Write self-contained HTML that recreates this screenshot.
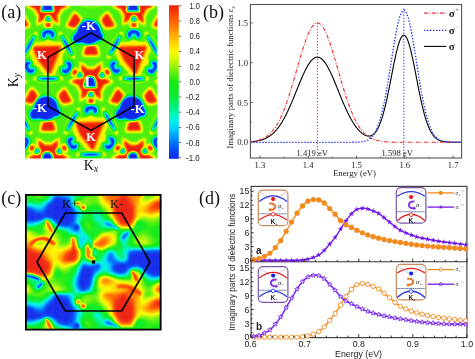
<!DOCTYPE html><html><head><meta charset="utf-8"><style>html,body{margin:0;padding:0;background:#fff;}svg{display:block;will-change:transform}.sr{font-family:"Liberation Serif",serif}.sb{font-family:"Liberation Serif",serif;font-size:8.6px;fill:#222}.ss{font-family:"Liberation Sans",sans-serif;font-size:8.8px;fill:#222}.ssi{font-family:"Liberation Sans",sans-serif;font-style:italic;fill:#222}</style></head><body>
<svg width="475" height="359" viewBox="0 0 475 359">
<defs>
<filter id="cmap" filterUnits="userSpaceOnUse" x="0" y="0" width="475" height="359" color-interpolation-filters="sRGB"><feGaussianBlur stdDeviation="1.3"/><feComponentTransfer><feFuncR type="table" tableValues="0.078 0.020 0.000 0.000 0.000 0.000 0.000 0.000 0.039 0.059 0.078 0.314 0.588 0.824 0.980 1.000 1.000 1.000 1.000 0.973 0.933"/><feFuncG type="table" tableValues="0.157 0.275 0.431 0.627 0.824 0.941 0.961 0.941 0.933 0.922 0.922 0.941 0.961 0.980 0.980 0.843 0.686 0.529 0.373 0.243 0.125"/><feFuncB type="table" tableValues="0.922 0.961 0.980 0.980 0.980 0.902 0.667 0.431 0.235 0.118 0.078 0.059 0.039 0.020 0.000 0.000 0.000 0.000 0.000 0.031 0.063"/><feFuncA type="identity"/></feComponentTransfer></filter>
<clipPath id="clipA"><rect x="25" y="5.8" width="132.4" height="152.6"/></clipPath>
<clipPath id="clipB"><rect x="250.4" y="4.5" width="211.2" height="153.5"/></clipPath>
<clipPath id="clipC"><rect x="25" y="194" width="136.5" height="136"/></clipPath>
<linearGradient id="cbar" x1="0" y1="0" x2="0" y2="1"><stop offset="0.000" stop-color="rgb(238,32,16)"/><stop offset="0.050" stop-color="rgb(248,62,8)"/><stop offset="0.100" stop-color="rgb(255,95,0)"/><stop offset="0.150" stop-color="rgb(255,135,0)"/><stop offset="0.200" stop-color="rgb(255,175,0)"/><stop offset="0.250" stop-color="rgb(255,215,0)"/><stop offset="0.300" stop-color="rgb(250,250,0)"/><stop offset="0.350" stop-color="rgb(210,250,5)"/><stop offset="0.400" stop-color="rgb(150,245,10)"/><stop offset="0.450" stop-color="rgb(80,240,15)"/><stop offset="0.500" stop-color="rgb(20,235,20)"/><stop offset="0.550" stop-color="rgb(15,235,30)"/><stop offset="0.600" stop-color="rgb(10,238,60)"/><stop offset="0.650" stop-color="rgb(0,240,110)"/><stop offset="0.700" stop-color="rgb(0,245,170)"/><stop offset="0.750" stop-color="rgb(0,240,230)"/><stop offset="0.800" stop-color="rgb(0,210,250)"/><stop offset="0.850" stop-color="rgb(0,160,250)"/><stop offset="0.900" stop-color="rgb(0,110,250)"/><stop offset="0.950" stop-color="rgb(5,70,245)"/><stop offset="1.000" stop-color="rgb(20,40,235)"/></linearGradient>
<filter id="blurC" filterUnits="userSpaceOnUse" x="0" y="170" width="200" height="189" color-interpolation-filters="sRGB"><feGaussianBlur stdDeviation="1.4"/></filter>
</defs>
<g clip-path="url(#clipA)"><g filter="url(#cmap)">
<rect x="0" y="-20" width="200" height="200" fill="rgb(139,139,139)"/>
<g transform="translate(0,-1.797) scale(1.0,1.022)">
<polygon points="-60.06,43.71 -18.01,42.87 -34.25,82.77 -52.52,61.35" fill="rgb(186,186,186)"/>
<polygon points="-60.06,192.21 -18.01,191.37 -34.25,231.27 -52.52,209.85" fill="rgb(186,186,186)"/>
<polygon points="-17.20,117.96 24.85,117.12 8.61,157.02 -9.66,135.60" fill="rgb(186,186,186)"/>
<polygon points="25.67,43.71 67.72,42.87 51.48,82.77 33.21,61.35" fill="rgb(186,186,186)"/>
<polygon points="25.67,192.21 67.72,191.37 51.48,231.27 33.21,209.85" fill="rgb(186,186,186)"/>
<polygon points="68.54,117.96 110.59,117.12 94.35,157.02 76.08,135.60" fill="rgb(186,186,186)"/>
<polygon points="111.41,43.71 153.46,42.87 137.22,82.77 118.95,61.35" fill="rgb(186,186,186)"/>
<polygon points="111.41,192.21 153.46,191.37 137.22,231.27 118.95,209.85" fill="rgb(186,186,186)"/>
<polygon points="154.28,117.96 196.33,117.12 180.09,157.02 161.82,135.60" fill="rgb(186,186,186)"/>
<polygon points="197.14,43.71 239.19,42.87 222.95,82.77 204.68,61.35" fill="rgb(186,186,186)"/>
<polygon points="197.14,192.21 239.19,191.37 222.95,231.27 204.68,209.85" fill="rgb(186,186,186)"/>
<polygon points="-37.60,35.95 -20.28,65.95 -54.93,65.95" fill="rgb(184,184,184)"/>
<polygon points="-37.60,184.45 -20.28,214.45 -54.93,214.45" fill="rgb(184,184,184)"/>
<polygon points="5.26,110.20 22.58,140.20 -12.06,140.20" fill="rgb(184,184,184)"/>
<polygon points="48.13,35.95 65.45,65.95 30.81,65.95" fill="rgb(184,184,184)"/>
<polygon points="48.13,184.45 65.45,214.45 30.81,214.45" fill="rgb(184,184,184)"/>
<polygon points="91.00,110.20 108.32,140.20 73.68,140.20" fill="rgb(184,184,184)"/>
<polygon points="133.87,35.95 151.19,65.95 116.55,65.95" fill="rgb(184,184,184)"/>
<polygon points="133.87,184.45 151.19,214.45 116.55,214.45" fill="rgb(184,184,184)"/>
<polygon points="176.74,110.20 194.06,140.20 159.42,140.20" fill="rgb(184,184,184)"/>
<polygon points="219.60,35.95 236.93,65.95 202.28,65.95" fill="rgb(184,184,184)"/>
<polygon points="219.60,184.45 236.93,214.45 202.28,214.45" fill="rgb(184,184,184)"/>
<path d="M-43.60,-16.75 Q-47.60,-16.75 -46.59,-20.62 L-45.12,-26.18 Q-44.10,-30.05 -40.10,-30.05 L-35.10,-30.05 Q-31.10,-30.05 -30.09,-26.18 L-28.62,-20.62 Q-27.60,-16.75 -31.60,-16.75 Z" fill="rgb(176,176,176)"/>
<path d="M-43.60,131.75 Q-47.60,131.75 -46.59,127.88 L-45.12,122.32 Q-44.10,118.45 -40.10,118.45 L-35.10,118.45 Q-31.10,118.45 -30.09,122.32 L-28.62,127.88 Q-27.60,131.75 -31.60,131.75 Z" fill="rgb(176,176,176)"/>
<path d="M-0.74,57.50 Q-4.74,57.50 -3.72,53.63 L-2.25,48.07 Q-1.24,44.20 2.76,44.20 L7.76,44.20 Q11.76,44.20 12.78,48.07 L14.25,53.63 Q15.26,57.50 11.26,57.50 Z" fill="rgb(176,176,176)"/>
<path d="M42.13,-16.75 Q38.13,-16.75 39.15,-20.62 L40.61,-26.18 Q41.63,-30.05 45.63,-30.05 L50.63,-30.05 Q54.63,-30.05 55.65,-26.18 L57.11,-20.62 Q58.13,-16.75 54.13,-16.75 Z" fill="rgb(176,176,176)"/>
<path d="M42.13,131.75 Q38.13,131.75 39.15,127.88 L40.61,122.32 Q41.63,118.45 45.63,118.45 L50.63,118.45 Q54.63,118.45 55.65,122.32 L57.11,127.88 Q58.13,131.75 54.13,131.75 Z" fill="rgb(176,176,176)"/>
<path d="M85.00,57.50 Q81.00,57.50 82.02,53.63 L83.48,48.07 Q84.50,44.20 88.50,44.20 L93.50,44.20 Q97.50,44.20 98.52,48.07 L99.98,53.63 Q101.00,57.50 97.00,57.50 Z" fill="rgb(176,176,176)"/>
<path d="M127.87,-16.75 Q123.87,-16.75 124.89,-20.62 L126.35,-26.18 Q127.37,-30.05 131.37,-30.05 L136.37,-30.05 Q140.37,-30.05 141.39,-26.18 L142.85,-20.62 Q143.87,-16.75 139.87,-16.75 Z" fill="rgb(176,176,176)"/>
<path d="M127.87,131.75 Q123.87,131.75 124.89,127.88 L126.35,122.32 Q127.37,118.45 131.37,118.45 L136.37,118.45 Q140.37,118.45 141.39,122.32 L142.85,127.88 Q143.87,131.75 139.87,131.75 Z" fill="rgb(176,176,176)"/>
<path d="M170.74,57.50 Q166.74,57.50 167.75,53.63 L169.22,48.07 Q170.24,44.20 174.24,44.20 L179.24,44.20 Q183.24,44.20 184.25,48.07 L185.72,53.63 Q186.74,57.50 182.74,57.50 Z" fill="rgb(176,176,176)"/>
<path d="M213.60,-16.75 Q209.60,-16.75 210.62,-20.62 L212.09,-26.18 Q213.10,-30.05 217.10,-30.05 L222.10,-30.05 Q226.10,-30.05 227.12,-26.18 L228.59,-20.62 Q229.60,-16.75 225.60,-16.75 Z" fill="rgb(176,176,176)"/>
<path d="M213.60,131.75 Q209.60,131.75 210.62,127.88 L212.09,122.32 Q213.10,118.45 217.10,118.45 L222.10,118.45 Q226.10,118.45 227.12,122.32 L228.59,127.88 Q229.60,131.75 225.60,131.75 Z" fill="rgb(176,176,176)"/>
<path d="M-13.65,14.35 Q-11.65,10.89 -8.81,13.71 L-4.72,17.76 Q-1.88,20.57 -3.88,24.03 L-6.38,28.37 Q-8.38,31.83 -12.24,30.78 L-17.79,29.26 Q-21.65,28.21 -19.65,24.75 Z" fill="rgb(176,176,176)"/>
<path d="M-13.65,162.85 Q-11.65,159.39 -8.81,162.21 L-4.72,166.26 Q-1.88,169.07 -3.88,172.53 L-6.38,176.87 Q-8.38,180.33 -12.24,179.28 L-17.79,177.76 Q-21.65,176.71 -19.65,173.25 Z" fill="rgb(176,176,176)"/>
<path d="M29.22,88.60 Q31.22,85.14 34.06,87.96 L38.15,92.01 Q40.99,94.82 38.99,98.28 L36.49,102.62 Q34.49,106.08 30.63,105.03 L25.08,103.51 Q21.22,102.46 23.22,99.00 Z" fill="rgb(176,176,176)"/>
<path d="M72.09,14.35 Q74.09,10.89 76.93,13.71 L81.02,17.76 Q83.86,20.57 81.86,24.03 L79.36,28.37 Q77.36,31.83 73.50,30.78 L67.95,29.26 Q64.09,28.21 66.09,24.75 Z" fill="rgb(176,176,176)"/>
<path d="M72.09,162.85 Q74.09,159.39 76.93,162.21 L81.02,166.26 Q83.86,169.07 81.86,172.53 L79.36,176.87 Q77.36,180.33 73.50,179.28 L67.95,177.76 Q64.09,176.71 66.09,173.25 Z" fill="rgb(176,176,176)"/>
<path d="M114.96,88.60 Q116.96,85.14 119.80,87.96 L123.88,92.01 Q126.73,94.82 124.73,98.28 L122.23,102.62 Q120.23,106.08 116.37,105.03 L110.82,103.51 Q106.96,102.46 108.96,99.00 Z" fill="rgb(176,176,176)"/>
<path d="M157.83,14.35 Q159.83,10.89 162.67,13.71 L166.75,17.76 Q169.59,20.57 167.59,24.03 L165.09,28.37 Q163.09,31.83 159.24,30.78 L153.69,29.26 Q149.83,28.21 151.83,24.75 Z" fill="rgb(176,176,176)"/>
<path d="M157.83,162.85 Q159.83,159.39 162.67,162.21 L166.75,166.26 Q169.59,169.07 167.59,172.53 L165.09,176.87 Q163.09,180.33 159.24,179.28 L153.69,177.76 Q149.83,176.71 151.83,173.25 Z" fill="rgb(176,176,176)"/>
<path d="M200.69,88.60 Q202.69,85.14 205.54,87.96 L209.62,92.01 Q212.46,94.82 210.46,98.28 L207.96,102.62 Q205.96,106.08 202.10,105.03 L196.55,103.51 Q192.69,102.46 194.69,99.00 Z" fill="rgb(176,176,176)"/>
<path d="M243.56,14.35 Q245.56,10.89 248.40,13.71 L252.49,17.76 Q255.33,20.57 253.33,24.03 L250.83,28.37 Q248.83,31.83 244.97,30.78 L239.42,29.26 Q235.56,28.21 237.56,24.75 Z" fill="rgb(176,176,176)"/>
<path d="M243.56,162.85 Q245.56,159.39 248.40,162.21 L252.49,166.26 Q255.33,169.07 253.33,172.53 L250.83,176.87 Q248.83,180.33 244.97,179.28 L239.42,177.76 Q235.56,176.71 237.56,173.25 Z" fill="rgb(176,176,176)"/>
<path d="M-55.56,24.75 Q-53.56,28.21 -57.42,29.26 L-62.97,30.78 Q-66.83,31.83 -68.83,28.37 L-71.33,24.03 Q-73.33,20.57 -70.49,17.76 L-66.40,13.71 Q-63.56,10.89 -61.56,14.35 Z" fill="rgb(176,176,176)"/>
<path d="M-55.56,173.25 Q-53.56,176.71 -57.42,177.76 L-62.97,179.28 Q-66.83,180.33 -68.83,176.87 L-71.33,172.53 Q-73.33,169.07 -70.49,166.26 L-66.40,162.21 Q-63.56,159.39 -61.56,162.85 Z" fill="rgb(176,176,176)"/>
<path d="M-12.69,99.00 Q-10.69,102.46 -14.55,103.51 L-20.10,105.03 Q-23.96,106.08 -25.96,102.62 L-28.46,98.28 Q-30.46,94.82 -27.62,92.01 L-23.54,87.96 Q-20.69,85.14 -18.69,88.60 Z" fill="rgb(176,176,176)"/>
<path d="M30.17,24.75 Q32.17,28.21 28.31,29.26 L22.76,30.78 Q18.91,31.83 16.91,28.37 L14.41,24.03 Q12.41,20.57 15.25,17.76 L19.33,13.71 Q22.17,10.89 24.17,14.35 Z" fill="rgb(176,176,176)"/>
<path d="M30.17,173.25 Q32.17,176.71 28.31,177.76 L22.76,179.28 Q18.91,180.33 16.91,176.87 L14.41,172.53 Q12.41,169.07 15.25,166.26 L19.33,162.21 Q22.17,159.39 24.17,162.85 Z" fill="rgb(176,176,176)"/>
<path d="M73.04,99.00 Q75.04,102.46 71.18,103.51 L65.63,105.03 Q61.77,106.08 59.77,102.62 L57.27,98.28 Q55.27,94.82 58.12,92.01 L62.20,87.96 Q65.04,85.14 67.04,88.60 Z" fill="rgb(176,176,176)"/>
<path d="M115.91,24.75 Q117.91,28.21 114.05,29.26 L108.50,30.78 Q104.64,31.83 102.64,28.37 L100.14,24.03 Q98.14,20.57 100.98,17.76 L105.07,13.71 Q107.91,10.89 109.91,14.35 Z" fill="rgb(176,176,176)"/>
<path d="M115.91,173.25 Q117.91,176.71 114.05,177.76 L108.50,179.28 Q104.64,180.33 102.64,176.87 L100.14,172.53 Q98.14,169.07 100.98,166.26 L105.07,162.21 Q107.91,159.39 109.91,162.85 Z" fill="rgb(176,176,176)"/>
<path d="M158.78,99.00 Q160.78,102.46 156.92,103.51 L151.37,105.03 Q147.51,106.08 145.51,102.62 L143.01,98.28 Q141.01,94.82 143.85,92.01 L147.94,87.96 Q150.78,85.14 152.78,88.60 Z" fill="rgb(176,176,176)"/>
<path d="M201.65,24.75 Q203.65,28.21 199.79,29.26 L194.24,30.78 Q190.38,31.83 188.38,28.37 L185.88,24.03 Q183.88,20.57 186.72,17.76 L190.81,13.71 Q193.65,10.89 195.65,14.35 Z" fill="rgb(176,176,176)"/>
<path d="M201.65,173.25 Q203.65,176.71 199.79,177.76 L194.24,179.28 Q190.38,180.33 188.38,176.87 L185.88,172.53 Q183.88,169.07 186.72,166.26 L190.81,162.21 Q193.65,159.39 195.65,162.85 Z" fill="rgb(176,176,176)"/>
<circle cx="-37.60" cy="7.75" r="15.50" fill="rgb(176,176,176)"/>
<circle cx="-37.60" cy="156.25" r="15.50" fill="rgb(176,176,176)"/>
<circle cx="5.26" cy="82.00" r="15.50" fill="rgb(176,176,176)"/>
<circle cx="48.13" cy="7.75" r="15.50" fill="rgb(176,176,176)"/>
<circle cx="48.13" cy="156.25" r="15.50" fill="rgb(176,176,176)"/>
<circle cx="91.00" cy="82.00" r="15.50" fill="rgb(176,176,176)"/>
<circle cx="133.87" cy="7.75" r="15.50" fill="rgb(176,176,176)"/>
<circle cx="133.87" cy="156.25" r="15.50" fill="rgb(176,176,176)"/>
<circle cx="176.74" cy="82.00" r="15.50" fill="rgb(176,176,176)"/>
<circle cx="219.60" cy="7.75" r="15.50" fill="rgb(176,176,176)"/>
<circle cx="219.60" cy="156.25" r="15.50" fill="rgb(176,176,176)"/>
<polygon points="-26.91,2.00 -19.94,4.02 -14.60,7.45 -19.94,10.88 -26.91,12.90" fill="rgb(176,176,176)"/>
<polygon points="-26.91,150.50 -19.94,152.52 -14.60,155.95 -19.94,159.38 -26.91,161.40" fill="rgb(176,176,176)"/>
<polygon points="15.96,76.25 22.93,78.27 28.26,81.70 22.93,85.13 15.96,87.15" fill="rgb(176,176,176)"/>
<polygon points="58.82,2.00 65.80,4.02 71.13,7.45 65.80,10.88 58.82,12.90" fill="rgb(176,176,176)"/>
<polygon points="58.82,150.50 65.80,152.52 71.13,155.95 65.80,159.38 58.82,161.40" fill="rgb(176,176,176)"/>
<polygon points="101.69,76.25 108.67,78.27 114.00,81.70 108.67,85.13 101.69,87.15" fill="rgb(176,176,176)"/>
<polygon points="144.56,2.00 151.54,4.02 156.87,7.45 151.54,10.88 144.56,12.90" fill="rgb(176,176,176)"/>
<polygon points="144.56,150.50 151.54,152.52 156.87,155.95 151.54,159.38 144.56,161.40" fill="rgb(176,176,176)"/>
<polygon points="187.43,76.25 194.41,78.27 199.74,81.70 194.41,85.13 187.43,87.15" fill="rgb(176,176,176)"/>
<polygon points="230.30,2.00 237.27,4.02 242.60,7.45 237.27,10.88 230.30,12.90" fill="rgb(176,176,176)"/>
<polygon points="230.30,150.50 237.27,152.52 242.60,155.95 237.27,159.38 230.30,161.40" fill="rgb(176,176,176)"/>
<polygon points="-27.54,13.99 -25.80,21.03 -26.10,27.37 -31.74,24.47 -36.98,19.43" fill="rgb(176,176,176)"/>
<polygon points="-27.54,162.49 -25.80,169.53 -26.10,175.87 -31.74,172.97 -36.98,167.93" fill="rgb(176,176,176)"/>
<polygon points="15.33,88.24 17.07,95.28 16.76,101.62 11.12,98.72 5.89,93.68" fill="rgb(176,176,176)"/>
<polygon points="58.20,13.99 59.94,21.03 59.63,27.37 53.99,24.47 48.76,19.43" fill="rgb(176,176,176)"/>
<polygon points="58.20,162.49 59.94,169.53 59.63,175.87 53.99,172.97 48.76,167.93" fill="rgb(176,176,176)"/>
<polygon points="101.06,88.24 102.81,95.28 102.50,101.62 96.86,98.72 91.63,93.68" fill="rgb(176,176,176)"/>
<polygon points="143.93,13.99 145.68,21.03 145.37,27.37 139.73,24.47 134.50,19.43" fill="rgb(176,176,176)"/>
<polygon points="143.93,162.49 145.68,169.53 145.37,175.87 139.73,172.97 134.50,167.93" fill="rgb(176,176,176)"/>
<polygon points="186.80,88.24 188.55,95.28 188.24,101.62 182.60,98.72 177.36,93.68" fill="rgb(176,176,176)"/>
<polygon points="229.67,13.99 231.41,21.03 231.10,27.37 225.46,24.47 220.23,19.43" fill="rgb(176,176,176)"/>
<polygon points="229.67,162.49 231.41,169.53 231.10,175.87 225.46,172.97 220.23,167.93" fill="rgb(176,176,176)"/>
<polygon points="-38.23,19.43 -43.46,24.47 -49.10,27.37 -49.41,21.03 -47.67,13.99" fill="rgb(176,176,176)"/>
<polygon points="-38.23,167.93 -43.46,172.97 -49.10,175.87 -49.41,169.53 -47.67,162.49" fill="rgb(176,176,176)"/>
<polygon points="4.64,93.68 -0.60,98.72 -6.24,101.62 -6.55,95.28 -4.80,88.24" fill="rgb(176,176,176)"/>
<polygon points="47.50,19.43 42.27,24.47 36.63,27.37 36.32,21.03 38.07,13.99" fill="rgb(176,176,176)"/>
<polygon points="47.50,167.93 42.27,172.97 36.63,175.87 36.32,169.53 38.07,162.49" fill="rgb(176,176,176)"/>
<polygon points="90.37,93.68 85.14,98.72 79.50,101.62 79.19,95.28 80.94,88.24" fill="rgb(176,176,176)"/>
<polygon points="133.24,19.43 128.01,24.47 122.37,27.37 122.06,21.03 123.80,13.99" fill="rgb(176,176,176)"/>
<polygon points="133.24,167.93 128.01,172.97 122.37,175.87 122.06,169.53 123.80,162.49" fill="rgb(176,176,176)"/>
<polygon points="176.11,93.68 170.88,98.72 165.24,101.62 164.93,95.28 166.67,88.24" fill="rgb(176,176,176)"/>
<polygon points="218.98,19.43 213.74,24.47 208.10,27.37 207.80,21.03 209.54,13.99" fill="rgb(176,176,176)"/>
<polygon points="218.98,167.93 213.74,172.97 208.10,175.87 207.80,169.53 209.54,162.49" fill="rgb(176,176,176)"/>
<polygon points="-48.30,12.90 -55.27,10.88 -60.60,7.45 -55.27,4.02 -48.30,2.00" fill="rgb(176,176,176)"/>
<polygon points="-48.30,161.40 -55.27,159.38 -60.60,155.95 -55.27,152.52 -48.30,150.50" fill="rgb(176,176,176)"/>
<polygon points="-5.43,87.15 -12.41,85.13 -17.74,81.70 -12.41,78.27 -5.43,76.25" fill="rgb(176,176,176)"/>
<polygon points="37.44,12.90 30.46,10.88 25.13,7.45 30.46,4.02 37.44,2.00" fill="rgb(176,176,176)"/>
<polygon points="37.44,161.40 30.46,159.38 25.13,155.95 30.46,152.52 37.44,150.50" fill="rgb(176,176,176)"/>
<polygon points="80.31,87.15 73.33,85.13 68.00,81.70 73.33,78.27 80.31,76.25" fill="rgb(176,176,176)"/>
<polygon points="123.18,12.90 116.20,10.88 110.87,7.45 116.20,4.02 123.18,2.00" fill="rgb(176,176,176)"/>
<polygon points="123.18,161.40 116.20,159.38 110.87,155.95 116.20,152.52 123.18,150.50" fill="rgb(176,176,176)"/>
<polygon points="166.04,87.15 159.07,85.13 153.74,81.70 159.07,78.27 166.04,76.25" fill="rgb(176,176,176)"/>
<polygon points="208.91,12.90 201.94,10.88 196.60,7.45 201.94,4.02 208.91,2.00" fill="rgb(176,176,176)"/>
<polygon points="208.91,161.40 201.94,159.38 196.60,155.95 201.94,152.52 208.91,150.50" fill="rgb(176,176,176)"/>
<polygon points="-47.67,0.91 -49.41,-6.13 -49.10,-12.47 -43.46,-9.57 -38.23,-4.53" fill="rgb(176,176,176)"/>
<polygon points="-47.67,149.41 -49.41,142.37 -49.10,136.03 -43.46,138.93 -38.23,143.97" fill="rgb(176,176,176)"/>
<polygon points="-4.80,75.16 -6.55,68.12 -6.24,61.78 -0.60,64.68 4.64,69.72" fill="rgb(176,176,176)"/>
<polygon points="38.07,0.91 36.32,-6.13 36.63,-12.47 42.27,-9.57 47.50,-4.53" fill="rgb(176,176,176)"/>
<polygon points="38.07,149.41 36.32,142.37 36.63,136.03 42.27,138.93 47.50,143.97" fill="rgb(176,176,176)"/>
<polygon points="80.94,75.16 79.19,68.12 79.50,61.78 85.14,64.68 90.37,69.72" fill="rgb(176,176,176)"/>
<polygon points="123.80,0.91 122.06,-6.13 122.37,-12.47 128.01,-9.57 133.24,-4.53" fill="rgb(176,176,176)"/>
<polygon points="123.80,149.41 122.06,142.37 122.37,136.03 128.01,138.93 133.24,143.97" fill="rgb(176,176,176)"/>
<polygon points="166.67,75.16 164.93,68.12 165.24,61.78 170.88,64.68 176.11,69.72" fill="rgb(176,176,176)"/>
<polygon points="209.54,0.91 207.80,-6.13 208.10,-12.47 213.74,-9.57 218.98,-4.53" fill="rgb(176,176,176)"/>
<polygon points="209.54,149.41 207.80,142.37 208.10,136.03 213.74,138.93 218.98,143.97" fill="rgb(176,176,176)"/>
<polygon points="-36.98,-4.53 -31.74,-9.57 -26.10,-12.47 -25.80,-6.13 -27.54,0.91" fill="rgb(176,176,176)"/>
<polygon points="-36.98,143.97 -31.74,138.93 -26.10,136.03 -25.80,142.37 -27.54,149.41" fill="rgb(176,176,176)"/>
<polygon points="5.89,69.72 11.12,64.68 16.76,61.78 17.07,68.12 15.33,75.16" fill="rgb(176,176,176)"/>
<polygon points="48.76,-4.53 53.99,-9.57 59.63,-12.47 59.94,-6.13 58.20,0.91" fill="rgb(176,176,176)"/>
<polygon points="48.76,143.97 53.99,138.93 59.63,136.03 59.94,142.37 58.20,149.41" fill="rgb(176,176,176)"/>
<polygon points="91.63,69.72 96.86,64.68 102.50,61.78 102.81,68.12 101.06,75.16" fill="rgb(176,176,176)"/>
<polygon points="134.50,-4.53 139.73,-9.57 145.37,-12.47 145.68,-6.13 143.93,0.91" fill="rgb(176,176,176)"/>
<polygon points="134.50,143.97 139.73,138.93 145.37,136.03 145.68,142.37 143.93,149.41" fill="rgb(176,176,176)"/>
<polygon points="177.36,69.72 182.60,64.68 188.24,61.78 188.55,68.12 186.80,75.16" fill="rgb(176,176,176)"/>
<polygon points="220.23,-4.53 225.46,-9.57 231.10,-12.47 231.41,-6.13 229.67,0.91" fill="rgb(176,176,176)"/>
<polygon points="220.23,143.97 225.46,138.93 231.10,136.03 231.41,142.37 229.67,149.41" fill="rgb(176,176,176)"/>
<circle cx="-37.60" cy="26.05" r="4.60" fill="rgb(176,176,176)"/>
<circle cx="-37.60" cy="174.55" r="4.60" fill="rgb(176,176,176)"/>
<circle cx="5.26" cy="100.30" r="4.60" fill="rgb(176,176,176)"/>
<circle cx="48.13" cy="26.05" r="4.60" fill="rgb(176,176,176)"/>
<circle cx="48.13" cy="174.55" r="4.60" fill="rgb(176,176,176)"/>
<circle cx="91.00" cy="100.30" r="4.60" fill="rgb(176,176,176)"/>
<circle cx="133.87" cy="26.05" r="4.60" fill="rgb(176,176,176)"/>
<circle cx="133.87" cy="174.55" r="4.60" fill="rgb(176,176,176)"/>
<circle cx="176.74" cy="100.30" r="4.60" fill="rgb(176,176,176)"/>
<circle cx="219.60" cy="26.05" r="4.60" fill="rgb(176,176,176)"/>
<circle cx="219.60" cy="174.55" r="4.60" fill="rgb(176,176,176)"/>
<circle cx="-53.71" cy="-1.85" r="4.60" fill="rgb(176,176,176)"/>
<circle cx="-53.71" cy="146.65" r="4.60" fill="rgb(176,176,176)"/>
<circle cx="-10.84" cy="72.40" r="4.60" fill="rgb(176,176,176)"/>
<circle cx="32.02" cy="-1.85" r="4.60" fill="rgb(176,176,176)"/>
<circle cx="32.02" cy="146.65" r="4.60" fill="rgb(176,176,176)"/>
<circle cx="74.89" cy="72.40" r="4.60" fill="rgb(176,176,176)"/>
<circle cx="117.76" cy="-1.85" r="4.60" fill="rgb(176,176,176)"/>
<circle cx="117.76" cy="146.65" r="4.60" fill="rgb(176,176,176)"/>
<circle cx="160.63" cy="72.40" r="4.60" fill="rgb(176,176,176)"/>
<circle cx="203.50" cy="-1.85" r="4.60" fill="rgb(176,176,176)"/>
<circle cx="203.50" cy="146.65" r="4.60" fill="rgb(176,176,176)"/>
<circle cx="-21.50" cy="-1.85" r="4.60" fill="rgb(176,176,176)"/>
<circle cx="-21.50" cy="146.65" r="4.60" fill="rgb(176,176,176)"/>
<circle cx="21.37" cy="72.40" r="4.60" fill="rgb(176,176,176)"/>
<circle cx="64.24" cy="-1.85" r="4.60" fill="rgb(176,176,176)"/>
<circle cx="64.24" cy="146.65" r="4.60" fill="rgb(176,176,176)"/>
<circle cx="107.11" cy="72.40" r="4.60" fill="rgb(176,176,176)"/>
<circle cx="149.98" cy="-1.85" r="4.60" fill="rgb(176,176,176)"/>
<circle cx="149.98" cy="146.65" r="4.60" fill="rgb(176,176,176)"/>
<circle cx="192.84" cy="72.40" r="4.60" fill="rgb(176,176,176)"/>
<circle cx="235.71" cy="-1.85" r="4.60" fill="rgb(176,176,176)"/>
<circle cx="235.71" cy="146.65" r="4.60" fill="rgb(176,176,176)"/>
<ellipse cx="-80.50" cy="4.45" rx="13.00" ry="4.20" transform="rotate(180.0 -80.50 4.45)" fill="rgb(166,166,166)"/>
<ellipse cx="-80.50" cy="152.95" rx="13.00" ry="4.20" transform="rotate(180.0 -80.50 152.95)" fill="rgb(166,166,166)"/>
<ellipse cx="-37.64" cy="78.70" rx="13.00" ry="4.20" transform="rotate(180.0 -37.64 78.70)" fill="rgb(166,166,166)"/>
<ellipse cx="5.23" cy="4.45" rx="13.00" ry="4.20" transform="rotate(180.0 5.23 4.45)" fill="rgb(166,166,166)"/>
<ellipse cx="5.23" cy="152.95" rx="13.00" ry="4.20" transform="rotate(180.0 5.23 152.95)" fill="rgb(166,166,166)"/>
<ellipse cx="48.10" cy="78.70" rx="13.00" ry="4.20" transform="rotate(180.0 48.10 78.70)" fill="rgb(166,166,166)"/>
<ellipse cx="90.97" cy="4.45" rx="13.00" ry="4.20" transform="rotate(180.0 90.97 4.45)" fill="rgb(166,166,166)"/>
<ellipse cx="90.97" cy="152.95" rx="13.00" ry="4.20" transform="rotate(180.0 90.97 152.95)" fill="rgb(166,166,166)"/>
<ellipse cx="133.84" cy="78.70" rx="13.00" ry="4.20" transform="rotate(180.0 133.84 78.70)" fill="rgb(166,166,166)"/>
<ellipse cx="176.70" cy="4.45" rx="13.00" ry="4.20" transform="rotate(180.0 176.70 4.45)" fill="rgb(166,166,166)"/>
<ellipse cx="176.70" cy="152.95" rx="13.00" ry="4.20" transform="rotate(180.0 176.70 152.95)" fill="rgb(166,166,166)"/>
<ellipse cx="-61.65" cy="-28.20" rx="13.00" ry="4.20" transform="rotate(240.0 -61.65 -28.20)" fill="rgb(166,166,166)"/>
<ellipse cx="-61.65" cy="120.30" rx="13.00" ry="4.20" transform="rotate(240.0 -61.65 120.30)" fill="rgb(166,166,166)"/>
<ellipse cx="-18.78" cy="46.05" rx="13.00" ry="4.20" transform="rotate(240.0 -18.78 46.05)" fill="rgb(166,166,166)"/>
<ellipse cx="24.08" cy="-28.20" rx="13.00" ry="4.20" transform="rotate(240.0 24.08 -28.20)" fill="rgb(166,166,166)"/>
<ellipse cx="24.08" cy="120.30" rx="13.00" ry="4.20" transform="rotate(240.0 24.08 120.30)" fill="rgb(166,166,166)"/>
<ellipse cx="66.95" cy="46.05" rx="13.00" ry="4.20" transform="rotate(240.0 66.95 46.05)" fill="rgb(166,166,166)"/>
<ellipse cx="109.82" cy="-28.20" rx="13.00" ry="4.20" transform="rotate(240.0 109.82 -28.20)" fill="rgb(166,166,166)"/>
<ellipse cx="109.82" cy="120.30" rx="13.00" ry="4.20" transform="rotate(240.0 109.82 120.30)" fill="rgb(166,166,166)"/>
<ellipse cx="152.69" cy="46.05" rx="13.00" ry="4.20" transform="rotate(240.0 152.69 46.05)" fill="rgb(166,166,166)"/>
<ellipse cx="195.56" cy="-28.20" rx="13.00" ry="4.20" transform="rotate(240.0 195.56 -28.20)" fill="rgb(166,166,166)"/>
<ellipse cx="195.56" cy="120.30" rx="13.00" ry="4.20" transform="rotate(240.0 195.56 120.30)" fill="rgb(166,166,166)"/>
<ellipse cx="-13.56" cy="-28.20" rx="13.00" ry="4.20" transform="rotate(300.0 -13.56 -28.20)" fill="rgb(166,166,166)"/>
<ellipse cx="-13.56" cy="120.30" rx="13.00" ry="4.20" transform="rotate(300.0 -13.56 120.30)" fill="rgb(166,166,166)"/>
<ellipse cx="29.31" cy="46.05" rx="13.00" ry="4.20" transform="rotate(300.0 29.31 46.05)" fill="rgb(166,166,166)"/>
<ellipse cx="72.18" cy="-28.20" rx="13.00" ry="4.20" transform="rotate(300.0 72.18 -28.20)" fill="rgb(166,166,166)"/>
<ellipse cx="72.18" cy="120.30" rx="13.00" ry="4.20" transform="rotate(300.0 72.18 120.30)" fill="rgb(166,166,166)"/>
<ellipse cx="115.05" cy="46.05" rx="13.00" ry="4.20" transform="rotate(300.0 115.05 46.05)" fill="rgb(166,166,166)"/>
<ellipse cx="157.92" cy="-28.20" rx="13.00" ry="4.20" transform="rotate(300.0 157.92 -28.20)" fill="rgb(166,166,166)"/>
<ellipse cx="157.92" cy="120.30" rx="13.00" ry="4.20" transform="rotate(300.0 157.92 120.30)" fill="rgb(166,166,166)"/>
<ellipse cx="200.78" cy="46.05" rx="13.00" ry="4.20" transform="rotate(300.0 200.78 46.05)" fill="rgb(166,166,166)"/>
<ellipse cx="243.65" cy="-28.20" rx="13.00" ry="4.20" transform="rotate(300.0 243.65 -28.20)" fill="rgb(166,166,166)"/>
<ellipse cx="243.65" cy="120.30" rx="13.00" ry="4.20" transform="rotate(300.0 243.65 120.30)" fill="rgb(166,166,166)"/>
<path d="M-52.83,48.74 Q-53.40,47.35 -51.91,47.32 L-25.90,46.78 Q-24.40,46.75 -24.95,48.15 L-35.06,73.85 Q-35.60,75.25 -36.56,74.09 L-47.25,61.11 Q-48.20,59.95 -48.78,58.56 Z" fill="rgb(255,255,255)"/>
<path d="M-52.83,197.24 Q-53.40,195.85 -51.91,195.82 L-25.90,195.28 Q-24.40,195.25 -24.95,196.65 L-35.06,222.35 Q-35.60,223.75 -36.56,222.59 L-47.25,209.61 Q-48.20,208.45 -48.78,207.06 Z" fill="rgb(255,255,255)"/>
<path d="M-9.96,122.99 Q-10.54,121.60 -9.04,121.57 L16.96,121.03 Q18.46,121.00 17.91,122.40 L7.81,148.10 Q7.26,149.50 6.31,148.34 L-4.38,135.36 Q-5.34,134.20 -5.91,132.81 Z" fill="rgb(255,255,255)"/>
<path d="M32.90,48.74 Q32.33,47.35 33.83,47.32 L59.83,46.78 Q61.33,46.75 60.78,48.15 L50.68,73.85 Q50.13,75.25 49.18,74.09 L38.49,61.11 Q37.53,59.95 36.96,58.56 Z" fill="rgb(255,255,255)"/>
<path d="M32.90,197.24 Q32.33,195.85 33.83,195.82 L59.83,195.28 Q61.33,195.25 60.78,196.65 L50.68,222.35 Q50.13,223.75 49.18,222.59 L38.49,209.61 Q37.53,208.45 36.96,207.06 Z" fill="rgb(255,255,255)"/>
<path d="M75.77,122.99 Q75.20,121.60 76.70,121.57 L102.70,121.03 Q104.20,121.00 103.65,122.40 L93.55,148.10 Q93.00,149.50 92.05,148.34 L81.35,135.36 Q80.40,134.20 79.83,132.81 Z" fill="rgb(255,255,255)"/>
<path d="M118.64,48.74 Q118.07,47.35 119.57,47.32 L145.57,46.78 Q147.07,46.75 146.52,48.15 L136.42,73.85 Q135.87,75.25 134.91,74.09 L124.22,61.11 Q123.27,59.95 122.70,58.56 Z" fill="rgb(255,255,255)"/>
<path d="M118.64,197.24 Q118.07,195.85 119.57,195.82 L145.57,195.28 Q147.07,195.25 146.52,196.65 L136.42,222.35 Q135.87,223.75 134.91,222.59 L124.22,209.61 Q123.27,208.45 122.70,207.06 Z" fill="rgb(255,255,255)"/>
<path d="M161.51,122.99 Q160.94,121.60 162.44,121.57 L188.44,121.03 Q189.94,121.00 189.39,122.40 L179.29,148.10 Q178.74,149.50 177.78,148.34 L167.09,135.36 Q166.14,134.20 165.56,132.81 Z" fill="rgb(255,255,255)"/>
<path d="M204.38,48.74 Q203.80,47.35 205.30,47.32 L231.31,46.78 Q232.80,46.75 232.26,48.15 L222.15,73.85 Q221.60,75.25 220.65,74.09 L209.96,61.11 Q209.00,59.95 208.43,58.56 Z" fill="rgb(255,255,255)"/>
<path d="M204.38,197.24 Q203.80,195.85 205.30,195.82 L231.31,195.28 Q232.80,195.25 232.26,196.65 L222.15,222.35 Q221.60,223.75 220.65,222.59 L209.96,209.61 Q209.00,208.45 208.43,207.06 Z" fill="rgb(255,255,255)"/>
<circle cx="-39.80" cy="-40.85" r="12.30" fill="rgb(0,0,0)"/>
<circle cx="-39.80" cy="107.65" r="12.30" fill="rgb(0,0,0)"/>
<circle cx="3.06" cy="33.40" r="12.30" fill="rgb(0,0,0)"/>
<circle cx="45.93" cy="-40.85" r="12.30" fill="rgb(0,0,0)"/>
<circle cx="45.93" cy="107.65" r="12.30" fill="rgb(0,0,0)"/>
<circle cx="88.80" cy="33.40" r="12.30" fill="rgb(0,0,0)"/>
<circle cx="131.67" cy="-40.85" r="12.30" fill="rgb(0,0,0)"/>
<circle cx="131.67" cy="107.65" r="12.30" fill="rgb(0,0,0)"/>
<circle cx="174.54" cy="33.40" r="12.30" fill="rgb(0,0,0)"/>
<circle cx="217.40" cy="-40.85" r="12.30" fill="rgb(0,0,0)"/>
<circle cx="217.40" cy="107.65" r="12.30" fill="rgb(0,0,0)"/>
<ellipse cx="-49.43" cy="-35.80" rx="7.50" ry="5.80" transform="rotate(150.0 -49.43 -35.80)" fill="rgb(0,0,0)"/>
<ellipse cx="-49.43" cy="112.70" rx="7.50" ry="5.80" transform="rotate(150.0 -49.43 112.70)" fill="rgb(0,0,0)"/>
<ellipse cx="-6.56" cy="38.45" rx="7.50" ry="5.80" transform="rotate(150.0 -6.56 38.45)" fill="rgb(0,0,0)"/>
<ellipse cx="36.31" cy="-35.80" rx="7.50" ry="5.80" transform="rotate(150.0 36.31 -35.80)" fill="rgb(0,0,0)"/>
<ellipse cx="36.31" cy="112.70" rx="7.50" ry="5.80" transform="rotate(150.0 36.31 112.70)" fill="rgb(0,0,0)"/>
<ellipse cx="79.17" cy="38.45" rx="7.50" ry="5.80" transform="rotate(150.0 79.17 38.45)" fill="rgb(0,0,0)"/>
<ellipse cx="122.04" cy="-35.80" rx="7.50" ry="5.80" transform="rotate(150.0 122.04 -35.80)" fill="rgb(0,0,0)"/>
<ellipse cx="122.04" cy="112.70" rx="7.50" ry="5.80" transform="rotate(150.0 122.04 112.70)" fill="rgb(0,0,0)"/>
<ellipse cx="164.91" cy="38.45" rx="7.50" ry="5.80" transform="rotate(150.0 164.91 38.45)" fill="rgb(0,0,0)"/>
<ellipse cx="207.78" cy="-35.80" rx="7.50" ry="5.80" transform="rotate(150.0 207.78 -35.80)" fill="rgb(0,0,0)"/>
<ellipse cx="207.78" cy="112.70" rx="7.50" ry="5.80" transform="rotate(150.0 207.78 112.70)" fill="rgb(0,0,0)"/>
<ellipse cx="-30.38" cy="-37.30" rx="5.50" ry="4.80" transform="rotate(30.0 -30.38 -37.30)" fill="rgb(0,0,0)"/>
<ellipse cx="-30.38" cy="111.20" rx="5.50" ry="4.80" transform="rotate(30.0 -30.38 111.20)" fill="rgb(0,0,0)"/>
<ellipse cx="12.49" cy="36.95" rx="5.50" ry="4.80" transform="rotate(30.0 12.49 36.95)" fill="rgb(0,0,0)"/>
<ellipse cx="55.36" cy="-37.30" rx="5.50" ry="4.80" transform="rotate(30.0 55.36 -37.30)" fill="rgb(0,0,0)"/>
<ellipse cx="55.36" cy="111.20" rx="5.50" ry="4.80" transform="rotate(30.0 55.36 111.20)" fill="rgb(0,0,0)"/>
<ellipse cx="98.23" cy="36.95" rx="5.50" ry="4.80" transform="rotate(30.0 98.23 36.95)" fill="rgb(0,0,0)"/>
<ellipse cx="141.10" cy="-37.30" rx="5.50" ry="4.80" transform="rotate(30.0 141.10 -37.30)" fill="rgb(0,0,0)"/>
<ellipse cx="141.10" cy="111.20" rx="5.50" ry="4.80" transform="rotate(30.0 141.10 111.20)" fill="rgb(0,0,0)"/>
<ellipse cx="183.96" cy="36.95" rx="5.50" ry="4.80" transform="rotate(30.0 183.96 36.95)" fill="rgb(0,0,0)"/>
<ellipse cx="226.83" cy="-37.30" rx="5.50" ry="4.80" transform="rotate(30.0 226.83 -37.30)" fill="rgb(0,0,0)"/>
<ellipse cx="226.83" cy="111.20" rx="5.50" ry="4.80" transform="rotate(30.0 226.83 111.20)" fill="rgb(0,0,0)"/>
<path d="M-42.20,-18.75 Q-45.40,-18.75 -44.33,-21.77 L-43.17,-25.03 Q-42.10,-28.05 -38.90,-28.05 L-36.30,-28.05 Q-33.10,-28.05 -32.03,-25.03 L-30.87,-21.77 Q-29.80,-18.75 -33.00,-18.75 Z" fill="rgb(255,255,255)"/>
<path d="M-42.20,129.75 Q-45.40,129.75 -44.33,126.73 L-43.17,123.47 Q-42.10,120.45 -38.90,120.45 L-36.30,120.45 Q-33.10,120.45 -32.03,123.47 L-30.87,126.73 Q-29.80,129.75 -33.00,129.75 Z" fill="rgb(255,255,255)"/>
<path d="M0.66,55.50 Q-2.54,55.50 -1.47,52.48 L-0.31,49.22 Q0.76,46.20 3.96,46.20 L6.56,46.20 Q9.76,46.20 10.83,49.22 L11.99,52.48 Q13.06,55.50 9.86,55.50 Z" fill="rgb(255,255,255)"/>
<path d="M43.53,-18.75 Q40.33,-18.75 41.40,-21.77 L42.56,-25.03 Q43.63,-28.05 46.83,-28.05 L49.43,-28.05 Q52.63,-28.05 53.70,-25.03 L54.86,-21.77 Q55.93,-18.75 52.73,-18.75 Z" fill="rgb(255,255,255)"/>
<path d="M43.53,129.75 Q40.33,129.75 41.40,126.73 L42.56,123.47 Q43.63,120.45 46.83,120.45 L49.43,120.45 Q52.63,120.45 53.70,123.47 L54.86,126.73 Q55.93,129.75 52.73,129.75 Z" fill="rgb(255,255,255)"/>
<path d="M86.40,55.50 Q83.20,55.50 84.27,52.48 L85.43,49.22 Q86.50,46.20 89.70,46.20 L92.30,46.20 Q95.50,46.20 96.57,49.22 L97.73,52.48 Q98.80,55.50 95.60,55.50 Z" fill="rgb(255,255,255)"/>
<path d="M129.27,-18.75 Q126.07,-18.75 127.14,-21.77 L128.30,-25.03 Q129.37,-28.05 132.57,-28.05 L135.17,-28.05 Q138.37,-28.05 139.44,-25.03 L140.60,-21.77 Q141.67,-18.75 138.47,-18.75 Z" fill="rgb(255,255,255)"/>
<path d="M129.27,129.75 Q126.07,129.75 127.14,126.73 L128.30,123.47 Q129.37,120.45 132.57,120.45 L135.17,120.45 Q138.37,120.45 139.44,123.47 L140.60,126.73 Q141.67,129.75 138.47,129.75 Z" fill="rgb(255,255,255)"/>
<path d="M172.14,55.50 Q168.94,55.50 170.01,52.48 L171.17,49.22 Q172.24,46.20 175.44,46.20 L178.04,46.20 Q181.24,46.20 182.31,49.22 L183.47,52.48 Q184.54,55.50 181.34,55.50 Z" fill="rgb(255,255,255)"/>
<path d="M215.00,-18.75 Q211.80,-18.75 212.87,-21.77 L214.03,-25.03 Q215.10,-28.05 218.30,-28.05 L220.90,-28.05 Q224.10,-28.05 225.17,-25.03 L226.33,-21.77 Q227.40,-18.75 224.20,-18.75 Z" fill="rgb(255,255,255)"/>
<path d="M215.00,129.75 Q211.80,129.75 212.87,126.73 L214.03,123.47 Q215.10,120.45 218.30,120.45 L220.90,120.45 Q224.10,120.45 225.17,123.47 L226.33,126.73 Q227.40,129.75 224.20,129.75 Z" fill="rgb(255,255,255)"/>
<path d="M-12.61,16.57 Q-11.01,13.80 -8.94,16.23 L-6.69,18.87 Q-4.61,21.30 -6.21,24.07 L-7.51,26.33 Q-9.11,29.10 -12.26,28.52 L-15.67,27.89 Q-18.81,27.30 -17.21,24.53 Z" fill="rgb(255,255,255)"/>
<path d="M-12.61,165.07 Q-11.01,162.30 -8.94,164.73 L-6.69,167.37 Q-4.61,169.80 -6.21,172.57 L-7.51,174.83 Q-9.11,177.60 -12.26,177.02 L-15.67,176.39 Q-18.81,175.80 -17.21,173.03 Z" fill="rgb(255,255,255)"/>
<path d="M30.25,90.82 Q31.85,88.05 33.93,90.48 L36.18,93.12 Q38.26,95.55 36.66,98.32 L35.36,100.58 Q33.76,103.35 30.61,102.77 L27.20,102.14 Q24.05,101.55 25.65,98.78 Z" fill="rgb(255,255,255)"/>
<path d="M73.12,16.57 Q74.72,13.80 76.80,16.23 L79.05,18.87 Q81.13,21.30 79.53,24.07 L78.23,26.33 Q76.63,29.10 73.48,28.52 L70.07,27.89 Q66.92,27.30 68.52,24.53 Z" fill="rgb(255,255,255)"/>
<path d="M73.12,165.07 Q74.72,162.30 76.80,164.73 L79.05,167.37 Q81.13,169.80 79.53,172.57 L78.23,174.83 Q76.63,177.60 73.48,177.02 L70.07,176.39 Q66.92,175.80 68.52,173.03 Z" fill="rgb(255,255,255)"/>
<path d="M115.99,90.82 Q117.59,88.05 119.67,90.48 L121.92,93.12 Q123.99,95.55 122.39,98.32 L121.09,100.58 Q119.49,103.35 116.35,102.77 L112.94,102.14 Q109.79,101.55 111.39,98.78 Z" fill="rgb(255,255,255)"/>
<path d="M158.86,16.57 Q160.46,13.80 162.53,16.23 L164.79,18.87 Q166.86,21.30 165.26,24.07 L163.96,26.33 Q162.36,29.10 159.22,28.52 L155.80,27.89 Q152.66,27.30 154.26,24.53 Z" fill="rgb(255,255,255)"/>
<path d="M158.86,165.07 Q160.46,162.30 162.53,164.73 L164.79,167.37 Q166.86,169.80 165.26,172.57 L163.96,174.83 Q162.36,177.60 159.22,177.02 L155.80,176.39 Q152.66,175.80 154.26,173.03 Z" fill="rgb(255,255,255)"/>
<path d="M201.73,90.82 Q203.33,88.05 205.40,90.48 L207.65,93.12 Q209.73,95.55 208.13,98.32 L206.83,100.58 Q205.23,103.35 202.08,102.77 L198.67,102.14 Q195.53,101.55 197.13,98.78 Z" fill="rgb(255,255,255)"/>
<path d="M244.59,16.57 Q246.19,13.80 248.27,16.23 L250.52,18.87 Q252.60,21.30 251.00,24.07 L249.70,26.33 Q248.10,29.10 244.95,28.52 L241.54,27.89 Q238.39,27.30 239.99,24.53 Z" fill="rgb(255,255,255)"/>
<path d="M244.59,165.07 Q246.19,162.30 248.27,164.73 L250.52,167.37 Q252.60,169.80 251.00,172.57 L249.70,174.83 Q248.10,177.60 244.95,177.02 L241.54,176.39 Q238.39,175.80 239.99,173.03 Z" fill="rgb(255,255,255)"/>
<path d="M-57.99,24.53 Q-56.39,27.30 -59.54,27.89 L-62.95,28.52 Q-66.10,29.10 -67.70,26.33 L-69.00,24.07 Q-70.60,21.30 -68.52,18.87 L-66.27,16.23 Q-64.19,13.80 -62.59,16.57 Z" fill="rgb(255,255,255)"/>
<path d="M-57.99,173.03 Q-56.39,175.80 -59.54,176.39 L-62.95,177.02 Q-66.10,177.60 -67.70,174.83 L-69.00,172.57 Q-70.60,169.80 -68.52,167.37 L-66.27,164.73 Q-64.19,162.30 -62.59,165.07 Z" fill="rgb(255,255,255)"/>
<path d="M-15.13,98.78 Q-13.53,101.55 -16.67,102.14 L-20.08,102.77 Q-23.23,103.35 -24.83,100.58 L-26.13,98.32 Q-27.73,95.55 -25.65,93.12 L-23.40,90.48 Q-21.33,88.05 -19.73,90.82 Z" fill="rgb(255,255,255)"/>
<path d="M27.74,24.53 Q29.34,27.30 26.20,27.89 L22.78,28.52 Q19.64,29.10 18.04,26.33 L16.74,24.07 Q15.14,21.30 17.21,18.87 L19.47,16.23 Q21.54,13.80 23.14,16.57 Z" fill="rgb(255,255,255)"/>
<path d="M27.74,173.03 Q29.34,175.80 26.20,176.39 L22.78,177.02 Q19.64,177.60 18.04,174.83 L16.74,172.57 Q15.14,169.80 17.21,167.37 L19.47,164.73 Q21.54,162.30 23.14,165.07 Z" fill="rgb(255,255,255)"/>
<path d="M70.61,98.78 Q72.21,101.55 69.06,102.14 L65.65,102.77 Q62.51,103.35 60.91,100.58 L59.61,98.32 Q58.01,95.55 60.08,93.12 L62.33,90.48 Q64.41,88.05 66.01,90.82 Z" fill="rgb(255,255,255)"/>
<path d="M113.48,24.53 Q115.08,27.30 111.93,27.89 L108.52,28.52 Q105.37,29.10 103.77,26.33 L102.47,24.07 Q100.87,21.30 102.95,18.87 L105.20,16.23 Q107.28,13.80 108.88,16.57 Z" fill="rgb(255,255,255)"/>
<path d="M113.48,173.03 Q115.08,175.80 111.93,176.39 L108.52,177.02 Q105.37,177.60 103.77,174.83 L102.47,172.57 Q100.87,169.80 102.95,167.37 L105.20,164.73 Q107.28,162.30 108.88,165.07 Z" fill="rgb(255,255,255)"/>
<path d="M156.35,98.78 Q157.95,101.55 154.80,102.14 L151.39,102.77 Q148.24,103.35 146.64,100.58 L145.34,98.32 Q143.74,95.55 145.82,93.12 L148.07,90.48 Q150.15,88.05 151.75,90.82 Z" fill="rgb(255,255,255)"/>
<path d="M199.21,24.53 Q200.81,27.30 197.67,27.89 L194.26,28.52 Q191.11,29.10 189.51,26.33 L188.21,24.07 Q186.61,21.30 188.69,18.87 L190.94,16.23 Q193.01,13.80 194.61,16.57 Z" fill="rgb(255,255,255)"/>
<path d="M199.21,173.03 Q200.81,175.80 197.67,176.39 L194.26,177.02 Q191.11,177.60 189.51,174.83 L188.21,172.57 Q186.61,169.80 188.69,167.37 L190.94,164.73 Q193.01,162.30 194.61,165.07 Z" fill="rgb(255,255,255)"/>
<ellipse cx="-80.50" cy="4.45" rx="11.50" ry="1.90" transform="rotate(180.0 -80.50 4.45)" fill="rgb(0,0,0)"/>
<ellipse cx="-80.50" cy="152.95" rx="11.50" ry="1.90" transform="rotate(180.0 -80.50 152.95)" fill="rgb(0,0,0)"/>
<ellipse cx="-37.64" cy="78.70" rx="11.50" ry="1.90" transform="rotate(180.0 -37.64 78.70)" fill="rgb(0,0,0)"/>
<ellipse cx="5.23" cy="4.45" rx="11.50" ry="1.90" transform="rotate(180.0 5.23 4.45)" fill="rgb(0,0,0)"/>
<ellipse cx="5.23" cy="152.95" rx="11.50" ry="1.90" transform="rotate(180.0 5.23 152.95)" fill="rgb(0,0,0)"/>
<ellipse cx="48.10" cy="78.70" rx="11.50" ry="1.90" transform="rotate(180.0 48.10 78.70)" fill="rgb(0,0,0)"/>
<ellipse cx="90.97" cy="4.45" rx="11.50" ry="1.90" transform="rotate(180.0 90.97 4.45)" fill="rgb(0,0,0)"/>
<ellipse cx="90.97" cy="152.95" rx="11.50" ry="1.90" transform="rotate(180.0 90.97 152.95)" fill="rgb(0,0,0)"/>
<ellipse cx="133.84" cy="78.70" rx="11.50" ry="1.90" transform="rotate(180.0 133.84 78.70)" fill="rgb(0,0,0)"/>
<ellipse cx="176.70" cy="4.45" rx="11.50" ry="1.90" transform="rotate(180.0 176.70 4.45)" fill="rgb(0,0,0)"/>
<ellipse cx="176.70" cy="152.95" rx="11.50" ry="1.90" transform="rotate(180.0 176.70 152.95)" fill="rgb(0,0,0)"/>
<circle cx="-67.50" cy="4.45" r="1.30" fill="rgb(217,217,217)"/>
<circle cx="-67.50" cy="152.95" r="1.30" fill="rgb(217,217,217)"/>
<circle cx="-24.64" cy="78.70" r="1.30" fill="rgb(217,217,217)"/>
<circle cx="18.23" cy="4.45" r="1.30" fill="rgb(217,217,217)"/>
<circle cx="18.23" cy="152.95" r="1.30" fill="rgb(217,217,217)"/>
<circle cx="61.10" cy="78.70" r="1.30" fill="rgb(217,217,217)"/>
<circle cx="103.97" cy="4.45" r="1.30" fill="rgb(217,217,217)"/>
<circle cx="103.97" cy="152.95" r="1.30" fill="rgb(217,217,217)"/>
<circle cx="146.84" cy="78.70" r="1.30" fill="rgb(217,217,217)"/>
<circle cx="189.70" cy="4.45" r="1.30" fill="rgb(217,217,217)"/>
<circle cx="189.70" cy="152.95" r="1.30" fill="rgb(217,217,217)"/>
<circle cx="-93.50" cy="4.45" r="1.30" fill="rgb(217,217,217)"/>
<circle cx="-93.50" cy="152.95" r="1.30" fill="rgb(217,217,217)"/>
<circle cx="-50.64" cy="78.70" r="1.30" fill="rgb(217,217,217)"/>
<circle cx="-7.77" cy="4.45" r="1.30" fill="rgb(217,217,217)"/>
<circle cx="-7.77" cy="152.95" r="1.30" fill="rgb(217,217,217)"/>
<circle cx="35.10" cy="78.70" r="1.30" fill="rgb(217,217,217)"/>
<circle cx="77.97" cy="4.45" r="1.30" fill="rgb(217,217,217)"/>
<circle cx="77.97" cy="152.95" r="1.30" fill="rgb(217,217,217)"/>
<circle cx="120.84" cy="78.70" r="1.30" fill="rgb(217,217,217)"/>
<circle cx="163.70" cy="4.45" r="1.30" fill="rgb(217,217,217)"/>
<circle cx="163.70" cy="152.95" r="1.30" fill="rgb(217,217,217)"/>
<ellipse cx="-61.65" cy="-28.20" rx="11.50" ry="1.90" transform="rotate(240.0 -61.65 -28.20)" fill="rgb(0,0,0)"/>
<ellipse cx="-61.65" cy="120.30" rx="11.50" ry="1.90" transform="rotate(240.0 -61.65 120.30)" fill="rgb(0,0,0)"/>
<ellipse cx="-18.78" cy="46.05" rx="11.50" ry="1.90" transform="rotate(240.0 -18.78 46.05)" fill="rgb(0,0,0)"/>
<ellipse cx="24.08" cy="-28.20" rx="11.50" ry="1.90" transform="rotate(240.0 24.08 -28.20)" fill="rgb(0,0,0)"/>
<ellipse cx="24.08" cy="120.30" rx="11.50" ry="1.90" transform="rotate(240.0 24.08 120.30)" fill="rgb(0,0,0)"/>
<ellipse cx="66.95" cy="46.05" rx="11.50" ry="1.90" transform="rotate(240.0 66.95 46.05)" fill="rgb(0,0,0)"/>
<ellipse cx="109.82" cy="-28.20" rx="11.50" ry="1.90" transform="rotate(240.0 109.82 -28.20)" fill="rgb(0,0,0)"/>
<ellipse cx="109.82" cy="120.30" rx="11.50" ry="1.90" transform="rotate(240.0 109.82 120.30)" fill="rgb(0,0,0)"/>
<ellipse cx="152.69" cy="46.05" rx="11.50" ry="1.90" transform="rotate(240.0 152.69 46.05)" fill="rgb(0,0,0)"/>
<ellipse cx="195.56" cy="-28.20" rx="11.50" ry="1.90" transform="rotate(240.0 195.56 -28.20)" fill="rgb(0,0,0)"/>
<ellipse cx="195.56" cy="120.30" rx="11.50" ry="1.90" transform="rotate(240.0 195.56 120.30)" fill="rgb(0,0,0)"/>
<circle cx="-55.15" cy="-16.94" r="1.30" fill="rgb(217,217,217)"/>
<circle cx="-55.15" cy="131.56" r="1.30" fill="rgb(217,217,217)"/>
<circle cx="-12.28" cy="57.31" r="1.30" fill="rgb(217,217,217)"/>
<circle cx="30.58" cy="-16.94" r="1.30" fill="rgb(217,217,217)"/>
<circle cx="30.58" cy="131.56" r="1.30" fill="rgb(217,217,217)"/>
<circle cx="73.45" cy="57.31" r="1.30" fill="rgb(217,217,217)"/>
<circle cx="116.32" cy="-16.94" r="1.30" fill="rgb(217,217,217)"/>
<circle cx="116.32" cy="131.56" r="1.30" fill="rgb(217,217,217)"/>
<circle cx="159.19" cy="57.31" r="1.30" fill="rgb(217,217,217)"/>
<circle cx="202.06" cy="-16.94" r="1.30" fill="rgb(217,217,217)"/>
<circle cx="202.06" cy="131.56" r="1.30" fill="rgb(217,217,217)"/>
<circle cx="-68.15" cy="-39.46" r="1.30" fill="rgb(217,217,217)"/>
<circle cx="-68.15" cy="109.04" r="1.30" fill="rgb(217,217,217)"/>
<circle cx="-25.28" cy="34.79" r="1.30" fill="rgb(217,217,217)"/>
<circle cx="17.58" cy="-39.46" r="1.30" fill="rgb(217,217,217)"/>
<circle cx="17.58" cy="109.04" r="1.30" fill="rgb(217,217,217)"/>
<circle cx="60.45" cy="34.79" r="1.30" fill="rgb(217,217,217)"/>
<circle cx="103.32" cy="-39.46" r="1.30" fill="rgb(217,217,217)"/>
<circle cx="103.32" cy="109.04" r="1.30" fill="rgb(217,217,217)"/>
<circle cx="146.19" cy="34.79" r="1.30" fill="rgb(217,217,217)"/>
<circle cx="189.06" cy="-39.46" r="1.30" fill="rgb(217,217,217)"/>
<circle cx="189.06" cy="109.04" r="1.30" fill="rgb(217,217,217)"/>
<ellipse cx="-13.56" cy="-28.20" rx="11.50" ry="1.90" transform="rotate(300.0 -13.56 -28.20)" fill="rgb(0,0,0)"/>
<ellipse cx="-13.56" cy="120.30" rx="11.50" ry="1.90" transform="rotate(300.0 -13.56 120.30)" fill="rgb(0,0,0)"/>
<ellipse cx="29.31" cy="46.05" rx="11.50" ry="1.90" transform="rotate(300.0 29.31 46.05)" fill="rgb(0,0,0)"/>
<ellipse cx="72.18" cy="-28.20" rx="11.50" ry="1.90" transform="rotate(300.0 72.18 -28.20)" fill="rgb(0,0,0)"/>
<ellipse cx="72.18" cy="120.30" rx="11.50" ry="1.90" transform="rotate(300.0 72.18 120.30)" fill="rgb(0,0,0)"/>
<ellipse cx="115.05" cy="46.05" rx="11.50" ry="1.90" transform="rotate(300.0 115.05 46.05)" fill="rgb(0,0,0)"/>
<ellipse cx="157.92" cy="-28.20" rx="11.50" ry="1.90" transform="rotate(300.0 157.92 -28.20)" fill="rgb(0,0,0)"/>
<ellipse cx="157.92" cy="120.30" rx="11.50" ry="1.90" transform="rotate(300.0 157.92 120.30)" fill="rgb(0,0,0)"/>
<ellipse cx="200.78" cy="46.05" rx="11.50" ry="1.90" transform="rotate(300.0 200.78 46.05)" fill="rgb(0,0,0)"/>
<ellipse cx="243.65" cy="-28.20" rx="11.50" ry="1.90" transform="rotate(300.0 243.65 -28.20)" fill="rgb(0,0,0)"/>
<ellipse cx="243.65" cy="120.30" rx="11.50" ry="1.90" transform="rotate(300.0 243.65 120.30)" fill="rgb(0,0,0)"/>
<circle cx="-20.06" cy="-16.94" r="1.30" fill="rgb(217,217,217)"/>
<circle cx="-20.06" cy="131.56" r="1.30" fill="rgb(217,217,217)"/>
<circle cx="22.81" cy="57.31" r="1.30" fill="rgb(217,217,217)"/>
<circle cx="65.68" cy="-16.94" r="1.30" fill="rgb(217,217,217)"/>
<circle cx="65.68" cy="131.56" r="1.30" fill="rgb(217,217,217)"/>
<circle cx="108.55" cy="57.31" r="1.30" fill="rgb(217,217,217)"/>
<circle cx="151.42" cy="-16.94" r="1.30" fill="rgb(217,217,217)"/>
<circle cx="151.42" cy="131.56" r="1.30" fill="rgb(217,217,217)"/>
<circle cx="194.28" cy="57.31" r="1.30" fill="rgb(217,217,217)"/>
<circle cx="237.15" cy="-16.94" r="1.30" fill="rgb(217,217,217)"/>
<circle cx="237.15" cy="131.56" r="1.30" fill="rgb(217,217,217)"/>
<circle cx="-7.06" cy="-39.46" r="1.30" fill="rgb(217,217,217)"/>
<circle cx="-7.06" cy="109.04" r="1.30" fill="rgb(217,217,217)"/>
<circle cx="35.81" cy="34.79" r="1.30" fill="rgb(217,217,217)"/>
<circle cx="78.68" cy="-39.46" r="1.30" fill="rgb(217,217,217)"/>
<circle cx="78.68" cy="109.04" r="1.30" fill="rgb(217,217,217)"/>
<circle cx="121.55" cy="34.79" r="1.30" fill="rgb(217,217,217)"/>
<circle cx="164.42" cy="-39.46" r="1.30" fill="rgb(217,217,217)"/>
<circle cx="164.42" cy="109.04" r="1.30" fill="rgb(217,217,217)"/>
<circle cx="207.28" cy="34.79" r="1.30" fill="rgb(217,217,217)"/>
<circle cx="250.15" cy="-39.46" r="1.30" fill="rgb(217,217,217)"/>
<circle cx="250.15" cy="109.04" r="1.30" fill="rgb(217,217,217)"/>
<ellipse cx="-37.60" cy="35.45" rx="7.00" ry="5.20" transform="rotate(180.0 -37.60 35.45)" fill="rgb(0,0,0)"/>
<ellipse cx="-37.60" cy="183.95" rx="7.00" ry="5.20" transform="rotate(180.0 -37.60 183.95)" fill="rgb(0,0,0)"/>
<ellipse cx="5.26" cy="109.70" rx="7.00" ry="5.20" transform="rotate(180.0 5.26 109.70)" fill="rgb(0,0,0)"/>
<ellipse cx="48.13" cy="35.45" rx="7.00" ry="5.20" transform="rotate(180.0 48.13 35.45)" fill="rgb(0,0,0)"/>
<ellipse cx="48.13" cy="183.95" rx="7.00" ry="5.20" transform="rotate(180.0 48.13 183.95)" fill="rgb(0,0,0)"/>
<ellipse cx="91.00" cy="109.70" rx="7.00" ry="5.20" transform="rotate(180.0 91.00 109.70)" fill="rgb(0,0,0)"/>
<ellipse cx="133.87" cy="35.45" rx="7.00" ry="5.20" transform="rotate(180.0 133.87 35.45)" fill="rgb(0,0,0)"/>
<ellipse cx="133.87" cy="183.95" rx="7.00" ry="5.20" transform="rotate(180.0 133.87 183.95)" fill="rgb(0,0,0)"/>
<ellipse cx="176.74" cy="109.70" rx="7.00" ry="5.20" transform="rotate(180.0 176.74 109.70)" fill="rgb(0,0,0)"/>
<ellipse cx="219.60" cy="35.45" rx="7.00" ry="5.20" transform="rotate(180.0 219.60 35.45)" fill="rgb(0,0,0)"/>
<ellipse cx="219.60" cy="183.95" rx="7.00" ry="5.20" transform="rotate(180.0 219.60 183.95)" fill="rgb(0,0,0)"/>
<ellipse cx="-37.60" cy="36.85" rx="3.10" ry="2.50" transform="rotate(180.0 -37.60 36.85)" fill="rgb(70,70,70)"/>
<ellipse cx="-37.60" cy="185.35" rx="3.10" ry="2.50" transform="rotate(180.0 -37.60 185.35)" fill="rgb(70,70,70)"/>
<ellipse cx="5.26" cy="111.10" rx="3.10" ry="2.50" transform="rotate(180.0 5.26 111.10)" fill="rgb(70,70,70)"/>
<ellipse cx="48.13" cy="36.85" rx="3.10" ry="2.50" transform="rotate(180.0 48.13 36.85)" fill="rgb(70,70,70)"/>
<ellipse cx="48.13" cy="185.35" rx="3.10" ry="2.50" transform="rotate(180.0 48.13 185.35)" fill="rgb(70,70,70)"/>
<ellipse cx="91.00" cy="111.10" rx="3.10" ry="2.50" transform="rotate(180.0 91.00 111.10)" fill="rgb(70,70,70)"/>
<ellipse cx="133.87" cy="36.85" rx="3.10" ry="2.50" transform="rotate(180.0 133.87 36.85)" fill="rgb(70,70,70)"/>
<ellipse cx="133.87" cy="185.35" rx="3.10" ry="2.50" transform="rotate(180.0 133.87 185.35)" fill="rgb(70,70,70)"/>
<ellipse cx="176.74" cy="111.10" rx="3.10" ry="2.50" transform="rotate(180.0 176.74 111.10)" fill="rgb(70,70,70)"/>
<ellipse cx="219.60" cy="36.85" rx="3.10" ry="2.50" transform="rotate(180.0 219.60 36.85)" fill="rgb(70,70,70)"/>
<ellipse cx="219.60" cy="185.35" rx="3.10" ry="2.50" transform="rotate(180.0 219.60 185.35)" fill="rgb(70,70,70)"/>
<ellipse cx="-37.60" cy="39.45" rx="2.50" ry="2.10" transform="rotate(180.0 -37.60 39.45)" fill="rgb(140,140,140)"/>
<ellipse cx="-37.60" cy="187.95" rx="2.50" ry="2.10" transform="rotate(180.0 -37.60 187.95)" fill="rgb(140,140,140)"/>
<ellipse cx="5.26" cy="113.70" rx="2.50" ry="2.10" transform="rotate(180.0 5.26 113.70)" fill="rgb(140,140,140)"/>
<ellipse cx="48.13" cy="39.45" rx="2.50" ry="2.10" transform="rotate(180.0 48.13 39.45)" fill="rgb(140,140,140)"/>
<ellipse cx="48.13" cy="187.95" rx="2.50" ry="2.10" transform="rotate(180.0 48.13 187.95)" fill="rgb(140,140,140)"/>
<ellipse cx="91.00" cy="113.70" rx="2.50" ry="2.10" transform="rotate(180.0 91.00 113.70)" fill="rgb(140,140,140)"/>
<ellipse cx="133.87" cy="39.45" rx="2.50" ry="2.10" transform="rotate(180.0 133.87 39.45)" fill="rgb(140,140,140)"/>
<ellipse cx="133.87" cy="187.95" rx="2.50" ry="2.10" transform="rotate(180.0 133.87 187.95)" fill="rgb(140,140,140)"/>
<ellipse cx="176.74" cy="113.70" rx="2.50" ry="2.10" transform="rotate(180.0 176.74 113.70)" fill="rgb(140,140,140)"/>
<ellipse cx="219.60" cy="39.45" rx="2.50" ry="2.10" transform="rotate(180.0 219.60 39.45)" fill="rgb(140,140,140)"/>
<ellipse cx="219.60" cy="187.95" rx="2.50" ry="2.10" transform="rotate(180.0 219.60 187.95)" fill="rgb(140,140,140)"/>
<ellipse cx="-61.85" cy="-6.55" rx="7.00" ry="5.20" transform="rotate(300.0 -61.85 -6.55)" fill="rgb(0,0,0)"/>
<ellipse cx="-61.85" cy="141.95" rx="7.00" ry="5.20" transform="rotate(300.0 -61.85 141.95)" fill="rgb(0,0,0)"/>
<ellipse cx="-18.99" cy="67.70" rx="7.00" ry="5.20" transform="rotate(300.0 -18.99 67.70)" fill="rgb(0,0,0)"/>
<ellipse cx="23.88" cy="-6.55" rx="7.00" ry="5.20" transform="rotate(300.0 23.88 -6.55)" fill="rgb(0,0,0)"/>
<ellipse cx="23.88" cy="141.95" rx="7.00" ry="5.20" transform="rotate(300.0 23.88 141.95)" fill="rgb(0,0,0)"/>
<ellipse cx="66.75" cy="67.70" rx="7.00" ry="5.20" transform="rotate(300.0 66.75 67.70)" fill="rgb(0,0,0)"/>
<ellipse cx="109.62" cy="-6.55" rx="7.00" ry="5.20" transform="rotate(300.0 109.62 -6.55)" fill="rgb(0,0,0)"/>
<ellipse cx="109.62" cy="141.95" rx="7.00" ry="5.20" transform="rotate(300.0 109.62 141.95)" fill="rgb(0,0,0)"/>
<ellipse cx="152.49" cy="67.70" rx="7.00" ry="5.20" transform="rotate(300.0 152.49 67.70)" fill="rgb(0,0,0)"/>
<ellipse cx="195.36" cy="-6.55" rx="7.00" ry="5.20" transform="rotate(300.0 195.36 -6.55)" fill="rgb(0,0,0)"/>
<ellipse cx="195.36" cy="141.95" rx="7.00" ry="5.20" transform="rotate(300.0 195.36 141.95)" fill="rgb(0,0,0)"/>
<ellipse cx="-63.07" cy="-7.25" rx="3.10" ry="2.50" transform="rotate(300.0 -63.07 -7.25)" fill="rgb(70,70,70)"/>
<ellipse cx="-63.07" cy="141.25" rx="3.10" ry="2.50" transform="rotate(300.0 -63.07 141.25)" fill="rgb(70,70,70)"/>
<ellipse cx="-20.20" cy="67.00" rx="3.10" ry="2.50" transform="rotate(300.0 -20.20 67.00)" fill="rgb(70,70,70)"/>
<ellipse cx="22.67" cy="-7.25" rx="3.10" ry="2.50" transform="rotate(300.0 22.67 -7.25)" fill="rgb(70,70,70)"/>
<ellipse cx="22.67" cy="141.25" rx="3.10" ry="2.50" transform="rotate(300.0 22.67 141.25)" fill="rgb(70,70,70)"/>
<ellipse cx="65.54" cy="67.00" rx="3.10" ry="2.50" transform="rotate(300.0 65.54 67.00)" fill="rgb(70,70,70)"/>
<ellipse cx="108.41" cy="-7.25" rx="3.10" ry="2.50" transform="rotate(300.0 108.41 -7.25)" fill="rgb(70,70,70)"/>
<ellipse cx="108.41" cy="141.25" rx="3.10" ry="2.50" transform="rotate(300.0 108.41 141.25)" fill="rgb(70,70,70)"/>
<ellipse cx="151.28" cy="67.00" rx="3.10" ry="2.50" transform="rotate(300.0 151.28 67.00)" fill="rgb(70,70,70)"/>
<ellipse cx="194.14" cy="-7.25" rx="3.10" ry="2.50" transform="rotate(300.0 194.14 -7.25)" fill="rgb(70,70,70)"/>
<ellipse cx="194.14" cy="141.25" rx="3.10" ry="2.50" transform="rotate(300.0 194.14 141.25)" fill="rgb(70,70,70)"/>
<ellipse cx="-65.32" cy="-8.55" rx="2.50" ry="2.10" transform="rotate(300.0 -65.32 -8.55)" fill="rgb(140,140,140)"/>
<ellipse cx="-65.32" cy="139.95" rx="2.50" ry="2.10" transform="rotate(300.0 -65.32 139.95)" fill="rgb(140,140,140)"/>
<ellipse cx="-22.45" cy="65.70" rx="2.50" ry="2.10" transform="rotate(300.0 -22.45 65.70)" fill="rgb(140,140,140)"/>
<ellipse cx="20.42" cy="-8.55" rx="2.50" ry="2.10" transform="rotate(300.0 20.42 -8.55)" fill="rgb(140,140,140)"/>
<ellipse cx="20.42" cy="139.95" rx="2.50" ry="2.10" transform="rotate(300.0 20.42 139.95)" fill="rgb(140,140,140)"/>
<ellipse cx="63.29" cy="65.70" rx="2.50" ry="2.10" transform="rotate(300.0 63.29 65.70)" fill="rgb(140,140,140)"/>
<ellipse cx="106.16" cy="-8.55" rx="2.50" ry="2.10" transform="rotate(300.0 106.16 -8.55)" fill="rgb(140,140,140)"/>
<ellipse cx="106.16" cy="139.95" rx="2.50" ry="2.10" transform="rotate(300.0 106.16 139.95)" fill="rgb(140,140,140)"/>
<ellipse cx="149.02" cy="65.70" rx="2.50" ry="2.10" transform="rotate(300.0 149.02 65.70)" fill="rgb(140,140,140)"/>
<ellipse cx="191.89" cy="-8.55" rx="2.50" ry="2.10" transform="rotate(300.0 191.89 -8.55)" fill="rgb(140,140,140)"/>
<ellipse cx="191.89" cy="139.95" rx="2.50" ry="2.10" transform="rotate(300.0 191.89 139.95)" fill="rgb(140,140,140)"/>
<ellipse cx="-13.36" cy="-6.55" rx="7.00" ry="5.20" transform="rotate(420.0 -13.36 -6.55)" fill="rgb(0,0,0)"/>
<ellipse cx="-13.36" cy="141.95" rx="7.00" ry="5.20" transform="rotate(420.0 -13.36 141.95)" fill="rgb(0,0,0)"/>
<ellipse cx="29.51" cy="67.70" rx="7.00" ry="5.20" transform="rotate(420.0 29.51 67.70)" fill="rgb(0,0,0)"/>
<ellipse cx="72.38" cy="-6.55" rx="7.00" ry="5.20" transform="rotate(420.0 72.38 -6.55)" fill="rgb(0,0,0)"/>
<ellipse cx="72.38" cy="141.95" rx="7.00" ry="5.20" transform="rotate(420.0 72.38 141.95)" fill="rgb(0,0,0)"/>
<ellipse cx="115.25" cy="67.70" rx="7.00" ry="5.20" transform="rotate(420.0 115.25 67.70)" fill="rgb(0,0,0)"/>
<ellipse cx="158.12" cy="-6.55" rx="7.00" ry="5.20" transform="rotate(420.0 158.12 -6.55)" fill="rgb(0,0,0)"/>
<ellipse cx="158.12" cy="141.95" rx="7.00" ry="5.20" transform="rotate(420.0 158.12 141.95)" fill="rgb(0,0,0)"/>
<ellipse cx="200.99" cy="67.70" rx="7.00" ry="5.20" transform="rotate(420.0 200.99 67.70)" fill="rgb(0,0,0)"/>
<ellipse cx="243.85" cy="-6.55" rx="7.00" ry="5.20" transform="rotate(420.0 243.85 -6.55)" fill="rgb(0,0,0)"/>
<ellipse cx="243.85" cy="141.95" rx="7.00" ry="5.20" transform="rotate(420.0 243.85 141.95)" fill="rgb(0,0,0)"/>
<ellipse cx="-12.14" cy="-7.25" rx="3.10" ry="2.50" transform="rotate(420.0 -12.14 -7.25)" fill="rgb(70,70,70)"/>
<ellipse cx="-12.14" cy="141.25" rx="3.10" ry="2.50" transform="rotate(420.0 -12.14 141.25)" fill="rgb(70,70,70)"/>
<ellipse cx="30.72" cy="67.00" rx="3.10" ry="2.50" transform="rotate(420.0 30.72 67.00)" fill="rgb(70,70,70)"/>
<ellipse cx="73.59" cy="-7.25" rx="3.10" ry="2.50" transform="rotate(420.0 73.59 -7.25)" fill="rgb(70,70,70)"/>
<ellipse cx="73.59" cy="141.25" rx="3.10" ry="2.50" transform="rotate(420.0 73.59 141.25)" fill="rgb(70,70,70)"/>
<ellipse cx="116.46" cy="67.00" rx="3.10" ry="2.50" transform="rotate(420.0 116.46 67.00)" fill="rgb(70,70,70)"/>
<ellipse cx="159.33" cy="-7.25" rx="3.10" ry="2.50" transform="rotate(420.0 159.33 -7.25)" fill="rgb(70,70,70)"/>
<ellipse cx="159.33" cy="141.25" rx="3.10" ry="2.50" transform="rotate(420.0 159.33 141.25)" fill="rgb(70,70,70)"/>
<ellipse cx="202.20" cy="67.00" rx="3.10" ry="2.50" transform="rotate(420.0 202.20 67.00)" fill="rgb(70,70,70)"/>
<ellipse cx="245.07" cy="-7.25" rx="3.10" ry="2.50" transform="rotate(420.0 245.07 -7.25)" fill="rgb(70,70,70)"/>
<ellipse cx="245.07" cy="141.25" rx="3.10" ry="2.50" transform="rotate(420.0 245.07 141.25)" fill="rgb(70,70,70)"/>
<ellipse cx="-9.89" cy="-8.55" rx="2.50" ry="2.10" transform="rotate(420.0 -9.89 -8.55)" fill="rgb(140,140,140)"/>
<ellipse cx="-9.89" cy="139.95" rx="2.50" ry="2.10" transform="rotate(420.0 -9.89 139.95)" fill="rgb(140,140,140)"/>
<ellipse cx="32.98" cy="65.70" rx="2.50" ry="2.10" transform="rotate(420.0 32.98 65.70)" fill="rgb(140,140,140)"/>
<ellipse cx="75.84" cy="-8.55" rx="2.50" ry="2.10" transform="rotate(420.0 75.84 -8.55)" fill="rgb(140,140,140)"/>
<ellipse cx="75.84" cy="139.95" rx="2.50" ry="2.10" transform="rotate(420.0 75.84 139.95)" fill="rgb(140,140,140)"/>
<ellipse cx="118.71" cy="65.70" rx="2.50" ry="2.10" transform="rotate(420.0 118.71 65.70)" fill="rgb(140,140,140)"/>
<ellipse cx="161.58" cy="-8.55" rx="2.50" ry="2.10" transform="rotate(420.0 161.58 -8.55)" fill="rgb(140,140,140)"/>
<ellipse cx="161.58" cy="139.95" rx="2.50" ry="2.10" transform="rotate(420.0 161.58 139.95)" fill="rgb(140,140,140)"/>
<ellipse cx="204.45" cy="65.70" rx="2.50" ry="2.10" transform="rotate(420.0 204.45 65.70)" fill="rgb(140,140,140)"/>
<ellipse cx="247.32" cy="-8.55" rx="2.50" ry="2.10" transform="rotate(420.0 247.32 -8.55)" fill="rgb(140,140,140)"/>
<ellipse cx="247.32" cy="139.95" rx="2.50" ry="2.10" transform="rotate(420.0 247.32 139.95)" fill="rgb(140,140,140)"/>
<circle cx="-37.60" cy="7.75" r="12.60" fill="rgb(255,255,255)"/>
<circle cx="-37.60" cy="156.25" r="12.60" fill="rgb(255,255,255)"/>
<circle cx="5.26" cy="82.00" r="12.60" fill="rgb(255,255,255)"/>
<circle cx="48.13" cy="7.75" r="12.60" fill="rgb(255,255,255)"/>
<circle cx="48.13" cy="156.25" r="12.60" fill="rgb(255,255,255)"/>
<circle cx="91.00" cy="82.00" r="12.60" fill="rgb(255,255,255)"/>
<circle cx="133.87" cy="7.75" r="12.60" fill="rgb(255,255,255)"/>
<circle cx="133.87" cy="156.25" r="12.60" fill="rgb(255,255,255)"/>
<circle cx="176.74" cy="82.00" r="12.60" fill="rgb(255,255,255)"/>
<circle cx="219.60" cy="7.75" r="12.60" fill="rgb(255,255,255)"/>
<circle cx="219.60" cy="156.25" r="12.60" fill="rgb(255,255,255)"/>
<polygon points="-27.94,3.35 -22.79,5.10 -17.60,7.45 -22.79,9.80 -27.94,11.55" fill="rgb(255,255,255)"/>
<polygon points="-27.94,151.85 -22.79,153.60 -17.60,155.95 -22.79,158.30 -27.94,160.05" fill="rgb(255,255,255)"/>
<polygon points="14.93,77.60 20.08,79.35 25.26,81.70 20.08,84.05 14.93,85.80" fill="rgb(255,255,255)"/>
<polygon points="57.80,3.35 62.95,5.10 68.13,7.45 62.95,9.80 57.80,11.55" fill="rgb(255,255,255)"/>
<polygon points="57.80,151.85 62.95,153.60 68.13,155.95 62.95,158.30 57.80,160.05" fill="rgb(255,255,255)"/>
<polygon points="100.67,77.60 105.82,79.35 111.00,81.70 105.82,84.05 100.67,85.80" fill="rgb(255,255,255)"/>
<polygon points="143.53,3.35 148.68,5.10 153.87,7.45 148.68,9.80 143.53,11.55" fill="rgb(255,255,255)"/>
<polygon points="143.53,151.85 148.68,153.60 153.87,155.95 148.68,158.30 143.53,160.05" fill="rgb(255,255,255)"/>
<polygon points="186.40,77.60 191.55,79.35 196.74,81.70 191.55,84.05 186.40,85.80" fill="rgb(255,255,255)"/>
<polygon points="229.27,3.35 234.42,5.10 239.60,7.45 234.42,9.80 229.27,11.55" fill="rgb(255,255,255)"/>
<polygon points="229.27,151.85 234.42,153.60 239.60,155.95 234.42,158.30 229.27,160.05" fill="rgb(255,255,255)"/>
<polygon points="-29.22,13.77 -28.16,19.11 -27.60,24.77 -32.23,21.45 -36.33,17.87" fill="rgb(255,255,255)"/>
<polygon points="-29.22,162.27 -28.16,167.61 -27.60,173.27 -32.23,169.95 -36.33,166.37" fill="rgb(255,255,255)"/>
<polygon points="13.65,88.02 14.70,93.36 15.26,99.02 10.64,95.70 6.54,92.12" fill="rgb(255,255,255)"/>
<polygon points="56.52,13.77 57.57,19.11 58.13,24.77 53.51,21.45 49.41,17.87" fill="rgb(255,255,255)"/>
<polygon points="56.52,162.27 57.57,167.61 58.13,173.27 53.51,169.95 49.41,166.37" fill="rgb(255,255,255)"/>
<polygon points="99.39,88.02 100.44,93.36 101.00,99.02 96.38,95.70 92.28,92.12" fill="rgb(255,255,255)"/>
<polygon points="142.25,13.77 143.31,19.11 143.87,24.77 139.24,21.45 135.15,17.87" fill="rgb(255,255,255)"/>
<polygon points="142.25,162.27 143.31,167.61 143.87,173.27 139.24,169.95 135.15,166.37" fill="rgb(255,255,255)"/>
<polygon points="185.12,88.02 186.18,93.36 186.74,99.02 182.11,95.70 178.02,92.12" fill="rgb(255,255,255)"/>
<polygon points="227.99,13.77 229.04,19.11 229.60,24.77 224.98,21.45 220.88,17.87" fill="rgb(255,255,255)"/>
<polygon points="227.99,162.27 229.04,167.61 229.60,173.27 224.98,169.95 220.88,166.37" fill="rgb(255,255,255)"/>
<polygon points="-38.88,17.87 -42.98,21.45 -47.60,24.77 -47.04,19.11 -45.99,13.77" fill="rgb(255,255,255)"/>
<polygon points="-38.88,166.37 -42.98,169.95 -47.60,173.27 -47.04,167.61 -45.99,162.27" fill="rgb(255,255,255)"/>
<polygon points="3.98,92.12 -0.11,95.70 -4.74,99.02 -4.18,93.36 -3.12,88.02" fill="rgb(255,255,255)"/>
<polygon points="46.85,17.87 42.76,21.45 38.13,24.77 38.69,19.11 39.75,13.77" fill="rgb(255,255,255)"/>
<polygon points="46.85,166.37 42.76,169.95 38.13,173.27 38.69,167.61 39.75,162.27" fill="rgb(255,255,255)"/>
<polygon points="89.72,92.12 85.62,95.70 81.00,99.02 81.56,93.36 82.61,88.02" fill="rgb(255,255,255)"/>
<polygon points="132.59,17.87 128.49,21.45 123.87,24.77 124.43,19.11 125.48,13.77" fill="rgb(255,255,255)"/>
<polygon points="132.59,166.37 128.49,169.95 123.87,173.27 124.43,167.61 125.48,162.27" fill="rgb(255,255,255)"/>
<polygon points="175.46,92.12 171.36,95.70 166.74,99.02 167.30,93.36 168.35,88.02" fill="rgb(255,255,255)"/>
<polygon points="218.33,17.87 214.23,21.45 209.60,24.77 210.16,19.11 211.22,13.77" fill="rgb(255,255,255)"/>
<polygon points="218.33,166.37 214.23,169.95 209.60,173.27 210.16,167.61 211.22,162.27" fill="rgb(255,255,255)"/>
<polygon points="-47.27,11.55 -52.42,9.80 -57.60,7.45 -52.42,5.10 -47.27,3.35" fill="rgb(255,255,255)"/>
<polygon points="-47.27,160.05 -52.42,158.30 -57.60,155.95 -52.42,153.60 -47.27,151.85" fill="rgb(255,255,255)"/>
<polygon points="-4.40,85.80 -9.55,84.05 -14.74,81.70 -9.55,79.35 -4.40,77.60" fill="rgb(255,255,255)"/>
<polygon points="38.47,11.55 33.32,9.80 28.13,7.45 33.32,5.10 38.47,3.35" fill="rgb(255,255,255)"/>
<polygon points="38.47,160.05 33.32,158.30 28.13,155.95 33.32,153.60 38.47,151.85" fill="rgb(255,255,255)"/>
<polygon points="81.33,85.80 76.18,84.05 71.00,81.70 76.18,79.35 81.33,77.60" fill="rgb(255,255,255)"/>
<polygon points="124.20,11.55 119.05,9.80 113.87,7.45 119.05,5.10 124.20,3.35" fill="rgb(255,255,255)"/>
<polygon points="124.20,160.05 119.05,158.30 113.87,155.95 119.05,153.60 124.20,151.85" fill="rgb(255,255,255)"/>
<polygon points="167.07,85.80 161.92,84.05 156.74,81.70 161.92,79.35 167.07,77.60" fill="rgb(255,255,255)"/>
<polygon points="209.94,11.55 204.79,9.80 199.60,7.45 204.79,5.10 209.94,3.35" fill="rgb(255,255,255)"/>
<polygon points="209.94,160.05 204.79,158.30 199.60,155.95 204.79,153.60 209.94,151.85" fill="rgb(255,255,255)"/>
<polygon points="-45.99,1.13 -47.04,-4.21 -47.60,-9.87 -42.98,-6.55 -38.88,-2.97" fill="rgb(255,255,255)"/>
<polygon points="-45.99,149.63 -47.04,144.29 -47.60,138.63 -42.98,141.95 -38.88,145.53" fill="rgb(255,255,255)"/>
<polygon points="-3.12,75.38 -4.18,70.04 -4.74,64.38 -0.11,67.70 3.98,71.28" fill="rgb(255,255,255)"/>
<polygon points="39.75,1.13 38.69,-4.21 38.13,-9.87 42.76,-6.55 46.85,-2.97" fill="rgb(255,255,255)"/>
<polygon points="39.75,149.63 38.69,144.29 38.13,138.63 42.76,141.95 46.85,145.53" fill="rgb(255,255,255)"/>
<polygon points="82.61,75.38 81.56,70.04 81.00,64.38 85.62,67.70 89.72,71.28" fill="rgb(255,255,255)"/>
<polygon points="125.48,1.13 124.43,-4.21 123.87,-9.87 128.49,-6.55 132.59,-2.97" fill="rgb(255,255,255)"/>
<polygon points="125.48,149.63 124.43,144.29 123.87,138.63 128.49,141.95 132.59,145.53" fill="rgb(255,255,255)"/>
<polygon points="168.35,75.38 167.30,70.04 166.74,64.38 171.36,67.70 175.46,71.28" fill="rgb(255,255,255)"/>
<polygon points="211.22,1.13 210.16,-4.21 209.60,-9.87 214.23,-6.55 218.33,-2.97" fill="rgb(255,255,255)"/>
<polygon points="211.22,149.63 210.16,144.29 209.60,138.63 214.23,141.95 218.33,145.53" fill="rgb(255,255,255)"/>
<polygon points="-36.33,-2.97 -32.23,-6.55 -27.60,-9.87 -28.16,-4.21 -29.22,1.13" fill="rgb(255,255,255)"/>
<polygon points="-36.33,145.53 -32.23,141.95 -27.60,138.63 -28.16,144.29 -29.22,149.63" fill="rgb(255,255,255)"/>
<polygon points="6.54,71.28 10.64,67.70 15.26,64.38 14.70,70.04 13.65,75.38" fill="rgb(255,255,255)"/>
<polygon points="49.41,-2.97 53.51,-6.55 58.13,-9.87 57.57,-4.21 56.52,1.13" fill="rgb(255,255,255)"/>
<polygon points="49.41,145.53 53.51,141.95 58.13,138.63 57.57,144.29 56.52,149.63" fill="rgb(255,255,255)"/>
<polygon points="92.28,71.28 96.38,67.70 101.00,64.38 100.44,70.04 99.39,75.38" fill="rgb(255,255,255)"/>
<polygon points="135.15,-2.97 139.24,-6.55 143.87,-9.87 143.31,-4.21 142.25,1.13" fill="rgb(255,255,255)"/>
<polygon points="135.15,145.53 139.24,141.95 143.87,138.63 143.31,144.29 142.25,149.63" fill="rgb(255,255,255)"/>
<polygon points="178.02,71.28 182.11,67.70 186.74,64.38 186.18,70.04 185.12,75.38" fill="rgb(255,255,255)"/>
<polygon points="220.88,-2.97 224.98,-6.55 229.60,-9.87 229.04,-4.21 227.99,1.13" fill="rgb(255,255,255)"/>
<polygon points="220.88,145.53 224.98,141.95 229.60,138.63 229.04,144.29 227.99,149.63" fill="rgb(255,255,255)"/>
<circle cx="-37.60" cy="26.05" r="2.60" fill="rgb(255,255,255)"/>
<circle cx="-37.60" cy="174.55" r="2.60" fill="rgb(255,255,255)"/>
<circle cx="5.26" cy="100.30" r="2.60" fill="rgb(255,255,255)"/>
<circle cx="48.13" cy="26.05" r="2.60" fill="rgb(255,255,255)"/>
<circle cx="48.13" cy="174.55" r="2.60" fill="rgb(255,255,255)"/>
<circle cx="91.00" cy="100.30" r="2.60" fill="rgb(255,255,255)"/>
<circle cx="133.87" cy="26.05" r="2.60" fill="rgb(255,255,255)"/>
<circle cx="133.87" cy="174.55" r="2.60" fill="rgb(255,255,255)"/>
<circle cx="176.74" cy="100.30" r="2.60" fill="rgb(255,255,255)"/>
<circle cx="219.60" cy="26.05" r="2.60" fill="rgb(255,255,255)"/>
<circle cx="219.60" cy="174.55" r="2.60" fill="rgb(255,255,255)"/>
<circle cx="-37.60" cy="20.05" r="3.40" fill="rgb(147,147,147)"/>
<circle cx="-37.60" cy="168.55" r="3.40" fill="rgb(147,147,147)"/>
<circle cx="5.26" cy="94.30" r="3.40" fill="rgb(147,147,147)"/>
<circle cx="48.13" cy="20.05" r="3.40" fill="rgb(147,147,147)"/>
<circle cx="48.13" cy="168.55" r="3.40" fill="rgb(147,147,147)"/>
<circle cx="91.00" cy="94.30" r="3.40" fill="rgb(147,147,147)"/>
<circle cx="133.87" cy="20.05" r="3.40" fill="rgb(147,147,147)"/>
<circle cx="133.87" cy="168.55" r="3.40" fill="rgb(147,147,147)"/>
<circle cx="176.74" cy="94.30" r="3.40" fill="rgb(147,147,147)"/>
<circle cx="219.60" cy="20.05" r="3.40" fill="rgb(147,147,147)"/>
<circle cx="219.60" cy="168.55" r="3.40" fill="rgb(147,147,147)"/>
<circle cx="-37.60" cy="20.05" r="2.20" fill="rgb(13,13,13)"/>
<circle cx="-37.60" cy="168.55" r="2.20" fill="rgb(13,13,13)"/>
<circle cx="5.26" cy="94.30" r="2.20" fill="rgb(13,13,13)"/>
<circle cx="48.13" cy="20.05" r="2.20" fill="rgb(13,13,13)"/>
<circle cx="48.13" cy="168.55" r="2.20" fill="rgb(13,13,13)"/>
<circle cx="91.00" cy="94.30" r="2.20" fill="rgb(13,13,13)"/>
<circle cx="133.87" cy="20.05" r="2.20" fill="rgb(13,13,13)"/>
<circle cx="133.87" cy="168.55" r="2.20" fill="rgb(13,13,13)"/>
<circle cx="176.74" cy="94.30" r="2.20" fill="rgb(13,13,13)"/>
<circle cx="219.60" cy="20.05" r="2.20" fill="rgb(13,13,13)"/>
<circle cx="219.60" cy="168.55" r="2.20" fill="rgb(13,13,13)"/>
<circle cx="-53.71" cy="-1.85" r="2.60" fill="rgb(255,255,255)"/>
<circle cx="-53.71" cy="146.65" r="2.60" fill="rgb(255,255,255)"/>
<circle cx="-10.84" cy="72.40" r="2.60" fill="rgb(255,255,255)"/>
<circle cx="32.02" cy="-1.85" r="2.60" fill="rgb(255,255,255)"/>
<circle cx="32.02" cy="146.65" r="2.60" fill="rgb(255,255,255)"/>
<circle cx="74.89" cy="72.40" r="2.60" fill="rgb(255,255,255)"/>
<circle cx="117.76" cy="-1.85" r="2.60" fill="rgb(255,255,255)"/>
<circle cx="117.76" cy="146.65" r="2.60" fill="rgb(255,255,255)"/>
<circle cx="160.63" cy="72.40" r="2.60" fill="rgb(255,255,255)"/>
<circle cx="203.50" cy="-1.85" r="2.60" fill="rgb(255,255,255)"/>
<circle cx="203.50" cy="146.65" r="2.60" fill="rgb(255,255,255)"/>
<circle cx="-48.52" cy="1.15" r="3.40" fill="rgb(147,147,147)"/>
<circle cx="-48.52" cy="149.65" r="3.40" fill="rgb(147,147,147)"/>
<circle cx="-5.65" cy="75.40" r="3.40" fill="rgb(147,147,147)"/>
<circle cx="37.22" cy="1.15" r="3.40" fill="rgb(147,147,147)"/>
<circle cx="37.22" cy="149.65" r="3.40" fill="rgb(147,147,147)"/>
<circle cx="80.09" cy="75.40" r="3.40" fill="rgb(147,147,147)"/>
<circle cx="122.96" cy="1.15" r="3.40" fill="rgb(147,147,147)"/>
<circle cx="122.96" cy="149.65" r="3.40" fill="rgb(147,147,147)"/>
<circle cx="165.82" cy="75.40" r="3.40" fill="rgb(147,147,147)"/>
<circle cx="208.69" cy="1.15" r="3.40" fill="rgb(147,147,147)"/>
<circle cx="208.69" cy="149.65" r="3.40" fill="rgb(147,147,147)"/>
<circle cx="-48.52" cy="1.15" r="2.20" fill="rgb(13,13,13)"/>
<circle cx="-48.52" cy="149.65" r="2.20" fill="rgb(13,13,13)"/>
<circle cx="-5.65" cy="75.40" r="2.20" fill="rgb(13,13,13)"/>
<circle cx="37.22" cy="1.15" r="2.20" fill="rgb(13,13,13)"/>
<circle cx="37.22" cy="149.65" r="2.20" fill="rgb(13,13,13)"/>
<circle cx="80.09" cy="75.40" r="2.20" fill="rgb(13,13,13)"/>
<circle cx="122.96" cy="1.15" r="2.20" fill="rgb(13,13,13)"/>
<circle cx="122.96" cy="149.65" r="2.20" fill="rgb(13,13,13)"/>
<circle cx="165.82" cy="75.40" r="2.20" fill="rgb(13,13,13)"/>
<circle cx="208.69" cy="1.15" r="2.20" fill="rgb(13,13,13)"/>
<circle cx="208.69" cy="149.65" r="2.20" fill="rgb(13,13,13)"/>
<circle cx="-21.50" cy="-1.85" r="2.60" fill="rgb(255,255,255)"/>
<circle cx="-21.50" cy="146.65" r="2.60" fill="rgb(255,255,255)"/>
<circle cx="21.37" cy="72.40" r="2.60" fill="rgb(255,255,255)"/>
<circle cx="64.24" cy="-1.85" r="2.60" fill="rgb(255,255,255)"/>
<circle cx="64.24" cy="146.65" r="2.60" fill="rgb(255,255,255)"/>
<circle cx="107.11" cy="72.40" r="2.60" fill="rgb(255,255,255)"/>
<circle cx="149.98" cy="-1.85" r="2.60" fill="rgb(255,255,255)"/>
<circle cx="149.98" cy="146.65" r="2.60" fill="rgb(255,255,255)"/>
<circle cx="192.84" cy="72.40" r="2.60" fill="rgb(255,255,255)"/>
<circle cx="235.71" cy="-1.85" r="2.60" fill="rgb(255,255,255)"/>
<circle cx="235.71" cy="146.65" r="2.60" fill="rgb(255,255,255)"/>
<circle cx="-26.69" cy="1.15" r="3.40" fill="rgb(147,147,147)"/>
<circle cx="-26.69" cy="149.65" r="3.40" fill="rgb(147,147,147)"/>
<circle cx="16.18" cy="75.40" r="3.40" fill="rgb(147,147,147)"/>
<circle cx="59.04" cy="1.15" r="3.40" fill="rgb(147,147,147)"/>
<circle cx="59.04" cy="149.65" r="3.40" fill="rgb(147,147,147)"/>
<circle cx="101.91" cy="75.40" r="3.40" fill="rgb(147,147,147)"/>
<circle cx="144.78" cy="1.15" r="3.40" fill="rgb(147,147,147)"/>
<circle cx="144.78" cy="149.65" r="3.40" fill="rgb(147,147,147)"/>
<circle cx="187.65" cy="75.40" r="3.40" fill="rgb(147,147,147)"/>
<circle cx="230.52" cy="1.15" r="3.40" fill="rgb(147,147,147)"/>
<circle cx="230.52" cy="149.65" r="3.40" fill="rgb(147,147,147)"/>
<circle cx="-26.69" cy="1.15" r="2.20" fill="rgb(13,13,13)"/>
<circle cx="-26.69" cy="149.65" r="2.20" fill="rgb(13,13,13)"/>
<circle cx="16.18" cy="75.40" r="2.20" fill="rgb(13,13,13)"/>
<circle cx="59.04" cy="1.15" r="2.20" fill="rgb(13,13,13)"/>
<circle cx="59.04" cy="149.65" r="2.20" fill="rgb(13,13,13)"/>
<circle cx="101.91" cy="75.40" r="2.20" fill="rgb(13,13,13)"/>
<circle cx="144.78" cy="1.15" r="2.20" fill="rgb(13,13,13)"/>
<circle cx="144.78" cy="149.65" r="2.20" fill="rgb(13,13,13)"/>
<circle cx="187.65" cy="75.40" r="2.20" fill="rgb(13,13,13)"/>
<circle cx="230.52" cy="1.15" r="2.20" fill="rgb(13,13,13)"/>
<circle cx="230.52" cy="149.65" r="2.20" fill="rgb(13,13,13)"/>
<path d="M-44.90,13.05 L-43.60,6.45 C-43.20,0.65 -33.60,0.65 -33.20,6.45 L-31.90,13.05 Z" fill="rgb(0,0,0)"/>
<path d="M-44.90,161.55 L-43.60,154.95 C-43.20,149.15 -33.60,149.15 -33.20,154.95 L-31.90,161.55 Z" fill="rgb(0,0,0)"/>
<path d="M-2.04,87.30 L-0.74,80.70 C-0.34,74.90 9.26,74.90 9.66,80.70 L10.96,87.30 Z" fill="rgb(0,0,0)"/>
<path d="M40.83,13.05 L42.13,6.45 C42.53,0.65 52.13,0.65 52.53,6.45 L53.83,13.05 Z" fill="rgb(0,0,0)"/>
<path d="M40.83,161.55 L42.13,154.95 C42.53,149.15 52.13,149.15 52.53,154.95 L53.83,161.55 Z" fill="rgb(0,0,0)"/>
<path d="M83.70,87.30 L85.00,80.70 C85.40,74.90 95.00,74.90 95.40,80.70 L96.70,87.30 Z" fill="rgb(0,0,0)"/>
<path d="M126.57,13.05 L127.87,6.45 C128.27,0.65 137.87,0.65 138.27,6.45 L139.57,13.05 Z" fill="rgb(0,0,0)"/>
<path d="M126.57,161.55 L127.87,154.95 C128.27,149.15 137.87,149.15 138.27,154.95 L139.57,161.55 Z" fill="rgb(0,0,0)"/>
<path d="M169.44,87.30 L170.74,80.70 C171.14,74.90 180.74,74.90 181.14,80.70 L182.44,87.30 Z" fill="rgb(0,0,0)"/>
<path d="M212.30,13.05 L213.60,6.45 C214.00,0.65 223.60,0.65 224.00,6.45 L225.30,13.05 Z" fill="rgb(0,0,0)"/>
<path d="M212.30,161.55 L213.60,154.95 C214.00,149.15 223.60,149.15 224.00,154.95 L225.30,161.55 Z" fill="rgb(0,0,0)"/>
</g>
</g></g>
<g clip-path="url(#clipC)"><g filter="url(#cmap)">
<g filter="url(#blurC)"><rect x="18.18" y="187.18" width="3.71" height="3.71" fill="rgb(179,179,179)"/>
<rect x="21.59" y="187.18" width="3.71" height="3.71" fill="rgb(179,179,179)"/>
<rect x="25.00" y="187.18" width="3.71" height="3.71" fill="rgb(179,179,179)"/>
<rect x="28.41" y="187.18" width="3.71" height="3.71" fill="rgb(153,153,153)"/>
<rect x="31.82" y="187.18" width="3.71" height="3.71" fill="rgb(101,101,101)"/>
<rect x="35.24" y="187.18" width="3.71" height="3.71" fill="rgb(85,85,85)"/>
<rect x="38.65" y="187.18" width="3.71" height="3.71" fill="rgb(106,106,106)"/>
<rect x="42.06" y="187.18" width="3.71" height="3.71" fill="rgb(124,124,124)"/>
<rect x="45.48" y="187.18" width="3.71" height="3.71" fill="rgb(140,140,140)"/>
<rect x="48.89" y="187.18" width="3.71" height="3.71" fill="rgb(153,153,153)"/>
<rect x="52.30" y="187.18" width="3.71" height="3.71" fill="rgb(162,162,162)"/>
<rect x="55.71" y="187.18" width="3.71" height="3.71" fill="rgb(160,160,160)"/>
<rect x="59.12" y="187.18" width="3.71" height="3.71" fill="rgb(147,147,147)"/>
<rect x="62.54" y="187.18" width="3.71" height="3.71" fill="rgb(138,138,138)"/>
<rect x="65.95" y="187.18" width="3.71" height="3.71" fill="rgb(132,132,132)"/>
<rect x="69.36" y="187.18" width="3.71" height="3.71" fill="rgb(109,109,109)"/>
<rect x="72.78" y="187.18" width="3.71" height="3.71" fill="rgb(68,68,68)"/>
<rect x="76.19" y="187.18" width="3.71" height="3.71" fill="rgb(31,31,31)"/>
<rect x="79.60" y="187.18" width="3.71" height="3.71" fill="rgb(0,0,0)"/>
<rect x="83.01" y="187.18" width="3.71" height="3.71" fill="rgb(0,0,0)"/>
<rect x="86.43" y="187.18" width="3.71" height="3.71" fill="rgb(10,10,10)"/>
<rect x="89.84" y="187.18" width="3.71" height="3.71" fill="rgb(52,52,52)"/>
<rect x="93.25" y="187.18" width="3.71" height="3.71" fill="rgb(118,118,118)"/>
<rect x="96.66" y="187.18" width="3.71" height="3.71" fill="rgb(158,158,158)"/>
<rect x="100.08" y="187.18" width="3.71" height="3.71" fill="rgb(175,175,175)"/>
<rect x="103.49" y="187.18" width="3.71" height="3.71" fill="rgb(182,182,182)"/>
<rect x="106.90" y="187.18" width="3.71" height="3.71" fill="rgb(180,180,180)"/>
<rect x="110.31" y="187.18" width="3.71" height="3.71" fill="rgb(183,183,183)"/>
<rect x="113.73" y="187.18" width="3.71" height="3.71" fill="rgb(192,192,192)"/>
<rect x="117.14" y="187.18" width="3.71" height="3.71" fill="rgb(202,202,202)"/>
<rect x="120.55" y="187.18" width="3.71" height="3.71" fill="rgb(214,214,214)"/>
<rect x="123.96" y="187.18" width="3.71" height="3.71" fill="rgb(218,218,218)"/>
<rect x="127.38" y="187.18" width="3.71" height="3.71" fill="rgb(214,214,214)"/>
<rect x="130.79" y="187.18" width="3.71" height="3.71" fill="rgb(205,205,205)"/>
<rect x="134.20" y="187.18" width="3.71" height="3.71" fill="rgb(191,191,191)"/>
<rect x="137.61" y="187.18" width="3.71" height="3.71" fill="rgb(174,174,174)"/>
<rect x="141.03" y="187.18" width="3.71" height="3.71" fill="rgb(152,152,152)"/>
<rect x="144.44" y="187.18" width="3.71" height="3.71" fill="rgb(140,140,140)"/>
<rect x="147.85" y="187.18" width="3.71" height="3.71" fill="rgb(137,137,137)"/>
<rect x="151.26" y="187.18" width="3.71" height="3.71" fill="rgb(161,161,161)"/>
<rect x="154.68" y="187.18" width="3.71" height="3.71" fill="rgb(209,209,209)"/>
<rect x="158.09" y="187.18" width="3.71" height="3.71" fill="rgb(234,234,234)"/>
<rect x="161.50" y="187.18" width="3.71" height="3.71" fill="rgb(234,234,234)"/>
<rect x="164.91" y="187.18" width="3.71" height="3.71" fill="rgb(234,234,234)"/>
<rect x="18.18" y="190.59" width="3.71" height="3.71" fill="rgb(179,179,179)"/>
<rect x="21.59" y="190.59" width="3.71" height="3.71" fill="rgb(179,179,179)"/>
<rect x="25.00" y="190.59" width="3.71" height="3.71" fill="rgb(179,179,179)"/>
<rect x="28.41" y="190.59" width="3.71" height="3.71" fill="rgb(164,164,164)"/>
<rect x="31.82" y="190.59" width="3.71" height="3.71" fill="rgb(133,133,133)"/>
<rect x="35.24" y="190.59" width="3.71" height="3.71" fill="rgb(121,121,121)"/>
<rect x="38.65" y="190.59" width="3.71" height="3.71" fill="rgb(130,130,130)"/>
<rect x="42.06" y="190.59" width="3.71" height="3.71" fill="rgb(139,139,139)"/>
<rect x="45.48" y="190.59" width="3.71" height="3.71" fill="rgb(151,151,151)"/>
<rect x="48.89" y="190.59" width="3.71" height="3.71" fill="rgb(162,162,162)"/>
<rect x="52.30" y="190.59" width="3.71" height="3.71" fill="rgb(174,174,174)"/>
<rect x="55.71" y="190.59" width="3.71" height="3.71" fill="rgb(173,173,173)"/>
<rect x="59.12" y="190.59" width="3.71" height="3.71" fill="rgb(160,160,160)"/>
<rect x="62.54" y="190.59" width="3.71" height="3.71" fill="rgb(149,149,149)"/>
<rect x="65.95" y="190.59" width="3.71" height="3.71" fill="rgb(138,138,138)"/>
<rect x="69.36" y="190.59" width="3.71" height="3.71" fill="rgb(116,116,116)"/>
<rect x="72.78" y="190.59" width="3.71" height="3.71" fill="rgb(82,82,82)"/>
<rect x="76.19" y="190.59" width="3.71" height="3.71" fill="rgb(51,51,51)"/>
<rect x="79.60" y="190.59" width="3.71" height="3.71" fill="rgb(22,22,22)"/>
<rect x="83.01" y="190.59" width="3.71" height="3.71" fill="rgb(19,19,19)"/>
<rect x="86.43" y="190.59" width="3.71" height="3.71" fill="rgb(42,42,42)"/>
<rect x="89.84" y="190.59" width="3.71" height="3.71" fill="rgb(76,76,76)"/>
<rect x="93.25" y="190.59" width="3.71" height="3.71" fill="rgb(120,120,120)"/>
<rect x="96.66" y="190.59" width="3.71" height="3.71" fill="rgb(149,149,149)"/>
<rect x="100.08" y="190.59" width="3.71" height="3.71" fill="rgb(163,163,163)"/>
<rect x="103.49" y="190.59" width="3.71" height="3.71" fill="rgb(172,172,172)"/>
<rect x="106.90" y="190.59" width="3.71" height="3.71" fill="rgb(177,177,177)"/>
<rect x="110.31" y="190.59" width="3.71" height="3.71" fill="rgb(183,183,183)"/>
<rect x="113.73" y="190.59" width="3.71" height="3.71" fill="rgb(192,192,192)"/>
<rect x="117.14" y="190.59" width="3.71" height="3.71" fill="rgb(195,195,195)"/>
<rect x="120.55" y="190.59" width="3.71" height="3.71" fill="rgb(191,191,191)"/>
<rect x="123.96" y="190.59" width="3.71" height="3.71" fill="rgb(206,206,206)"/>
<rect x="127.38" y="190.59" width="3.71" height="3.71" fill="rgb(239,239,239)"/>
<rect x="130.79" y="190.59" width="3.71" height="3.71" fill="rgb(247,247,247)"/>
<rect x="134.20" y="190.59" width="3.71" height="3.71" fill="rgb(231,231,231)"/>
<rect x="137.61" y="190.59" width="3.71" height="3.71" fill="rgb(206,206,206)"/>
<rect x="141.03" y="190.59" width="3.71" height="3.71" fill="rgb(171,171,171)"/>
<rect x="144.44" y="190.59" width="3.71" height="3.71" fill="rgb(149,149,149)"/>
<rect x="147.85" y="190.59" width="3.71" height="3.71" fill="rgb(141,141,141)"/>
<rect x="151.26" y="190.59" width="3.71" height="3.71" fill="rgb(163,163,163)"/>
<rect x="154.68" y="190.59" width="3.71" height="3.71" fill="rgb(216,216,216)"/>
<rect x="158.09" y="190.59" width="3.71" height="3.71" fill="rgb(243,243,243)"/>
<rect x="161.50" y="190.59" width="3.71" height="3.71" fill="rgb(243,243,243)"/>
<rect x="164.91" y="190.59" width="3.71" height="3.71" fill="rgb(243,243,243)"/>
<rect x="18.18" y="194.00" width="3.71" height="3.71" fill="rgb(136,136,136)"/>
<rect x="21.59" y="194.00" width="3.71" height="3.71" fill="rgb(136,136,136)"/>
<rect x="25.00" y="194.00" width="3.71" height="3.71" fill="rgb(136,136,136)"/>
<rect x="28.41" y="194.00" width="3.71" height="3.71" fill="rgb(138,138,138)"/>
<rect x="31.82" y="194.00" width="3.71" height="3.71" fill="rgb(143,143,143)"/>
<rect x="35.24" y="194.00" width="3.71" height="3.71" fill="rgb(147,147,147)"/>
<rect x="38.65" y="194.00" width="3.71" height="3.71" fill="rgb(151,151,151)"/>
<rect x="42.06" y="194.00" width="3.71" height="3.71" fill="rgb(143,143,143)"/>
<rect x="45.48" y="194.00" width="3.71" height="3.71" fill="rgb(121,121,121)"/>
<rect x="48.89" y="194.00" width="3.71" height="3.71" fill="rgb(84,84,84)"/>
<rect x="52.30" y="194.00" width="3.71" height="3.71" fill="rgb(33,33,33)"/>
<rect x="55.71" y="194.00" width="3.71" height="3.71" fill="rgb(11,11,11)"/>
<rect x="59.12" y="194.00" width="3.71" height="3.71" fill="rgb(20,20,20)"/>
<rect x="62.54" y="194.00" width="3.71" height="3.71" fill="rgb(29,29,29)"/>
<rect x="65.95" y="194.00" width="3.71" height="3.71" fill="rgb(37,37,37)"/>
<rect x="69.36" y="194.00" width="3.71" height="3.71" fill="rgb(54,54,54)"/>
<rect x="72.78" y="194.00" width="3.71" height="3.71" fill="rgb(80,80,80)"/>
<rect x="76.19" y="194.00" width="3.71" height="3.71" fill="rgb(104,104,104)"/>
<rect x="79.60" y="194.00" width="3.71" height="3.71" fill="rgb(125,125,125)"/>
<rect x="83.01" y="194.00" width="3.71" height="3.71" fill="rgb(140,140,140)"/>
<rect x="86.43" y="194.00" width="3.71" height="3.71" fill="rgb(149,149,149)"/>
<rect x="89.84" y="194.00" width="3.71" height="3.71" fill="rgb(149,149,149)"/>
<rect x="93.25" y="194.00" width="3.71" height="3.71" fill="rgb(140,140,140)"/>
<rect x="96.66" y="194.00" width="3.71" height="3.71" fill="rgb(155,155,155)"/>
<rect x="100.08" y="194.00" width="3.71" height="3.71" fill="rgb(194,194,194)"/>
<rect x="103.49" y="194.00" width="3.71" height="3.71" fill="rgb(220,220,220)"/>
<rect x="106.90" y="194.00" width="3.71" height="3.71" fill="rgb(233,233,233)"/>
<rect x="110.31" y="194.00" width="3.71" height="3.71" fill="rgb(233,233,233)"/>
<rect x="113.73" y="194.00" width="3.71" height="3.71" fill="rgb(220,220,220)"/>
<rect x="117.14" y="194.00" width="3.71" height="3.71" fill="rgb(231,231,231)"/>
<rect x="120.55" y="194.00" width="3.71" height="3.71" fill="rgb(255,255,255)"/>
<rect x="123.96" y="194.00" width="3.71" height="3.71" fill="rgb(255,255,255)"/>
<rect x="127.38" y="194.00" width="3.71" height="3.71" fill="rgb(224,224,224)"/>
<rect x="130.79" y="194.00" width="3.71" height="3.71" fill="rgb(209,209,209)"/>
<rect x="134.20" y="194.00" width="3.71" height="3.71" fill="rgb(218,218,218)"/>
<rect x="137.61" y="194.00" width="3.71" height="3.71" fill="rgb(201,201,201)"/>
<rect x="141.03" y="194.00" width="3.71" height="3.71" fill="rgb(158,158,158)"/>
<rect x="144.44" y="194.00" width="3.71" height="3.71" fill="rgb(136,136,136)"/>
<rect x="147.85" y="194.00" width="3.71" height="3.71" fill="rgb(136,136,136)"/>
<rect x="151.26" y="194.00" width="3.71" height="3.71" fill="rgb(143,143,143)"/>
<rect x="154.68" y="194.00" width="3.71" height="3.71" fill="rgb(155,155,155)"/>
<rect x="158.09" y="194.00" width="3.71" height="3.71" fill="rgb(162,162,162)"/>
<rect x="161.50" y="194.00" width="3.71" height="3.71" fill="rgb(162,162,162)"/>
<rect x="164.91" y="194.00" width="3.71" height="3.71" fill="rgb(162,162,162)"/>
<rect x="18.18" y="197.41" width="3.71" height="3.71" fill="rgb(119,119,119)"/>
<rect x="21.59" y="197.41" width="3.71" height="3.71" fill="rgb(119,119,119)"/>
<rect x="25.00" y="197.41" width="3.71" height="3.71" fill="rgb(119,119,119)"/>
<rect x="28.41" y="197.41" width="3.71" height="3.71" fill="rgb(122,122,122)"/>
<rect x="31.82" y="197.41" width="3.71" height="3.71" fill="rgb(127,127,127)"/>
<rect x="35.24" y="197.41" width="3.71" height="3.71" fill="rgb(131,131,131)"/>
<rect x="38.65" y="197.41" width="3.71" height="3.71" fill="rgb(133,133,133)"/>
<rect x="42.06" y="197.41" width="3.71" height="3.71" fill="rgb(122,122,122)"/>
<rect x="45.48" y="197.41" width="3.71" height="3.71" fill="rgb(97,97,97)"/>
<rect x="48.89" y="197.41" width="3.71" height="3.71" fill="rgb(62,62,62)"/>
<rect x="52.30" y="197.41" width="3.71" height="3.71" fill="rgb(18,18,18)"/>
<rect x="55.71" y="197.41" width="3.71" height="3.71" fill="rgb(0,0,0)"/>
<rect x="59.12" y="197.41" width="3.71" height="3.71" fill="rgb(8,8,8)"/>
<rect x="62.54" y="197.41" width="3.71" height="3.71" fill="rgb(16,16,16)"/>
<rect x="65.95" y="197.41" width="3.71" height="3.71" fill="rgb(24,24,24)"/>
<rect x="69.36" y="197.41" width="3.71" height="3.71" fill="rgb(48,48,48)"/>
<rect x="72.78" y="197.41" width="3.71" height="3.71" fill="rgb(87,87,87)"/>
<rect x="76.19" y="197.41" width="3.71" height="3.71" fill="rgb(115,115,115)"/>
<rect x="79.60" y="197.41" width="3.71" height="3.71" fill="rgb(133,133,133)"/>
<rect x="83.01" y="197.41" width="3.71" height="3.71" fill="rgb(145,145,145)"/>
<rect x="86.43" y="197.41" width="3.71" height="3.71" fill="rgb(149,149,149)"/>
<rect x="89.84" y="197.41" width="3.71" height="3.71" fill="rgb(147,147,147)"/>
<rect x="93.25" y="197.41" width="3.71" height="3.71" fill="rgb(140,140,140)"/>
<rect x="96.66" y="197.41" width="3.71" height="3.71" fill="rgb(153,153,153)"/>
<rect x="100.08" y="197.41" width="3.71" height="3.71" fill="rgb(186,186,186)"/>
<rect x="103.49" y="197.41" width="3.71" height="3.71" fill="rgb(209,209,209)"/>
<rect x="106.90" y="197.41" width="3.71" height="3.71" fill="rgb(222,222,222)"/>
<rect x="110.31" y="197.41" width="3.71" height="3.71" fill="rgb(229,229,229)"/>
<rect x="113.73" y="197.41" width="3.71" height="3.71" fill="rgb(229,229,229)"/>
<rect x="117.14" y="197.41" width="3.71" height="3.71" fill="rgb(243,243,243)"/>
<rect x="120.55" y="197.41" width="3.71" height="3.71" fill="rgb(255,255,255)"/>
<rect x="123.96" y="197.41" width="3.71" height="3.71" fill="rgb(255,255,255)"/>
<rect x="127.38" y="197.41" width="3.71" height="3.71" fill="rgb(235,235,235)"/>
<rect x="130.79" y="197.41" width="3.71" height="3.71" fill="rgb(217,217,217)"/>
<rect x="134.20" y="197.41" width="3.71" height="3.71" fill="rgb(216,216,216)"/>
<rect x="137.61" y="197.41" width="3.71" height="3.71" fill="rgb(198,198,198)"/>
<rect x="141.03" y="197.41" width="3.71" height="3.71" fill="rgb(162,162,162)"/>
<rect x="144.44" y="197.41" width="3.71" height="3.71" fill="rgb(148,148,148)"/>
<rect x="147.85" y="197.41" width="3.71" height="3.71" fill="rgb(156,156,156)"/>
<rect x="151.26" y="197.41" width="3.71" height="3.71" fill="rgb(168,168,168)"/>
<rect x="154.68" y="197.41" width="3.71" height="3.71" fill="rgb(186,186,186)"/>
<rect x="158.09" y="197.41" width="3.71" height="3.71" fill="rgb(194,194,194)"/>
<rect x="161.50" y="197.41" width="3.71" height="3.71" fill="rgb(194,194,194)"/>
<rect x="164.91" y="197.41" width="3.71" height="3.71" fill="rgb(194,194,194)"/>
<rect x="18.18" y="200.82" width="3.71" height="3.71" fill="rgb(84,84,84)"/>
<rect x="21.59" y="200.82" width="3.71" height="3.71" fill="rgb(84,84,84)"/>
<rect x="25.00" y="200.82" width="3.71" height="3.71" fill="rgb(84,84,84)"/>
<rect x="28.41" y="200.82" width="3.71" height="3.71" fill="rgb(88,88,88)"/>
<rect x="31.82" y="200.82" width="3.71" height="3.71" fill="rgb(96,96,96)"/>
<rect x="35.24" y="200.82" width="3.71" height="3.71" fill="rgb(98,98,98)"/>
<rect x="38.65" y="200.82" width="3.71" height="3.71" fill="rgb(96,96,96)"/>
<rect x="42.06" y="200.82" width="3.71" height="3.71" fill="rgb(80,80,80)"/>
<rect x="45.48" y="200.82" width="3.71" height="3.71" fill="rgb(48,48,48)"/>
<rect x="48.89" y="200.82" width="3.71" height="3.71" fill="rgb(18,18,18)"/>
<rect x="52.30" y="200.82" width="3.71" height="3.71" fill="rgb(0,0,0)"/>
<rect x="55.71" y="200.82" width="3.71" height="3.71" fill="rgb(0,0,0)"/>
<rect x="59.12" y="200.82" width="3.71" height="3.71" fill="rgb(0,0,0)"/>
<rect x="62.54" y="200.82" width="3.71" height="3.71" fill="rgb(0,0,0)"/>
<rect x="65.95" y="200.82" width="3.71" height="3.71" fill="rgb(0,0,0)"/>
<rect x="69.36" y="200.82" width="3.71" height="3.71" fill="rgb(35,35,35)"/>
<rect x="72.78" y="200.82" width="3.71" height="3.71" fill="rgb(100,100,100)"/>
<rect x="76.19" y="200.82" width="3.71" height="3.71" fill="rgb(138,138,138)"/>
<rect x="79.60" y="200.82" width="3.71" height="3.71" fill="rgb(150,150,150)"/>
<rect x="83.01" y="200.82" width="3.71" height="3.71" fill="rgb(153,153,153)"/>
<rect x="86.43" y="200.82" width="3.71" height="3.71" fill="rgb(149,149,149)"/>
<rect x="89.84" y="200.82" width="3.71" height="3.71" fill="rgb(144,144,144)"/>
<rect x="93.25" y="200.82" width="3.71" height="3.71" fill="rgb(139,139,139)"/>
<rect x="96.66" y="200.82" width="3.71" height="3.71" fill="rgb(147,147,147)"/>
<rect x="100.08" y="200.82" width="3.71" height="3.71" fill="rgb(170,170,170)"/>
<rect x="103.49" y="200.82" width="3.71" height="3.71" fill="rgb(188,188,188)"/>
<rect x="106.90" y="200.82" width="3.71" height="3.71" fill="rgb(201,201,201)"/>
<rect x="110.31" y="200.82" width="3.71" height="3.71" fill="rgb(220,220,220)"/>
<rect x="113.73" y="200.82" width="3.71" height="3.71" fill="rgb(246,246,246)"/>
<rect x="117.14" y="200.82" width="3.71" height="3.71" fill="rgb(255,255,255)"/>
<rect x="120.55" y="200.82" width="3.71" height="3.71" fill="rgb(255,255,255)"/>
<rect x="123.96" y="200.82" width="3.71" height="3.71" fill="rgb(255,255,255)"/>
<rect x="127.38" y="200.82" width="3.71" height="3.71" fill="rgb(255,255,255)"/>
<rect x="130.79" y="200.82" width="3.71" height="3.71" fill="rgb(233,233,233)"/>
<rect x="134.20" y="200.82" width="3.71" height="3.71" fill="rgb(213,213,213)"/>
<rect x="137.61" y="200.82" width="3.71" height="3.71" fill="rgb(193,193,193)"/>
<rect x="141.03" y="200.82" width="3.71" height="3.71" fill="rgb(172,172,172)"/>
<rect x="144.44" y="200.82" width="3.71" height="3.71" fill="rgb(173,173,173)"/>
<rect x="147.85" y="200.82" width="3.71" height="3.71" fill="rgb(196,196,196)"/>
<rect x="151.26" y="200.82" width="3.71" height="3.71" fill="rgb(220,220,220)"/>
<rect x="154.68" y="200.82" width="3.71" height="3.71" fill="rgb(246,246,246)"/>
<rect x="158.09" y="200.82" width="3.71" height="3.71" fill="rgb(255,255,255)"/>
<rect x="161.50" y="200.82" width="3.71" height="3.71" fill="rgb(255,255,255)"/>
<rect x="164.91" y="200.82" width="3.71" height="3.71" fill="rgb(255,255,255)"/>
<rect x="18.18" y="204.24" width="3.71" height="3.71" fill="rgb(46,46,46)"/>
<rect x="21.59" y="204.24" width="3.71" height="3.71" fill="rgb(46,46,46)"/>
<rect x="25.00" y="204.24" width="3.71" height="3.71" fill="rgb(46,46,46)"/>
<rect x="28.41" y="204.24" width="3.71" height="3.71" fill="rgb(52,52,52)"/>
<rect x="31.82" y="204.24" width="3.71" height="3.71" fill="rgb(63,63,63)"/>
<rect x="35.24" y="204.24" width="3.71" height="3.71" fill="rgb(69,69,69)"/>
<rect x="38.65" y="204.24" width="3.71" height="3.71" fill="rgb(68,68,68)"/>
<rect x="42.06" y="204.24" width="3.71" height="3.71" fill="rgb(51,51,51)"/>
<rect x="45.48" y="204.24" width="3.71" height="3.71" fill="rgb(17,17,17)"/>
<rect x="48.89" y="204.24" width="3.71" height="3.71" fill="rgb(0,0,0)"/>
<rect x="52.30" y="204.24" width="3.71" height="3.71" fill="rgb(0,0,0)"/>
<rect x="55.71" y="204.24" width="3.71" height="3.71" fill="rgb(0,0,0)"/>
<rect x="59.12" y="204.24" width="3.71" height="3.71" fill="rgb(0,0,0)"/>
<rect x="62.54" y="204.24" width="3.71" height="3.71" fill="rgb(0,0,0)"/>
<rect x="65.95" y="204.24" width="3.71" height="3.71" fill="rgb(0,0,0)"/>
<rect x="69.36" y="204.24" width="3.71" height="3.71" fill="rgb(18,18,18)"/>
<rect x="72.78" y="204.24" width="3.71" height="3.71" fill="rgb(82,82,82)"/>
<rect x="76.19" y="204.24" width="3.71" height="3.71" fill="rgb(122,122,122)"/>
<rect x="79.60" y="204.24" width="3.71" height="3.71" fill="rgb(137,137,137)"/>
<rect x="83.01" y="204.24" width="3.71" height="3.71" fill="rgb(143,143,143)"/>
<rect x="86.43" y="204.24" width="3.71" height="3.71" fill="rgb(138,138,138)"/>
<rect x="89.84" y="204.24" width="3.71" height="3.71" fill="rgb(133,133,133)"/>
<rect x="93.25" y="204.24" width="3.71" height="3.71" fill="rgb(126,126,126)"/>
<rect x="96.66" y="204.24" width="3.71" height="3.71" fill="rgb(133,133,133)"/>
<rect x="100.08" y="204.24" width="3.71" height="3.71" fill="rgb(152,152,152)"/>
<rect x="103.49" y="204.24" width="3.71" height="3.71" fill="rgb(169,169,169)"/>
<rect x="106.90" y="204.24" width="3.71" height="3.71" fill="rgb(183,183,183)"/>
<rect x="110.31" y="204.24" width="3.71" height="3.71" fill="rgb(212,212,212)"/>
<rect x="113.73" y="204.24" width="3.71" height="3.71" fill="rgb(255,255,255)"/>
<rect x="117.14" y="204.24" width="3.71" height="3.71" fill="rgb(255,255,255)"/>
<rect x="120.55" y="204.24" width="3.71" height="3.71" fill="rgb(255,255,255)"/>
<rect x="123.96" y="204.24" width="3.71" height="3.71" fill="rgb(255,255,255)"/>
<rect x="127.38" y="204.24" width="3.71" height="3.71" fill="rgb(255,255,255)"/>
<rect x="130.79" y="204.24" width="3.71" height="3.71" fill="rgb(247,247,247)"/>
<rect x="134.20" y="204.24" width="3.71" height="3.71" fill="rgb(210,210,210)"/>
<rect x="137.61" y="204.24" width="3.71" height="3.71" fill="rgb(189,189,189)"/>
<rect x="141.03" y="204.24" width="3.71" height="3.71" fill="rgb(184,184,184)"/>
<rect x="144.44" y="204.24" width="3.71" height="3.71" fill="rgb(194,194,194)"/>
<rect x="147.85" y="204.24" width="3.71" height="3.71" fill="rgb(220,220,220)"/>
<rect x="151.26" y="204.24" width="3.71" height="3.71" fill="rgb(243,243,243)"/>
<rect x="154.68" y="204.24" width="3.71" height="3.71" fill="rgb(255,255,255)"/>
<rect x="158.09" y="204.24" width="3.71" height="3.71" fill="rgb(255,255,255)"/>
<rect x="161.50" y="204.24" width="3.71" height="3.71" fill="rgb(255,255,255)"/>
<rect x="164.91" y="204.24" width="3.71" height="3.71" fill="rgb(255,255,255)"/>
<rect x="18.18" y="207.65" width="3.71" height="3.71" fill="rgb(3,3,3)"/>
<rect x="21.59" y="207.65" width="3.71" height="3.71" fill="rgb(3,3,3)"/>
<rect x="25.00" y="207.65" width="3.71" height="3.71" fill="rgb(3,3,3)"/>
<rect x="28.41" y="207.65" width="3.71" height="3.71" fill="rgb(12,12,12)"/>
<rect x="31.82" y="207.65" width="3.71" height="3.71" fill="rgb(30,30,30)"/>
<rect x="35.24" y="207.65" width="3.71" height="3.71" fill="rgb(42,42,42)"/>
<rect x="38.65" y="207.65" width="3.71" height="3.71" fill="rgb(47,47,47)"/>
<rect x="42.06" y="207.65" width="3.71" height="3.71" fill="rgb(34,34,34)"/>
<rect x="45.48" y="207.65" width="3.71" height="3.71" fill="rgb(3,3,3)"/>
<rect x="48.89" y="207.65" width="3.71" height="3.71" fill="rgb(0,0,0)"/>
<rect x="52.30" y="207.65" width="3.71" height="3.71" fill="rgb(0,0,0)"/>
<rect x="55.71" y="207.65" width="3.71" height="3.71" fill="rgb(0,0,0)"/>
<rect x="59.12" y="207.65" width="3.71" height="3.71" fill="rgb(0,0,0)"/>
<rect x="62.54" y="207.65" width="3.71" height="3.71" fill="rgb(0,0,0)"/>
<rect x="65.95" y="207.65" width="3.71" height="3.71" fill="rgb(0,0,0)"/>
<rect x="69.36" y="207.65" width="3.71" height="3.71" fill="rgb(0,0,0)"/>
<rect x="72.78" y="207.65" width="3.71" height="3.71" fill="rgb(35,35,35)"/>
<rect x="76.19" y="207.65" width="3.71" height="3.71" fill="rgb(68,68,68)"/>
<rect x="79.60" y="207.65" width="3.71" height="3.71" fill="rgb(96,96,96)"/>
<rect x="83.01" y="207.65" width="3.71" height="3.71" fill="rgb(112,112,112)"/>
<rect x="86.43" y="207.65" width="3.71" height="3.71" fill="rgb(117,117,117)"/>
<rect x="89.84" y="207.65" width="3.71" height="3.71" fill="rgb(114,114,114)"/>
<rect x="93.25" y="207.65" width="3.71" height="3.71" fill="rgb(103,103,103)"/>
<rect x="96.66" y="207.65" width="3.71" height="3.71" fill="rgb(109,109,109)"/>
<rect x="100.08" y="207.65" width="3.71" height="3.71" fill="rgb(133,133,133)"/>
<rect x="103.49" y="207.65" width="3.71" height="3.71" fill="rgb(153,153,153)"/>
<rect x="106.90" y="207.65" width="3.71" height="3.71" fill="rgb(169,169,169)"/>
<rect x="110.31" y="207.65" width="3.71" height="3.71" fill="rgb(204,204,204)"/>
<rect x="113.73" y="207.65" width="3.71" height="3.71" fill="rgb(255,255,255)"/>
<rect x="117.14" y="207.65" width="3.71" height="3.71" fill="rgb(255,255,255)"/>
<rect x="120.55" y="207.65" width="3.71" height="3.71" fill="rgb(255,255,255)"/>
<rect x="123.96" y="207.65" width="3.71" height="3.71" fill="rgb(255,255,255)"/>
<rect x="127.38" y="207.65" width="3.71" height="3.71" fill="rgb(255,255,255)"/>
<rect x="130.79" y="207.65" width="3.71" height="3.71" fill="rgb(255,255,255)"/>
<rect x="134.20" y="207.65" width="3.71" height="3.71" fill="rgb(208,208,208)"/>
<rect x="137.61" y="207.65" width="3.71" height="3.71" fill="rgb(188,188,188)"/>
<rect x="141.03" y="207.65" width="3.71" height="3.71" fill="rgb(198,198,198)"/>
<rect x="144.44" y="207.65" width="3.71" height="3.71" fill="rgb(211,211,211)"/>
<rect x="147.85" y="207.65" width="3.71" height="3.71" fill="rgb(229,229,229)"/>
<rect x="151.26" y="207.65" width="3.71" height="3.71" fill="rgb(236,236,236)"/>
<rect x="154.68" y="207.65" width="3.71" height="3.71" fill="rgb(234,234,234)"/>
<rect x="158.09" y="207.65" width="3.71" height="3.71" fill="rgb(233,233,233)"/>
<rect x="161.50" y="207.65" width="3.71" height="3.71" fill="rgb(233,233,233)"/>
<rect x="164.91" y="207.65" width="3.71" height="3.71" fill="rgb(233,233,233)"/>
<rect x="18.18" y="211.06" width="3.71" height="3.71" fill="rgb(0,0,0)"/>
<rect x="21.59" y="211.06" width="3.71" height="3.71" fill="rgb(0,0,0)"/>
<rect x="25.00" y="211.06" width="3.71" height="3.71" fill="rgb(0,0,0)"/>
<rect x="28.41" y="211.06" width="3.71" height="3.71" fill="rgb(0,0,0)"/>
<rect x="31.82" y="211.06" width="3.71" height="3.71" fill="rgb(3,3,3)"/>
<rect x="35.24" y="211.06" width="3.71" height="3.71" fill="rgb(15,15,15)"/>
<rect x="38.65" y="211.06" width="3.71" height="3.71" fill="rgb(23,23,23)"/>
<rect x="42.06" y="211.06" width="3.71" height="3.71" fill="rgb(17,17,17)"/>
<rect x="45.48" y="211.06" width="3.71" height="3.71" fill="rgb(0,0,0)"/>
<rect x="48.89" y="211.06" width="3.71" height="3.71" fill="rgb(0,0,0)"/>
<rect x="52.30" y="211.06" width="3.71" height="3.71" fill="rgb(0,0,0)"/>
<rect x="55.71" y="211.06" width="3.71" height="3.71" fill="rgb(0,0,0)"/>
<rect x="59.12" y="211.06" width="3.71" height="3.71" fill="rgb(0,0,0)"/>
<rect x="62.54" y="211.06" width="3.71" height="3.71" fill="rgb(0,0,0)"/>
<rect x="65.95" y="211.06" width="3.71" height="3.71" fill="rgb(0,0,0)"/>
<rect x="69.36" y="211.06" width="3.71" height="3.71" fill="rgb(0,0,0)"/>
<rect x="72.78" y="211.06" width="3.71" height="3.71" fill="rgb(15,15,15)"/>
<rect x="76.19" y="211.06" width="3.71" height="3.71" fill="rgb(45,45,45)"/>
<rect x="79.60" y="211.06" width="3.71" height="3.71" fill="rgb(77,77,77)"/>
<rect x="83.01" y="211.06" width="3.71" height="3.71" fill="rgb(98,98,98)"/>
<rect x="86.43" y="211.06" width="3.71" height="3.71" fill="rgb(109,109,109)"/>
<rect x="89.84" y="211.06" width="3.71" height="3.71" fill="rgb(104,104,104)"/>
<rect x="93.25" y="211.06" width="3.71" height="3.71" fill="rgb(84,84,84)"/>
<rect x="96.66" y="211.06" width="3.71" height="3.71" fill="rgb(87,87,87)"/>
<rect x="100.08" y="211.06" width="3.71" height="3.71" fill="rgb(112,112,112)"/>
<rect x="103.49" y="211.06" width="3.71" height="3.71" fill="rgb(136,136,136)"/>
<rect x="106.90" y="211.06" width="3.71" height="3.71" fill="rgb(156,156,156)"/>
<rect x="110.31" y="211.06" width="3.71" height="3.71" fill="rgb(195,195,195)"/>
<rect x="113.73" y="211.06" width="3.71" height="3.71" fill="rgb(253,253,253)"/>
<rect x="117.14" y="211.06" width="3.71" height="3.71" fill="rgb(255,255,255)"/>
<rect x="120.55" y="211.06" width="3.71" height="3.71" fill="rgb(255,255,255)"/>
<rect x="123.96" y="211.06" width="3.71" height="3.71" fill="rgb(255,255,255)"/>
<rect x="127.38" y="211.06" width="3.71" height="3.71" fill="rgb(255,255,255)"/>
<rect x="130.79" y="211.06" width="3.71" height="3.71" fill="rgb(255,255,255)"/>
<rect x="134.20" y="211.06" width="3.71" height="3.71" fill="rgb(207,207,207)"/>
<rect x="137.61" y="211.06" width="3.71" height="3.71" fill="rgb(183,183,183)"/>
<rect x="141.03" y="211.06" width="3.71" height="3.71" fill="rgb(192,192,192)"/>
<rect x="144.44" y="211.06" width="3.71" height="3.71" fill="rgb(202,202,202)"/>
<rect x="147.85" y="211.06" width="3.71" height="3.71" fill="rgb(214,214,214)"/>
<rect x="151.26" y="211.06" width="3.71" height="3.71" fill="rgb(214,214,214)"/>
<rect x="154.68" y="211.06" width="3.71" height="3.71" fill="rgb(202,202,202)"/>
<rect x="158.09" y="211.06" width="3.71" height="3.71" fill="rgb(196,196,196)"/>
<rect x="161.50" y="211.06" width="3.71" height="3.71" fill="rgb(196,196,196)"/>
<rect x="164.91" y="211.06" width="3.71" height="3.71" fill="rgb(196,196,196)"/>
<rect x="18.18" y="214.47" width="3.71" height="3.71" fill="rgb(0,0,0)"/>
<rect x="21.59" y="214.47" width="3.71" height="3.71" fill="rgb(0,0,0)"/>
<rect x="25.00" y="214.47" width="3.71" height="3.71" fill="rgb(0,0,0)"/>
<rect x="28.41" y="214.47" width="3.71" height="3.71" fill="rgb(0,0,0)"/>
<rect x="31.82" y="214.47" width="3.71" height="3.71" fill="rgb(0,0,0)"/>
<rect x="35.24" y="214.47" width="3.71" height="3.71" fill="rgb(0,0,0)"/>
<rect x="38.65" y="214.47" width="3.71" height="3.71" fill="rgb(0,0,0)"/>
<rect x="42.06" y="214.47" width="3.71" height="3.71" fill="rgb(0,0,0)"/>
<rect x="45.48" y="214.47" width="3.71" height="3.71" fill="rgb(0,0,0)"/>
<rect x="48.89" y="214.47" width="3.71" height="3.71" fill="rgb(0,0,0)"/>
<rect x="52.30" y="214.47" width="3.71" height="3.71" fill="rgb(0,0,0)"/>
<rect x="55.71" y="214.47" width="3.71" height="3.71" fill="rgb(0,0,0)"/>
<rect x="59.12" y="214.47" width="3.71" height="3.71" fill="rgb(0,0,0)"/>
<rect x="62.54" y="214.47" width="3.71" height="3.71" fill="rgb(0,0,0)"/>
<rect x="65.95" y="214.47" width="3.71" height="3.71" fill="rgb(0,0,0)"/>
<rect x="69.36" y="214.47" width="3.71" height="3.71" fill="rgb(0,0,0)"/>
<rect x="72.78" y="214.47" width="3.71" height="3.71" fill="rgb(21,21,21)"/>
<rect x="76.19" y="214.47" width="3.71" height="3.71" fill="rgb(51,51,51)"/>
<rect x="79.60" y="214.47" width="3.71" height="3.71" fill="rgb(79,79,79)"/>
<rect x="83.01" y="214.47" width="3.71" height="3.71" fill="rgb(101,101,101)"/>
<rect x="86.43" y="214.47" width="3.71" height="3.71" fill="rgb(116,116,116)"/>
<rect x="89.84" y="214.47" width="3.71" height="3.71" fill="rgb(105,105,105)"/>
<rect x="93.25" y="214.47" width="3.71" height="3.71" fill="rgb(70,70,70)"/>
<rect x="96.66" y="214.47" width="3.71" height="3.71" fill="rgb(65,65,65)"/>
<rect x="100.08" y="214.47" width="3.71" height="3.71" fill="rgb(91,91,91)"/>
<rect x="103.49" y="214.47" width="3.71" height="3.71" fill="rgb(117,117,117)"/>
<rect x="106.90" y="214.47" width="3.71" height="3.71" fill="rgb(144,144,144)"/>
<rect x="110.31" y="214.47" width="3.71" height="3.71" fill="rgb(185,185,185)"/>
<rect x="113.73" y="214.47" width="3.71" height="3.71" fill="rgb(238,238,238)"/>
<rect x="117.14" y="214.47" width="3.71" height="3.71" fill="rgb(255,255,255)"/>
<rect x="120.55" y="214.47" width="3.71" height="3.71" fill="rgb(255,255,255)"/>
<rect x="123.96" y="214.47" width="3.71" height="3.71" fill="rgb(255,255,255)"/>
<rect x="127.38" y="214.47" width="3.71" height="3.71" fill="rgb(255,255,255)"/>
<rect x="130.79" y="214.47" width="3.71" height="3.71" fill="rgb(255,255,255)"/>
<rect x="134.20" y="214.47" width="3.71" height="3.71" fill="rgb(207,207,207)"/>
<rect x="137.61" y="214.47" width="3.71" height="3.71" fill="rgb(175,175,175)"/>
<rect x="141.03" y="214.47" width="3.71" height="3.71" fill="rgb(166,166,166)"/>
<rect x="144.44" y="214.47" width="3.71" height="3.71" fill="rgb(167,167,167)"/>
<rect x="147.85" y="214.47" width="3.71" height="3.71" fill="rgb(176,176,176)"/>
<rect x="151.26" y="214.47" width="3.71" height="3.71" fill="rgb(176,176,176)"/>
<rect x="154.68" y="214.47" width="3.71" height="3.71" fill="rgb(167,167,167)"/>
<rect x="158.09" y="214.47" width="3.71" height="3.71" fill="rgb(162,162,162)"/>
<rect x="161.50" y="214.47" width="3.71" height="3.71" fill="rgb(162,162,162)"/>
<rect x="164.91" y="214.47" width="3.71" height="3.71" fill="rgb(162,162,162)"/>
<rect x="18.18" y="217.89" width="3.71" height="3.71" fill="rgb(0,0,0)"/>
<rect x="21.59" y="217.89" width="3.71" height="3.71" fill="rgb(0,0,0)"/>
<rect x="25.00" y="217.89" width="3.71" height="3.71" fill="rgb(0,0,0)"/>
<rect x="28.41" y="217.89" width="3.71" height="3.71" fill="rgb(0,0,0)"/>
<rect x="31.82" y="217.89" width="3.71" height="3.71" fill="rgb(0,0,0)"/>
<rect x="35.24" y="217.89" width="3.71" height="3.71" fill="rgb(3,3,3)"/>
<rect x="38.65" y="217.89" width="3.71" height="3.71" fill="rgb(13,13,13)"/>
<rect x="42.06" y="217.89" width="3.71" height="3.71" fill="rgb(29,29,29)"/>
<rect x="45.48" y="217.89" width="3.71" height="3.71" fill="rgb(52,52,52)"/>
<rect x="48.89" y="217.89" width="3.71" height="3.71" fill="rgb(43,43,43)"/>
<rect x="52.30" y="217.89" width="3.71" height="3.71" fill="rgb(3,3,3)"/>
<rect x="55.71" y="217.89" width="3.71" height="3.71" fill="rgb(0,0,0)"/>
<rect x="59.12" y="217.89" width="3.71" height="3.71" fill="rgb(0,0,0)"/>
<rect x="62.54" y="217.89" width="3.71" height="3.71" fill="rgb(0,0,0)"/>
<rect x="65.95" y="217.89" width="3.71" height="3.71" fill="rgb(0,0,0)"/>
<rect x="69.36" y="217.89" width="3.71" height="3.71" fill="rgb(0,0,0)"/>
<rect x="72.78" y="217.89" width="3.71" height="3.71" fill="rgb(26,26,26)"/>
<rect x="76.19" y="217.89" width="3.71" height="3.71" fill="rgb(58,58,58)"/>
<rect x="79.60" y="217.89" width="3.71" height="3.71" fill="rgb(90,90,90)"/>
<rect x="83.01" y="217.89" width="3.71" height="3.71" fill="rgb(112,112,112)"/>
<rect x="86.43" y="217.89" width="3.71" height="3.71" fill="rgb(125,125,125)"/>
<rect x="89.84" y="217.89" width="3.71" height="3.71" fill="rgb(114,114,114)"/>
<rect x="93.25" y="217.89" width="3.71" height="3.71" fill="rgb(77,77,77)"/>
<rect x="96.66" y="217.89" width="3.71" height="3.71" fill="rgb(65,65,65)"/>
<rect x="100.08" y="217.89" width="3.71" height="3.71" fill="rgb(78,78,78)"/>
<rect x="103.49" y="217.89" width="3.71" height="3.71" fill="rgb(91,91,91)"/>
<rect x="106.90" y="217.89" width="3.71" height="3.71" fill="rgb(105,105,105)"/>
<rect x="110.31" y="217.89" width="3.71" height="3.71" fill="rgb(145,145,145)"/>
<rect x="113.73" y="217.89" width="3.71" height="3.71" fill="rgb(209,209,209)"/>
<rect x="117.14" y="217.89" width="3.71" height="3.71" fill="rgb(252,252,252)"/>
<rect x="120.55" y="217.89" width="3.71" height="3.71" fill="rgb(255,255,255)"/>
<rect x="123.96" y="217.89" width="3.71" height="3.71" fill="rgb(255,255,255)"/>
<rect x="127.38" y="217.89" width="3.71" height="3.71" fill="rgb(255,255,255)"/>
<rect x="130.79" y="217.89" width="3.71" height="3.71" fill="rgb(251,251,251)"/>
<rect x="134.20" y="217.89" width="3.71" height="3.71" fill="rgb(183,183,183)"/>
<rect x="137.61" y="217.89" width="3.71" height="3.71" fill="rgb(147,147,147)"/>
<rect x="141.03" y="217.89" width="3.71" height="3.71" fill="rgb(143,143,143)"/>
<rect x="144.44" y="217.89" width="3.71" height="3.71" fill="rgb(144,144,144)"/>
<rect x="147.85" y="217.89" width="3.71" height="3.71" fill="rgb(152,152,152)"/>
<rect x="151.26" y="217.89" width="3.71" height="3.71" fill="rgb(152,152,152)"/>
<rect x="154.68" y="217.89" width="3.71" height="3.71" fill="rgb(146,146,146)"/>
<rect x="158.09" y="217.89" width="3.71" height="3.71" fill="rgb(143,143,143)"/>
<rect x="161.50" y="217.89" width="3.71" height="3.71" fill="rgb(143,143,143)"/>
<rect x="164.91" y="217.89" width="3.71" height="3.71" fill="rgb(143,143,143)"/>
<rect x="18.18" y="221.30" width="3.71" height="3.71" fill="rgb(37,37,37)"/>
<rect x="21.59" y="221.30" width="3.71" height="3.71" fill="rgb(37,37,37)"/>
<rect x="25.00" y="221.30" width="3.71" height="3.71" fill="rgb(37,37,37)"/>
<rect x="28.41" y="221.30" width="3.71" height="3.71" fill="rgb(40,40,40)"/>
<rect x="31.82" y="221.30" width="3.71" height="3.71" fill="rgb(47,47,47)"/>
<rect x="35.24" y="221.30" width="3.71" height="3.71" fill="rgb(60,60,60)"/>
<rect x="38.65" y="221.30" width="3.71" height="3.71" fill="rgb(81,81,81)"/>
<rect x="42.06" y="221.30" width="3.71" height="3.71" fill="rgb(112,112,112)"/>
<rect x="45.48" y="221.30" width="3.71" height="3.71" fill="rgb(154,154,154)"/>
<rect x="48.89" y="221.30" width="3.71" height="3.71" fill="rgb(137,137,137)"/>
<rect x="52.30" y="221.30" width="3.71" height="3.71" fill="rgb(60,60,60)"/>
<rect x="55.71" y="221.30" width="3.71" height="3.71" fill="rgb(9,9,9)"/>
<rect x="59.12" y="221.30" width="3.71" height="3.71" fill="rgb(0,0,0)"/>
<rect x="62.54" y="221.30" width="3.71" height="3.71" fill="rgb(0,0,0)"/>
<rect x="65.95" y="221.30" width="3.71" height="3.71" fill="rgb(0,0,0)"/>
<rect x="69.36" y="221.30" width="3.71" height="3.71" fill="rgb(9,9,9)"/>
<rect x="72.78" y="221.30" width="3.71" height="3.71" fill="rgb(31,31,31)"/>
<rect x="76.19" y="221.30" width="3.71" height="3.71" fill="rgb(64,64,64)"/>
<rect x="79.60" y="221.30" width="3.71" height="3.71" fill="rgb(109,109,109)"/>
<rect x="83.01" y="221.30" width="3.71" height="3.71" fill="rgb(134,134,134)"/>
<rect x="86.43" y="221.30" width="3.71" height="3.71" fill="rgb(138,138,138)"/>
<rect x="89.84" y="221.30" width="3.71" height="3.71" fill="rgb(129,129,129)"/>
<rect x="93.25" y="221.30" width="3.71" height="3.71" fill="rgb(105,105,105)"/>
<rect x="96.66" y="221.30" width="3.71" height="3.71" fill="rgb(87,87,87)"/>
<rect x="100.08" y="221.30" width="3.71" height="3.71" fill="rgb(74,74,74)"/>
<rect x="103.49" y="221.30" width="3.71" height="3.71" fill="rgb(58,58,58)"/>
<rect x="106.90" y="221.30" width="3.71" height="3.71" fill="rgb(40,40,40)"/>
<rect x="110.31" y="221.30" width="3.71" height="3.71" fill="rgb(76,76,76)"/>
<rect x="113.73" y="221.30" width="3.71" height="3.71" fill="rgb(166,166,166)"/>
<rect x="117.14" y="221.30" width="3.71" height="3.71" fill="rgb(226,226,226)"/>
<rect x="120.55" y="221.30" width="3.71" height="3.71" fill="rgb(255,255,255)"/>
<rect x="123.96" y="221.30" width="3.71" height="3.71" fill="rgb(255,255,255)"/>
<rect x="127.38" y="221.30" width="3.71" height="3.71" fill="rgb(255,255,255)"/>
<rect x="130.79" y="221.30" width="3.71" height="3.71" fill="rgb(226,226,226)"/>
<rect x="134.20" y="221.30" width="3.71" height="3.71" fill="rgb(134,134,134)"/>
<rect x="137.61" y="221.30" width="3.71" height="3.71" fill="rgb(100,100,100)"/>
<rect x="141.03" y="221.30" width="3.71" height="3.71" fill="rgb(121,121,121)"/>
<rect x="144.44" y="221.30" width="3.71" height="3.71" fill="rgb(134,134,134)"/>
<rect x="147.85" y="221.30" width="3.71" height="3.71" fill="rgb(140,140,140)"/>
<rect x="151.26" y="221.30" width="3.71" height="3.71" fill="rgb(141,141,141)"/>
<rect x="154.68" y="221.30" width="3.71" height="3.71" fill="rgb(139,139,139)"/>
<rect x="158.09" y="221.30" width="3.71" height="3.71" fill="rgb(138,138,138)"/>
<rect x="161.50" y="221.30" width="3.71" height="3.71" fill="rgb(138,138,138)"/>
<rect x="164.91" y="221.30" width="3.71" height="3.71" fill="rgb(138,138,138)"/>
<rect x="18.18" y="224.71" width="3.71" height="3.71" fill="rgb(87,87,87)"/>
<rect x="21.59" y="224.71" width="3.71" height="3.71" fill="rgb(87,87,87)"/>
<rect x="25.00" y="224.71" width="3.71" height="3.71" fill="rgb(87,87,87)"/>
<rect x="28.41" y="224.71" width="3.71" height="3.71" fill="rgb(88,88,88)"/>
<rect x="31.82" y="224.71" width="3.71" height="3.71" fill="rgb(90,90,90)"/>
<rect x="35.24" y="224.71" width="3.71" height="3.71" fill="rgb(100,100,100)"/>
<rect x="38.65" y="224.71" width="3.71" height="3.71" fill="rgb(117,117,117)"/>
<rect x="42.06" y="224.71" width="3.71" height="3.71" fill="rgb(147,147,147)"/>
<rect x="45.48" y="224.71" width="3.71" height="3.71" fill="rgb(192,192,192)"/>
<rect x="48.89" y="224.71" width="3.71" height="3.71" fill="rgb(177,177,177)"/>
<rect x="52.30" y="224.71" width="3.71" height="3.71" fill="rgb(104,104,104)"/>
<rect x="55.71" y="224.71" width="3.71" height="3.71" fill="rgb(54,54,54)"/>
<rect x="59.12" y="224.71" width="3.71" height="3.71" fill="rgb(27,27,27)"/>
<rect x="62.54" y="224.71" width="3.71" height="3.71" fill="rgb(16,16,16)"/>
<rect x="65.95" y="224.71" width="3.71" height="3.71" fill="rgb(22,22,22)"/>
<rect x="69.36" y="224.71" width="3.71" height="3.71" fill="rgb(25,25,25)"/>
<rect x="72.78" y="224.71" width="3.71" height="3.71" fill="rgb(27,27,27)"/>
<rect x="76.19" y="224.71" width="3.71" height="3.71" fill="rgb(53,53,53)"/>
<rect x="79.60" y="224.71" width="3.71" height="3.71" fill="rgb(103,103,103)"/>
<rect x="83.01" y="224.71" width="3.71" height="3.71" fill="rgb(132,132,132)"/>
<rect x="86.43" y="224.71" width="3.71" height="3.71" fill="rgb(140,140,140)"/>
<rect x="89.84" y="224.71" width="3.71" height="3.71" fill="rgb(135,135,135)"/>
<rect x="93.25" y="224.71" width="3.71" height="3.71" fill="rgb(116,116,116)"/>
<rect x="96.66" y="224.71" width="3.71" height="3.71" fill="rgb(99,99,99)"/>
<rect x="100.08" y="224.71" width="3.71" height="3.71" fill="rgb(85,85,85)"/>
<rect x="103.49" y="224.71" width="3.71" height="3.71" fill="rgb(67,67,67)"/>
<rect x="106.90" y="224.71" width="3.71" height="3.71" fill="rgb(44,44,44)"/>
<rect x="110.31" y="224.71" width="3.71" height="3.71" fill="rgb(70,70,70)"/>
<rect x="113.73" y="224.71" width="3.71" height="3.71" fill="rgb(146,146,146)"/>
<rect x="117.14" y="224.71" width="3.71" height="3.71" fill="rgb(191,191,191)"/>
<rect x="120.55" y="224.71" width="3.71" height="3.71" fill="rgb(206,206,206)"/>
<rect x="123.96" y="224.71" width="3.71" height="3.71" fill="rgb(215,215,215)"/>
<rect x="127.38" y="224.71" width="3.71" height="3.71" fill="rgb(217,217,217)"/>
<rect x="130.79" y="224.71" width="3.71" height="3.71" fill="rgb(183,183,183)"/>
<rect x="134.20" y="224.71" width="3.71" height="3.71" fill="rgb(113,113,113)"/>
<rect x="137.61" y="224.71" width="3.71" height="3.71" fill="rgb(91,91,91)"/>
<rect x="141.03" y="224.71" width="3.71" height="3.71" fill="rgb(117,117,117)"/>
<rect x="144.44" y="224.71" width="3.71" height="3.71" fill="rgb(131,131,131)"/>
<rect x="147.85" y="224.71" width="3.71" height="3.71" fill="rgb(133,133,133)"/>
<rect x="151.26" y="224.71" width="3.71" height="3.71" fill="rgb(133,133,133)"/>
<rect x="154.68" y="224.71" width="3.71" height="3.71" fill="rgb(131,131,131)"/>
<rect x="158.09" y="224.71" width="3.71" height="3.71" fill="rgb(130,130,130)"/>
<rect x="161.50" y="224.71" width="3.71" height="3.71" fill="rgb(130,130,130)"/>
<rect x="164.91" y="224.71" width="3.71" height="3.71" fill="rgb(130,130,130)"/>
<rect x="18.18" y="228.12" width="3.71" height="3.71" fill="rgb(143,143,143)"/>
<rect x="21.59" y="228.12" width="3.71" height="3.71" fill="rgb(143,143,143)"/>
<rect x="25.00" y="228.12" width="3.71" height="3.71" fill="rgb(143,143,143)"/>
<rect x="28.41" y="228.12" width="3.71" height="3.71" fill="rgb(137,137,137)"/>
<rect x="31.82" y="228.12" width="3.71" height="3.71" fill="rgb(126,126,126)"/>
<rect x="35.24" y="228.12" width="3.71" height="3.71" fill="rgb(121,121,121)"/>
<rect x="38.65" y="228.12" width="3.71" height="3.71" fill="rgb(121,121,121)"/>
<rect x="42.06" y="228.12" width="3.71" height="3.71" fill="rgb(136,136,136)"/>
<rect x="45.48" y="228.12" width="3.71" height="3.71" fill="rgb(165,165,165)"/>
<rect x="48.89" y="228.12" width="3.71" height="3.71" fill="rgb(164,164,164)"/>
<rect x="52.30" y="228.12" width="3.71" height="3.71" fill="rgb(134,134,134)"/>
<rect x="55.71" y="228.12" width="3.71" height="3.71" fill="rgb(113,113,113)"/>
<rect x="59.12" y="228.12" width="3.71" height="3.71" fill="rgb(101,101,101)"/>
<rect x="62.54" y="228.12" width="3.71" height="3.71" fill="rgb(86,86,86)"/>
<rect x="65.95" y="228.12" width="3.71" height="3.71" fill="rgb(68,68,68)"/>
<rect x="69.36" y="228.12" width="3.71" height="3.71" fill="rgb(45,45,45)"/>
<rect x="72.78" y="228.12" width="3.71" height="3.71" fill="rgb(17,17,17)"/>
<rect x="76.19" y="228.12" width="3.71" height="3.71" fill="rgb(25,25,25)"/>
<rect x="79.60" y="228.12" width="3.71" height="3.71" fill="rgb(70,70,70)"/>
<rect x="83.01" y="228.12" width="3.71" height="3.71" fill="rgb(106,106,106)"/>
<rect x="86.43" y="228.12" width="3.71" height="3.71" fill="rgb(132,132,132)"/>
<rect x="89.84" y="228.12" width="3.71" height="3.71" fill="rgb(133,133,133)"/>
<rect x="93.25" y="228.12" width="3.71" height="3.71" fill="rgb(109,109,109)"/>
<rect x="96.66" y="228.12" width="3.71" height="3.71" fill="rgb(102,102,102)"/>
<rect x="100.08" y="228.12" width="3.71" height="3.71" fill="rgb(112,112,112)"/>
<rect x="103.49" y="228.12" width="3.71" height="3.71" fill="rgb(117,117,117)"/>
<rect x="106.90" y="228.12" width="3.71" height="3.71" fill="rgb(118,118,118)"/>
<rect x="110.31" y="228.12" width="3.71" height="3.71" fill="rgb(129,129,129)"/>
<rect x="113.73" y="228.12" width="3.71" height="3.71" fill="rgb(148,148,148)"/>
<rect x="117.14" y="228.12" width="3.71" height="3.71" fill="rgb(146,146,146)"/>
<rect x="120.55" y="228.12" width="3.71" height="3.71" fill="rgb(122,122,122)"/>
<rect x="123.96" y="228.12" width="3.71" height="3.71" fill="rgb(114,114,114)"/>
<rect x="127.38" y="228.12" width="3.71" height="3.71" fill="rgb(120,120,120)"/>
<rect x="130.79" y="228.12" width="3.71" height="3.71" fill="rgb(122,122,122)"/>
<rect x="134.20" y="228.12" width="3.71" height="3.71" fill="rgb(118,118,118)"/>
<rect x="137.61" y="228.12" width="3.71" height="3.71" fill="rgb(121,121,121)"/>
<rect x="141.03" y="228.12" width="3.71" height="3.71" fill="rgb(130,130,130)"/>
<rect x="144.44" y="228.12" width="3.71" height="3.71" fill="rgb(133,133,133)"/>
<rect x="147.85" y="228.12" width="3.71" height="3.71" fill="rgb(131,131,131)"/>
<rect x="151.26" y="228.12" width="3.71" height="3.71" fill="rgb(126,126,126)"/>
<rect x="154.68" y="228.12" width="3.71" height="3.71" fill="rgb(120,120,120)"/>
<rect x="158.09" y="228.12" width="3.71" height="3.71" fill="rgb(117,117,117)"/>
<rect x="161.50" y="228.12" width="3.71" height="3.71" fill="rgb(117,117,117)"/>
<rect x="164.91" y="228.12" width="3.71" height="3.71" fill="rgb(117,117,117)"/>
<rect x="18.18" y="231.54" width="3.71" height="3.71" fill="rgb(175,175,175)"/>
<rect x="21.59" y="231.54" width="3.71" height="3.71" fill="rgb(175,175,175)"/>
<rect x="25.00" y="231.54" width="3.71" height="3.71" fill="rgb(175,175,175)"/>
<rect x="28.41" y="231.54" width="3.71" height="3.71" fill="rgb(167,167,167)"/>
<rect x="31.82" y="231.54" width="3.71" height="3.71" fill="rgb(151,151,151)"/>
<rect x="35.24" y="231.54" width="3.71" height="3.71" fill="rgb(139,139,139)"/>
<rect x="38.65" y="231.54" width="3.71" height="3.71" fill="rgb(133,133,133)"/>
<rect x="42.06" y="231.54" width="3.71" height="3.71" fill="rgb(139,139,139)"/>
<rect x="45.48" y="231.54" width="3.71" height="3.71" fill="rgb(159,159,159)"/>
<rect x="48.89" y="231.54" width="3.71" height="3.71" fill="rgb(164,164,164)"/>
<rect x="52.30" y="231.54" width="3.71" height="3.71" fill="rgb(154,154,154)"/>
<rect x="55.71" y="231.54" width="3.71" height="3.71" fill="rgb(145,145,145)"/>
<rect x="59.12" y="231.54" width="3.71" height="3.71" fill="rgb(138,138,138)"/>
<rect x="62.54" y="231.54" width="3.71" height="3.71" fill="rgb(123,123,123)"/>
<rect x="65.95" y="231.54" width="3.71" height="3.71" fill="rgb(102,102,102)"/>
<rect x="69.36" y="231.54" width="3.71" height="3.71" fill="rgb(77,77,77)"/>
<rect x="72.78" y="231.54" width="3.71" height="3.71" fill="rgb(51,51,51)"/>
<rect x="76.19" y="231.54" width="3.71" height="3.71" fill="rgb(44,44,44)"/>
<rect x="79.60" y="231.54" width="3.71" height="3.71" fill="rgb(56,56,56)"/>
<rect x="83.01" y="231.54" width="3.71" height="3.71" fill="rgb(79,79,79)"/>
<rect x="86.43" y="231.54" width="3.71" height="3.71" fill="rgb(111,111,111)"/>
<rect x="89.84" y="231.54" width="3.71" height="3.71" fill="rgb(122,122,122)"/>
<rect x="93.25" y="231.54" width="3.71" height="3.71" fill="rgb(111,111,111)"/>
<rect x="96.66" y="231.54" width="3.71" height="3.71" fill="rgb(120,120,120)"/>
<rect x="100.08" y="231.54" width="3.71" height="3.71" fill="rgb(148,148,148)"/>
<rect x="103.49" y="231.54" width="3.71" height="3.71" fill="rgb(165,165,165)"/>
<rect x="106.90" y="231.54" width="3.71" height="3.71" fill="rgb(170,170,170)"/>
<rect x="110.31" y="231.54" width="3.71" height="3.71" fill="rgb(167,167,167)"/>
<rect x="113.73" y="231.54" width="3.71" height="3.71" fill="rgb(155,155,155)"/>
<rect x="117.14" y="231.54" width="3.71" height="3.71" fill="rgb(123,123,123)"/>
<rect x="120.55" y="231.54" width="3.71" height="3.71" fill="rgb(72,72,72)"/>
<rect x="123.96" y="231.54" width="3.71" height="3.71" fill="rgb(56,56,56)"/>
<rect x="127.38" y="231.54" width="3.71" height="3.71" fill="rgb(78,78,78)"/>
<rect x="130.79" y="231.54" width="3.71" height="3.71" fill="rgb(102,102,102)"/>
<rect x="134.20" y="231.54" width="3.71" height="3.71" fill="rgb(128,128,128)"/>
<rect x="137.61" y="231.54" width="3.71" height="3.71" fill="rgb(141,141,141)"/>
<rect x="141.03" y="231.54" width="3.71" height="3.71" fill="rgb(142,142,142)"/>
<rect x="144.44" y="231.54" width="3.71" height="3.71" fill="rgb(139,139,139)"/>
<rect x="147.85" y="231.54" width="3.71" height="3.71" fill="rgb(133,133,133)"/>
<rect x="151.26" y="231.54" width="3.71" height="3.71" fill="rgb(126,126,126)"/>
<rect x="154.68" y="231.54" width="3.71" height="3.71" fill="rgb(118,118,118)"/>
<rect x="158.09" y="231.54" width="3.71" height="3.71" fill="rgb(115,115,115)"/>
<rect x="161.50" y="231.54" width="3.71" height="3.71" fill="rgb(115,115,115)"/>
<rect x="164.91" y="231.54" width="3.71" height="3.71" fill="rgb(115,115,115)"/>
<rect x="18.18" y="234.95" width="3.71" height="3.71" fill="rgb(183,183,183)"/>
<rect x="21.59" y="234.95" width="3.71" height="3.71" fill="rgb(183,183,183)"/>
<rect x="25.00" y="234.95" width="3.71" height="3.71" fill="rgb(183,183,183)"/>
<rect x="28.41" y="234.95" width="3.71" height="3.71" fill="rgb(176,176,176)"/>
<rect x="31.82" y="234.95" width="3.71" height="3.71" fill="rgb(162,162,162)"/>
<rect x="35.24" y="234.95" width="3.71" height="3.71" fill="rgb(154,154,154)"/>
<rect x="38.65" y="234.95" width="3.71" height="3.71" fill="rgb(152,152,152)"/>
<rect x="42.06" y="234.95" width="3.71" height="3.71" fill="rgb(159,159,159)"/>
<rect x="45.48" y="234.95" width="3.71" height="3.71" fill="rgb(174,174,174)"/>
<rect x="48.89" y="234.95" width="3.71" height="3.71" fill="rgb(175,175,175)"/>
<rect x="52.30" y="234.95" width="3.71" height="3.71" fill="rgb(164,164,164)"/>
<rect x="55.71" y="234.95" width="3.71" height="3.71" fill="rgb(151,151,151)"/>
<rect x="59.12" y="234.95" width="3.71" height="3.71" fill="rgb(137,137,137)"/>
<rect x="62.54" y="234.95" width="3.71" height="3.71" fill="rgb(127,127,127)"/>
<rect x="65.95" y="234.95" width="3.71" height="3.71" fill="rgb(123,123,123)"/>
<rect x="69.36" y="234.95" width="3.71" height="3.71" fill="rgb(124,124,124)"/>
<rect x="72.78" y="234.95" width="3.71" height="3.71" fill="rgb(129,129,129)"/>
<rect x="76.19" y="234.95" width="3.71" height="3.71" fill="rgb(108,108,108)"/>
<rect x="79.60" y="234.95" width="3.71" height="3.71" fill="rgb(61,61,61)"/>
<rect x="83.01" y="234.95" width="3.71" height="3.71" fill="rgb(51,51,51)"/>
<rect x="86.43" y="234.95" width="3.71" height="3.71" fill="rgb(79,79,79)"/>
<rect x="89.84" y="234.95" width="3.71" height="3.71" fill="rgb(103,103,103)"/>
<rect x="93.25" y="234.95" width="3.71" height="3.71" fill="rgb(122,122,122)"/>
<rect x="96.66" y="234.95" width="3.71" height="3.71" fill="rgb(152,152,152)"/>
<rect x="100.08" y="234.95" width="3.71" height="3.71" fill="rgb(193,193,193)"/>
<rect x="103.49" y="234.95" width="3.71" height="3.71" fill="rgb(209,209,209)"/>
<rect x="106.90" y="234.95" width="3.71" height="3.71" fill="rgb(199,199,199)"/>
<rect x="110.31" y="234.95" width="3.71" height="3.71" fill="rgb(185,185,185)"/>
<rect x="113.73" y="234.95" width="3.71" height="3.71" fill="rgb(167,167,167)"/>
<rect x="117.14" y="234.95" width="3.71" height="3.71" fill="rgb(123,123,123)"/>
<rect x="120.55" y="234.95" width="3.71" height="3.71" fill="rgb(54,54,54)"/>
<rect x="123.96" y="234.95" width="3.71" height="3.71" fill="rgb(44,44,44)"/>
<rect x="127.38" y="234.95" width="3.71" height="3.71" fill="rgb(91,91,91)"/>
<rect x="130.79" y="234.95" width="3.71" height="3.71" fill="rgb(123,123,123)"/>
<rect x="134.20" y="234.95" width="3.71" height="3.71" fill="rgb(140,140,140)"/>
<rect x="137.61" y="234.95" width="3.71" height="3.71" fill="rgb(151,151,151)"/>
<rect x="141.03" y="234.95" width="3.71" height="3.71" fill="rgb(154,154,154)"/>
<rect x="144.44" y="234.95" width="3.71" height="3.71" fill="rgb(150,150,150)"/>
<rect x="147.85" y="234.95" width="3.71" height="3.71" fill="rgb(139,139,139)"/>
<rect x="151.26" y="234.95" width="3.71" height="3.71" fill="rgb(131,131,131)"/>
<rect x="154.68" y="234.95" width="3.71" height="3.71" fill="rgb(126,126,126)"/>
<rect x="158.09" y="234.95" width="3.71" height="3.71" fill="rgb(123,123,123)"/>
<rect x="161.50" y="234.95" width="3.71" height="3.71" fill="rgb(123,123,123)"/>
<rect x="164.91" y="234.95" width="3.71" height="3.71" fill="rgb(123,123,123)"/>
<rect x="18.18" y="238.36" width="3.71" height="3.71" fill="rgb(194,194,194)"/>
<rect x="21.59" y="238.36" width="3.71" height="3.71" fill="rgb(194,194,194)"/>
<rect x="25.00" y="238.36" width="3.71" height="3.71" fill="rgb(194,194,194)"/>
<rect x="28.41" y="238.36" width="3.71" height="3.71" fill="rgb(186,186,186)"/>
<rect x="31.82" y="238.36" width="3.71" height="3.71" fill="rgb(168,168,168)"/>
<rect x="35.24" y="238.36" width="3.71" height="3.71" fill="rgb(160,160,160)"/>
<rect x="38.65" y="238.36" width="3.71" height="3.71" fill="rgb(160,160,160)"/>
<rect x="42.06" y="238.36" width="3.71" height="3.71" fill="rgb(168,168,168)"/>
<rect x="45.48" y="238.36" width="3.71" height="3.71" fill="rgb(184,184,184)"/>
<rect x="48.89" y="238.36" width="3.71" height="3.71" fill="rgb(185,185,185)"/>
<rect x="52.30" y="238.36" width="3.71" height="3.71" fill="rgb(171,171,171)"/>
<rect x="55.71" y="238.36" width="3.71" height="3.71" fill="rgb(155,155,155)"/>
<rect x="59.12" y="238.36" width="3.71" height="3.71" fill="rgb(138,138,138)"/>
<rect x="62.54" y="238.36" width="3.71" height="3.71" fill="rgb(132,132,132)"/>
<rect x="65.95" y="238.36" width="3.71" height="3.71" fill="rgb(136,136,136)"/>
<rect x="69.36" y="238.36" width="3.71" height="3.71" fill="rgb(151,151,151)"/>
<rect x="72.78" y="238.36" width="3.71" height="3.71" fill="rgb(175,175,175)"/>
<rect x="76.19" y="238.36" width="3.71" height="3.71" fill="rgb(147,147,147)"/>
<rect x="79.60" y="238.36" width="3.71" height="3.71" fill="rgb(65,65,65)"/>
<rect x="83.01" y="238.36" width="3.71" height="3.71" fill="rgb(44,44,44)"/>
<rect x="86.43" y="238.36" width="3.71" height="3.71" fill="rgb(82,82,82)"/>
<rect x="89.84" y="238.36" width="3.71" height="3.71" fill="rgb(120,120,120)"/>
<rect x="93.25" y="238.36" width="3.71" height="3.71" fill="rgb(157,157,157)"/>
<rect x="96.66" y="238.36" width="3.71" height="3.71" fill="rgb(192,192,192)"/>
<rect x="100.08" y="238.36" width="3.71" height="3.71" fill="rgb(225,225,225)"/>
<rect x="103.49" y="238.36" width="3.71" height="3.71" fill="rgb(231,231,231)"/>
<rect x="106.90" y="238.36" width="3.71" height="3.71" fill="rgb(211,211,211)"/>
<rect x="110.31" y="238.36" width="3.71" height="3.71" fill="rgb(189,189,189)"/>
<rect x="113.73" y="238.36" width="3.71" height="3.71" fill="rgb(167,167,167)"/>
<rect x="117.14" y="238.36" width="3.71" height="3.71" fill="rgb(123,123,123)"/>
<rect x="120.55" y="238.36" width="3.71" height="3.71" fill="rgb(57,57,57)"/>
<rect x="123.96" y="238.36" width="3.71" height="3.71" fill="rgb(50,50,50)"/>
<rect x="127.38" y="238.36" width="3.71" height="3.71" fill="rgb(102,102,102)"/>
<rect x="130.79" y="238.36" width="3.71" height="3.71" fill="rgb(134,134,134)"/>
<rect x="134.20" y="238.36" width="3.71" height="3.71" fill="rgb(148,148,148)"/>
<rect x="137.61" y="238.36" width="3.71" height="3.71" fill="rgb(158,158,158)"/>
<rect x="141.03" y="238.36" width="3.71" height="3.71" fill="rgb(164,164,164)"/>
<rect x="144.44" y="238.36" width="3.71" height="3.71" fill="rgb(160,160,160)"/>
<rect x="147.85" y="238.36" width="3.71" height="3.71" fill="rgb(147,147,147)"/>
<rect x="151.26" y="238.36" width="3.71" height="3.71" fill="rgb(137,137,137)"/>
<rect x="154.68" y="238.36" width="3.71" height="3.71" fill="rgb(131,131,131)"/>
<rect x="158.09" y="238.36" width="3.71" height="3.71" fill="rgb(128,128,128)"/>
<rect x="161.50" y="238.36" width="3.71" height="3.71" fill="rgb(128,128,128)"/>
<rect x="164.91" y="238.36" width="3.71" height="3.71" fill="rgb(128,128,128)"/>
<rect x="18.18" y="241.78" width="3.71" height="3.71" fill="rgb(207,207,207)"/>
<rect x="21.59" y="241.78" width="3.71" height="3.71" fill="rgb(207,207,207)"/>
<rect x="25.00" y="241.78" width="3.71" height="3.71" fill="rgb(207,207,207)"/>
<rect x="28.41" y="241.78" width="3.71" height="3.71" fill="rgb(194,194,194)"/>
<rect x="31.82" y="241.78" width="3.71" height="3.71" fill="rgb(168,168,168)"/>
<rect x="35.24" y="241.78" width="3.71" height="3.71" fill="rgb(155,155,155)"/>
<rect x="38.65" y="241.78" width="3.71" height="3.71" fill="rgb(155,155,155)"/>
<rect x="42.06" y="241.78" width="3.71" height="3.71" fill="rgb(167,167,167)"/>
<rect x="45.48" y="241.78" width="3.71" height="3.71" fill="rgb(189,189,189)"/>
<rect x="48.89" y="241.78" width="3.71" height="3.71" fill="rgb(193,193,193)"/>
<rect x="52.30" y="241.78" width="3.71" height="3.71" fill="rgb(176,176,176)"/>
<rect x="55.71" y="241.78" width="3.71" height="3.71" fill="rgb(160,160,160)"/>
<rect x="59.12" y="241.78" width="3.71" height="3.71" fill="rgb(143,143,143)"/>
<rect x="62.54" y="241.78" width="3.71" height="3.71" fill="rgb(136,136,136)"/>
<rect x="65.95" y="241.78" width="3.71" height="3.71" fill="rgb(140,140,140)"/>
<rect x="69.36" y="241.78" width="3.71" height="3.71" fill="rgb(158,158,158)"/>
<rect x="72.78" y="241.78" width="3.71" height="3.71" fill="rgb(189,189,189)"/>
<rect x="76.19" y="241.78" width="3.71" height="3.71" fill="rgb(160,160,160)"/>
<rect x="79.60" y="241.78" width="3.71" height="3.71" fill="rgb(69,69,69)"/>
<rect x="83.01" y="241.78" width="3.71" height="3.71" fill="rgb(56,56,56)"/>
<rect x="86.43" y="241.78" width="3.71" height="3.71" fill="rgb(121,121,121)"/>
<rect x="89.84" y="241.78" width="3.71" height="3.71" fill="rgb(174,174,174)"/>
<rect x="93.25" y="241.78" width="3.71" height="3.71" fill="rgb(215,215,215)"/>
<rect x="96.66" y="241.78" width="3.71" height="3.71" fill="rgb(238,238,238)"/>
<rect x="100.08" y="241.78" width="3.71" height="3.71" fill="rgb(243,243,243)"/>
<rect x="103.49" y="241.78" width="3.71" height="3.71" fill="rgb(232,232,232)"/>
<rect x="106.90" y="241.78" width="3.71" height="3.71" fill="rgb(205,205,205)"/>
<rect x="110.31" y="241.78" width="3.71" height="3.71" fill="rgb(180,180,180)"/>
<rect x="113.73" y="241.78" width="3.71" height="3.71" fill="rgb(155,155,155)"/>
<rect x="117.14" y="241.78" width="3.71" height="3.71" fill="rgb(122,122,122)"/>
<rect x="120.55" y="241.78" width="3.71" height="3.71" fill="rgb(80,80,80)"/>
<rect x="123.96" y="241.78" width="3.71" height="3.71" fill="rgb(76,76,76)"/>
<rect x="127.38" y="241.78" width="3.71" height="3.71" fill="rgb(110,110,110)"/>
<rect x="130.79" y="241.78" width="3.71" height="3.71" fill="rgb(136,136,136)"/>
<rect x="134.20" y="241.78" width="3.71" height="3.71" fill="rgb(152,152,152)"/>
<rect x="137.61" y="241.78" width="3.71" height="3.71" fill="rgb(164,164,164)"/>
<rect x="141.03" y="241.78" width="3.71" height="3.71" fill="rgb(171,171,171)"/>
<rect x="144.44" y="241.78" width="3.71" height="3.71" fill="rgb(168,168,168)"/>
<rect x="147.85" y="241.78" width="3.71" height="3.71" fill="rgb(155,155,155)"/>
<rect x="151.26" y="241.78" width="3.71" height="3.71" fill="rgb(144,144,144)"/>
<rect x="154.68" y="241.78" width="3.71" height="3.71" fill="rgb(133,133,133)"/>
<rect x="158.09" y="241.78" width="3.71" height="3.71" fill="rgb(128,128,128)"/>
<rect x="161.50" y="241.78" width="3.71" height="3.71" fill="rgb(128,128,128)"/>
<rect x="164.91" y="241.78" width="3.71" height="3.71" fill="rgb(128,128,128)"/>
<rect x="18.18" y="245.19" width="3.71" height="3.71" fill="rgb(229,229,229)"/>
<rect x="21.59" y="245.19" width="3.71" height="3.71" fill="rgb(229,229,229)"/>
<rect x="25.00" y="245.19" width="3.71" height="3.71" fill="rgb(229,229,229)"/>
<rect x="28.41" y="245.19" width="3.71" height="3.71" fill="rgb(216,216,216)"/>
<rect x="31.82" y="245.19" width="3.71" height="3.71" fill="rgb(192,192,192)"/>
<rect x="35.24" y="245.19" width="3.71" height="3.71" fill="rgb(177,177,177)"/>
<rect x="38.65" y="245.19" width="3.71" height="3.71" fill="rgb(173,173,173)"/>
<rect x="42.06" y="245.19" width="3.71" height="3.71" fill="rgb(178,178,178)"/>
<rect x="45.48" y="245.19" width="3.71" height="3.71" fill="rgb(192,192,192)"/>
<rect x="48.89" y="245.19" width="3.71" height="3.71" fill="rgb(192,192,192)"/>
<rect x="52.30" y="245.19" width="3.71" height="3.71" fill="rgb(179,179,179)"/>
<rect x="55.71" y="245.19" width="3.71" height="3.71" fill="rgb(167,167,167)"/>
<rect x="59.12" y="245.19" width="3.71" height="3.71" fill="rgb(157,157,157)"/>
<rect x="62.54" y="245.19" width="3.71" height="3.71" fill="rgb(156,156,156)"/>
<rect x="65.95" y="245.19" width="3.71" height="3.71" fill="rgb(166,166,166)"/>
<rect x="69.36" y="245.19" width="3.71" height="3.71" fill="rgb(186,186,186)"/>
<rect x="72.78" y="245.19" width="3.71" height="3.71" fill="rgb(216,216,216)"/>
<rect x="76.19" y="245.19" width="3.71" height="3.71" fill="rgb(183,183,183)"/>
<rect x="79.60" y="245.19" width="3.71" height="3.71" fill="rgb(89,89,89)"/>
<rect x="83.01" y="245.19" width="3.71" height="3.71" fill="rgb(79,79,79)"/>
<rect x="86.43" y="245.19" width="3.71" height="3.71" fill="rgb(154,154,154)"/>
<rect x="89.84" y="245.19" width="3.71" height="3.71" fill="rgb(197,197,197)"/>
<rect x="93.25" y="245.19" width="3.71" height="3.71" fill="rgb(208,208,208)"/>
<rect x="96.66" y="245.19" width="3.71" height="3.71" fill="rgb(215,215,215)"/>
<rect x="100.08" y="245.19" width="3.71" height="3.71" fill="rgb(217,217,217)"/>
<rect x="103.49" y="245.19" width="3.71" height="3.71" fill="rgb(199,199,199)"/>
<rect x="106.90" y="245.19" width="3.71" height="3.71" fill="rgb(161,161,161)"/>
<rect x="110.31" y="245.19" width="3.71" height="3.71" fill="rgb(139,139,139)"/>
<rect x="113.73" y="245.19" width="3.71" height="3.71" fill="rgb(133,133,133)"/>
<rect x="117.14" y="245.19" width="3.71" height="3.71" fill="rgb(116,116,116)"/>
<rect x="120.55" y="245.19" width="3.71" height="3.71" fill="rgb(89,89,89)"/>
<rect x="123.96" y="245.19" width="3.71" height="3.71" fill="rgb(81,81,81)"/>
<rect x="127.38" y="245.19" width="3.71" height="3.71" fill="rgb(92,92,92)"/>
<rect x="130.79" y="245.19" width="3.71" height="3.71" fill="rgb(102,102,102)"/>
<rect x="134.20" y="245.19" width="3.71" height="3.71" fill="rgb(110,110,110)"/>
<rect x="137.61" y="245.19" width="3.71" height="3.71" fill="rgb(118,118,118)"/>
<rect x="141.03" y="245.19" width="3.71" height="3.71" fill="rgb(124,124,124)"/>
<rect x="144.44" y="245.19" width="3.71" height="3.71" fill="rgb(123,123,123)"/>
<rect x="147.85" y="245.19" width="3.71" height="3.71" fill="rgb(115,115,115)"/>
<rect x="151.26" y="245.19" width="3.71" height="3.71" fill="rgb(106,106,106)"/>
<rect x="154.68" y="245.19" width="3.71" height="3.71" fill="rgb(97,97,97)"/>
<rect x="158.09" y="245.19" width="3.71" height="3.71" fill="rgb(93,93,93)"/>
<rect x="161.50" y="245.19" width="3.71" height="3.71" fill="rgb(93,93,93)"/>
<rect x="164.91" y="245.19" width="3.71" height="3.71" fill="rgb(93,93,93)"/>
<rect x="18.18" y="248.60" width="3.71" height="3.71" fill="rgb(255,255,255)"/>
<rect x="21.59" y="248.60" width="3.71" height="3.71" fill="rgb(255,255,255)"/>
<rect x="25.00" y="248.60" width="3.71" height="3.71" fill="rgb(255,255,255)"/>
<rect x="28.41" y="248.60" width="3.71" height="3.71" fill="rgb(252,252,252)"/>
<rect x="31.82" y="248.60" width="3.71" height="3.71" fill="rgb(238,238,238)"/>
<rect x="35.24" y="248.60" width="3.71" height="3.71" fill="rgb(224,224,224)"/>
<rect x="38.65" y="248.60" width="3.71" height="3.71" fill="rgb(211,211,211)"/>
<rect x="42.06" y="248.60" width="3.71" height="3.71" fill="rgb(200,200,200)"/>
<rect x="45.48" y="248.60" width="3.71" height="3.71" fill="rgb(190,190,190)"/>
<rect x="48.89" y="248.60" width="3.71" height="3.71" fill="rgb(183,183,183)"/>
<rect x="52.30" y="248.60" width="3.71" height="3.71" fill="rgb(179,179,179)"/>
<rect x="55.71" y="248.60" width="3.71" height="3.71" fill="rgb(178,178,178)"/>
<rect x="59.12" y="248.60" width="3.71" height="3.71" fill="rgb(180,180,180)"/>
<rect x="62.54" y="248.60" width="3.71" height="3.71" fill="rgb(192,192,192)"/>
<rect x="65.95" y="248.60" width="3.71" height="3.71" fill="rgb(212,212,212)"/>
<rect x="69.36" y="248.60" width="3.71" height="3.71" fill="rgb(233,233,233)"/>
<rect x="72.78" y="248.60" width="3.71" height="3.71" fill="rgb(254,254,254)"/>
<rect x="76.19" y="248.60" width="3.71" height="3.71" fill="rgb(218,218,218)"/>
<rect x="79.60" y="248.60" width="3.71" height="3.71" fill="rgb(123,123,123)"/>
<rect x="83.01" y="248.60" width="3.71" height="3.71" fill="rgb(111,111,111)"/>
<rect x="86.43" y="248.60" width="3.71" height="3.71" fill="rgb(182,182,182)"/>
<rect x="89.84" y="248.60" width="3.71" height="3.71" fill="rgb(191,191,191)"/>
<rect x="93.25" y="248.60" width="3.71" height="3.71" fill="rgb(137,137,137)"/>
<rect x="96.66" y="248.60" width="3.71" height="3.71" fill="rgb(122,122,122)"/>
<rect x="100.08" y="248.60" width="3.71" height="3.71" fill="rgb(146,146,146)"/>
<rect x="103.49" y="248.60" width="3.71" height="3.71" fill="rgb(131,131,131)"/>
<rect x="106.90" y="248.60" width="3.71" height="3.71" fill="rgb(79,79,79)"/>
<rect x="110.31" y="248.60" width="3.71" height="3.71" fill="rgb(68,68,68)"/>
<rect x="113.73" y="248.60" width="3.71" height="3.71" fill="rgb(101,101,101)"/>
<rect x="117.14" y="248.60" width="3.71" height="3.71" fill="rgb(107,107,107)"/>
<rect x="120.55" y="248.60" width="3.71" height="3.71" fill="rgb(86,86,86)"/>
<rect x="123.96" y="248.60" width="3.71" height="3.71" fill="rgb(66,66,66)"/>
<rect x="127.38" y="248.60" width="3.71" height="3.71" fill="rgb(47,47,47)"/>
<rect x="130.79" y="248.60" width="3.71" height="3.71" fill="rgb(33,33,33)"/>
<rect x="134.20" y="248.60" width="3.71" height="3.71" fill="rgb(24,24,24)"/>
<rect x="137.61" y="248.60" width="3.71" height="3.71" fill="rgb(21,21,21)"/>
<rect x="141.03" y="248.60" width="3.71" height="3.71" fill="rgb(23,23,23)"/>
<rect x="144.44" y="248.60" width="3.71" height="3.71" fill="rgb(24,24,24)"/>
<rect x="147.85" y="248.60" width="3.71" height="3.71" fill="rgb(24,24,24)"/>
<rect x="151.26" y="248.60" width="3.71" height="3.71" fill="rgb(24,24,24)"/>
<rect x="154.68" y="248.60" width="3.71" height="3.71" fill="rgb(24,24,24)"/>
<rect x="158.09" y="248.60" width="3.71" height="3.71" fill="rgb(24,24,24)"/>
<rect x="161.50" y="248.60" width="3.71" height="3.71" fill="rgb(24,24,24)"/>
<rect x="164.91" y="248.60" width="3.71" height="3.71" fill="rgb(24,24,24)"/>
<rect x="18.18" y="252.01" width="3.71" height="3.71" fill="rgb(255,255,255)"/>
<rect x="21.59" y="252.01" width="3.71" height="3.71" fill="rgb(255,255,255)"/>
<rect x="25.00" y="252.01" width="3.71" height="3.71" fill="rgb(255,255,255)"/>
<rect x="28.41" y="252.01" width="3.71" height="3.71" fill="rgb(255,255,255)"/>
<rect x="31.82" y="252.01" width="3.71" height="3.71" fill="rgb(255,255,255)"/>
<rect x="35.24" y="252.01" width="3.71" height="3.71" fill="rgb(255,255,255)"/>
<rect x="38.65" y="252.01" width="3.71" height="3.71" fill="rgb(241,241,241)"/>
<rect x="42.06" y="252.01" width="3.71" height="3.71" fill="rgb(221,221,221)"/>
<rect x="45.48" y="252.01" width="3.71" height="3.71" fill="rgb(196,196,196)"/>
<rect x="48.89" y="252.01" width="3.71" height="3.71" fill="rgb(182,182,182)"/>
<rect x="52.30" y="252.01" width="3.71" height="3.71" fill="rgb(180,180,180)"/>
<rect x="55.71" y="252.01" width="3.71" height="3.71" fill="rgb(186,186,186)"/>
<rect x="59.12" y="252.01" width="3.71" height="3.71" fill="rgb(199,199,199)"/>
<rect x="62.54" y="252.01" width="3.71" height="3.71" fill="rgb(218,218,218)"/>
<rect x="65.95" y="252.01" width="3.71" height="3.71" fill="rgb(245,245,245)"/>
<rect x="69.36" y="252.01" width="3.71" height="3.71" fill="rgb(255,255,255)"/>
<rect x="72.78" y="252.01" width="3.71" height="3.71" fill="rgb(255,255,255)"/>
<rect x="76.19" y="252.01" width="3.71" height="3.71" fill="rgb(233,233,233)"/>
<rect x="79.60" y="252.01" width="3.71" height="3.71" fill="rgb(134,134,134)"/>
<rect x="83.01" y="252.01" width="3.71" height="3.71" fill="rgb(119,119,119)"/>
<rect x="86.43" y="252.01" width="3.71" height="3.71" fill="rgb(188,188,188)"/>
<rect x="89.84" y="252.01" width="3.71" height="3.71" fill="rgb(186,186,186)"/>
<rect x="93.25" y="252.01" width="3.71" height="3.71" fill="rgb(112,112,112)"/>
<rect x="96.66" y="252.01" width="3.71" height="3.71" fill="rgb(86,86,86)"/>
<rect x="100.08" y="252.01" width="3.71" height="3.71" fill="rgb(105,105,105)"/>
<rect x="103.49" y="252.01" width="3.71" height="3.71" fill="rgb(87,87,87)"/>
<rect x="106.90" y="252.01" width="3.71" height="3.71" fill="rgb(32,32,32)"/>
<rect x="110.31" y="252.01" width="3.71" height="3.71" fill="rgb(28,28,28)"/>
<rect x="113.73" y="252.01" width="3.71" height="3.71" fill="rgb(74,74,74)"/>
<rect x="117.14" y="252.01" width="3.71" height="3.71" fill="rgb(95,95,95)"/>
<rect x="120.55" y="252.01" width="3.71" height="3.71" fill="rgb(89,89,89)"/>
<rect x="123.96" y="252.01" width="3.71" height="3.71" fill="rgb(65,65,65)"/>
<rect x="127.38" y="252.01" width="3.71" height="3.71" fill="rgb(20,20,20)"/>
<rect x="130.79" y="252.01" width="3.71" height="3.71" fill="rgb(0,0,0)"/>
<rect x="134.20" y="252.01" width="3.71" height="3.71" fill="rgb(0,0,0)"/>
<rect x="137.61" y="252.01" width="3.71" height="3.71" fill="rgb(0,0,0)"/>
<rect x="141.03" y="252.01" width="3.71" height="3.71" fill="rgb(0,0,0)"/>
<rect x="144.44" y="252.01" width="3.71" height="3.71" fill="rgb(0,0,0)"/>
<rect x="147.85" y="252.01" width="3.71" height="3.71" fill="rgb(0,0,0)"/>
<rect x="151.26" y="252.01" width="3.71" height="3.71" fill="rgb(0,0,0)"/>
<rect x="154.68" y="252.01" width="3.71" height="3.71" fill="rgb(0,0,0)"/>
<rect x="158.09" y="252.01" width="3.71" height="3.71" fill="rgb(0,0,0)"/>
<rect x="161.50" y="252.01" width="3.71" height="3.71" fill="rgb(0,0,0)"/>
<rect x="164.91" y="252.01" width="3.71" height="3.71" fill="rgb(0,0,0)"/>
<rect x="18.18" y="255.43" width="3.71" height="3.71" fill="rgb(255,255,255)"/>
<rect x="21.59" y="255.43" width="3.71" height="3.71" fill="rgb(255,255,255)"/>
<rect x="25.00" y="255.43" width="3.71" height="3.71" fill="rgb(255,255,255)"/>
<rect x="28.41" y="255.43" width="3.71" height="3.71" fill="rgb(255,255,255)"/>
<rect x="31.82" y="255.43" width="3.71" height="3.71" fill="rgb(255,255,255)"/>
<rect x="35.24" y="255.43" width="3.71" height="3.71" fill="rgb(255,255,255)"/>
<rect x="38.65" y="255.43" width="3.71" height="3.71" fill="rgb(255,255,255)"/>
<rect x="42.06" y="255.43" width="3.71" height="3.71" fill="rgb(239,239,239)"/>
<rect x="45.48" y="255.43" width="3.71" height="3.71" fill="rgb(208,208,208)"/>
<rect x="48.89" y="255.43" width="3.71" height="3.71" fill="rgb(189,189,189)"/>
<rect x="52.30" y="255.43" width="3.71" height="3.71" fill="rgb(182,182,182)"/>
<rect x="55.71" y="255.43" width="3.71" height="3.71" fill="rgb(190,190,190)"/>
<rect x="59.12" y="255.43" width="3.71" height="3.71" fill="rgb(211,211,211)"/>
<rect x="62.54" y="255.43" width="3.71" height="3.71" fill="rgb(237,237,237)"/>
<rect x="65.95" y="255.43" width="3.71" height="3.71" fill="rgb(255,255,255)"/>
<rect x="69.36" y="255.43" width="3.71" height="3.71" fill="rgb(255,255,255)"/>
<rect x="72.78" y="255.43" width="3.71" height="3.71" fill="rgb(255,255,255)"/>
<rect x="76.19" y="255.43" width="3.71" height="3.71" fill="rgb(229,229,229)"/>
<rect x="79.60" y="255.43" width="3.71" height="3.71" fill="rgb(121,121,121)"/>
<rect x="83.01" y="255.43" width="3.71" height="3.71" fill="rgb(102,102,102)"/>
<rect x="86.43" y="255.43" width="3.71" height="3.71" fill="rgb(171,171,171)"/>
<rect x="89.84" y="255.43" width="3.71" height="3.71" fill="rgb(181,181,181)"/>
<rect x="93.25" y="255.43" width="3.71" height="3.71" fill="rgb(134,134,134)"/>
<rect x="96.66" y="255.43" width="3.71" height="3.71" fill="rgb(105,105,105)"/>
<rect x="100.08" y="255.43" width="3.71" height="3.71" fill="rgb(94,94,94)"/>
<rect x="103.49" y="255.43" width="3.71" height="3.71" fill="rgb(67,67,67)"/>
<rect x="106.90" y="255.43" width="3.71" height="3.71" fill="rgb(23,23,23)"/>
<rect x="110.31" y="255.43" width="3.71" height="3.71" fill="rgb(18,18,18)"/>
<rect x="113.73" y="255.43" width="3.71" height="3.71" fill="rgb(54,54,54)"/>
<rect x="117.14" y="255.43" width="3.71" height="3.71" fill="rgb(81,81,81)"/>
<rect x="120.55" y="255.43" width="3.71" height="3.71" fill="rgb(99,99,99)"/>
<rect x="123.96" y="255.43" width="3.71" height="3.71" fill="rgb(76,76,76)"/>
<rect x="127.38" y="255.43" width="3.71" height="3.71" fill="rgb(13,13,13)"/>
<rect x="130.79" y="255.43" width="3.71" height="3.71" fill="rgb(0,0,0)"/>
<rect x="134.20" y="255.43" width="3.71" height="3.71" fill="rgb(0,0,0)"/>
<rect x="137.61" y="255.43" width="3.71" height="3.71" fill="rgb(0,0,0)"/>
<rect x="141.03" y="255.43" width="3.71" height="3.71" fill="rgb(0,0,0)"/>
<rect x="144.44" y="255.43" width="3.71" height="3.71" fill="rgb(0,0,0)"/>
<rect x="147.85" y="255.43" width="3.71" height="3.71" fill="rgb(0,0,0)"/>
<rect x="151.26" y="255.43" width="3.71" height="3.71" fill="rgb(0,0,0)"/>
<rect x="154.68" y="255.43" width="3.71" height="3.71" fill="rgb(0,0,0)"/>
<rect x="158.09" y="255.43" width="3.71" height="3.71" fill="rgb(0,0,0)"/>
<rect x="161.50" y="255.43" width="3.71" height="3.71" fill="rgb(0,0,0)"/>
<rect x="164.91" y="255.43" width="3.71" height="3.71" fill="rgb(0,0,0)"/>
<rect x="18.18" y="258.84" width="3.71" height="3.71" fill="rgb(255,255,255)"/>
<rect x="21.59" y="258.84" width="3.71" height="3.71" fill="rgb(255,255,255)"/>
<rect x="25.00" y="258.84" width="3.71" height="3.71" fill="rgb(255,255,255)"/>
<rect x="28.41" y="258.84" width="3.71" height="3.71" fill="rgb(255,255,255)"/>
<rect x="31.82" y="258.84" width="3.71" height="3.71" fill="rgb(255,255,255)"/>
<rect x="35.24" y="258.84" width="3.71" height="3.71" fill="rgb(255,255,255)"/>
<rect x="38.65" y="258.84" width="3.71" height="3.71" fill="rgb(255,255,255)"/>
<rect x="42.06" y="258.84" width="3.71" height="3.71" fill="rgb(255,255,255)"/>
<rect x="45.48" y="258.84" width="3.71" height="3.71" fill="rgb(232,232,232)"/>
<rect x="48.89" y="258.84" width="3.71" height="3.71" fill="rgb(205,205,205)"/>
<rect x="52.30" y="258.84" width="3.71" height="3.71" fill="rgb(181,181,181)"/>
<rect x="55.71" y="258.84" width="3.71" height="3.71" fill="rgb(182,182,182)"/>
<rect x="59.12" y="258.84" width="3.71" height="3.71" fill="rgb(209,209,209)"/>
<rect x="62.54" y="258.84" width="3.71" height="3.71" fill="rgb(231,231,231)"/>
<rect x="65.95" y="258.84" width="3.71" height="3.71" fill="rgb(248,248,248)"/>
<rect x="69.36" y="258.84" width="3.71" height="3.71" fill="rgb(253,253,253)"/>
<rect x="72.78" y="258.84" width="3.71" height="3.71" fill="rgb(247,247,247)"/>
<rect x="76.19" y="258.84" width="3.71" height="3.71" fill="rgb(194,194,194)"/>
<rect x="79.60" y="258.84" width="3.71" height="3.71" fill="rgb(95,95,95)"/>
<rect x="83.01" y="258.84" width="3.71" height="3.71" fill="rgb(73,73,73)"/>
<rect x="86.43" y="258.84" width="3.71" height="3.71" fill="rgb(126,126,126)"/>
<rect x="89.84" y="258.84" width="3.71" height="3.71" fill="rgb(138,138,138)"/>
<rect x="93.25" y="258.84" width="3.71" height="3.71" fill="rgb(108,108,108)"/>
<rect x="96.66" y="258.84" width="3.71" height="3.71" fill="rgb(89,89,89)"/>
<rect x="100.08" y="258.84" width="3.71" height="3.71" fill="rgb(80,80,80)"/>
<rect x="103.49" y="258.84" width="3.71" height="3.71" fill="rgb(60,60,60)"/>
<rect x="106.90" y="258.84" width="3.71" height="3.71" fill="rgb(29,29,29)"/>
<rect x="110.31" y="258.84" width="3.71" height="3.71" fill="rgb(20,20,20)"/>
<rect x="113.73" y="258.84" width="3.71" height="3.71" fill="rgb(33,33,33)"/>
<rect x="117.14" y="258.84" width="3.71" height="3.71" fill="rgb(50,50,50)"/>
<rect x="120.55" y="258.84" width="3.71" height="3.71" fill="rgb(72,72,72)"/>
<rect x="123.96" y="258.84" width="3.71" height="3.71" fill="rgb(57,57,57)"/>
<rect x="127.38" y="258.84" width="3.71" height="3.71" fill="rgb(6,6,6)"/>
<rect x="130.79" y="258.84" width="3.71" height="3.71" fill="rgb(0,0,0)"/>
<rect x="134.20" y="258.84" width="3.71" height="3.71" fill="rgb(0,0,0)"/>
<rect x="137.61" y="258.84" width="3.71" height="3.71" fill="rgb(0,0,0)"/>
<rect x="141.03" y="258.84" width="3.71" height="3.71" fill="rgb(0,0,0)"/>
<rect x="144.44" y="258.84" width="3.71" height="3.71" fill="rgb(0,0,0)"/>
<rect x="147.85" y="258.84" width="3.71" height="3.71" fill="rgb(0,0,0)"/>
<rect x="151.26" y="258.84" width="3.71" height="3.71" fill="rgb(0,0,0)"/>
<rect x="154.68" y="258.84" width="3.71" height="3.71" fill="rgb(0,0,0)"/>
<rect x="158.09" y="258.84" width="3.71" height="3.71" fill="rgb(0,0,0)"/>
<rect x="161.50" y="258.84" width="3.71" height="3.71" fill="rgb(0,0,0)"/>
<rect x="164.91" y="258.84" width="3.71" height="3.71" fill="rgb(0,0,0)"/>
<rect x="18.18" y="262.25" width="3.71" height="3.71" fill="rgb(255,255,255)"/>
<rect x="21.59" y="262.25" width="3.71" height="3.71" fill="rgb(255,255,255)"/>
<rect x="25.00" y="262.25" width="3.71" height="3.71" fill="rgb(255,255,255)"/>
<rect x="28.41" y="262.25" width="3.71" height="3.71" fill="rgb(255,255,255)"/>
<rect x="31.82" y="262.25" width="3.71" height="3.71" fill="rgb(255,255,255)"/>
<rect x="35.24" y="262.25" width="3.71" height="3.71" fill="rgb(255,255,255)"/>
<rect x="38.65" y="262.25" width="3.71" height="3.71" fill="rgb(255,255,255)"/>
<rect x="42.06" y="262.25" width="3.71" height="3.71" fill="rgb(255,255,255)"/>
<rect x="45.48" y="262.25" width="3.71" height="3.71" fill="rgb(255,255,255)"/>
<rect x="48.89" y="262.25" width="3.71" height="3.71" fill="rgb(232,232,232)"/>
<rect x="52.30" y="262.25" width="3.71" height="3.71" fill="rgb(175,175,175)"/>
<rect x="55.71" y="262.25" width="3.71" height="3.71" fill="rgb(161,161,161)"/>
<rect x="59.12" y="262.25" width="3.71" height="3.71" fill="rgb(190,190,190)"/>
<rect x="62.54" y="262.25" width="3.71" height="3.71" fill="rgb(201,201,201)"/>
<rect x="65.95" y="262.25" width="3.71" height="3.71" fill="rgb(192,192,192)"/>
<rect x="69.36" y="262.25" width="3.71" height="3.71" fill="rgb(182,182,182)"/>
<rect x="72.78" y="262.25" width="3.71" height="3.71" fill="rgb(172,172,172)"/>
<rect x="76.19" y="262.25" width="3.71" height="3.71" fill="rgb(130,130,130)"/>
<rect x="79.60" y="262.25" width="3.71" height="3.71" fill="rgb(56,56,56)"/>
<rect x="83.01" y="262.25" width="3.71" height="3.71" fill="rgb(32,32,32)"/>
<rect x="86.43" y="262.25" width="3.71" height="3.71" fill="rgb(55,55,55)"/>
<rect x="89.84" y="262.25" width="3.71" height="3.71" fill="rgb(56,56,56)"/>
<rect x="93.25" y="262.25" width="3.71" height="3.71" fill="rgb(35,35,35)"/>
<rect x="96.66" y="262.25" width="3.71" height="3.71" fill="rgb(37,37,37)"/>
<rect x="100.08" y="262.25" width="3.71" height="3.71" fill="rgb(63,63,63)"/>
<rect x="103.49" y="262.25" width="3.71" height="3.71" fill="rgb(68,68,68)"/>
<rect x="106.90" y="262.25" width="3.71" height="3.71" fill="rgb(52,52,52)"/>
<rect x="110.31" y="262.25" width="3.71" height="3.71" fill="rgb(33,33,33)"/>
<rect x="113.73" y="262.25" width="3.71" height="3.71" fill="rgb(11,11,11)"/>
<rect x="117.14" y="262.25" width="3.71" height="3.71" fill="rgb(3,3,3)"/>
<rect x="120.55" y="262.25" width="3.71" height="3.71" fill="rgb(7,7,7)"/>
<rect x="123.96" y="262.25" width="3.71" height="3.71" fill="rgb(6,6,6)"/>
<rect x="127.38" y="262.25" width="3.71" height="3.71" fill="rgb(1,1,1)"/>
<rect x="130.79" y="262.25" width="3.71" height="3.71" fill="rgb(0,0,0)"/>
<rect x="134.20" y="262.25" width="3.71" height="3.71" fill="rgb(0,0,0)"/>
<rect x="137.61" y="262.25" width="3.71" height="3.71" fill="rgb(0,0,0)"/>
<rect x="141.03" y="262.25" width="3.71" height="3.71" fill="rgb(0,0,0)"/>
<rect x="144.44" y="262.25" width="3.71" height="3.71" fill="rgb(0,0,0)"/>
<rect x="147.85" y="262.25" width="3.71" height="3.71" fill="rgb(0,0,0)"/>
<rect x="151.26" y="262.25" width="3.71" height="3.71" fill="rgb(0,0,0)"/>
<rect x="154.68" y="262.25" width="3.71" height="3.71" fill="rgb(0,0,0)"/>
<rect x="158.09" y="262.25" width="3.71" height="3.71" fill="rgb(0,0,0)"/>
<rect x="161.50" y="262.25" width="3.71" height="3.71" fill="rgb(0,0,0)"/>
<rect x="164.91" y="262.25" width="3.71" height="3.71" fill="rgb(0,0,0)"/>
<rect x="18.18" y="265.66" width="3.71" height="3.71" fill="rgb(255,255,255)"/>
<rect x="21.59" y="265.66" width="3.71" height="3.71" fill="rgb(255,255,255)"/>
<rect x="25.00" y="265.66" width="3.71" height="3.71" fill="rgb(255,255,255)"/>
<rect x="28.41" y="265.66" width="3.71" height="3.71" fill="rgb(255,255,255)"/>
<rect x="31.82" y="265.66" width="3.71" height="3.71" fill="rgb(255,255,255)"/>
<rect x="35.24" y="265.66" width="3.71" height="3.71" fill="rgb(255,255,255)"/>
<rect x="38.65" y="265.66" width="3.71" height="3.71" fill="rgb(255,255,255)"/>
<rect x="42.06" y="265.66" width="3.71" height="3.71" fill="rgb(255,255,255)"/>
<rect x="45.48" y="265.66" width="3.71" height="3.71" fill="rgb(255,255,255)"/>
<rect x="48.89" y="265.66" width="3.71" height="3.71" fill="rgb(237,237,237)"/>
<rect x="52.30" y="265.66" width="3.71" height="3.71" fill="rgb(162,162,162)"/>
<rect x="55.71" y="265.66" width="3.71" height="3.71" fill="rgb(139,139,139)"/>
<rect x="59.12" y="265.66" width="3.71" height="3.71" fill="rgb(167,167,167)"/>
<rect x="62.54" y="265.66" width="3.71" height="3.71" fill="rgb(173,173,173)"/>
<rect x="65.95" y="265.66" width="3.71" height="3.71" fill="rgb(157,157,157)"/>
<rect x="69.36" y="265.66" width="3.71" height="3.71" fill="rgb(141,141,141)"/>
<rect x="72.78" y="265.66" width="3.71" height="3.71" fill="rgb(126,126,126)"/>
<rect x="76.19" y="265.66" width="3.71" height="3.71" fill="rgb(89,89,89)"/>
<rect x="79.60" y="265.66" width="3.71" height="3.71" fill="rgb(29,29,29)"/>
<rect x="83.01" y="265.66" width="3.71" height="3.71" fill="rgb(2,2,2)"/>
<rect x="86.43" y="265.66" width="3.71" height="3.71" fill="rgb(10,10,10)"/>
<rect x="89.84" y="265.66" width="3.71" height="3.71" fill="rgb(11,11,11)"/>
<rect x="93.25" y="265.66" width="3.71" height="3.71" fill="rgb(5,5,5)"/>
<rect x="96.66" y="265.66" width="3.71" height="3.71" fill="rgb(21,21,21)"/>
<rect x="100.08" y="265.66" width="3.71" height="3.71" fill="rgb(58,58,58)"/>
<rect x="103.49" y="265.66" width="3.71" height="3.71" fill="rgb(70,70,70)"/>
<rect x="106.90" y="265.66" width="3.71" height="3.71" fill="rgb(60,60,60)"/>
<rect x="110.31" y="265.66" width="3.71" height="3.71" fill="rgb(36,36,36)"/>
<rect x="113.73" y="265.66" width="3.71" height="3.71" fill="rgb(0,0,0)"/>
<rect x="117.14" y="265.66" width="3.71" height="3.71" fill="rgb(0,0,0)"/>
<rect x="120.55" y="265.66" width="3.71" height="3.71" fill="rgb(0,0,0)"/>
<rect x="123.96" y="265.66" width="3.71" height="3.71" fill="rgb(0,0,0)"/>
<rect x="127.38" y="265.66" width="3.71" height="3.71" fill="rgb(16,16,16)"/>
<rect x="130.79" y="265.66" width="3.71" height="3.71" fill="rgb(32,32,32)"/>
<rect x="134.20" y="265.66" width="3.71" height="3.71" fill="rgb(40,40,40)"/>
<rect x="137.61" y="265.66" width="3.71" height="3.71" fill="rgb(29,29,29)"/>
<rect x="141.03" y="265.66" width="3.71" height="3.71" fill="rgb(0,0,0)"/>
<rect x="144.44" y="265.66" width="3.71" height="3.71" fill="rgb(0,0,0)"/>
<rect x="147.85" y="265.66" width="3.71" height="3.71" fill="rgb(0,0,0)"/>
<rect x="151.26" y="265.66" width="3.71" height="3.71" fill="rgb(0,0,0)"/>
<rect x="154.68" y="265.66" width="3.71" height="3.71" fill="rgb(0,0,0)"/>
<rect x="158.09" y="265.66" width="3.71" height="3.71" fill="rgb(0,0,0)"/>
<rect x="161.50" y="265.66" width="3.71" height="3.71" fill="rgb(0,0,0)"/>
<rect x="164.91" y="265.66" width="3.71" height="3.71" fill="rgb(0,0,0)"/>
<rect x="18.18" y="269.07" width="3.71" height="3.71" fill="rgb(255,255,255)"/>
<rect x="21.59" y="269.07" width="3.71" height="3.71" fill="rgb(255,255,255)"/>
<rect x="25.00" y="269.07" width="3.71" height="3.71" fill="rgb(255,255,255)"/>
<rect x="28.41" y="269.07" width="3.71" height="3.71" fill="rgb(255,255,255)"/>
<rect x="31.82" y="269.07" width="3.71" height="3.71" fill="rgb(255,255,255)"/>
<rect x="35.24" y="269.07" width="3.71" height="3.71" fill="rgb(255,255,255)"/>
<rect x="38.65" y="269.07" width="3.71" height="3.71" fill="rgb(255,255,255)"/>
<rect x="42.06" y="269.07" width="3.71" height="3.71" fill="rgb(255,255,255)"/>
<rect x="45.48" y="269.07" width="3.71" height="3.71" fill="rgb(255,255,255)"/>
<rect x="48.89" y="269.07" width="3.71" height="3.71" fill="rgb(218,218,218)"/>
<rect x="52.30" y="269.07" width="3.71" height="3.71" fill="rgb(142,142,142)"/>
<rect x="55.71" y="269.07" width="3.71" height="3.71" fill="rgb(116,116,116)"/>
<rect x="59.12" y="269.07" width="3.71" height="3.71" fill="rgb(139,139,139)"/>
<rect x="62.54" y="269.07" width="3.71" height="3.71" fill="rgb(148,148,148)"/>
<rect x="65.95" y="269.07" width="3.71" height="3.71" fill="rgb(143,143,143)"/>
<rect x="69.36" y="269.07" width="3.71" height="3.71" fill="rgb(131,131,131)"/>
<rect x="72.78" y="269.07" width="3.71" height="3.71" fill="rgb(111,111,111)"/>
<rect x="76.19" y="269.07" width="3.71" height="3.71" fill="rgb(72,72,72)"/>
<rect x="79.60" y="269.07" width="3.71" height="3.71" fill="rgb(11,11,11)"/>
<rect x="83.01" y="269.07" width="3.71" height="3.71" fill="rgb(0,0,0)"/>
<rect x="86.43" y="269.07" width="3.71" height="3.71" fill="rgb(0,0,0)"/>
<rect x="89.84" y="269.07" width="3.71" height="3.71" fill="rgb(1,1,1)"/>
<rect x="93.25" y="269.07" width="3.71" height="3.71" fill="rgb(19,19,19)"/>
<rect x="96.66" y="269.07" width="3.71" height="3.71" fill="rgb(40,40,40)"/>
<rect x="100.08" y="269.07" width="3.71" height="3.71" fill="rgb(64,64,64)"/>
<rect x="103.49" y="269.07" width="3.71" height="3.71" fill="rgb(68,68,68)"/>
<rect x="106.90" y="269.07" width="3.71" height="3.71" fill="rgb(53,53,53)"/>
<rect x="110.31" y="269.07" width="3.71" height="3.71" fill="rgb(30,30,30)"/>
<rect x="113.73" y="269.07" width="3.71" height="3.71" fill="rgb(0,0,0)"/>
<rect x="117.14" y="269.07" width="3.71" height="3.71" fill="rgb(0,0,0)"/>
<rect x="120.55" y="269.07" width="3.71" height="3.71" fill="rgb(0,0,0)"/>
<rect x="123.96" y="269.07" width="3.71" height="3.71" fill="rgb(7,7,7)"/>
<rect x="127.38" y="269.07" width="3.71" height="3.71" fill="rgb(50,50,50)"/>
<rect x="130.79" y="269.07" width="3.71" height="3.71" fill="rgb(96,96,96)"/>
<rect x="134.20" y="269.07" width="3.71" height="3.71" fill="rgb(144,144,144)"/>
<rect x="137.61" y="269.07" width="3.71" height="3.71" fill="rgb(129,129,129)"/>
<rect x="141.03" y="269.07" width="3.71" height="3.71" fill="rgb(51,51,51)"/>
<rect x="144.44" y="269.07" width="3.71" height="3.71" fill="rgb(3,3,3)"/>
<rect x="147.85" y="269.07" width="3.71" height="3.71" fill="rgb(0,0,0)"/>
<rect x="151.26" y="269.07" width="3.71" height="3.71" fill="rgb(0,0,0)"/>
<rect x="154.68" y="269.07" width="3.71" height="3.71" fill="rgb(0,0,0)"/>
<rect x="158.09" y="269.07" width="3.71" height="3.71" fill="rgb(0,0,0)"/>
<rect x="161.50" y="269.07" width="3.71" height="3.71" fill="rgb(0,0,0)"/>
<rect x="164.91" y="269.07" width="3.71" height="3.71" fill="rgb(0,0,0)"/>
<rect x="18.18" y="272.49" width="3.71" height="3.71" fill="rgb(218,218,218)"/>
<rect x="21.59" y="272.49" width="3.71" height="3.71" fill="rgb(218,218,218)"/>
<rect x="25.00" y="272.49" width="3.71" height="3.71" fill="rgb(218,218,218)"/>
<rect x="28.41" y="272.49" width="3.71" height="3.71" fill="rgb(221,221,221)"/>
<rect x="31.82" y="272.49" width="3.71" height="3.71" fill="rgb(228,228,228)"/>
<rect x="35.24" y="272.49" width="3.71" height="3.71" fill="rgb(239,239,239)"/>
<rect x="38.65" y="272.49" width="3.71" height="3.71" fill="rgb(255,255,255)"/>
<rect x="42.06" y="272.49" width="3.71" height="3.71" fill="rgb(253,253,253)"/>
<rect x="45.48" y="272.49" width="3.71" height="3.71" fill="rgb(232,232,232)"/>
<rect x="48.89" y="272.49" width="3.71" height="3.71" fill="rgb(193,193,193)"/>
<rect x="52.30" y="272.49" width="3.71" height="3.71" fill="rgb(133,133,133)"/>
<rect x="55.71" y="272.49" width="3.71" height="3.71" fill="rgb(111,111,111)"/>
<rect x="59.12" y="272.49" width="3.71" height="3.71" fill="rgb(126,126,126)"/>
<rect x="62.54" y="272.49" width="3.71" height="3.71" fill="rgb(134,134,134)"/>
<rect x="65.95" y="272.49" width="3.71" height="3.71" fill="rgb(134,134,134)"/>
<rect x="69.36" y="272.49" width="3.71" height="3.71" fill="rgb(121,121,121)"/>
<rect x="72.78" y="272.49" width="3.71" height="3.71" fill="rgb(94,94,94)"/>
<rect x="76.19" y="272.49" width="3.71" height="3.71" fill="rgb(53,53,53)"/>
<rect x="79.60" y="272.49" width="3.71" height="3.71" fill="rgb(0,0,0)"/>
<rect x="83.01" y="272.49" width="3.71" height="3.71" fill="rgb(0,0,0)"/>
<rect x="86.43" y="272.49" width="3.71" height="3.71" fill="rgb(0,0,0)"/>
<rect x="89.84" y="272.49" width="3.71" height="3.71" fill="rgb(1,1,1)"/>
<rect x="93.25" y="272.49" width="3.71" height="3.71" fill="rgb(44,44,44)"/>
<rect x="96.66" y="272.49" width="3.71" height="3.71" fill="rgb(79,79,79)"/>
<rect x="100.08" y="272.49" width="3.71" height="3.71" fill="rgb(107,107,107)"/>
<rect x="103.49" y="272.49" width="3.71" height="3.71" fill="rgb(113,113,113)"/>
<rect x="106.90" y="272.49" width="3.71" height="3.71" fill="rgb(97,97,97)"/>
<rect x="110.31" y="272.49" width="3.71" height="3.71" fill="rgb(74,74,74)"/>
<rect x="113.73" y="272.49" width="3.71" height="3.71" fill="rgb(44,44,44)"/>
<rect x="117.14" y="272.49" width="3.71" height="3.71" fill="rgb(29,29,29)"/>
<rect x="120.55" y="272.49" width="3.71" height="3.71" fill="rgb(29,29,29)"/>
<rect x="123.96" y="272.49" width="3.71" height="3.71" fill="rgb(47,47,47)"/>
<rect x="127.38" y="272.49" width="3.71" height="3.71" fill="rgb(85,85,85)"/>
<rect x="130.79" y="272.49" width="3.71" height="3.71" fill="rgb(134,134,134)"/>
<rect x="134.20" y="272.49" width="3.71" height="3.71" fill="rgb(196,196,196)"/>
<rect x="137.61" y="272.49" width="3.71" height="3.71" fill="rgb(182,182,182)"/>
<rect x="141.03" y="272.49" width="3.71" height="3.71" fill="rgb(94,94,94)"/>
<rect x="144.44" y="272.49" width="3.71" height="3.71" fill="rgb(38,38,38)"/>
<rect x="147.85" y="272.49" width="3.71" height="3.71" fill="rgb(13,13,13)"/>
<rect x="151.26" y="272.49" width="3.71" height="3.71" fill="rgb(0,0,0)"/>
<rect x="154.68" y="272.49" width="3.71" height="3.71" fill="rgb(0,0,0)"/>
<rect x="158.09" y="272.49" width="3.71" height="3.71" fill="rgb(0,0,0)"/>
<rect x="161.50" y="272.49" width="3.71" height="3.71" fill="rgb(0,0,0)"/>
<rect x="164.91" y="272.49" width="3.71" height="3.71" fill="rgb(0,0,0)"/>
<rect x="18.18" y="275.90" width="3.71" height="3.71" fill="rgb(123,123,123)"/>
<rect x="21.59" y="275.90" width="3.71" height="3.71" fill="rgb(123,123,123)"/>
<rect x="25.00" y="275.90" width="3.71" height="3.71" fill="rgb(123,123,123)"/>
<rect x="28.41" y="275.90" width="3.71" height="3.71" fill="rgb(124,124,124)"/>
<rect x="31.82" y="275.90" width="3.71" height="3.71" fill="rgb(126,126,126)"/>
<rect x="35.24" y="275.90" width="3.71" height="3.71" fill="rgb(147,147,147)"/>
<rect x="38.65" y="275.90" width="3.71" height="3.71" fill="rgb(187,187,187)"/>
<rect x="42.06" y="275.90" width="3.71" height="3.71" fill="rgb(198,198,198)"/>
<rect x="45.48" y="275.90" width="3.71" height="3.71" fill="rgb(180,180,180)"/>
<rect x="48.89" y="275.90" width="3.71" height="3.71" fill="rgb(159,159,159)"/>
<rect x="52.30" y="275.90" width="3.71" height="3.71" fill="rgb(137,137,137)"/>
<rect x="55.71" y="275.90" width="3.71" height="3.71" fill="rgb(126,126,126)"/>
<rect x="59.12" y="275.90" width="3.71" height="3.71" fill="rgb(129,129,129)"/>
<rect x="62.54" y="275.90" width="3.71" height="3.71" fill="rgb(130,130,130)"/>
<rect x="65.95" y="275.90" width="3.71" height="3.71" fill="rgb(130,130,130)"/>
<rect x="69.36" y="275.90" width="3.71" height="3.71" fill="rgb(111,111,111)"/>
<rect x="72.78" y="275.90" width="3.71" height="3.71" fill="rgb(73,73,73)"/>
<rect x="76.19" y="275.90" width="3.71" height="3.71" fill="rgb(32,32,32)"/>
<rect x="79.60" y="275.90" width="3.71" height="3.71" fill="rgb(0,0,0)"/>
<rect x="83.01" y="275.90" width="3.71" height="3.71" fill="rgb(0,0,0)"/>
<rect x="86.43" y="275.90" width="3.71" height="3.71" fill="rgb(0,0,0)"/>
<rect x="89.84" y="275.90" width="3.71" height="3.71" fill="rgb(9,9,9)"/>
<rect x="93.25" y="275.90" width="3.71" height="3.71" fill="rgb(78,78,78)"/>
<rect x="96.66" y="275.90" width="3.71" height="3.71" fill="rgb(137,137,137)"/>
<rect x="100.08" y="275.90" width="3.71" height="3.71" fill="rgb(187,187,187)"/>
<rect x="103.49" y="275.90" width="3.71" height="3.71" fill="rgb(204,204,204)"/>
<rect x="106.90" y="275.90" width="3.71" height="3.71" fill="rgb(190,190,190)"/>
<rect x="110.31" y="275.90" width="3.71" height="3.71" fill="rgb(168,168,168)"/>
<rect x="113.73" y="275.90" width="3.71" height="3.71" fill="rgb(138,138,138)"/>
<rect x="117.14" y="275.90" width="3.71" height="3.71" fill="rgb(119,119,119)"/>
<rect x="120.55" y="275.90" width="3.71" height="3.71" fill="rgb(110,110,110)"/>
<rect x="123.96" y="275.90" width="3.71" height="3.71" fill="rgb(111,111,111)"/>
<rect x="127.38" y="275.90" width="3.71" height="3.71" fill="rgb(121,121,121)"/>
<rect x="130.79" y="275.90" width="3.71" height="3.71" fill="rgb(148,148,148)"/>
<rect x="134.20" y="275.90" width="3.71" height="3.71" fill="rgb(195,195,195)"/>
<rect x="137.61" y="275.90" width="3.71" height="3.71" fill="rgb(189,189,189)"/>
<rect x="141.03" y="275.90" width="3.71" height="3.71" fill="rgb(131,131,131)"/>
<rect x="144.44" y="275.90" width="3.71" height="3.71" fill="rgb(86,86,86)"/>
<rect x="147.85" y="275.90" width="3.71" height="3.71" fill="rgb(55,55,55)"/>
<rect x="151.26" y="275.90" width="3.71" height="3.71" fill="rgb(42,42,42)"/>
<rect x="154.68" y="275.90" width="3.71" height="3.71" fill="rgb(47,47,47)"/>
<rect x="158.09" y="275.90" width="3.71" height="3.71" fill="rgb(50,50,50)"/>
<rect x="161.50" y="275.90" width="3.71" height="3.71" fill="rgb(50,50,50)"/>
<rect x="164.91" y="275.90" width="3.71" height="3.71" fill="rgb(50,50,50)"/>
<rect x="18.18" y="279.31" width="3.71" height="3.71" fill="rgb(102,102,102)"/>
<rect x="21.59" y="279.31" width="3.71" height="3.71" fill="rgb(102,102,102)"/>
<rect x="25.00" y="279.31" width="3.71" height="3.71" fill="rgb(102,102,102)"/>
<rect x="28.41" y="279.31" width="3.71" height="3.71" fill="rgb(94,94,94)"/>
<rect x="31.82" y="279.31" width="3.71" height="3.71" fill="rgb(79,79,79)"/>
<rect x="35.24" y="279.31" width="3.71" height="3.71" fill="rgb(94,94,94)"/>
<rect x="38.65" y="279.31" width="3.71" height="3.71" fill="rgb(139,139,139)"/>
<rect x="42.06" y="279.31" width="3.71" height="3.71" fill="rgb(158,158,158)"/>
<rect x="45.48" y="279.31" width="3.71" height="3.71" fill="rgb(149,149,149)"/>
<rect x="48.89" y="279.31" width="3.71" height="3.71" fill="rgb(144,144,144)"/>
<rect x="52.30" y="279.31" width="3.71" height="3.71" fill="rgb(143,143,143)"/>
<rect x="55.71" y="279.31" width="3.71" height="3.71" fill="rgb(139,139,139)"/>
<rect x="59.12" y="279.31" width="3.71" height="3.71" fill="rgb(133,133,133)"/>
<rect x="62.54" y="279.31" width="3.71" height="3.71" fill="rgb(129,129,129)"/>
<rect x="65.95" y="279.31" width="3.71" height="3.71" fill="rgb(128,128,128)"/>
<rect x="69.36" y="279.31" width="3.71" height="3.71" fill="rgb(106,106,106)"/>
<rect x="72.78" y="279.31" width="3.71" height="3.71" fill="rgb(63,63,63)"/>
<rect x="76.19" y="279.31" width="3.71" height="3.71" fill="rgb(23,23,23)"/>
<rect x="79.60" y="279.31" width="3.71" height="3.71" fill="rgb(0,0,0)"/>
<rect x="83.01" y="279.31" width="3.71" height="3.71" fill="rgb(0,0,0)"/>
<rect x="86.43" y="279.31" width="3.71" height="3.71" fill="rgb(0,0,0)"/>
<rect x="89.84" y="279.31" width="3.71" height="3.71" fill="rgb(21,21,21)"/>
<rect x="93.25" y="279.31" width="3.71" height="3.71" fill="rgb(101,101,101)"/>
<rect x="96.66" y="279.31" width="3.71" height="3.71" fill="rgb(165,165,165)"/>
<rect x="100.08" y="279.31" width="3.71" height="3.71" fill="rgb(215,215,215)"/>
<rect x="103.49" y="279.31" width="3.71" height="3.71" fill="rgb(234,234,234)"/>
<rect x="106.90" y="279.31" width="3.71" height="3.71" fill="rgb(223,223,223)"/>
<rect x="110.31" y="279.31" width="3.71" height="3.71" fill="rgb(208,208,208)"/>
<rect x="113.73" y="279.31" width="3.71" height="3.71" fill="rgb(187,187,187)"/>
<rect x="117.14" y="279.31" width="3.71" height="3.71" fill="rgb(174,174,174)"/>
<rect x="120.55" y="279.31" width="3.71" height="3.71" fill="rgb(169,169,169)"/>
<rect x="123.96" y="279.31" width="3.71" height="3.71" fill="rgb(162,162,162)"/>
<rect x="127.38" y="279.31" width="3.71" height="3.71" fill="rgb(155,155,155)"/>
<rect x="130.79" y="279.31" width="3.71" height="3.71" fill="rgb(164,164,164)"/>
<rect x="134.20" y="279.31" width="3.71" height="3.71" fill="rgb(190,190,190)"/>
<rect x="137.61" y="279.31" width="3.71" height="3.71" fill="rgb(185,185,185)"/>
<rect x="141.03" y="279.31" width="3.71" height="3.71" fill="rgb(148,148,148)"/>
<rect x="144.44" y="279.31" width="3.71" height="3.71" fill="rgb(117,117,117)"/>
<rect x="147.85" y="279.31" width="3.71" height="3.71" fill="rgb(91,91,91)"/>
<rect x="151.26" y="279.31" width="3.71" height="3.71" fill="rgb(87,87,87)"/>
<rect x="154.68" y="279.31" width="3.71" height="3.71" fill="rgb(105,105,105)"/>
<rect x="158.09" y="279.31" width="3.71" height="3.71" fill="rgb(115,115,115)"/>
<rect x="161.50" y="279.31" width="3.71" height="3.71" fill="rgb(115,115,115)"/>
<rect x="164.91" y="279.31" width="3.71" height="3.71" fill="rgb(115,115,115)"/>
<rect x="18.18" y="282.73" width="3.71" height="3.71" fill="rgb(153,153,153)"/>
<rect x="21.59" y="282.73" width="3.71" height="3.71" fill="rgb(153,153,153)"/>
<rect x="25.00" y="282.73" width="3.71" height="3.71" fill="rgb(153,153,153)"/>
<rect x="28.41" y="282.73" width="3.71" height="3.71" fill="rgb(131,131,131)"/>
<rect x="31.82" y="282.73" width="3.71" height="3.71" fill="rgb(86,86,86)"/>
<rect x="35.24" y="282.73" width="3.71" height="3.71" fill="rgb(79,79,79)"/>
<rect x="38.65" y="282.73" width="3.71" height="3.71" fill="rgb(111,111,111)"/>
<rect x="42.06" y="282.73" width="3.71" height="3.71" fill="rgb(132,132,132)"/>
<rect x="45.48" y="282.73" width="3.71" height="3.71" fill="rgb(140,140,140)"/>
<rect x="48.89" y="282.73" width="3.71" height="3.71" fill="rgb(147,147,147)"/>
<rect x="52.30" y="282.73" width="3.71" height="3.71" fill="rgb(153,153,153)"/>
<rect x="55.71" y="282.73" width="3.71" height="3.71" fill="rgb(150,150,150)"/>
<rect x="59.12" y="282.73" width="3.71" height="3.71" fill="rgb(139,139,139)"/>
<rect x="62.54" y="282.73" width="3.71" height="3.71" fill="rgb(132,132,132)"/>
<rect x="65.95" y="282.73" width="3.71" height="3.71" fill="rgb(129,129,129)"/>
<rect x="69.36" y="282.73" width="3.71" height="3.71" fill="rgb(106,106,106)"/>
<rect x="72.78" y="282.73" width="3.71" height="3.71" fill="rgb(63,63,63)"/>
<rect x="76.19" y="282.73" width="3.71" height="3.71" fill="rgb(24,24,24)"/>
<rect x="79.60" y="282.73" width="3.71" height="3.71" fill="rgb(0,0,0)"/>
<rect x="83.01" y="282.73" width="3.71" height="3.71" fill="rgb(0,0,0)"/>
<rect x="86.43" y="282.73" width="3.71" height="3.71" fill="rgb(0,0,0)"/>
<rect x="89.84" y="282.73" width="3.71" height="3.71" fill="rgb(36,36,36)"/>
<rect x="93.25" y="282.73" width="3.71" height="3.71" fill="rgb(111,111,111)"/>
<rect x="96.66" y="282.73" width="3.71" height="3.71" fill="rgb(163,163,163)"/>
<rect x="100.08" y="282.73" width="3.71" height="3.71" fill="rgb(191,191,191)"/>
<rect x="103.49" y="282.73" width="3.71" height="3.71" fill="rgb(202,202,202)"/>
<rect x="106.90" y="282.73" width="3.71" height="3.71" fill="rgb(195,195,195)"/>
<rect x="110.31" y="282.73" width="3.71" height="3.71" fill="rgb(192,192,192)"/>
<rect x="113.73" y="282.73" width="3.71" height="3.71" fill="rgb(190,190,190)"/>
<rect x="117.14" y="282.73" width="3.71" height="3.71" fill="rgb(195,195,195)"/>
<rect x="120.55" y="282.73" width="3.71" height="3.71" fill="rgb(204,204,204)"/>
<rect x="123.96" y="282.73" width="3.71" height="3.71" fill="rgb(202,202,202)"/>
<rect x="127.38" y="282.73" width="3.71" height="3.71" fill="rgb(188,188,188)"/>
<rect x="130.79" y="282.73" width="3.71" height="3.71" fill="rgb(181,181,181)"/>
<rect x="134.20" y="282.73" width="3.71" height="3.71" fill="rgb(181,181,181)"/>
<rect x="137.61" y="282.73" width="3.71" height="3.71" fill="rgb(169,169,169)"/>
<rect x="141.03" y="282.73" width="3.71" height="3.71" fill="rgb(146,146,146)"/>
<rect x="144.44" y="282.73" width="3.71" height="3.71" fill="rgb(130,130,130)"/>
<rect x="147.85" y="282.73" width="3.71" height="3.71" fill="rgb(121,121,121)"/>
<rect x="151.26" y="282.73" width="3.71" height="3.71" fill="rgb(136,136,136)"/>
<rect x="154.68" y="282.73" width="3.71" height="3.71" fill="rgb(173,173,173)"/>
<rect x="158.09" y="282.73" width="3.71" height="3.71" fill="rgb(192,192,192)"/>
<rect x="161.50" y="282.73" width="3.71" height="3.71" fill="rgb(192,192,192)"/>
<rect x="164.91" y="282.73" width="3.71" height="3.71" fill="rgb(192,192,192)"/>
<rect x="18.18" y="286.14" width="3.71" height="3.71" fill="rgb(179,179,179)"/>
<rect x="21.59" y="286.14" width="3.71" height="3.71" fill="rgb(179,179,179)"/>
<rect x="25.00" y="286.14" width="3.71" height="3.71" fill="rgb(179,179,179)"/>
<rect x="28.41" y="286.14" width="3.71" height="3.71" fill="rgb(154,154,154)"/>
<rect x="31.82" y="286.14" width="3.71" height="3.71" fill="rgb(105,105,105)"/>
<rect x="35.24" y="286.14" width="3.71" height="3.71" fill="rgb(90,90,90)"/>
<rect x="38.65" y="286.14" width="3.71" height="3.71" fill="rgb(109,109,109)"/>
<rect x="42.06" y="286.14" width="3.71" height="3.71" fill="rgb(126,126,126)"/>
<rect x="45.48" y="286.14" width="3.71" height="3.71" fill="rgb(141,141,141)"/>
<rect x="48.89" y="286.14" width="3.71" height="3.71" fill="rgb(154,154,154)"/>
<rect x="52.30" y="286.14" width="3.71" height="3.71" fill="rgb(164,164,164)"/>
<rect x="55.71" y="286.14" width="3.71" height="3.71" fill="rgb(162,162,162)"/>
<rect x="59.12" y="286.14" width="3.71" height="3.71" fill="rgb(149,149,149)"/>
<rect x="62.54" y="286.14" width="3.71" height="3.71" fill="rgb(139,139,139)"/>
<rect x="65.95" y="286.14" width="3.71" height="3.71" fill="rgb(133,133,133)"/>
<rect x="69.36" y="286.14" width="3.71" height="3.71" fill="rgb(110,110,110)"/>
<rect x="72.78" y="286.14" width="3.71" height="3.71" fill="rgb(70,70,70)"/>
<rect x="76.19" y="286.14" width="3.71" height="3.71" fill="rgb(34,34,34)"/>
<rect x="79.60" y="286.14" width="3.71" height="3.71" fill="rgb(2,2,2)"/>
<rect x="83.01" y="286.14" width="3.71" height="3.71" fill="rgb(0,0,0)"/>
<rect x="86.43" y="286.14" width="3.71" height="3.71" fill="rgb(15,15,15)"/>
<rect x="89.84" y="286.14" width="3.71" height="3.71" fill="rgb(55,55,55)"/>
<rect x="93.25" y="286.14" width="3.71" height="3.71" fill="rgb(118,118,118)"/>
<rect x="96.66" y="286.14" width="3.71" height="3.71" fill="rgb(157,157,157)"/>
<rect x="100.08" y="286.14" width="3.71" height="3.71" fill="rgb(173,173,173)"/>
<rect x="103.49" y="286.14" width="3.71" height="3.71" fill="rgb(181,181,181)"/>
<rect x="106.90" y="286.14" width="3.71" height="3.71" fill="rgb(180,180,180)"/>
<rect x="110.31" y="286.14" width="3.71" height="3.71" fill="rgb(183,183,183)"/>
<rect x="113.73" y="286.14" width="3.71" height="3.71" fill="rgb(192,192,192)"/>
<rect x="117.14" y="286.14" width="3.71" height="3.71" fill="rgb(201,201,201)"/>
<rect x="120.55" y="286.14" width="3.71" height="3.71" fill="rgb(211,211,211)"/>
<rect x="123.96" y="286.14" width="3.71" height="3.71" fill="rgb(216,216,216)"/>
<rect x="127.38" y="286.14" width="3.71" height="3.71" fill="rgb(217,217,217)"/>
<rect x="130.79" y="286.14" width="3.71" height="3.71" fill="rgb(211,211,211)"/>
<rect x="134.20" y="286.14" width="3.71" height="3.71" fill="rgb(197,197,197)"/>
<rect x="137.61" y="286.14" width="3.71" height="3.71" fill="rgb(178,178,178)"/>
<rect x="141.03" y="286.14" width="3.71" height="3.71" fill="rgb(154,154,154)"/>
<rect x="144.44" y="286.14" width="3.71" height="3.71" fill="rgb(141,141,141)"/>
<rect x="147.85" y="286.14" width="3.71" height="3.71" fill="rgb(138,138,138)"/>
<rect x="151.26" y="286.14" width="3.71" height="3.71" fill="rgb(161,161,161)"/>
<rect x="154.68" y="286.14" width="3.71" height="3.71" fill="rgb(210,210,210)"/>
<rect x="158.09" y="286.14" width="3.71" height="3.71" fill="rgb(235,235,235)"/>
<rect x="161.50" y="286.14" width="3.71" height="3.71" fill="rgb(235,235,235)"/>
<rect x="164.91" y="286.14" width="3.71" height="3.71" fill="rgb(235,235,235)"/>
<rect x="18.18" y="289.55" width="3.71" height="3.71" fill="rgb(179,179,179)"/>
<rect x="21.59" y="289.55" width="3.71" height="3.71" fill="rgb(179,179,179)"/>
<rect x="25.00" y="289.55" width="3.71" height="3.71" fill="rgb(179,179,179)"/>
<rect x="28.41" y="289.55" width="3.71" height="3.71" fill="rgb(165,165,165)"/>
<rect x="31.82" y="289.55" width="3.71" height="3.71" fill="rgb(137,137,137)"/>
<rect x="35.24" y="289.55" width="3.71" height="3.71" fill="rgb(126,126,126)"/>
<rect x="38.65" y="289.55" width="3.71" height="3.71" fill="rgb(133,133,133)"/>
<rect x="42.06" y="289.55" width="3.71" height="3.71" fill="rgb(141,141,141)"/>
<rect x="45.48" y="289.55" width="3.71" height="3.71" fill="rgb(152,152,152)"/>
<rect x="48.89" y="289.55" width="3.71" height="3.71" fill="rgb(164,164,164)"/>
<rect x="52.30" y="289.55" width="3.71" height="3.71" fill="rgb(175,175,175)"/>
<rect x="55.71" y="289.55" width="3.71" height="3.71" fill="rgb(175,175,175)"/>
<rect x="59.12" y="289.55" width="3.71" height="3.71" fill="rgb(162,162,162)"/>
<rect x="62.54" y="289.55" width="3.71" height="3.71" fill="rgb(150,150,150)"/>
<rect x="65.95" y="289.55" width="3.71" height="3.71" fill="rgb(139,139,139)"/>
<rect x="69.36" y="289.55" width="3.71" height="3.71" fill="rgb(117,117,117)"/>
<rect x="72.78" y="289.55" width="3.71" height="3.71" fill="rgb(84,84,84)"/>
<rect x="76.19" y="289.55" width="3.71" height="3.71" fill="rgb(53,53,53)"/>
<rect x="79.60" y="289.55" width="3.71" height="3.71" fill="rgb(25,25,25)"/>
<rect x="83.01" y="289.55" width="3.71" height="3.71" fill="rgb(23,23,23)"/>
<rect x="86.43" y="289.55" width="3.71" height="3.71" fill="rgb(47,47,47)"/>
<rect x="89.84" y="289.55" width="3.71" height="3.71" fill="rgb(79,79,79)"/>
<rect x="93.25" y="289.55" width="3.71" height="3.71" fill="rgb(120,120,120)"/>
<rect x="96.66" y="289.55" width="3.71" height="3.71" fill="rgb(147,147,147)"/>
<rect x="100.08" y="289.55" width="3.71" height="3.71" fill="rgb(161,161,161)"/>
<rect x="103.49" y="289.55" width="3.71" height="3.71" fill="rgb(171,171,171)"/>
<rect x="106.90" y="289.55" width="3.71" height="3.71" fill="rgb(176,176,176)"/>
<rect x="110.31" y="289.55" width="3.71" height="3.71" fill="rgb(183,183,183)"/>
<rect x="113.73" y="289.55" width="3.71" height="3.71" fill="rgb(192,192,192)"/>
<rect x="117.14" y="289.55" width="3.71" height="3.71" fill="rgb(194,194,194)"/>
<rect x="120.55" y="289.55" width="3.71" height="3.71" fill="rgb(188,188,188)"/>
<rect x="123.96" y="289.55" width="3.71" height="3.71" fill="rgb(204,204,204)"/>
<rect x="127.38" y="289.55" width="3.71" height="3.71" fill="rgb(242,242,242)"/>
<rect x="130.79" y="289.55" width="3.71" height="3.71" fill="rgb(253,253,253)"/>
<rect x="134.20" y="289.55" width="3.71" height="3.71" fill="rgb(237,237,237)"/>
<rect x="137.61" y="289.55" width="3.71" height="3.71" fill="rgb(210,210,210)"/>
<rect x="141.03" y="289.55" width="3.71" height="3.71" fill="rgb(174,174,174)"/>
<rect x="144.44" y="289.55" width="3.71" height="3.71" fill="rgb(151,151,151)"/>
<rect x="147.85" y="289.55" width="3.71" height="3.71" fill="rgb(141,141,141)"/>
<rect x="151.26" y="289.55" width="3.71" height="3.71" fill="rgb(163,163,163)"/>
<rect x="154.68" y="289.55" width="3.71" height="3.71" fill="rgb(217,217,217)"/>
<rect x="158.09" y="289.55" width="3.71" height="3.71" fill="rgb(244,244,244)"/>
<rect x="161.50" y="289.55" width="3.71" height="3.71" fill="rgb(244,244,244)"/>
<rect x="164.91" y="289.55" width="3.71" height="3.71" fill="rgb(244,244,244)"/>
<rect x="18.18" y="292.96" width="3.71" height="3.71" fill="rgb(136,136,136)"/>
<rect x="21.59" y="292.96" width="3.71" height="3.71" fill="rgb(136,136,136)"/>
<rect x="25.00" y="292.96" width="3.71" height="3.71" fill="rgb(136,136,136)"/>
<rect x="28.41" y="292.96" width="3.71" height="3.71" fill="rgb(138,138,138)"/>
<rect x="31.82" y="292.96" width="3.71" height="3.71" fill="rgb(143,143,143)"/>
<rect x="35.24" y="292.96" width="3.71" height="3.71" fill="rgb(147,147,147)"/>
<rect x="38.65" y="292.96" width="3.71" height="3.71" fill="rgb(151,151,151)"/>
<rect x="42.06" y="292.96" width="3.71" height="3.71" fill="rgb(143,143,143)"/>
<rect x="45.48" y="292.96" width="3.71" height="3.71" fill="rgb(121,121,121)"/>
<rect x="48.89" y="292.96" width="3.71" height="3.71" fill="rgb(84,84,84)"/>
<rect x="52.30" y="292.96" width="3.71" height="3.71" fill="rgb(33,33,33)"/>
<rect x="55.71" y="292.96" width="3.71" height="3.71" fill="rgb(11,11,11)"/>
<rect x="59.12" y="292.96" width="3.71" height="3.71" fill="rgb(20,20,20)"/>
<rect x="62.54" y="292.96" width="3.71" height="3.71" fill="rgb(29,29,29)"/>
<rect x="65.95" y="292.96" width="3.71" height="3.71" fill="rgb(37,37,37)"/>
<rect x="69.36" y="292.96" width="3.71" height="3.71" fill="rgb(54,54,54)"/>
<rect x="72.78" y="292.96" width="3.71" height="3.71" fill="rgb(80,80,80)"/>
<rect x="76.19" y="292.96" width="3.71" height="3.71" fill="rgb(104,104,104)"/>
<rect x="79.60" y="292.96" width="3.71" height="3.71" fill="rgb(125,125,125)"/>
<rect x="83.01" y="292.96" width="3.71" height="3.71" fill="rgb(140,140,140)"/>
<rect x="86.43" y="292.96" width="3.71" height="3.71" fill="rgb(149,149,149)"/>
<rect x="89.84" y="292.96" width="3.71" height="3.71" fill="rgb(149,149,149)"/>
<rect x="93.25" y="292.96" width="3.71" height="3.71" fill="rgb(140,140,140)"/>
<rect x="96.66" y="292.96" width="3.71" height="3.71" fill="rgb(155,155,155)"/>
<rect x="100.08" y="292.96" width="3.71" height="3.71" fill="rgb(194,194,194)"/>
<rect x="103.49" y="292.96" width="3.71" height="3.71" fill="rgb(220,220,220)"/>
<rect x="106.90" y="292.96" width="3.71" height="3.71" fill="rgb(233,233,233)"/>
<rect x="110.31" y="292.96" width="3.71" height="3.71" fill="rgb(233,233,233)"/>
<rect x="113.73" y="292.96" width="3.71" height="3.71" fill="rgb(220,220,220)"/>
<rect x="117.14" y="292.96" width="3.71" height="3.71" fill="rgb(231,231,231)"/>
<rect x="120.55" y="292.96" width="3.71" height="3.71" fill="rgb(255,255,255)"/>
<rect x="123.96" y="292.96" width="3.71" height="3.71" fill="rgb(255,255,255)"/>
<rect x="127.38" y="292.96" width="3.71" height="3.71" fill="rgb(224,224,224)"/>
<rect x="130.79" y="292.96" width="3.71" height="3.71" fill="rgb(209,209,209)"/>
<rect x="134.20" y="292.96" width="3.71" height="3.71" fill="rgb(218,218,218)"/>
<rect x="137.61" y="292.96" width="3.71" height="3.71" fill="rgb(201,201,201)"/>
<rect x="141.03" y="292.96" width="3.71" height="3.71" fill="rgb(158,158,158)"/>
<rect x="144.44" y="292.96" width="3.71" height="3.71" fill="rgb(136,136,136)"/>
<rect x="147.85" y="292.96" width="3.71" height="3.71" fill="rgb(136,136,136)"/>
<rect x="151.26" y="292.96" width="3.71" height="3.71" fill="rgb(143,143,143)"/>
<rect x="154.68" y="292.96" width="3.71" height="3.71" fill="rgb(155,155,155)"/>
<rect x="158.09" y="292.96" width="3.71" height="3.71" fill="rgb(162,162,162)"/>
<rect x="161.50" y="292.96" width="3.71" height="3.71" fill="rgb(162,162,162)"/>
<rect x="164.91" y="292.96" width="3.71" height="3.71" fill="rgb(162,162,162)"/>
<rect x="18.18" y="296.38" width="3.71" height="3.71" fill="rgb(114,114,114)"/>
<rect x="21.59" y="296.38" width="3.71" height="3.71" fill="rgb(114,114,114)"/>
<rect x="25.00" y="296.38" width="3.71" height="3.71" fill="rgb(114,114,114)"/>
<rect x="28.41" y="296.38" width="3.71" height="3.71" fill="rgb(117,117,117)"/>
<rect x="31.82" y="296.38" width="3.71" height="3.71" fill="rgb(123,123,123)"/>
<rect x="35.24" y="296.38" width="3.71" height="3.71" fill="rgb(126,126,126)"/>
<rect x="38.65" y="296.38" width="3.71" height="3.71" fill="rgb(128,128,128)"/>
<rect x="42.06" y="296.38" width="3.71" height="3.71" fill="rgb(116,116,116)"/>
<rect x="45.48" y="296.38" width="3.71" height="3.71" fill="rgb(90,90,90)"/>
<rect x="48.89" y="296.38" width="3.71" height="3.71" fill="rgb(56,56,56)"/>
<rect x="52.30" y="296.38" width="3.71" height="3.71" fill="rgb(14,14,14)"/>
<rect x="55.71" y="296.38" width="3.71" height="3.71" fill="rgb(0,0,0)"/>
<rect x="59.12" y="296.38" width="3.71" height="3.71" fill="rgb(4,4,4)"/>
<rect x="62.54" y="296.38" width="3.71" height="3.71" fill="rgb(12,12,12)"/>
<rect x="65.95" y="296.38" width="3.71" height="3.71" fill="rgb(21,21,21)"/>
<rect x="69.36" y="296.38" width="3.71" height="3.71" fill="rgb(46,46,46)"/>
<rect x="72.78" y="296.38" width="3.71" height="3.71" fill="rgb(88,88,88)"/>
<rect x="76.19" y="296.38" width="3.71" height="3.71" fill="rgb(118,118,118)"/>
<rect x="79.60" y="296.38" width="3.71" height="3.71" fill="rgb(136,136,136)"/>
<rect x="83.01" y="296.38" width="3.71" height="3.71" fill="rgb(146,146,146)"/>
<rect x="86.43" y="296.38" width="3.71" height="3.71" fill="rgb(149,149,149)"/>
<rect x="89.84" y="296.38" width="3.71" height="3.71" fill="rgb(147,147,147)"/>
<rect x="93.25" y="296.38" width="3.71" height="3.71" fill="rgb(140,140,140)"/>
<rect x="96.66" y="296.38" width="3.71" height="3.71" fill="rgb(152,152,152)"/>
<rect x="100.08" y="296.38" width="3.71" height="3.71" fill="rgb(184,184,184)"/>
<rect x="103.49" y="296.38" width="3.71" height="3.71" fill="rgb(206,206,206)"/>
<rect x="106.90" y="296.38" width="3.71" height="3.71" fill="rgb(219,219,219)"/>
<rect x="110.31" y="296.38" width="3.71" height="3.71" fill="rgb(227,227,227)"/>
<rect x="113.73" y="296.38" width="3.71" height="3.71" fill="rgb(231,231,231)"/>
<rect x="117.14" y="296.38" width="3.71" height="3.71" fill="rgb(246,246,246)"/>
<rect x="120.55" y="296.38" width="3.71" height="3.71" fill="rgb(255,255,255)"/>
<rect x="123.96" y="296.38" width="3.71" height="3.71" fill="rgb(255,255,255)"/>
<rect x="127.38" y="296.38" width="3.71" height="3.71" fill="rgb(237,237,237)"/>
<rect x="130.79" y="296.38" width="3.71" height="3.71" fill="rgb(220,220,220)"/>
<rect x="134.20" y="296.38" width="3.71" height="3.71" fill="rgb(216,216,216)"/>
<rect x="137.61" y="296.38" width="3.71" height="3.71" fill="rgb(197,197,197)"/>
<rect x="141.03" y="296.38" width="3.71" height="3.71" fill="rgb(164,164,164)"/>
<rect x="144.44" y="296.38" width="3.71" height="3.71" fill="rgb(152,152,152)"/>
<rect x="147.85" y="296.38" width="3.71" height="3.71" fill="rgb(161,161,161)"/>
<rect x="151.26" y="296.38" width="3.71" height="3.71" fill="rgb(175,175,175)"/>
<rect x="154.68" y="296.38" width="3.71" height="3.71" fill="rgb(194,194,194)"/>
<rect x="158.09" y="296.38" width="3.71" height="3.71" fill="rgb(203,203,203)"/>
<rect x="161.50" y="296.38" width="3.71" height="3.71" fill="rgb(203,203,203)"/>
<rect x="164.91" y="296.38" width="3.71" height="3.71" fill="rgb(203,203,203)"/>
<rect x="18.18" y="299.79" width="3.71" height="3.71" fill="rgb(80,80,80)"/>
<rect x="21.59" y="299.79" width="3.71" height="3.71" fill="rgb(80,80,80)"/>
<rect x="25.00" y="299.79" width="3.71" height="3.71" fill="rgb(80,80,80)"/>
<rect x="28.41" y="299.79" width="3.71" height="3.71" fill="rgb(84,84,84)"/>
<rect x="31.82" y="299.79" width="3.71" height="3.71" fill="rgb(92,92,92)"/>
<rect x="35.24" y="299.79" width="3.71" height="3.71" fill="rgb(94,94,94)"/>
<rect x="38.65" y="299.79" width="3.71" height="3.71" fill="rgb(91,91,91)"/>
<rect x="42.06" y="299.79" width="3.71" height="3.71" fill="rgb(74,74,74)"/>
<rect x="45.48" y="299.79" width="3.71" height="3.71" fill="rgb(42,42,42)"/>
<rect x="48.89" y="299.79" width="3.71" height="3.71" fill="rgb(12,12,12)"/>
<rect x="52.30" y="299.79" width="3.71" height="3.71" fill="rgb(0,0,0)"/>
<rect x="55.71" y="299.79" width="3.71" height="3.71" fill="rgb(0,0,0)"/>
<rect x="59.12" y="299.79" width="3.71" height="3.71" fill="rgb(0,0,0)"/>
<rect x="62.54" y="299.79" width="3.71" height="3.71" fill="rgb(0,0,0)"/>
<rect x="65.95" y="299.79" width="3.71" height="3.71" fill="rgb(0,0,0)"/>
<rect x="69.36" y="299.79" width="3.71" height="3.71" fill="rgb(33,33,33)"/>
<rect x="72.78" y="299.79" width="3.71" height="3.71" fill="rgb(101,101,101)"/>
<rect x="76.19" y="299.79" width="3.71" height="3.71" fill="rgb(141,141,141)"/>
<rect x="79.60" y="299.79" width="3.71" height="3.71" fill="rgb(152,152,152)"/>
<rect x="83.01" y="299.79" width="3.71" height="3.71" fill="rgb(154,154,154)"/>
<rect x="86.43" y="299.79" width="3.71" height="3.71" fill="rgb(149,149,149)"/>
<rect x="89.84" y="299.79" width="3.71" height="3.71" fill="rgb(144,144,144)"/>
<rect x="93.25" y="299.79" width="3.71" height="3.71" fill="rgb(139,139,139)"/>
<rect x="96.66" y="299.79" width="3.71" height="3.71" fill="rgb(147,147,147)"/>
<rect x="100.08" y="299.79" width="3.71" height="3.71" fill="rgb(168,168,168)"/>
<rect x="103.49" y="299.79" width="3.71" height="3.71" fill="rgb(185,185,185)"/>
<rect x="106.90" y="299.79" width="3.71" height="3.71" fill="rgb(198,198,198)"/>
<rect x="110.31" y="299.79" width="3.71" height="3.71" fill="rgb(219,219,219)"/>
<rect x="113.73" y="299.79" width="3.71" height="3.71" fill="rgb(248,248,248)"/>
<rect x="117.14" y="299.79" width="3.71" height="3.71" fill="rgb(255,255,255)"/>
<rect x="120.55" y="299.79" width="3.71" height="3.71" fill="rgb(255,255,255)"/>
<rect x="123.96" y="299.79" width="3.71" height="3.71" fill="rgb(255,255,255)"/>
<rect x="127.38" y="299.79" width="3.71" height="3.71" fill="rgb(255,255,255)"/>
<rect x="130.79" y="299.79" width="3.71" height="3.71" fill="rgb(236,236,236)"/>
<rect x="134.20" y="299.79" width="3.71" height="3.71" fill="rgb(213,213,213)"/>
<rect x="137.61" y="299.79" width="3.71" height="3.71" fill="rgb(192,192,192)"/>
<rect x="141.03" y="299.79" width="3.71" height="3.71" fill="rgb(173,173,173)"/>
<rect x="144.44" y="299.79" width="3.71" height="3.71" fill="rgb(177,177,177)"/>
<rect x="147.85" y="299.79" width="3.71" height="3.71" fill="rgb(201,201,201)"/>
<rect x="151.26" y="299.79" width="3.71" height="3.71" fill="rgb(227,227,227)"/>
<rect x="154.68" y="299.79" width="3.71" height="3.71" fill="rgb(254,254,254)"/>
<rect x="158.09" y="299.79" width="3.71" height="3.71" fill="rgb(255,255,255)"/>
<rect x="161.50" y="299.79" width="3.71" height="3.71" fill="rgb(255,255,255)"/>
<rect x="164.91" y="299.79" width="3.71" height="3.71" fill="rgb(255,255,255)"/>
<rect x="18.18" y="303.20" width="3.71" height="3.71" fill="rgb(40,40,40)"/>
<rect x="21.59" y="303.20" width="3.71" height="3.71" fill="rgb(40,40,40)"/>
<rect x="25.00" y="303.20" width="3.71" height="3.71" fill="rgb(40,40,40)"/>
<rect x="28.41" y="303.20" width="3.71" height="3.71" fill="rgb(46,46,46)"/>
<rect x="31.82" y="303.20" width="3.71" height="3.71" fill="rgb(59,59,59)"/>
<rect x="35.24" y="303.20" width="3.71" height="3.71" fill="rgb(65,65,65)"/>
<rect x="38.65" y="303.20" width="3.71" height="3.71" fill="rgb(65,65,65)"/>
<rect x="42.06" y="303.20" width="3.71" height="3.71" fill="rgb(48,48,48)"/>
<rect x="45.48" y="303.20" width="3.71" height="3.71" fill="rgb(15,15,15)"/>
<rect x="48.89" y="303.20" width="3.71" height="3.71" fill="rgb(0,0,0)"/>
<rect x="52.30" y="303.20" width="3.71" height="3.71" fill="rgb(0,0,0)"/>
<rect x="55.71" y="303.20" width="3.71" height="3.71" fill="rgb(0,0,0)"/>
<rect x="59.12" y="303.20" width="3.71" height="3.71" fill="rgb(0,0,0)"/>
<rect x="62.54" y="303.20" width="3.71" height="3.71" fill="rgb(0,0,0)"/>
<rect x="65.95" y="303.20" width="3.71" height="3.71" fill="rgb(0,0,0)"/>
<rect x="69.36" y="303.20" width="3.71" height="3.71" fill="rgb(15,15,15)"/>
<rect x="72.78" y="303.20" width="3.71" height="3.71" fill="rgb(76,76,76)"/>
<rect x="76.19" y="303.20" width="3.71" height="3.71" fill="rgb(115,115,115)"/>
<rect x="79.60" y="303.20" width="3.71" height="3.71" fill="rgb(132,132,132)"/>
<rect x="83.01" y="303.20" width="3.71" height="3.71" fill="rgb(138,138,138)"/>
<rect x="86.43" y="303.20" width="3.71" height="3.71" fill="rgb(135,135,135)"/>
<rect x="89.84" y="303.20" width="3.71" height="3.71" fill="rgb(130,130,130)"/>
<rect x="93.25" y="303.20" width="3.71" height="3.71" fill="rgb(123,123,123)"/>
<rect x="96.66" y="303.20" width="3.71" height="3.71" fill="rgb(130,130,130)"/>
<rect x="100.08" y="303.20" width="3.71" height="3.71" fill="rgb(150,150,150)"/>
<rect x="103.49" y="303.20" width="3.71" height="3.71" fill="rgb(167,167,167)"/>
<rect x="106.90" y="303.20" width="3.71" height="3.71" fill="rgb(181,181,181)"/>
<rect x="110.31" y="303.20" width="3.71" height="3.71" fill="rgb(211,211,211)"/>
<rect x="113.73" y="303.20" width="3.71" height="3.71" fill="rgb(255,255,255)"/>
<rect x="117.14" y="303.20" width="3.71" height="3.71" fill="rgb(255,255,255)"/>
<rect x="120.55" y="303.20" width="3.71" height="3.71" fill="rgb(255,255,255)"/>
<rect x="123.96" y="303.20" width="3.71" height="3.71" fill="rgb(255,255,255)"/>
<rect x="127.38" y="303.20" width="3.71" height="3.71" fill="rgb(255,255,255)"/>
<rect x="130.79" y="303.20" width="3.71" height="3.71" fill="rgb(248,248,248)"/>
<rect x="134.20" y="303.20" width="3.71" height="3.71" fill="rgb(210,210,210)"/>
<rect x="137.61" y="303.20" width="3.71" height="3.71" fill="rgb(189,189,189)"/>
<rect x="141.03" y="303.20" width="3.71" height="3.71" fill="rgb(186,186,186)"/>
<rect x="144.44" y="303.20" width="3.71" height="3.71" fill="rgb(197,197,197)"/>
<rect x="147.85" y="303.20" width="3.71" height="3.71" fill="rgb(221,221,221)"/>
<rect x="151.26" y="303.20" width="3.71" height="3.71" fill="rgb(242,242,242)"/>
<rect x="154.68" y="303.20" width="3.71" height="3.71" fill="rgb(255,255,255)"/>
<rect x="158.09" y="303.20" width="3.71" height="3.71" fill="rgb(255,255,255)"/>
<rect x="161.50" y="303.20" width="3.71" height="3.71" fill="rgb(255,255,255)"/>
<rect x="164.91" y="303.20" width="3.71" height="3.71" fill="rgb(255,255,255)"/>
<rect x="18.18" y="306.61" width="3.71" height="3.71" fill="rgb(0,0,0)"/>
<rect x="21.59" y="306.61" width="3.71" height="3.71" fill="rgb(0,0,0)"/>
<rect x="25.00" y="306.61" width="3.71" height="3.71" fill="rgb(0,0,0)"/>
<rect x="28.41" y="306.61" width="3.71" height="3.71" fill="rgb(6,6,6)"/>
<rect x="31.82" y="306.61" width="3.71" height="3.71" fill="rgb(26,26,26)"/>
<rect x="35.24" y="306.61" width="3.71" height="3.71" fill="rgb(38,38,38)"/>
<rect x="38.65" y="306.61" width="3.71" height="3.71" fill="rgb(45,45,45)"/>
<rect x="42.06" y="306.61" width="3.71" height="3.71" fill="rgb(32,32,32)"/>
<rect x="45.48" y="306.61" width="3.71" height="3.71" fill="rgb(1,1,1)"/>
<rect x="48.89" y="306.61" width="3.71" height="3.71" fill="rgb(0,0,0)"/>
<rect x="52.30" y="306.61" width="3.71" height="3.71" fill="rgb(0,0,0)"/>
<rect x="55.71" y="306.61" width="3.71" height="3.71" fill="rgb(0,0,0)"/>
<rect x="59.12" y="306.61" width="3.71" height="3.71" fill="rgb(0,0,0)"/>
<rect x="62.54" y="306.61" width="3.71" height="3.71" fill="rgb(0,0,0)"/>
<rect x="65.95" y="306.61" width="3.71" height="3.71" fill="rgb(0,0,0)"/>
<rect x="69.36" y="306.61" width="3.71" height="3.71" fill="rgb(0,0,0)"/>
<rect x="72.78" y="306.61" width="3.71" height="3.71" fill="rgb(29,29,29)"/>
<rect x="76.19" y="306.61" width="3.71" height="3.71" fill="rgb(61,61,61)"/>
<rect x="79.60" y="306.61" width="3.71" height="3.71" fill="rgb(91,91,91)"/>
<rect x="83.01" y="306.61" width="3.71" height="3.71" fill="rgb(108,108,108)"/>
<rect x="86.43" y="306.61" width="3.71" height="3.71" fill="rgb(114,114,114)"/>
<rect x="89.84" y="306.61" width="3.71" height="3.71" fill="rgb(111,111,111)"/>
<rect x="93.25" y="306.61" width="3.71" height="3.71" fill="rgb(100,100,100)"/>
<rect x="96.66" y="306.61" width="3.71" height="3.71" fill="rgb(106,106,106)"/>
<rect x="100.08" y="306.61" width="3.71" height="3.71" fill="rgb(130,130,130)"/>
<rect x="103.49" y="306.61" width="3.71" height="3.71" fill="rgb(151,151,151)"/>
<rect x="106.90" y="306.61" width="3.71" height="3.71" fill="rgb(167,167,167)"/>
<rect x="110.31" y="306.61" width="3.71" height="3.71" fill="rgb(203,203,203)"/>
<rect x="113.73" y="306.61" width="3.71" height="3.71" fill="rgb(255,255,255)"/>
<rect x="117.14" y="306.61" width="3.71" height="3.71" fill="rgb(255,255,255)"/>
<rect x="120.55" y="306.61" width="3.71" height="3.71" fill="rgb(255,255,255)"/>
<rect x="123.96" y="306.61" width="3.71" height="3.71" fill="rgb(255,255,255)"/>
<rect x="127.38" y="306.61" width="3.71" height="3.71" fill="rgb(255,255,255)"/>
<rect x="130.79" y="306.61" width="3.71" height="3.71" fill="rgb(255,255,255)"/>
<rect x="134.20" y="306.61" width="3.71" height="3.71" fill="rgb(208,208,208)"/>
<rect x="137.61" y="306.61" width="3.71" height="3.71" fill="rgb(188,188,188)"/>
<rect x="141.03" y="306.61" width="3.71" height="3.71" fill="rgb(200,200,200)"/>
<rect x="144.44" y="306.61" width="3.71" height="3.71" fill="rgb(214,214,214)"/>
<rect x="147.85" y="306.61" width="3.71" height="3.71" fill="rgb(230,230,230)"/>
<rect x="151.26" y="306.61" width="3.71" height="3.71" fill="rgb(235,235,235)"/>
<rect x="154.68" y="306.61" width="3.71" height="3.71" fill="rgb(230,230,230)"/>
<rect x="158.09" y="306.61" width="3.71" height="3.71" fill="rgb(228,228,228)"/>
<rect x="161.50" y="306.61" width="3.71" height="3.71" fill="rgb(228,228,228)"/>
<rect x="164.91" y="306.61" width="3.71" height="3.71" fill="rgb(228,228,228)"/>
<rect x="18.18" y="310.02" width="3.71" height="3.71" fill="rgb(0,0,0)"/>
<rect x="21.59" y="310.02" width="3.71" height="3.71" fill="rgb(0,0,0)"/>
<rect x="25.00" y="310.02" width="3.71" height="3.71" fill="rgb(0,0,0)"/>
<rect x="28.41" y="310.02" width="3.71" height="3.71" fill="rgb(0,0,0)"/>
<rect x="31.82" y="310.02" width="3.71" height="3.71" fill="rgb(0,0,0)"/>
<rect x="35.24" y="310.02" width="3.71" height="3.71" fill="rgb(11,11,11)"/>
<rect x="38.65" y="310.02" width="3.71" height="3.71" fill="rgb(19,19,19)"/>
<rect x="42.06" y="310.02" width="3.71" height="3.71" fill="rgb(14,14,14)"/>
<rect x="45.48" y="310.02" width="3.71" height="3.71" fill="rgb(0,0,0)"/>
<rect x="48.89" y="310.02" width="3.71" height="3.71" fill="rgb(0,0,0)"/>
<rect x="52.30" y="310.02" width="3.71" height="3.71" fill="rgb(0,0,0)"/>
<rect x="55.71" y="310.02" width="3.71" height="3.71" fill="rgb(0,0,0)"/>
<rect x="59.12" y="310.02" width="3.71" height="3.71" fill="rgb(0,0,0)"/>
<rect x="62.54" y="310.02" width="3.71" height="3.71" fill="rgb(0,0,0)"/>
<rect x="65.95" y="310.02" width="3.71" height="3.71" fill="rgb(0,0,0)"/>
<rect x="69.36" y="310.02" width="3.71" height="3.71" fill="rgb(0,0,0)"/>
<rect x="72.78" y="310.02" width="3.71" height="3.71" fill="rgb(15,15,15)"/>
<rect x="76.19" y="310.02" width="3.71" height="3.71" fill="rgb(46,46,46)"/>
<rect x="79.60" y="310.02" width="3.71" height="3.71" fill="rgb(77,77,77)"/>
<rect x="83.01" y="310.02" width="3.71" height="3.71" fill="rgb(99,99,99)"/>
<rect x="86.43" y="310.02" width="3.71" height="3.71" fill="rgb(110,110,110)"/>
<rect x="89.84" y="310.02" width="3.71" height="3.71" fill="rgb(105,105,105)"/>
<rect x="93.25" y="310.02" width="3.71" height="3.71" fill="rgb(82,82,82)"/>
<rect x="96.66" y="310.02" width="3.71" height="3.71" fill="rgb(84,84,84)"/>
<rect x="100.08" y="310.02" width="3.71" height="3.71" fill="rgb(110,110,110)"/>
<rect x="103.49" y="310.02" width="3.71" height="3.71" fill="rgb(133,133,133)"/>
<rect x="106.90" y="310.02" width="3.71" height="3.71" fill="rgb(154,154,154)"/>
<rect x="110.31" y="310.02" width="3.71" height="3.71" fill="rgb(194,194,194)"/>
<rect x="113.73" y="310.02" width="3.71" height="3.71" fill="rgb(251,251,251)"/>
<rect x="117.14" y="310.02" width="3.71" height="3.71" fill="rgb(255,255,255)"/>
<rect x="120.55" y="310.02" width="3.71" height="3.71" fill="rgb(255,255,255)"/>
<rect x="123.96" y="310.02" width="3.71" height="3.71" fill="rgb(255,255,255)"/>
<rect x="127.38" y="310.02" width="3.71" height="3.71" fill="rgb(255,255,255)"/>
<rect x="130.79" y="310.02" width="3.71" height="3.71" fill="rgb(255,255,255)"/>
<rect x="134.20" y="310.02" width="3.71" height="3.71" fill="rgb(207,207,207)"/>
<rect x="137.61" y="310.02" width="3.71" height="3.71" fill="rgb(182,182,182)"/>
<rect x="141.03" y="310.02" width="3.71" height="3.71" fill="rgb(189,189,189)"/>
<rect x="144.44" y="310.02" width="3.71" height="3.71" fill="rgb(197,197,197)"/>
<rect x="147.85" y="310.02" width="3.71" height="3.71" fill="rgb(209,209,209)"/>
<rect x="151.26" y="310.02" width="3.71" height="3.71" fill="rgb(209,209,209)"/>
<rect x="154.68" y="310.02" width="3.71" height="3.71" fill="rgb(197,197,197)"/>
<rect x="158.09" y="310.02" width="3.71" height="3.71" fill="rgb(192,192,192)"/>
<rect x="161.50" y="310.02" width="3.71" height="3.71" fill="rgb(192,192,192)"/>
<rect x="164.91" y="310.02" width="3.71" height="3.71" fill="rgb(192,192,192)"/>
<rect x="18.18" y="313.44" width="3.71" height="3.71" fill="rgb(0,0,0)"/>
<rect x="21.59" y="313.44" width="3.71" height="3.71" fill="rgb(0,0,0)"/>
<rect x="25.00" y="313.44" width="3.71" height="3.71" fill="rgb(0,0,0)"/>
<rect x="28.41" y="313.44" width="3.71" height="3.71" fill="rgb(0,0,0)"/>
<rect x="31.82" y="313.44" width="3.71" height="3.71" fill="rgb(0,0,0)"/>
<rect x="35.24" y="313.44" width="3.71" height="3.71" fill="rgb(0,0,0)"/>
<rect x="38.65" y="313.44" width="3.71" height="3.71" fill="rgb(0,0,0)"/>
<rect x="42.06" y="313.44" width="3.71" height="3.71" fill="rgb(0,0,0)"/>
<rect x="45.48" y="313.44" width="3.71" height="3.71" fill="rgb(0,0,0)"/>
<rect x="48.89" y="313.44" width="3.71" height="3.71" fill="rgb(0,0,0)"/>
<rect x="52.30" y="313.44" width="3.71" height="3.71" fill="rgb(0,0,0)"/>
<rect x="55.71" y="313.44" width="3.71" height="3.71" fill="rgb(0,0,0)"/>
<rect x="59.12" y="313.44" width="3.71" height="3.71" fill="rgb(0,0,0)"/>
<rect x="62.54" y="313.44" width="3.71" height="3.71" fill="rgb(0,0,0)"/>
<rect x="65.95" y="313.44" width="3.71" height="3.71" fill="rgb(0,0,0)"/>
<rect x="69.36" y="313.44" width="3.71" height="3.71" fill="rgb(0,0,0)"/>
<rect x="72.78" y="313.44" width="3.71" height="3.71" fill="rgb(22,22,22)"/>
<rect x="76.19" y="313.44" width="3.71" height="3.71" fill="rgb(52,52,52)"/>
<rect x="79.60" y="313.44" width="3.71" height="3.71" fill="rgb(79,79,79)"/>
<rect x="83.01" y="313.44" width="3.71" height="3.71" fill="rgb(101,101,101)"/>
<rect x="86.43" y="313.44" width="3.71" height="3.71" fill="rgb(117,117,117)"/>
<rect x="89.84" y="313.44" width="3.71" height="3.71" fill="rgb(106,106,106)"/>
<rect x="93.25" y="313.44" width="3.71" height="3.71" fill="rgb(68,68,68)"/>
<rect x="96.66" y="313.44" width="3.71" height="3.71" fill="rgb(62,62,62)"/>
<rect x="100.08" y="313.44" width="3.71" height="3.71" fill="rgb(88,88,88)"/>
<rect x="103.49" y="313.44" width="3.71" height="3.71" fill="rgb(115,115,115)"/>
<rect x="106.90" y="313.44" width="3.71" height="3.71" fill="rgb(143,143,143)"/>
<rect x="110.31" y="313.44" width="3.71" height="3.71" fill="rgb(183,183,183)"/>
<rect x="113.73" y="313.44" width="3.71" height="3.71" fill="rgb(236,236,236)"/>
<rect x="117.14" y="313.44" width="3.71" height="3.71" fill="rgb(255,255,255)"/>
<rect x="120.55" y="313.44" width="3.71" height="3.71" fill="rgb(255,255,255)"/>
<rect x="123.96" y="313.44" width="3.71" height="3.71" fill="rgb(255,255,255)"/>
<rect x="127.38" y="313.44" width="3.71" height="3.71" fill="rgb(255,255,255)"/>
<rect x="130.79" y="313.44" width="3.71" height="3.71" fill="rgb(255,255,255)"/>
<rect x="134.20" y="313.44" width="3.71" height="3.71" fill="rgb(207,207,207)"/>
<rect x="137.61" y="313.44" width="3.71" height="3.71" fill="rgb(174,174,174)"/>
<rect x="141.03" y="313.44" width="3.71" height="3.71" fill="rgb(163,163,163)"/>
<rect x="144.44" y="313.44" width="3.71" height="3.71" fill="rgb(162,162,162)"/>
<rect x="147.85" y="313.44" width="3.71" height="3.71" fill="rgb(171,171,171)"/>
<rect x="151.26" y="313.44" width="3.71" height="3.71" fill="rgb(171,171,171)"/>
<rect x="154.68" y="313.44" width="3.71" height="3.71" fill="rgb(162,162,162)"/>
<rect x="158.09" y="313.44" width="3.71" height="3.71" fill="rgb(157,157,157)"/>
<rect x="161.50" y="313.44" width="3.71" height="3.71" fill="rgb(157,157,157)"/>
<rect x="164.91" y="313.44" width="3.71" height="3.71" fill="rgb(157,157,157)"/>
<rect x="18.18" y="316.85" width="3.71" height="3.71" fill="rgb(0,0,0)"/>
<rect x="21.59" y="316.85" width="3.71" height="3.71" fill="rgb(0,0,0)"/>
<rect x="25.00" y="316.85" width="3.71" height="3.71" fill="rgb(0,0,0)"/>
<rect x="28.41" y="316.85" width="3.71" height="3.71" fill="rgb(1,1,1)"/>
<rect x="31.82" y="316.85" width="3.71" height="3.71" fill="rgb(4,4,4)"/>
<rect x="35.24" y="316.85" width="3.71" height="3.71" fill="rgb(11,11,11)"/>
<rect x="38.65" y="316.85" width="3.71" height="3.71" fill="rgb(22,22,22)"/>
<rect x="42.06" y="316.85" width="3.71" height="3.71" fill="rgb(40,40,40)"/>
<rect x="45.48" y="316.85" width="3.71" height="3.71" fill="rgb(66,66,66)"/>
<rect x="48.89" y="316.85" width="3.71" height="3.71" fill="rgb(56,56,56)"/>
<rect x="52.30" y="316.85" width="3.71" height="3.71" fill="rgb(11,11,11)"/>
<rect x="55.71" y="316.85" width="3.71" height="3.71" fill="rgb(0,0,0)"/>
<rect x="59.12" y="316.85" width="3.71" height="3.71" fill="rgb(0,0,0)"/>
<rect x="62.54" y="316.85" width="3.71" height="3.71" fill="rgb(0,0,0)"/>
<rect x="65.95" y="316.85" width="3.71" height="3.71" fill="rgb(0,0,0)"/>
<rect x="69.36" y="316.85" width="3.71" height="3.71" fill="rgb(0,0,0)"/>
<rect x="72.78" y="316.85" width="3.71" height="3.71" fill="rgb(27,27,27)"/>
<rect x="76.19" y="316.85" width="3.71" height="3.71" fill="rgb(58,58,58)"/>
<rect x="79.60" y="316.85" width="3.71" height="3.71" fill="rgb(92,92,92)"/>
<rect x="83.01" y="316.85" width="3.71" height="3.71" fill="rgb(115,115,115)"/>
<rect x="86.43" y="316.85" width="3.71" height="3.71" fill="rgb(127,127,127)"/>
<rect x="89.84" y="316.85" width="3.71" height="3.71" fill="rgb(116,116,116)"/>
<rect x="93.25" y="316.85" width="3.71" height="3.71" fill="rgb(81,81,81)"/>
<rect x="96.66" y="316.85" width="3.71" height="3.71" fill="rgb(68,68,68)"/>
<rect x="100.08" y="316.85" width="3.71" height="3.71" fill="rgb(77,77,77)"/>
<rect x="103.49" y="316.85" width="3.71" height="3.71" fill="rgb(87,87,87)"/>
<rect x="106.90" y="316.85" width="3.71" height="3.71" fill="rgb(97,97,97)"/>
<rect x="110.31" y="316.85" width="3.71" height="3.71" fill="rgb(135,135,135)"/>
<rect x="113.73" y="316.85" width="3.71" height="3.71" fill="rgb(203,203,203)"/>
<rect x="117.14" y="316.85" width="3.71" height="3.71" fill="rgb(249,249,249)"/>
<rect x="120.55" y="316.85" width="3.71" height="3.71" fill="rgb(255,255,255)"/>
<rect x="123.96" y="316.85" width="3.71" height="3.71" fill="rgb(255,255,255)"/>
<rect x="127.38" y="316.85" width="3.71" height="3.71" fill="rgb(255,255,255)"/>
<rect x="130.79" y="316.85" width="3.71" height="3.71" fill="rgb(247,247,247)"/>
<rect x="134.20" y="316.85" width="3.71" height="3.71" fill="rgb(176,176,176)"/>
<rect x="137.61" y="316.85" width="3.71" height="3.71" fill="rgb(140,140,140)"/>
<rect x="141.03" y="316.85" width="3.71" height="3.71" fill="rgb(140,140,140)"/>
<rect x="144.44" y="316.85" width="3.71" height="3.71" fill="rgb(143,143,143)"/>
<rect x="147.85" y="316.85" width="3.71" height="3.71" fill="rgb(150,150,150)"/>
<rect x="151.26" y="316.85" width="3.71" height="3.71" fill="rgb(151,151,151)"/>
<rect x="154.68" y="316.85" width="3.71" height="3.71" fill="rgb(145,145,145)"/>
<rect x="158.09" y="316.85" width="3.71" height="3.71" fill="rgb(142,142,142)"/>
<rect x="161.50" y="316.85" width="3.71" height="3.71" fill="rgb(142,142,142)"/>
<rect x="164.91" y="316.85" width="3.71" height="3.71" fill="rgb(142,142,142)"/>
<rect x="18.18" y="320.26" width="3.71" height="3.71" fill="rgb(43,43,43)"/>
<rect x="21.59" y="320.26" width="3.71" height="3.71" fill="rgb(43,43,43)"/>
<rect x="25.00" y="320.26" width="3.71" height="3.71" fill="rgb(43,43,43)"/>
<rect x="28.41" y="320.26" width="3.71" height="3.71" fill="rgb(46,46,46)"/>
<rect x="31.82" y="320.26" width="3.71" height="3.71" fill="rgb(54,54,54)"/>
<rect x="35.24" y="320.26" width="3.71" height="3.71" fill="rgb(68,68,68)"/>
<rect x="38.65" y="320.26" width="3.71" height="3.71" fill="rgb(90,90,90)"/>
<rect x="42.06" y="320.26" width="3.71" height="3.71" fill="rgb(123,123,123)"/>
<rect x="45.48" y="320.26" width="3.71" height="3.71" fill="rgb(168,168,168)"/>
<rect x="48.89" y="320.26" width="3.71" height="3.71" fill="rgb(149,149,149)"/>
<rect x="52.30" y="320.26" width="3.71" height="3.71" fill="rgb(68,68,68)"/>
<rect x="55.71" y="320.26" width="3.71" height="3.71" fill="rgb(13,13,13)"/>
<rect x="59.12" y="320.26" width="3.71" height="3.71" fill="rgb(0,0,0)"/>
<rect x="62.54" y="320.26" width="3.71" height="3.71" fill="rgb(0,0,0)"/>
<rect x="65.95" y="320.26" width="3.71" height="3.71" fill="rgb(0,0,0)"/>
<rect x="69.36" y="320.26" width="3.71" height="3.71" fill="rgb(11,11,11)"/>
<rect x="72.78" y="320.26" width="3.71" height="3.71" fill="rgb(31,31,31)"/>
<rect x="76.19" y="320.26" width="3.71" height="3.71" fill="rgb(65,65,65)"/>
<rect x="79.60" y="320.26" width="3.71" height="3.71" fill="rgb(112,112,112)"/>
<rect x="83.01" y="320.26" width="3.71" height="3.71" fill="rgb(137,137,137)"/>
<rect x="86.43" y="320.26" width="3.71" height="3.71" fill="rgb(140,140,140)"/>
<rect x="89.84" y="320.26" width="3.71" height="3.71" fill="rgb(131,131,131)"/>
<rect x="93.25" y="320.26" width="3.71" height="3.71" fill="rgb(109,109,109)"/>
<rect x="96.66" y="320.26" width="3.71" height="3.71" fill="rgb(90,90,90)"/>
<rect x="100.08" y="320.26" width="3.71" height="3.71" fill="rgb(73,73,73)"/>
<rect x="103.49" y="320.26" width="3.71" height="3.71" fill="rgb(54,54,54)"/>
<rect x="106.90" y="320.26" width="3.71" height="3.71" fill="rgb(31,31,31)"/>
<rect x="110.31" y="320.26" width="3.71" height="3.71" fill="rgb(67,67,67)"/>
<rect x="113.73" y="320.26" width="3.71" height="3.71" fill="rgb(160,160,160)"/>
<rect x="117.14" y="320.26" width="3.71" height="3.71" fill="rgb(223,223,223)"/>
<rect x="120.55" y="320.26" width="3.71" height="3.71" fill="rgb(254,254,254)"/>
<rect x="123.96" y="320.26" width="3.71" height="3.71" fill="rgb(255,255,255)"/>
<rect x="127.38" y="320.26" width="3.71" height="3.71" fill="rgb(255,255,255)"/>
<rect x="130.79" y="320.26" width="3.71" height="3.71" fill="rgb(223,223,223)"/>
<rect x="134.20" y="320.26" width="3.71" height="3.71" fill="rgb(128,128,128)"/>
<rect x="137.61" y="320.26" width="3.71" height="3.71" fill="rgb(93,93,93)"/>
<rect x="141.03" y="320.26" width="3.71" height="3.71" fill="rgb(118,118,118)"/>
<rect x="144.44" y="320.26" width="3.71" height="3.71" fill="rgb(133,133,133)"/>
<rect x="147.85" y="320.26" width="3.71" height="3.71" fill="rgb(138,138,138)"/>
<rect x="151.26" y="320.26" width="3.71" height="3.71" fill="rgb(140,140,140)"/>
<rect x="154.68" y="320.26" width="3.71" height="3.71" fill="rgb(138,138,138)"/>
<rect x="158.09" y="320.26" width="3.71" height="3.71" fill="rgb(138,138,138)"/>
<rect x="161.50" y="320.26" width="3.71" height="3.71" fill="rgb(138,138,138)"/>
<rect x="164.91" y="320.26" width="3.71" height="3.71" fill="rgb(138,138,138)"/>
<rect x="18.18" y="323.68" width="3.71" height="3.71" fill="rgb(94,94,94)"/>
<rect x="21.59" y="323.68" width="3.71" height="3.71" fill="rgb(94,94,94)"/>
<rect x="25.00" y="323.68" width="3.71" height="3.71" fill="rgb(94,94,94)"/>
<rect x="28.41" y="323.68" width="3.71" height="3.71" fill="rgb(94,94,94)"/>
<rect x="31.82" y="323.68" width="3.71" height="3.71" fill="rgb(95,95,95)"/>
<rect x="35.24" y="323.68" width="3.71" height="3.71" fill="rgb(102,102,102)"/>
<rect x="38.65" y="323.68" width="3.71" height="3.71" fill="rgb(117,117,117)"/>
<rect x="42.06" y="323.68" width="3.71" height="3.71" fill="rgb(146,146,146)"/>
<rect x="45.48" y="323.68" width="3.71" height="3.71" fill="rgb(188,188,188)"/>
<rect x="48.89" y="323.68" width="3.71" height="3.71" fill="rgb(175,175,175)"/>
<rect x="52.30" y="323.68" width="3.71" height="3.71" fill="rgb(108,108,108)"/>
<rect x="55.71" y="323.68" width="3.71" height="3.71" fill="rgb(62,62,62)"/>
<rect x="59.12" y="323.68" width="3.71" height="3.71" fill="rgb(37,37,37)"/>
<rect x="62.54" y="323.68" width="3.71" height="3.71" fill="rgb(26,26,26)"/>
<rect x="65.95" y="323.68" width="3.71" height="3.71" fill="rgb(28,28,28)"/>
<rect x="69.36" y="323.68" width="3.71" height="3.71" fill="rgb(28,28,28)"/>
<rect x="72.78" y="323.68" width="3.71" height="3.71" fill="rgb(26,26,26)"/>
<rect x="76.19" y="323.68" width="3.71" height="3.71" fill="rgb(49,49,49)"/>
<rect x="79.60" y="323.68" width="3.71" height="3.71" fill="rgb(98,98,98)"/>
<rect x="83.01" y="323.68" width="3.71" height="3.71" fill="rgb(128,128,128)"/>
<rect x="86.43" y="323.68" width="3.71" height="3.71" fill="rgb(139,139,139)"/>
<rect x="89.84" y="323.68" width="3.71" height="3.71" fill="rgb(135,135,135)"/>
<rect x="93.25" y="323.68" width="3.71" height="3.71" fill="rgb(115,115,115)"/>
<rect x="96.66" y="323.68" width="3.71" height="3.71" fill="rgb(99,99,99)"/>
<rect x="100.08" y="323.68" width="3.71" height="3.71" fill="rgb(89,89,89)"/>
<rect x="103.49" y="323.68" width="3.71" height="3.71" fill="rgb(74,74,74)"/>
<rect x="106.90" y="323.68" width="3.71" height="3.71" fill="rgb(54,54,54)"/>
<rect x="110.31" y="323.68" width="3.71" height="3.71" fill="rgb(78,78,78)"/>
<rect x="113.73" y="323.68" width="3.71" height="3.71" fill="rgb(146,146,146)"/>
<rect x="117.14" y="323.68" width="3.71" height="3.71" fill="rgb(185,185,185)"/>
<rect x="120.55" y="323.68" width="3.71" height="3.71" fill="rgb(195,195,195)"/>
<rect x="123.96" y="323.68" width="3.71" height="3.71" fill="rgb(201,201,201)"/>
<rect x="127.38" y="323.68" width="3.71" height="3.71" fill="rgb(204,204,204)"/>
<rect x="130.79" y="323.68" width="3.71" height="3.71" fill="rgb(175,175,175)"/>
<rect x="134.20" y="323.68" width="3.71" height="3.71" fill="rgb(114,114,114)"/>
<rect x="137.61" y="323.68" width="3.71" height="3.71" fill="rgb(95,95,95)"/>
<rect x="141.03" y="323.68" width="3.71" height="3.71" fill="rgb(118,118,118)"/>
<rect x="144.44" y="323.68" width="3.71" height="3.71" fill="rgb(131,131,131)"/>
<rect x="147.85" y="323.68" width="3.71" height="3.71" fill="rgb(133,133,133)"/>
<rect x="151.26" y="323.68" width="3.71" height="3.71" fill="rgb(132,132,132)"/>
<rect x="154.68" y="323.68" width="3.71" height="3.71" fill="rgb(129,129,129)"/>
<rect x="158.09" y="323.68" width="3.71" height="3.71" fill="rgb(128,128,128)"/>
<rect x="161.50" y="323.68" width="3.71" height="3.71" fill="rgb(128,128,128)"/>
<rect x="164.91" y="323.68" width="3.71" height="3.71" fill="rgb(128,128,128)"/>
<rect x="18.18" y="327.09" width="3.71" height="3.71" fill="rgb(150,150,150)"/>
<rect x="21.59" y="327.09" width="3.71" height="3.71" fill="rgb(150,150,150)"/>
<rect x="25.00" y="327.09" width="3.71" height="3.71" fill="rgb(150,150,150)"/>
<rect x="28.41" y="327.09" width="3.71" height="3.71" fill="rgb(144,144,144)"/>
<rect x="31.82" y="327.09" width="3.71" height="3.71" fill="rgb(131,131,131)"/>
<rect x="35.24" y="327.09" width="3.71" height="3.71" fill="rgb(124,124,124)"/>
<rect x="38.65" y="327.09" width="3.71" height="3.71" fill="rgb(122,122,122)"/>
<rect x="42.06" y="327.09" width="3.71" height="3.71" fill="rgb(134,134,134)"/>
<rect x="45.48" y="327.09" width="3.71" height="3.71" fill="rgb(161,161,161)"/>
<rect x="48.89" y="327.09" width="3.71" height="3.71" fill="rgb(162,162,162)"/>
<rect x="52.30" y="327.09" width="3.71" height="3.71" fill="rgb(138,138,138)"/>
<rect x="55.71" y="327.09" width="3.71" height="3.71" fill="rgb(121,121,121)"/>
<rect x="59.12" y="327.09" width="3.71" height="3.71" fill="rgb(111,111,111)"/>
<rect x="62.54" y="327.09" width="3.71" height="3.71" fill="rgb(96,96,96)"/>
<rect x="65.95" y="327.09" width="3.71" height="3.71" fill="rgb(74,74,74)"/>
<rect x="69.36" y="327.09" width="3.71" height="3.71" fill="rgb(47,47,47)"/>
<rect x="72.78" y="327.09" width="3.71" height="3.71" fill="rgb(15,15,15)"/>
<rect x="76.19" y="327.09" width="3.71" height="3.71" fill="rgb(22,22,22)"/>
<rect x="79.60" y="327.09" width="3.71" height="3.71" fill="rgb(66,66,66)"/>
<rect x="83.01" y="327.09" width="3.71" height="3.71" fill="rgb(102,102,102)"/>
<rect x="86.43" y="327.09" width="3.71" height="3.71" fill="rgb(131,131,131)"/>
<rect x="89.84" y="327.09" width="3.71" height="3.71" fill="rgb(133,133,133)"/>
<rect x="93.25" y="327.09" width="3.71" height="3.71" fill="rgb(108,108,108)"/>
<rect x="96.66" y="327.09" width="3.71" height="3.71" fill="rgb(103,103,103)"/>
<rect x="100.08" y="327.09" width="3.71" height="3.71" fill="rgb(116,116,116)"/>
<rect x="103.49" y="327.09" width="3.71" height="3.71" fill="rgb(124,124,124)"/>
<rect x="106.90" y="327.09" width="3.71" height="3.71" fill="rgb(128,128,128)"/>
<rect x="110.31" y="327.09" width="3.71" height="3.71" fill="rgb(136,136,136)"/>
<rect x="113.73" y="327.09" width="3.71" height="3.71" fill="rgb(148,148,148)"/>
<rect x="117.14" y="327.09" width="3.71" height="3.71" fill="rgb(140,140,140)"/>
<rect x="120.55" y="327.09" width="3.71" height="3.71" fill="rgb(111,111,111)"/>
<rect x="123.96" y="327.09" width="3.71" height="3.71" fill="rgb(100,100,100)"/>
<rect x="127.38" y="327.09" width="3.71" height="3.71" fill="rgb(107,107,107)"/>
<rect x="130.79" y="327.09" width="3.71" height="3.71" fill="rgb(113,113,113)"/>
<rect x="134.20" y="327.09" width="3.71" height="3.71" fill="rgb(119,119,119)"/>
<rect x="137.61" y="327.09" width="3.71" height="3.71" fill="rgb(125,125,125)"/>
<rect x="141.03" y="327.09" width="3.71" height="3.71" fill="rgb(131,131,131)"/>
<rect x="144.44" y="327.09" width="3.71" height="3.71" fill="rgb(133,133,133)"/>
<rect x="147.85" y="327.09" width="3.71" height="3.71" fill="rgb(130,130,130)"/>
<rect x="151.26" y="327.09" width="3.71" height="3.71" fill="rgb(126,126,126)"/>
<rect x="154.68" y="327.09" width="3.71" height="3.71" fill="rgb(119,119,119)"/>
<rect x="158.09" y="327.09" width="3.71" height="3.71" fill="rgb(115,115,115)"/>
<rect x="161.50" y="327.09" width="3.71" height="3.71" fill="rgb(115,115,115)"/>
<rect x="164.91" y="327.09" width="3.71" height="3.71" fill="rgb(115,115,115)"/>
<rect x="18.18" y="330.50" width="3.71" height="3.71" fill="rgb(176,176,176)"/>
<rect x="21.59" y="330.50" width="3.71" height="3.71" fill="rgb(176,176,176)"/>
<rect x="25.00" y="330.50" width="3.71" height="3.71" fill="rgb(176,176,176)"/>
<rect x="28.41" y="330.50" width="3.71" height="3.71" fill="rgb(168,168,168)"/>
<rect x="31.82" y="330.50" width="3.71" height="3.71" fill="rgb(152,152,152)"/>
<rect x="35.24" y="330.50" width="3.71" height="3.71" fill="rgb(141,141,141)"/>
<rect x="38.65" y="330.50" width="3.71" height="3.71" fill="rgb(136,136,136)"/>
<rect x="42.06" y="330.50" width="3.71" height="3.71" fill="rgb(142,142,142)"/>
<rect x="45.48" y="330.50" width="3.71" height="3.71" fill="rgb(161,161,161)"/>
<rect x="48.89" y="330.50" width="3.71" height="3.71" fill="rgb(165,165,165)"/>
<rect x="52.30" y="330.50" width="3.71" height="3.71" fill="rgb(155,155,155)"/>
<rect x="55.71" y="330.50" width="3.71" height="3.71" fill="rgb(146,146,146)"/>
<rect x="59.12" y="330.50" width="3.71" height="3.71" fill="rgb(138,138,138)"/>
<rect x="62.54" y="330.50" width="3.71" height="3.71" fill="rgb(124,124,124)"/>
<rect x="65.95" y="330.50" width="3.71" height="3.71" fill="rgb(105,105,105)"/>
<rect x="69.36" y="330.50" width="3.71" height="3.71" fill="rgb(84,84,84)"/>
<rect x="72.78" y="330.50" width="3.71" height="3.71" fill="rgb(61,61,61)"/>
<rect x="76.19" y="330.50" width="3.71" height="3.71" fill="rgb(52,52,52)"/>
<rect x="79.60" y="330.50" width="3.71" height="3.71" fill="rgb(57,57,57)"/>
<rect x="83.01" y="330.50" width="3.71" height="3.71" fill="rgb(75,75,75)"/>
<rect x="86.43" y="330.50" width="3.71" height="3.71" fill="rgb(107,107,107)"/>
<rect x="89.84" y="330.50" width="3.71" height="3.71" fill="rgb(119,119,119)"/>
<rect x="93.25" y="330.50" width="3.71" height="3.71" fill="rgb(113,113,113)"/>
<rect x="96.66" y="330.50" width="3.71" height="3.71" fill="rgb(124,124,124)"/>
<rect x="100.08" y="330.50" width="3.71" height="3.71" fill="rgb(154,154,154)"/>
<rect x="103.49" y="330.50" width="3.71" height="3.71" fill="rgb(171,171,171)"/>
<rect x="106.90" y="330.50" width="3.71" height="3.71" fill="rgb(174,174,174)"/>
<rect x="110.31" y="330.50" width="3.71" height="3.71" fill="rgb(169,169,169)"/>
<rect x="113.73" y="330.50" width="3.71" height="3.71" fill="rgb(157,157,157)"/>
<rect x="117.14" y="330.50" width="3.71" height="3.71" fill="rgb(123,123,123)"/>
<rect x="120.55" y="330.50" width="3.71" height="3.71" fill="rgb(69,69,69)"/>
<rect x="123.96" y="330.50" width="3.71" height="3.71" fill="rgb(55,55,55)"/>
<rect x="127.38" y="330.50" width="3.71" height="3.71" fill="rgb(80,80,80)"/>
<rect x="130.79" y="330.50" width="3.71" height="3.71" fill="rgb(105,105,105)"/>
<rect x="134.20" y="330.50" width="3.71" height="3.71" fill="rgb(129,129,129)"/>
<rect x="137.61" y="330.50" width="3.71" height="3.71" fill="rgb(142,142,142)"/>
<rect x="141.03" y="330.50" width="3.71" height="3.71" fill="rgb(144,144,144)"/>
<rect x="144.44" y="330.50" width="3.71" height="3.71" fill="rgb(141,141,141)"/>
<rect x="147.85" y="330.50" width="3.71" height="3.71" fill="rgb(134,134,134)"/>
<rect x="151.26" y="330.50" width="3.71" height="3.71" fill="rgb(127,127,127)"/>
<rect x="154.68" y="330.50" width="3.71" height="3.71" fill="rgb(119,119,119)"/>
<rect x="158.09" y="330.50" width="3.71" height="3.71" fill="rgb(116,116,116)"/>
<rect x="161.50" y="330.50" width="3.71" height="3.71" fill="rgb(116,116,116)"/>
<rect x="164.91" y="330.50" width="3.71" height="3.71" fill="rgb(116,116,116)"/>
<rect x="18.18" y="333.91" width="3.71" height="3.71" fill="rgb(185,185,185)"/>
<rect x="21.59" y="333.91" width="3.71" height="3.71" fill="rgb(185,185,185)"/>
<rect x="25.00" y="333.91" width="3.71" height="3.71" fill="rgb(185,185,185)"/>
<rect x="28.41" y="333.91" width="3.71" height="3.71" fill="rgb(178,178,178)"/>
<rect x="31.82" y="333.91" width="3.71" height="3.71" fill="rgb(164,164,164)"/>
<rect x="35.24" y="333.91" width="3.71" height="3.71" fill="rgb(156,156,156)"/>
<rect x="38.65" y="333.91" width="3.71" height="3.71" fill="rgb(155,155,155)"/>
<rect x="42.06" y="333.91" width="3.71" height="3.71" fill="rgb(161,161,161)"/>
<rect x="45.48" y="333.91" width="3.71" height="3.71" fill="rgb(176,176,176)"/>
<rect x="48.89" y="333.91" width="3.71" height="3.71" fill="rgb(177,177,177)"/>
<rect x="52.30" y="333.91" width="3.71" height="3.71" fill="rgb(165,165,165)"/>
<rect x="55.71" y="333.91" width="3.71" height="3.71" fill="rgb(151,151,151)"/>
<rect x="59.12" y="333.91" width="3.71" height="3.71" fill="rgb(136,136,136)"/>
<rect x="62.54" y="333.91" width="3.71" height="3.71" fill="rgb(128,128,128)"/>
<rect x="65.95" y="333.91" width="3.71" height="3.71" fill="rgb(126,126,126)"/>
<rect x="69.36" y="333.91" width="3.71" height="3.71" fill="rgb(130,130,130)"/>
<rect x="72.78" y="333.91" width="3.71" height="3.71" fill="rgb(140,140,140)"/>
<rect x="76.19" y="333.91" width="3.71" height="3.71" fill="rgb(117,117,117)"/>
<rect x="79.60" y="333.91" width="3.71" height="3.71" fill="rgb(61,61,61)"/>
<rect x="83.01" y="333.91" width="3.71" height="3.71" fill="rgb(47,47,47)"/>
<rect x="86.43" y="333.91" width="3.71" height="3.71" fill="rgb(75,75,75)"/>
<rect x="89.84" y="333.91" width="3.71" height="3.71" fill="rgb(100,100,100)"/>
<rect x="93.25" y="333.91" width="3.71" height="3.71" fill="rgb(124,124,124)"/>
<rect x="96.66" y="333.91" width="3.71" height="3.71" fill="rgb(157,157,157)"/>
<rect x="100.08" y="333.91" width="3.71" height="3.71" fill="rgb(199,199,199)"/>
<rect x="103.49" y="333.91" width="3.71" height="3.71" fill="rgb(215,215,215)"/>
<rect x="106.90" y="333.91" width="3.71" height="3.71" fill="rgb(203,203,203)"/>
<rect x="110.31" y="333.91" width="3.71" height="3.71" fill="rgb(188,188,188)"/>
<rect x="113.73" y="333.91" width="3.71" height="3.71" fill="rgb(168,168,168)"/>
<rect x="117.14" y="333.91" width="3.71" height="3.71" fill="rgb(123,123,123)"/>
<rect x="120.55" y="333.91" width="3.71" height="3.71" fill="rgb(52,52,52)"/>
<rect x="123.96" y="333.91" width="3.71" height="3.71" fill="rgb(42,42,42)"/>
<rect x="127.38" y="333.91" width="3.71" height="3.71" fill="rgb(93,93,93)"/>
<rect x="130.79" y="333.91" width="3.71" height="3.71" fill="rgb(126,126,126)"/>
<rect x="134.20" y="333.91" width="3.71" height="3.71" fill="rgb(142,142,142)"/>
<rect x="137.61" y="333.91" width="3.71" height="3.71" fill="rgb(152,152,152)"/>
<rect x="141.03" y="333.91" width="3.71" height="3.71" fill="rgb(155,155,155)"/>
<rect x="144.44" y="333.91" width="3.71" height="3.71" fill="rgb(152,152,152)"/>
<rect x="147.85" y="333.91" width="3.71" height="3.71" fill="rgb(140,140,140)"/>
<rect x="151.26" y="333.91" width="3.71" height="3.71" fill="rgb(132,132,132)"/>
<rect x="154.68" y="333.91" width="3.71" height="3.71" fill="rgb(127,127,127)"/>
<rect x="158.09" y="333.91" width="3.71" height="3.71" fill="rgb(124,124,124)"/>
<rect x="161.50" y="333.91" width="3.71" height="3.71" fill="rgb(124,124,124)"/>
<rect x="164.91" y="333.91" width="3.71" height="3.71" fill="rgb(124,124,124)"/></g>
<path d="M46.5,221.0 L51.8,231.5" fill="none" stroke="rgb(255,255,255)" stroke-width="2.60" stroke-linecap="round" stroke-linejoin="round"/>
<circle cx="77.90" cy="203.50" r="2.00" fill="rgb(255,255,255)"/>
<circle cx="83.10" cy="207.70" r="2.40" fill="rgb(255,255,255)"/>
<path d="M31,244.0 Q41,233.0 54,243.5" fill="none" stroke="rgb(255,255,255)" stroke-width="3.20" stroke-linecap="round" stroke-linejoin="round"/>
<path d="M73,238.5 L73.6,252.0" fill="none" stroke="rgb(255,255,255)" stroke-width="2.40" stroke-linecap="round" stroke-linejoin="round"/>
<path d="M86.9,245.5 L87.3,257.0 L94.5,259.5" fill="none" stroke="rgb(242,242,242)" stroke-width="2.00" stroke-linecap="round" stroke-linejoin="round"/>
<path d="M79.5,238.5 L80,247.0" fill="none" stroke="rgb(38,38,38)" stroke-width="2.40" stroke-linecap="round" stroke-linejoin="round"/>
<path d="M91,240.0 L91,247.5" fill="none" stroke="rgb(25,25,25)" stroke-width="1.80" stroke-linecap="round" stroke-linejoin="round"/>
<path d="M94.8,248.5 L94.8,255.0" fill="none" stroke="rgb(25,25,25)" stroke-width="1.80" stroke-linecap="round" stroke-linejoin="round"/>
<circle cx="98.50" cy="265.80" r="1.50" fill="rgb(13,13,13)"/>
<path d="M25,275.5 Q33,276.0 39,279.5" fill="none" stroke="rgb(0,0,0)" stroke-width="3.40" stroke-linecap="round" stroke-linejoin="round"/>
<path d="M38,287.5 L42.3,283.0" fill="none" stroke="rgb(0,0,0)" stroke-width="3.00" stroke-linecap="round" stroke-linejoin="round"/>
<path d="M132.3,272.0 L136.5,279.5" fill="none" stroke="rgb(255,255,255)" stroke-width="3.20" stroke-linecap="round" stroke-linejoin="round"/>
<path d="M88.5,248.0 L88.5,257.5" fill="none" stroke="rgb(230,230,230)" stroke-width="1.60" stroke-linecap="round" stroke-linejoin="round"/>
<circle cx="77.00" cy="227.00" r="2.80" fill="rgb(6,6,6)"/>
<path d="M106.5,223.5 L118.5,229.0" fill="none" stroke="rgb(13,13,13)" stroke-width="2.20" stroke-linecap="round" stroke-linejoin="round"/>
<path d="M122.5,238.0 L128,233.0" fill="none" stroke="rgb(13,13,13)" stroke-width="2.40" stroke-linecap="round" stroke-linejoin="round"/>
<path d="M118,286.5 Q130,284.0 140.5,294.0" fill="none" stroke="rgb(249,249,249)" stroke-width="2.60" stroke-linecap="round" stroke-linejoin="round"/>
<path d="M106,322.0 L117,326.0" fill="none" stroke="rgb(25,25,25)" stroke-width="2.00" stroke-linecap="round" stroke-linejoin="round"/>
<path d="M46.5,319.5 L51.8,330.0" fill="none" stroke="rgb(255,255,255)" stroke-width="2.60" stroke-linecap="round" stroke-linejoin="round"/>
<circle cx="77.90" cy="302.00" r="2.00" fill="rgb(255,255,255)"/>
<circle cx="83.10" cy="306.20" r="2.40" fill="rgb(255,255,255)"/>
<path d="M31,342.5 Q41,331.5 54,342.0" fill="none" stroke="rgb(255,255,255)" stroke-width="3.20" stroke-linecap="round" stroke-linejoin="round"/>
<path d="M73,337.0 L73.6,350.5" fill="none" stroke="rgb(255,255,255)" stroke-width="2.40" stroke-linecap="round" stroke-linejoin="round"/>
<path d="M86.9,344.0 L87.3,355.5 L94.5,358.0" fill="none" stroke="rgb(242,242,242)" stroke-width="2.00" stroke-linecap="round" stroke-linejoin="round"/>
<path d="M79.5,337.0 L80,345.5" fill="none" stroke="rgb(38,38,38)" stroke-width="2.40" stroke-linecap="round" stroke-linejoin="round"/>
<path d="M91,338.5 L91,346.0" fill="none" stroke="rgb(25,25,25)" stroke-width="1.80" stroke-linecap="round" stroke-linejoin="round"/>
<path d="M94.8,347.0 L94.8,353.5" fill="none" stroke="rgb(25,25,25)" stroke-width="1.80" stroke-linecap="round" stroke-linejoin="round"/>
<circle cx="98.50" cy="364.30" r="1.50" fill="rgb(13,13,13)"/>
<path d="M25,374.0 Q33,374.5 39,378.0" fill="none" stroke="rgb(0,0,0)" stroke-width="3.40" stroke-linecap="round" stroke-linejoin="round"/>
<path d="M38,386.0 L42.3,381.5" fill="none" stroke="rgb(0,0,0)" stroke-width="3.00" stroke-linecap="round" stroke-linejoin="round"/>
<path d="M132.3,370.5 L136.5,378.0" fill="none" stroke="rgb(255,255,255)" stroke-width="3.20" stroke-linecap="round" stroke-linejoin="round"/>
<path d="M88.5,346.5 L88.5,356.0" fill="none" stroke="rgb(230,230,230)" stroke-width="1.60" stroke-linecap="round" stroke-linejoin="round"/>
<circle cx="77.00" cy="325.50" r="2.80" fill="rgb(6,6,6)"/>
<path d="M106.5,322.0 L118.5,327.5" fill="none" stroke="rgb(13,13,13)" stroke-width="2.20" stroke-linecap="round" stroke-linejoin="round"/>
<path d="M122.5,336.5 L128,331.5" fill="none" stroke="rgb(13,13,13)" stroke-width="2.40" stroke-linecap="round" stroke-linejoin="round"/>
<path d="M118,385.0 Q130,382.5 140.5,392.5" fill="none" stroke="rgb(249,249,249)" stroke-width="2.60" stroke-linecap="round" stroke-linejoin="round"/>
<path d="M106,420.5 L117,424.5" fill="none" stroke="rgb(25,25,25)" stroke-width="2.00" stroke-linecap="round" stroke-linejoin="round"/>
<path d="M46.5,122.5 L51.8,133.0" fill="none" stroke="rgb(255,255,255)" stroke-width="2.60" stroke-linecap="round" stroke-linejoin="round"/>
<circle cx="77.90" cy="105.00" r="2.00" fill="rgb(255,255,255)"/>
<circle cx="83.10" cy="109.20" r="2.40" fill="rgb(255,255,255)"/>
<path d="M31,145.5 Q41,134.5 54,145.0" fill="none" stroke="rgb(255,255,255)" stroke-width="3.20" stroke-linecap="round" stroke-linejoin="round"/>
<path d="M73,140.0 L73.6,153.5" fill="none" stroke="rgb(255,255,255)" stroke-width="2.40" stroke-linecap="round" stroke-linejoin="round"/>
<path d="M86.9,147.0 L87.3,158.5 L94.5,161.0" fill="none" stroke="rgb(242,242,242)" stroke-width="2.00" stroke-linecap="round" stroke-linejoin="round"/>
<path d="M79.5,140.0 L80,148.5" fill="none" stroke="rgb(38,38,38)" stroke-width="2.40" stroke-linecap="round" stroke-linejoin="round"/>
<path d="M91,141.5 L91,149.0" fill="none" stroke="rgb(25,25,25)" stroke-width="1.80" stroke-linecap="round" stroke-linejoin="round"/>
<path d="M94.8,150.0 L94.8,156.5" fill="none" stroke="rgb(25,25,25)" stroke-width="1.80" stroke-linecap="round" stroke-linejoin="round"/>
<circle cx="98.50" cy="167.30" r="1.50" fill="rgb(13,13,13)"/>
<path d="M25,177.0 Q33,177.5 39,181.0" fill="none" stroke="rgb(0,0,0)" stroke-width="3.40" stroke-linecap="round" stroke-linejoin="round"/>
<path d="M38,189.0 L42.3,184.5" fill="none" stroke="rgb(0,0,0)" stroke-width="3.00" stroke-linecap="round" stroke-linejoin="round"/>
<path d="M132.3,173.5 L136.5,181.0" fill="none" stroke="rgb(255,255,255)" stroke-width="3.20" stroke-linecap="round" stroke-linejoin="round"/>
<path d="M88.5,149.5 L88.5,159.0" fill="none" stroke="rgb(230,230,230)" stroke-width="1.60" stroke-linecap="round" stroke-linejoin="round"/>
<circle cx="77.00" cy="128.50" r="2.80" fill="rgb(6,6,6)"/>
<path d="M106.5,125.0 L118.5,130.5" fill="none" stroke="rgb(13,13,13)" stroke-width="2.20" stroke-linecap="round" stroke-linejoin="round"/>
<path d="M122.5,139.5 L128,134.5" fill="none" stroke="rgb(13,13,13)" stroke-width="2.40" stroke-linecap="round" stroke-linejoin="round"/>
<path d="M118,188.0 Q130,185.5 140.5,195.5" fill="none" stroke="rgb(249,249,249)" stroke-width="2.60" stroke-linecap="round" stroke-linejoin="round"/>
<path d="M106,223.5 L117,227.5" fill="none" stroke="rgb(25,25,25)" stroke-width="2.00" stroke-linecap="round" stroke-linejoin="round"/>
</g></g>
<rect x="25.9" y="194.9" width="134.7" height="134.7" fill="none" stroke="#000" stroke-width="1.8"/>
<polygon points="150.00,262.00 121.75,310.93 65.25,310.93 37.00,262.00 65.25,213.07 121.75,213.07" fill="none" stroke="#000" stroke-width="1.6"/>
<circle cx="93.5" cy="262" r="1.9" fill="#000"/>
<text x="62" y="208.3" class="sr" style="font-size:12.5px;fill:#111">K+</text>
<text x="110" y="207.8" class="sr" style="font-size:12.5px;fill:#111">K-</text>
<polygon points="91.00,31.93 134.10,56.82 134.10,106.59 91.00,131.47 47.90,106.59 47.90,56.81" fill="none" stroke="#000" stroke-width="1.5" transform="translate(0,1.634) scale(1,0.98)"/>
<text x="42.00" y="58.60" class="sr" text-anchor="middle" style="font-size:12.8px;font-weight:bold;fill:#fff">K</text>
<text x="139.60" y="58.50" class="sr" text-anchor="middle" style="font-size:12.8px;font-weight:bold;fill:#fff">K</text>
<text x="91.00" y="141.00" class="sr" text-anchor="middle" style="font-size:12.8px;font-weight:bold;fill:#fff">K</text>
<text x="88.80" y="30.30" class="sr" text-anchor="middle" style="font-size:12.8px;font-weight:bold;fill:#fff">-K</text>
<text x="39.80" y="111.80" class="sr" text-anchor="middle" style="font-size:12.8px;font-weight:bold;fill:#fff">-K</text>
<text x="137.60" y="112.80" class="sr" text-anchor="middle" style="font-size:12.8px;font-weight:bold;fill:#fff">-K</text>
<text x="87.3" y="86.8" class="sr" text-anchor="middle" style="font-size:14.5px;font-weight:bold;fill:#fff">I</text>
<rect x="169" y="5.3" width="9.8" height="153.5" fill="url(#cbar)"/>
<line x1="178.8" y1="5.80" x2="181.3" y2="5.80" stroke="#444" stroke-width="0.8"/>
<text x="189.6" y="8.80" class="ss" style="font-size:8.4px" textLength="10.4" lengthAdjust="spacingAndGlyphs">1.0</text>
<line x1="178.8" y1="21.00" x2="181.3" y2="21.00" stroke="#444" stroke-width="0.8"/>
<text x="189.6" y="24.00" class="ss" style="font-size:8.4px" textLength="10.4" lengthAdjust="spacingAndGlyphs">0.8</text>
<line x1="178.8" y1="36.20" x2="181.3" y2="36.20" stroke="#444" stroke-width="0.8"/>
<text x="189.6" y="39.20" class="ss" style="font-size:8.4px" textLength="10.4" lengthAdjust="spacingAndGlyphs">0.6</text>
<line x1="178.8" y1="51.40" x2="181.3" y2="51.40" stroke="#444" stroke-width="0.8"/>
<text x="189.6" y="54.40" class="ss" style="font-size:8.4px" textLength="10.4" lengthAdjust="spacingAndGlyphs">0.4</text>
<line x1="178.8" y1="66.60" x2="181.3" y2="66.60" stroke="#444" stroke-width="0.8"/>
<text x="189.6" y="69.60" class="ss" style="font-size:8.4px" textLength="10.4" lengthAdjust="spacingAndGlyphs">0.2</text>
<line x1="178.8" y1="81.80" x2="181.3" y2="81.80" stroke="#444" stroke-width="0.8"/>
<text x="189.6" y="84.80" class="ss" style="font-size:8.4px" textLength="10.4" lengthAdjust="spacingAndGlyphs">0.0</text>
<line x1="178.8" y1="97.00" x2="181.3" y2="97.00" stroke="#444" stroke-width="0.8"/>
<text x="186" y="100.00" class="ss" style="font-size:8.4px" textLength="13.6" lengthAdjust="spacingAndGlyphs">-0.2</text>
<line x1="178.8" y1="112.20" x2="181.3" y2="112.20" stroke="#444" stroke-width="0.8"/>
<text x="186" y="115.20" class="ss" style="font-size:8.4px" textLength="13.6" lengthAdjust="spacingAndGlyphs">-0.4</text>
<line x1="178.8" y1="127.40" x2="181.3" y2="127.40" stroke="#444" stroke-width="0.8"/>
<text x="186" y="130.40" class="ss" style="font-size:8.4px" textLength="13.6" lengthAdjust="spacingAndGlyphs">-0.6</text>
<line x1="178.8" y1="142.60" x2="181.3" y2="142.60" stroke="#444" stroke-width="0.8"/>
<text x="186" y="145.60" class="ss" style="font-size:8.4px" textLength="13.6" lengthAdjust="spacingAndGlyphs">-0.8</text>
<line x1="178.8" y1="157.80" x2="181.3" y2="157.80" stroke="#444" stroke-width="0.8"/>
<text x="186" y="160.80" class="ss" style="font-size:8.4px" textLength="13.6" lengthAdjust="spacingAndGlyphs">-1.0</text>
<text x="1.3" y="17.8" class="sr" style="font-size:18px;fill:#111">(a)</text>
<text x="203" y="17.8" class="sr" style="font-size:18px;fill:#111">(b)</text>
<text x="1.2" y="203.6" class="sr" style="font-size:18px;fill:#111">(c)</text>
<text x="199" y="203.6" class="sr" style="font-size:18px;fill:#111">(d)</text>
<text x="83.8" y="170.3" class="sr" style="font-size:14px;fill:#111">K<tspan font-style="italic" style="font-size:9.5px" dy="1.5">x</tspan></text>
<text transform="translate(18.2,87.3) rotate(-90)" class="sr" style="font-size:14px;fill:#111">K<tspan font-style="italic" style="font-size:9.5px" dy="1.5">y</tspan></text>
<g clip-path="url(#clipB)">
<path d="M250.24,141.82 L250.66,141.79 L251.09,141.75 L251.51,141.72 L251.94,141.68 L252.36,141.64 L252.78,141.59 L253.21,141.55 L253.63,141.50 L254.06,141.45 L254.48,141.39 L254.90,141.34 L255.33,141.28 L255.75,141.21 L256.18,141.15 L256.60,141.08 L257.02,141.00 L257.45,140.92 L257.87,140.84 L258.30,140.75 L258.72,140.66 L259.14,140.57 L259.57,140.47 L259.99,140.36 L260.41,140.25 L260.84,140.13 L261.26,140.01 L261.69,139.88 L262.11,139.75 L262.53,139.61 L262.96,139.46 L263.38,139.31 L263.81,139.15 L264.23,138.98 L264.65,138.80 L265.08,138.62 L265.50,138.43 L265.93,138.23 L266.35,138.02 L266.77,137.80 L267.20,137.57 L267.62,137.34 L268.05,137.09 L268.47,136.84 L268.89,136.57 L269.32,136.30 L269.74,136.01 L270.17,135.71 L270.59,135.41 L271.01,135.09 L271.44,134.75 L271.86,134.41 L272.29,134.05 L272.71,133.69 L273.13,133.31 L273.56,132.91 L273.98,132.50 L274.41,132.08 L274.83,131.65 L275.25,131.20 L275.68,130.74 L276.10,130.26 L276.53,129.77 L276.95,129.26 L277.37,128.74 L277.80,128.21 L278.22,127.66 L278.65,127.09 L279.07,126.51 L279.49,125.91 L279.92,125.30 L280.34,124.67 L280.76,124.03 L281.19,123.37 L281.61,122.70 L282.04,122.01 L282.46,121.30 L282.88,120.58 L283.31,119.84 L283.73,119.09 L284.16,118.32 L284.58,117.54 L285.00,116.74 L285.43,115.92 L285.85,115.10 L286.28,114.25 L286.70,113.40 L287.12,112.53 L287.55,111.64 L287.97,110.75 L288.40,109.84 L288.82,108.91 L289.24,107.98 L289.67,107.03 L290.09,106.08 L290.52,105.11 L290.94,104.13 L291.36,103.14 L291.79,102.15 L292.21,101.14 L292.64,100.13 L293.06,99.11 L293.48,98.09 L293.91,97.06 L294.33,96.02 L294.76,94.98 L295.18,93.93 L295.60,92.89 L296.03,91.84 L296.45,90.79 L296.88,89.74 L297.30,88.69 L297.72,87.64 L298.15,86.60 L298.57,85.56 L298.99,84.52 L299.42,83.49 L299.84,82.47 L300.27,81.45 L300.69,80.44 L301.11,79.44 L301.54,78.45 L301.96,77.47 L302.39,76.50 L302.81,75.55 L303.23,74.61 L303.66,73.68 L304.08,72.77 L304.51,71.88 L304.93,71.01 L305.35,70.16 L305.78,69.32 L306.20,68.51 L306.63,67.72 L307.05,66.95 L307.47,66.20 L307.90,65.48 L308.32,64.78 L308.75,64.11 L309.17,63.47 L309.59,62.85 L310.02,62.26 L310.44,61.71 L310.87,61.18 L311.29,60.68 L311.71,60.21 L312.14,59.77 L312.56,59.37 L312.99,58.99 L313.41,58.65 L313.83,58.35 L314.26,58.07 L314.68,57.84 L315.11,57.63 L315.53,57.46 L315.95,57.33 L316.38,57.23 L316.80,57.16 L317.23,57.13 L317.65,57.14 L318.07,57.18 L318.50,57.25 L318.92,57.36 L319.34,57.51 L319.77,57.69 L320.19,57.90 L320.62,58.15 L321.04,58.43 L321.46,58.75 L321.89,59.10 L322.31,59.48 L322.74,59.89 L323.16,60.34 L323.58,60.81 L324.01,61.32 L324.43,61.86 L324.86,62.43 L325.28,63.02 L325.70,63.65 L326.13,64.30 L326.55,64.98 L326.98,65.68 L327.40,66.41 L327.82,67.16 L328.25,67.94 L328.67,68.74 L329.10,69.56 L329.52,70.40 L329.94,71.26 L330.37,72.13 L330.79,73.03 L331.22,73.94 L331.64,74.87 L332.06,75.82 L332.49,76.77 L332.91,77.74 L333.34,78.73 L333.76,79.72 L334.18,80.72 L334.61,81.73 L335.03,82.75 L335.46,83.78 L335.88,84.81 L336.30,85.85 L336.73,86.89 L337.15,87.94 L337.57,88.99 L338.00,90.04 L338.42,91.09 L338.85,92.14 L339.27,93.18 L339.69,94.23 L340.12,95.27 L340.54,96.31 L340.97,97.35 L341.39,98.38 L341.81,99.40 L342.24,100.42 L342.66,101.43 L343.09,102.43 L343.51,103.42 L343.93,104.41 L344.36,105.38 L344.78,106.35 L345.21,107.30 L345.63,108.24 L346.05,109.17 L346.48,110.09 L346.90,111.00 L347.33,111.89 L347.75,112.77 L348.17,113.64 L348.60,114.49 L349.02,115.32 L349.45,116.15 L349.87,116.95 L350.29,117.75 L350.72,118.52 L351.14,119.29 L351.57,120.03 L351.99,120.76 L352.41,121.48 L352.84,122.17 L353.26,122.86 L353.69,123.52 L354.11,124.17 L354.53,124.80 L354.96,125.42 L355.38,126.02 L355.81,126.61 L356.23,127.17 L356.65,127.72 L357.08,128.26 L357.50,128.77 L357.92,129.28 L358.35,129.76 L358.77,130.23 L359.20,130.68 L359.62,131.11 L360.04,131.53 L360.47,131.93 L360.89,132.31 L361.32,132.68 L361.74,133.03 L362.16,133.36 L362.59,133.67 L363.01,133.97 L363.44,134.24 L363.86,134.50 L364.28,134.74 L364.71,134.96 L365.13,135.17 L365.56,135.35 L365.98,135.51 L366.40,135.65 L366.83,135.77 L367.25,135.87 L367.68,135.94 L368.10,136.00 L368.52,136.02 L368.95,136.03 L369.37,136.00 L369.80,135.95 L370.22,135.87 L370.64,135.77 L371.07,135.63 L371.49,135.47 L371.92,135.27 L372.34,135.04 L372.76,134.77 L373.19,134.47 L373.61,134.13 L374.04,133.75 L374.46,133.34 L374.88,132.88 L375.31,132.38 L375.73,131.84 L376.15,131.25 L376.58,130.62 L377.00,129.94 L377.43,129.21 L377.85,128.43 L378.27,127.60 L378.70,126.72 L379.12,125.79 L379.55,124.80 L379.97,123.75 L380.39,122.65 L380.82,121.50 L381.24,120.29 L381.67,119.02 L382.09,117.69 L382.51,116.31 L382.94,114.87 L383.36,113.38 L383.79,111.82 L384.21,110.22 L384.63,108.56 L385.06,106.85 L385.48,105.08 L385.91,103.27 L386.33,101.41 L386.75,99.51 L387.18,97.56 L387.60,95.57 L388.03,93.55 L388.45,91.49 L388.87,89.40 L389.30,87.29 L389.72,85.15 L390.15,83.00 L390.57,80.83 L390.99,78.66 L391.42,76.48 L391.84,74.30 L392.27,72.12 L392.69,69.96 L393.11,67.82 L393.54,65.69 L393.96,63.60 L394.39,61.54 L394.81,59.52 L395.23,57.54 L395.66,55.62 L396.08,53.75 L396.50,51.94 L396.93,50.20 L397.35,48.53 L397.78,46.94 L398.20,45.44 L398.62,44.02 L399.05,42.70 L399.47,41.47 L399.90,40.34 L400.32,39.32 L400.74,38.40 L401.17,37.60 L401.59,36.91 L402.02,36.33 L402.44,35.87 L402.86,35.54 L403.29,35.32 L403.71,35.23 L404.14,35.25 L404.56,35.40 L404.98,35.67 L405.41,36.06 L405.83,36.57 L406.26,37.20 L406.68,37.94 L407.10,38.80 L407.53,39.76 L407.95,40.83 L408.38,42.01 L408.80,43.28 L409.22,44.65 L409.65,46.11 L410.07,47.66 L410.50,49.28 L410.92,50.99 L411.34,52.76 L411.77,54.60 L412.19,56.50 L412.62,58.46 L413.04,60.46 L413.46,62.50 L413.89,64.59 L414.31,66.70 L414.73,68.84 L415.16,71.01 L415.58,73.18 L416.01,75.37 L416.43,77.56 L416.85,79.75 L417.28,81.94 L417.70,84.12 L418.13,86.28 L418.55,88.42 L418.97,90.54 L419.40,92.63 L419.82,94.69 L420.25,96.72 L420.67,98.72 L421.09,100.67 L421.52,102.58 L421.94,104.44 L422.37,106.26 L422.79,108.03 L423.21,109.76 L423.64,111.42 L424.06,113.04 L424.49,114.61 L424.91,116.12 L425.33,117.57 L425.76,118.98 L426.18,120.32 L426.61,121.62 L427.03,122.86 L427.45,124.04 L427.88,125.17 L428.30,126.26 L428.73,127.29 L429.15,128.27 L429.57,129.20 L430.00,130.08 L430.42,130.92 L430.85,131.71 L431.27,132.45 L431.69,133.16 L432.12,133.82 L432.54,134.45 L432.96,135.04 L433.39,135.59 L433.81,136.10 L434.24,136.59 L434.66,137.04 L435.08,137.46 L435.51,137.85 L435.93,138.22 L436.36,138.56 L436.78,138.87 L437.20,139.16 L437.63,139.44 L438.05,139.69 L438.48,139.92 L438.90,140.13 L439.32,140.33 L439.75,140.51 L440.17,140.67 L440.60,140.83 L441.02,140.96 L441.44,141.09 L441.87,141.21 L442.29,141.32 L442.72,141.41 L443.14,141.50 L443.56,141.58 L443.99,141.65 L444.41,141.72 L444.84,141.78 L445.26,141.84 L445.68,141.88 L446.11,141.93 L446.53,141.97 L446.96,142.01 L447.38,142.04 L447.80,142.07 L448.23,142.09 L448.65,142.12 L449.08,142.14 L449.50,142.16 L449.92,142.17 L450.35,142.19 L450.77,142.20 L451.20,142.21 L451.62,142.22 L452.04,142.23 L452.47,142.24 L452.89,142.25 L453.31,142.25 L453.74,142.26 L454.16,142.27 L454.59,142.27 L455.01,142.27 L455.43,142.28 L455.86,142.28 L456.28,142.28 L456.71,142.28 L457.13,142.29 L457.55,142.29 L457.98,142.29 L458.40,142.29 L458.83,142.29 L459.25,142.29 L459.67,142.29 L460.10,142.30 L460.52,142.30 L460.95,142.30 L461.37,142.30 L461.79,142.30" fill="none" stroke="#000" stroke-width="1.1"/>
<path d="M250.24,141.69 L250.66,141.65 L251.09,141.60 L251.51,141.55 L251.94,141.50 L252.36,141.45 L252.78,141.39 L253.21,141.33 L253.63,141.27 L254.06,141.20 L254.48,141.13 L254.90,141.06 L255.33,140.98 L255.75,140.90 L256.18,140.81 L256.60,140.72 L257.02,140.62 L257.45,140.51 L257.87,140.40 L258.30,140.29 L258.72,140.17 L259.14,140.04 L259.57,139.91 L259.99,139.77 L260.41,139.62 L260.84,139.46 L261.26,139.30 L261.69,139.13 L262.11,138.95 L262.53,138.76 L262.96,138.57 L263.38,138.36 L263.81,138.14 L264.23,137.92 L264.65,137.68 L265.08,137.43 L265.50,137.18 L265.93,136.91 L266.35,136.62 L266.77,136.33 L267.20,136.03 L267.62,135.71 L268.05,135.37 L268.47,135.03 L268.89,134.67 L269.32,134.29 L269.74,133.91 L270.17,133.50 L270.59,133.08 L271.01,132.64 L271.44,132.19 L271.86,131.72 L272.29,131.24 L272.71,130.73 L273.13,130.21 L273.56,129.67 L273.98,129.11 L274.41,128.54 L274.83,127.94 L275.25,127.32 L275.68,126.69 L276.10,126.03 L276.53,125.36 L276.95,124.66 L277.37,123.94 L277.80,123.20 L278.22,122.44 L278.65,121.66 L279.07,120.85 L279.49,120.03 L279.92,119.18 L280.34,118.31 L280.76,117.42 L281.19,116.50 L281.61,115.57 L282.04,114.61 L282.46,113.62 L282.88,112.62 L283.31,111.59 L283.73,110.54 L284.16,109.47 L284.58,108.38 L285.00,107.27 L285.43,106.13 L285.85,104.97 L286.28,103.80 L286.70,102.60 L287.12,101.38 L287.55,100.14 L287.97,98.88 L288.40,97.61 L288.82,96.31 L289.24,95.00 L289.67,93.67 L290.09,92.33 L290.52,90.97 L290.94,89.59 L291.36,88.20 L291.79,86.80 L292.21,85.39 L292.64,83.96 L293.06,82.52 L293.48,81.08 L293.91,79.62 L294.33,78.16 L294.76,76.69 L295.18,75.21 L295.60,73.73 L296.03,72.25 L296.45,70.77 L296.88,69.28 L297.30,67.80 L297.72,66.32 L298.15,64.84 L298.57,63.36 L298.99,61.89 L299.42,60.43 L299.84,58.97 L300.27,57.53 L300.69,56.10 L301.11,54.68 L301.54,53.27 L301.96,51.88 L302.39,50.50 L302.81,49.15 L303.23,47.81 L303.66,46.50 L304.08,45.21 L304.51,43.94 L304.93,42.69 L305.35,41.48 L305.78,40.29 L306.20,39.13 L306.63,38.00 L307.05,36.91 L307.47,35.84 L307.90,34.81 L308.32,33.82 L308.75,32.87 L309.17,31.95 L309.59,31.07 L310.02,30.23 L310.44,29.43 L310.87,28.68 L311.29,27.97 L311.71,27.30 L312.14,26.67 L312.56,26.10 L312.99,25.56 L313.41,25.08 L313.83,24.64 L314.26,24.25 L314.68,23.91 L315.11,23.62 L315.53,23.38 L315.95,23.18 L316.38,23.04 L316.80,22.95 L317.23,22.90 L317.65,22.91 L318.07,22.97 L318.50,23.08 L318.92,23.23 L319.34,23.44 L319.77,23.70 L320.19,24.00 L320.62,24.36 L321.04,24.76 L321.46,25.21 L321.89,25.71 L322.31,26.25 L322.74,26.85 L323.16,27.48 L323.58,28.16 L324.01,28.89 L324.43,29.66 L324.86,30.46 L325.28,31.31 L325.70,32.20 L326.13,33.13 L326.55,34.10 L326.98,35.10 L327.40,36.14 L327.82,37.21 L328.25,38.32 L328.67,39.46 L329.10,40.62 L329.52,41.82 L329.94,43.04 L330.37,44.29 L330.79,45.57 L331.22,46.87 L331.64,48.19 L332.06,49.53 L332.49,50.89 L332.91,52.27 L333.34,53.67 L333.76,55.08 L334.18,56.50 L334.61,57.94 L335.03,59.38 L335.46,60.84 L335.88,62.31 L336.30,63.78 L336.73,65.25 L337.15,66.73 L337.57,68.22 L338.00,69.70 L338.42,71.19 L338.85,72.67 L339.27,74.15 L339.69,75.63 L340.12,77.11 L340.54,78.57 L340.97,80.03 L341.39,81.49 L341.81,82.93 L342.24,84.37 L342.66,85.79 L343.09,87.20 L343.51,88.60 L343.93,89.98 L344.36,91.36 L344.78,92.71 L345.21,94.05 L345.63,95.38 L346.05,96.68 L346.48,97.97 L346.90,99.24 L347.33,100.49 L347.75,101.73 L348.17,102.94 L348.60,104.13 L349.02,105.30 L349.45,106.45 L349.87,107.58 L350.29,108.69 L350.72,109.78 L351.14,110.84 L351.57,111.89 L351.99,112.91 L352.41,113.90 L352.84,114.88 L353.26,115.83 L353.69,116.76 L354.11,117.67 L354.53,118.56 L354.96,119.42 L355.38,120.27 L355.81,121.08 L356.23,121.88 L356.65,122.66 L357.08,123.41 L357.50,124.15 L357.92,124.86 L358.35,125.55 L358.77,126.22 L359.20,126.87 L359.62,127.50 L360.04,128.11 L360.47,128.70 L360.89,129.27 L361.32,129.83 L361.74,130.36 L362.16,130.88 L362.59,131.38 L363.01,131.86 L363.44,132.32 L363.86,132.77 L364.28,133.20 L364.71,133.62 L365.13,134.02 L365.56,134.40 L365.98,134.77 L366.40,135.13 L366.83,135.47 L367.25,135.80 L367.68,136.11 L368.10,136.42 L368.52,136.71 L368.95,136.98 L369.37,137.25 L369.80,137.50 L370.22,137.75 L370.64,137.98 L371.07,138.21 L371.49,138.42 L371.92,138.62 L372.34,138.82 L372.76,139.00 L373.19,139.18 L373.61,139.35 L374.04,139.51 L374.46,139.66 L374.88,139.81 L375.31,139.95 L375.73,140.08 L376.15,140.20 L376.58,140.32 L377.00,140.44 L377.43,140.54 L377.85,140.65 L378.27,140.74 L378.70,140.83 L379.12,140.92 L379.55,141.00 L379.97,141.08 L380.39,141.15 L380.82,141.22 L381.24,141.29 L381.67,141.35 L382.09,141.41 L382.51,141.47 L382.94,141.52 L383.36,141.57 L383.79,141.61 L384.21,141.66 L384.63,141.70 L385.06,141.74 L385.48,141.77 L385.91,141.81 L386.33,141.84 L386.75,141.87 L387.18,141.90 L387.60,141.93 L388.03,141.95 L388.45,141.98 L388.87,142.00 L389.30,142.02 L389.72,142.04 L390.15,142.06 L390.57,142.07 L390.99,142.09 L391.42,142.10 L391.84,142.12 L392.27,142.13 L392.69,142.14 L393.11,142.15 L393.54,142.17 L393.96,142.18 L394.39,142.18 L394.81,142.19 L395.23,142.20 L395.66,142.21 L396.08,142.21 L396.50,142.22 L396.93,142.23 L397.35,142.23 L397.78,142.24 L398.20,142.24 L398.62,142.25 L399.05,142.25 L399.47,142.26 L399.90,142.26 L400.32,142.26 L400.74,142.26 L401.17,142.27 L401.59,142.27 L402.02,142.27 L402.44,142.27 L402.86,142.28 L403.29,142.28 L403.71,142.28 L404.14,142.28 L404.56,142.28 L404.98,142.28 L405.41,142.29 L405.83,142.29 L406.26,142.29 L406.68,142.29 L407.10,142.29 L407.53,142.29 L407.95,142.29 L408.38,142.29 L408.80,142.29 L409.22,142.29 L409.65,142.29 L410.07,142.29 L410.50,142.30 L410.92,142.30 L411.34,142.30 L411.77,142.30 L412.19,142.30 L412.62,142.30 L413.04,142.30 L413.46,142.30 L413.89,142.30 L414.31,142.30 L414.73,142.30 L415.16,142.30 L415.58,142.30 L416.01,142.30 L416.43,142.30 L416.85,142.30 L417.28,142.30 L417.70,142.30 L418.13,142.30 L418.55,142.30 L418.97,142.30 L419.40,142.30 L419.82,142.30 L420.25,142.30 L420.67,142.30 L421.09,142.30 L421.52,142.30 L421.94,142.30 L422.37,142.30 L422.79,142.30 L423.21,142.30 L423.64,142.30 L424.06,142.30 L424.49,142.30 L424.91,142.30 L425.33,142.30 L425.76,142.30 L426.18,142.30 L426.61,142.30 L427.03,142.30 L427.45,142.30 L427.88,142.30 L428.30,142.30 L428.73,142.30 L429.15,142.30 L429.57,142.30 L430.00,142.30 L430.42,142.30 L430.85,142.30 L431.27,142.30 L431.69,142.30 L432.12,142.30 L432.54,142.30 L432.96,142.30 L433.39,142.30 L433.81,142.30 L434.24,142.30 L434.66,142.30 L435.08,142.30 L435.51,142.30 L435.93,142.30 L436.36,142.30 L436.78,142.30 L437.20,142.30 L437.63,142.30 L438.05,142.30 L438.48,142.30 L438.90,142.30 L439.32,142.30 L439.75,142.30 L440.17,142.30 L440.60,142.30 L441.02,142.30 L441.44,142.30 L441.87,142.30 L442.29,142.30 L442.72,142.30 L443.14,142.30 L443.56,142.30 L443.99,142.30 L444.41,142.30 L444.84,142.30 L445.26,142.30 L445.68,142.30 L446.11,142.30 L446.53,142.30 L446.96,142.30 L447.38,142.30 L447.80,142.30 L448.23,142.30 L448.65,142.30 L449.08,142.30 L449.50,142.30 L449.92,142.30 L450.35,142.30 L450.77,142.30 L451.20,142.30 L451.62,142.30 L452.04,142.30 L452.47,142.30 L452.89,142.30 L453.31,142.30 L453.74,142.30 L454.16,142.30 L454.59,142.30 L455.01,142.30 L455.43,142.30 L455.86,142.30 L456.28,142.30 L456.71,142.30 L457.13,142.30 L457.55,142.30 L457.98,142.30 L458.40,142.30 L458.83,142.30 L459.25,142.30 L459.67,142.30 L460.10,142.30 L460.52,142.30 L460.95,142.30 L461.37,142.30 L461.79,142.30" fill="none" stroke="#f03030" stroke-width="1.1" stroke-dasharray="4 1.5 1 1.5"/>
<path d="M250.24,142.30 L250.66,142.30 L251.09,142.30 L251.51,142.30 L251.94,142.30 L252.36,142.30 L252.78,142.30 L253.21,142.30 L253.63,142.30 L254.06,142.30 L254.48,142.30 L254.90,142.30 L255.33,142.30 L255.75,142.30 L256.18,142.30 L256.60,142.30 L257.02,142.30 L257.45,142.30 L257.87,142.30 L258.30,142.30 L258.72,142.30 L259.14,142.30 L259.57,142.30 L259.99,142.30 L260.41,142.30 L260.84,142.30 L261.26,142.30 L261.69,142.30 L262.11,142.30 L262.53,142.30 L262.96,142.30 L263.38,142.30 L263.81,142.30 L264.23,142.30 L264.65,142.30 L265.08,142.30 L265.50,142.30 L265.93,142.30 L266.35,142.30 L266.77,142.30 L267.20,142.30 L267.62,142.30 L268.05,142.30 L268.47,142.30 L268.89,142.30 L269.32,142.30 L269.74,142.30 L270.17,142.30 L270.59,142.30 L271.01,142.30 L271.44,142.30 L271.86,142.30 L272.29,142.30 L272.71,142.30 L273.13,142.30 L273.56,142.30 L273.98,142.30 L274.41,142.30 L274.83,142.30 L275.25,142.30 L275.68,142.30 L276.10,142.30 L276.53,142.30 L276.95,142.30 L277.37,142.30 L277.80,142.30 L278.22,142.30 L278.65,142.30 L279.07,142.30 L279.49,142.30 L279.92,142.30 L280.34,142.30 L280.76,142.30 L281.19,142.30 L281.61,142.30 L282.04,142.30 L282.46,142.30 L282.88,142.30 L283.31,142.30 L283.73,142.30 L284.16,142.30 L284.58,142.30 L285.00,142.30 L285.43,142.30 L285.85,142.30 L286.28,142.30 L286.70,142.30 L287.12,142.30 L287.55,142.30 L287.97,142.30 L288.40,142.30 L288.82,142.30 L289.24,142.30 L289.67,142.30 L290.09,142.30 L290.52,142.30 L290.94,142.30 L291.36,142.30 L291.79,142.30 L292.21,142.30 L292.64,142.30 L293.06,142.30 L293.48,142.30 L293.91,142.30 L294.33,142.30 L294.76,142.30 L295.18,142.30 L295.60,142.30 L296.03,142.30 L296.45,142.30 L296.88,142.30 L297.30,142.30 L297.72,142.30 L298.15,142.30 L298.57,142.30 L298.99,142.30 L299.42,142.30 L299.84,142.30 L300.27,142.30 L300.69,142.30 L301.11,142.30 L301.54,142.30 L301.96,142.30 L302.39,142.30 L302.81,142.30 L303.23,142.30 L303.66,142.30 L304.08,142.30 L304.51,142.30 L304.93,142.30 L305.35,142.30 L305.78,142.30 L306.20,142.30 L306.63,142.30 L307.05,142.30 L307.47,142.30 L307.90,142.30 L308.32,142.30 L308.75,142.30 L309.17,142.30 L309.59,142.30 L310.02,142.30 L310.44,142.30 L310.87,142.30 L311.29,142.30 L311.71,142.30 L312.14,142.30 L312.56,142.30 L312.99,142.30 L313.41,142.30 L313.83,142.30 L314.26,142.30 L314.68,142.30 L315.11,142.30 L315.53,142.30 L315.95,142.30 L316.38,142.30 L316.80,142.30 L317.23,142.30 L317.65,142.30 L318.07,142.30 L318.50,142.30 L318.92,142.30 L319.34,142.30 L319.77,142.30 L320.19,142.30 L320.62,142.30 L321.04,142.30 L321.46,142.30 L321.89,142.30 L322.31,142.30 L322.74,142.30 L323.16,142.30 L323.58,142.30 L324.01,142.30 L324.43,142.30 L324.86,142.30 L325.28,142.30 L325.70,142.30 L326.13,142.30 L326.55,142.30 L326.98,142.30 L327.40,142.30 L327.82,142.30 L328.25,142.30 L328.67,142.30 L329.10,142.30 L329.52,142.30 L329.94,142.30 L330.37,142.30 L330.79,142.30 L331.22,142.30 L331.64,142.30 L332.06,142.30 L332.49,142.30 L332.91,142.30 L333.34,142.30 L333.76,142.30 L334.18,142.30 L334.61,142.30 L335.03,142.30 L335.46,142.30 L335.88,142.30 L336.30,142.30 L336.73,142.30 L337.15,142.30 L337.57,142.30 L338.00,142.30 L338.42,142.30 L338.85,142.30 L339.27,142.30 L339.69,142.30 L340.12,142.30 L340.54,142.30 L340.97,142.30 L341.39,142.30 L341.81,142.30 L342.24,142.30 L342.66,142.30 L343.09,142.30 L343.51,142.30 L343.93,142.30 L344.36,142.30 L344.78,142.30 L345.21,142.30 L345.63,142.30 L346.05,142.30 L346.48,142.30 L346.90,142.29 L347.33,142.29 L347.75,142.29 L348.17,142.29 L348.60,142.29 L349.02,142.29 L349.45,142.29 L349.87,142.29 L350.29,142.28 L350.72,142.28 L351.14,142.28 L351.57,142.27 L351.99,142.27 L352.41,142.27 L352.84,142.26 L353.26,142.26 L353.69,142.25 L354.11,142.24 L354.53,142.23 L354.96,142.22 L355.38,142.21 L355.81,142.20 L356.23,142.19 L356.65,142.17 L357.08,142.16 L357.50,142.14 L357.92,142.12 L358.35,142.09 L358.77,142.07 L359.20,142.04 L359.62,142.00 L360.04,141.97 L360.47,141.93 L360.89,141.88 L361.32,141.83 L361.74,141.78 L362.16,141.72 L362.59,141.65 L363.01,141.57 L363.44,141.49 L363.86,141.40 L364.28,141.30 L364.71,141.19 L365.13,141.07 L365.56,140.94 L365.98,140.79 L366.40,140.64 L366.83,140.46 L367.25,140.28 L367.68,140.07 L368.10,139.85 L368.52,139.61 L368.95,139.34 L369.37,139.06 L369.80,138.75 L370.22,138.42 L370.64,138.06 L371.07,137.67 L371.49,137.26 L371.92,136.81 L372.34,136.33 L372.76,135.81 L373.19,135.26 L373.61,134.67 L374.04,134.04 L374.46,133.37 L374.88,132.65 L375.31,131.89 L375.73,131.08 L376.15,130.22 L376.58,129.31 L377.00,128.34 L377.43,127.32 L377.85,126.25 L378.27,125.11 L378.70,123.92 L379.12,122.67 L379.55,121.35 L379.97,119.97 L380.39,118.53 L380.82,117.02 L381.24,115.45 L381.67,113.81 L382.09,112.11 L382.51,110.33 L382.94,108.50 L383.36,106.59 L383.79,104.63 L384.21,102.60 L384.63,100.50 L385.06,98.35 L385.48,96.13 L385.91,93.86 L386.33,91.54 L386.75,89.16 L387.18,86.73 L387.60,84.26 L388.03,81.74 L388.45,79.19 L388.87,76.61 L389.30,73.99 L389.72,71.35 L390.15,68.69 L390.57,66.02 L390.99,63.33 L391.42,60.65 L391.84,57.97 L392.27,55.30 L392.69,52.64 L393.11,50.01 L393.54,47.40 L393.96,44.84 L394.39,42.31 L394.81,39.84 L395.23,37.42 L395.66,35.06 L396.08,32.78 L396.50,30.57 L396.93,28.44 L397.35,26.41 L397.78,24.47 L398.20,22.63 L398.62,20.90 L399.05,19.28 L399.47,17.78 L399.90,16.41 L400.32,15.16 L400.74,14.04 L401.17,13.06 L401.59,12.22 L402.02,11.52 L402.44,10.96 L402.86,10.55 L403.29,10.29 L403.71,10.17 L404.14,10.20 L404.56,10.38 L404.98,10.71 L405.41,11.18 L405.83,11.80 L406.26,12.56 L406.68,13.46 L407.10,14.50 L407.53,15.67 L407.95,16.98 L408.38,18.41 L408.80,19.95 L409.22,21.62 L409.65,23.40 L410.07,25.28 L410.50,27.26 L410.92,29.33 L411.34,31.50 L411.77,33.74 L412.19,36.05 L412.62,38.44 L413.04,40.88 L413.46,43.38 L413.89,45.92 L414.31,48.51 L414.73,51.12 L415.16,53.77 L415.58,56.43 L416.01,59.11 L416.43,61.79 L416.85,64.47 L417.28,67.15 L417.70,69.82 L418.13,72.47 L418.55,75.10 L418.97,77.71 L419.40,80.28 L419.82,82.82 L420.25,85.31 L420.67,87.77 L421.09,90.17 L421.52,92.53 L421.94,94.83 L422.37,97.08 L422.79,99.27 L423.21,101.40 L423.64,103.47 L424.06,105.47 L424.49,107.41 L424.91,109.29 L425.33,111.09 L425.76,112.84 L426.18,114.51 L426.61,116.13 L427.03,117.67 L427.45,119.15 L427.88,120.57 L428.30,121.92 L428.73,123.21 L429.15,124.43 L429.57,125.60 L430.00,126.71 L430.42,127.76 L430.85,128.76 L431.27,129.70 L431.69,130.59 L432.12,131.43 L432.54,132.22 L432.96,132.96 L433.39,133.66 L433.81,134.31 L434.24,134.93 L434.66,135.50 L435.08,136.04 L435.51,136.54 L435.93,137.00 L436.36,137.44 L436.78,137.84 L437.20,138.22 L437.63,138.56 L438.05,138.89 L438.48,139.18 L438.90,139.46 L439.32,139.71 L439.75,139.94 L440.17,140.16 L440.60,140.36 L441.02,140.54 L441.44,140.70 L441.87,140.86 L442.29,141.00 L442.72,141.12 L443.14,141.24 L443.56,141.34 L443.99,141.44 L444.41,141.53 L444.84,141.61 L445.26,141.68 L445.68,141.74 L446.11,141.80 L446.53,141.85 L446.96,141.90 L447.38,141.95 L447.80,141.98 L448.23,142.02 L448.65,142.05 L449.08,142.08 L449.50,142.10 L449.92,142.13 L450.35,142.15 L450.77,142.16 L451.20,142.18 L451.62,142.19 L452.04,142.21 L452.47,142.22 L452.89,142.23 L453.31,142.24 L453.74,142.24 L454.16,142.25 L454.59,142.26 L455.01,142.26 L455.43,142.27 L455.86,142.27 L456.28,142.28 L456.71,142.28 L457.13,142.28 L457.55,142.28 L457.98,142.29 L458.40,142.29 L458.83,142.29 L459.25,142.29 L459.67,142.29 L460.10,142.29 L460.52,142.29 L460.95,142.30 L461.37,142.30 L461.79,142.30" fill="none" stroke="#2030f0" stroke-width="1.3" stroke-dasharray="1.4 1.6"/>
</g>
<line x1="317.38" y1="22.90" x2="317.38" y2="158" stroke="#f03030" stroke-width="1" stroke-dasharray="1.4 1.6"/>
<line x1="403.83" y1="8.57" x2="403.83" y2="158" stroke="#3040f0" stroke-width="1" stroke-dasharray="1.4 1.6"/>
<rect x="250.4" y="4.5" width="211.2" height="153.5" fill="none" stroke="#555" stroke-width="1.1"/>
<line x1="250.4" y1="142.30" x2="252.6" y2="142.30" stroke="#555" stroke-width="1"/>
<text x="248" y="145.30" class="sb" text-anchor="end">0.0</text>
<line x1="250.4" y1="102.50" x2="252.6" y2="102.50" stroke="#555" stroke-width="1"/>
<text x="248" y="105.50" class="sb" text-anchor="end">0.5</text>
<line x1="250.4" y1="62.70" x2="252.6" y2="62.70" stroke="#555" stroke-width="1"/>
<text x="248" y="65.70" class="sb" text-anchor="end">1.0</text>
<line x1="250.4" y1="22.90" x2="252.6" y2="22.90" stroke="#555" stroke-width="1"/>
<text x="248" y="25.90" class="sb" text-anchor="end">1.5</text>
<line x1="250.4" y1="122.40" x2="251.8" y2="122.40" stroke="#555" stroke-width="0.8"/>
<line x1="250.4" y1="82.60" x2="251.8" y2="82.60" stroke="#555" stroke-width="0.8"/>
<line x1="250.4" y1="42.80" x2="251.8" y2="42.80" stroke="#555" stroke-width="0.8"/>
<line x1="259.90" y1="158" x2="259.90" y2="155.8" stroke="#555" stroke-width="1"/>
<text x="259.90" y="167.8" class="sb" text-anchor="middle">1.3</text>
<line x1="308.20" y1="158" x2="308.20" y2="155.8" stroke="#555" stroke-width="1"/>
<text x="308.20" y="167.8" class="sb" text-anchor="middle">1.4</text>
<line x1="356.50" y1="158" x2="356.50" y2="155.8" stroke="#555" stroke-width="1"/>
<text x="356.50" y="167.8" class="sb" text-anchor="middle">1.5</text>
<line x1="404.80" y1="158" x2="404.80" y2="155.8" stroke="#555" stroke-width="1"/>
<text x="404.80" y="167.8" class="sb" text-anchor="middle">1.6</text>
<line x1="453.10" y1="158" x2="453.10" y2="155.8" stroke="#555" stroke-width="1"/>
<text x="453.10" y="167.8" class="sb" text-anchor="middle">1.7</text>
<line x1="284.05" y1="158" x2="284.05" y2="156.6" stroke="#555" stroke-width="0.8"/>
<line x1="332.35" y1="158" x2="332.35" y2="156.6" stroke="#555" stroke-width="0.8"/>
<line x1="380.65" y1="158" x2="380.65" y2="156.6" stroke="#555" stroke-width="0.8"/>
<line x1="428.95" y1="158" x2="428.95" y2="156.6" stroke="#555" stroke-width="0.8"/>
<text x="296.5" y="155.5" class="sb">1.419 eV</text>
<text x="381.5" y="155.5" class="sb">1.598 eV</text>
<text x="354.5" y="175.6" class="sb" text-anchor="middle" style="font-size:8.7px">Energy (eV)</text>
<line x1="424" y1="13.1" x2="446.3" y2="13.1" stroke="#f03030" stroke-width="1.1" stroke-dasharray="4 1.5 1 1.5"/>
<line x1="424" y1="30.3" x2="446.3" y2="30.3" stroke="#2030f0" stroke-width="1.3" stroke-dasharray="1.4 1.6"/>
<line x1="424" y1="46.4" x2="446.3" y2="46.4" stroke="#000" stroke-width="1.1"/>
<text x="448.7" y="16.5" class="sb" style="font-size:11px;font-weight:bold">&#963;</text>
<text x="455.6" y="12.1" class="sb" style="font-size:5.5px;fill:#555">+</text>
<text x="448.7" y="33.7" class="sb" style="font-size:11px;font-weight:bold">&#963;</text>
<text x="455.6" y="29.3" class="sb" style="font-size:5.5px;fill:#555">&#8722;</text>
<text x="448.7" y="49.8" class="sb" style="font-size:11px;font-weight:bold">&#963;</text>
<text transform="translate(233.2,148.5) rotate(-90)" class="sb" style="font-size:8.75px">Imaginary parts of dielectric functions <tspan font-style="italic">&#949;</tspan><tspan style="font-size:5px" dy="1.5">2</tspan></text>
<rect x="251.1" y="186.4" width="215.8" height="151.2" fill="none" stroke="#444" stroke-width="1.2"/>
<line x1="251.1" y1="261.8" x2="466.9" y2="261.8" stroke="#333" stroke-width="1.1"/>
<rect x="258.30" y="190.10" width="29.60" height="35.60" rx="4.5" fill="#fff" stroke="#c98a5a" stroke-width="1.2"/>
<path d="M259.80,192.10 L273.10,200.00 L286.40,192.10" fill="none" stroke="#f0a0a0" stroke-width="0.6"/>
<path d="M259.30,201.50 Q273.10,190.10 286.90,201.50" fill="none" stroke="#2035e0" stroke-width="1.3"/>
<line x1="273.10" y1="199.00" x2="273.10" y2="214.30" stroke="#f0a0a0" stroke-width="0.5"/>
<circle cx="273.10" cy="199.00" r="2.0" fill="#e01010"/>
<path d="M269.10,203.40 C277.30,202.90 277.30,210.30 269.80,209.70" fill="none" stroke="#e07020" stroke-width="1.8"/>
<path d="M268.10,209.70 l2.4,-2 l0,4 z" fill="#e07020"/>
<text x="278.10" y="208.40" class="ssi" style="font-size:6px;fill:#111">&#963;<tspan style="font-size:3.8px" dy="1">+</tspan></text>
<line x1="259.30" y1="213.70" x2="286.90" y2="213.70" stroke="#3a5298" stroke-width="1.1" stroke-dasharray="1.2 0.8"/>
<path d="M259.30,220.10 Q273.10,209.10 286.90,220.10" fill="none" stroke="#e02020" stroke-width="1.3"/>
<circle cx="273.10" cy="214.30" r="1.8" fill="#fff" stroke="#e02020" stroke-width="0.8"/>
<text x="273.90" y="223.70" class="ss" text-anchor="middle" style="font-size:6.5px;font-weight:bold">K<tspan style="font-size:3.5px" dy="1">+</tspan></text>
<rect x="396.30" y="187.60" width="29.60" height="35.60" rx="4.5" fill="#fff" stroke="#7a55a8" stroke-width="1.2"/>
<path d="M397.80,189.60 L411.10,197.90 L424.40,189.60" fill="none" stroke="#f0a0a0" stroke-width="0.6"/>
<path d="M397.30,196.20 Q411.10,187.00 424.90,196.20" fill="none" stroke="#2035e0" stroke-width="1.3"/>
<line x1="411.10" y1="196.90" x2="411.10" y2="214.80" stroke="#f0a0a0" stroke-width="0.5"/>
<circle cx="411.10" cy="196.90" r="2.0" fill="#e01010"/>
<path d="M414.60,201.40 C406.90,201.40 406.90,208.80 414.10,208.20" fill="none" stroke="#7b2fe0" stroke-width="1.8"/>
<path d="M416.10,208.20 l-2.4,-2 l0,4 z" fill="#7b2fe0"/>
<text x="416.10" y="206.90" class="ssi" style="font-size:6px;fill:#111">&#963;<tspan style="font-size:3.8px" dy="1">&#8722;</tspan></text>
<line x1="397.30" y1="211.80" x2="424.90" y2="211.80" stroke="#3a5298" stroke-width="1.1" stroke-dasharray="1.2 0.8"/>
<path d="M397.30,220.80 Q411.10,207.80 424.90,220.80" fill="none" stroke="#e02020" stroke-width="1.3"/>
<circle cx="411.10" cy="214.80" r="1.8" fill="#fff" stroke="#e02020" stroke-width="0.8"/>
<text x="411.90" y="223.20" class="ss" text-anchor="middle" style="font-size:6.5px;font-weight:bold">K<tspan style="font-size:3.5px" dy="1">&#8722;</tspan></text>
<rect x="258.30" y="266.70" width="29.60" height="35.60" rx="4.5" fill="#fff" stroke="#7a55a8" stroke-width="1.2"/>
<path d="M259.80,268.70 L273.10,276.60 L286.40,268.70" fill="none" stroke="#a0b0f0" stroke-width="0.6"/>
<path d="M259.30,278.10 Q273.10,266.70 286.90,278.10" fill="none" stroke="#e02020" stroke-width="1.3"/>
<line x1="273.10" y1="275.60" x2="273.10" y2="290.90" stroke="#a0b0f0" stroke-width="0.5"/>
<circle cx="273.10" cy="275.60" r="2.0" fill="#1020e0"/>
<path d="M276.60,279.50 C268.90,279.50 268.90,286.90 276.10,286.30" fill="none" stroke="#7b2fe0" stroke-width="1.8"/>
<path d="M278.10,286.30 l-2.4,-2 l0,4 z" fill="#7b2fe0"/>
<text x="278.10" y="285.00" class="ssi" style="font-size:6px;fill:#111">&#963;<tspan style="font-size:3.8px" dy="1">&#8722;</tspan></text>
<line x1="259.30" y1="290.30" x2="286.90" y2="290.30" stroke="#3a5298" stroke-width="1.1" stroke-dasharray="1.2 0.8"/>
<path d="M259.30,296.70 Q273.10,285.70 286.90,296.70" fill="none" stroke="#2035e0" stroke-width="1.3"/>
<circle cx="273.10" cy="290.90" r="1.8" fill="#fff" stroke="#2035e0" stroke-width="0.8"/>
<text x="273.90" y="300.30" class="ss" text-anchor="middle" style="font-size:6.5px;font-weight:bold">K<tspan style="font-size:3.5px" dy="1">&#8722;</tspan></text>
<rect x="396.30" y="264.30" width="29.60" height="35.60" rx="4.5" fill="#fff" stroke="#c98a5a" stroke-width="1.2"/>
<path d="M397.80,266.30 L411.10,274.60 L424.40,266.30" fill="none" stroke="#a0b0f0" stroke-width="0.6"/>
<path d="M397.30,272.90 Q411.10,263.70 424.90,272.90" fill="none" stroke="#e02020" stroke-width="1.3"/>
<line x1="411.10" y1="273.60" x2="411.10" y2="291.50" stroke="#a0b0f0" stroke-width="0.5"/>
<circle cx="411.10" cy="273.60" r="2.0" fill="#1020e0"/>
<path d="M407.10,278.60 C415.30,278.10 415.30,285.50 407.80,284.90" fill="none" stroke="#e07020" stroke-width="1.8"/>
<path d="M406.10,284.90 l2.4,-2 l0,4 z" fill="#e07020"/>
<text x="416.10" y="283.60" class="ssi" style="font-size:6px;fill:#111">&#963;<tspan style="font-size:3.8px" dy="1">+</tspan></text>
<line x1="397.30" y1="288.50" x2="424.90" y2="288.50" stroke="#3a5298" stroke-width="1.1" stroke-dasharray="1.2 0.8"/>
<path d="M397.30,297.50 Q411.10,284.50 424.90,297.50" fill="none" stroke="#2035e0" stroke-width="1.3"/>
<circle cx="411.10" cy="291.50" r="1.8" fill="#fff" stroke="#2035e0" stroke-width="0.8"/>
<text x="411.90" y="299.90" class="ss" text-anchor="middle" style="font-size:6.5px;font-weight:bold">K<tspan style="font-size:3.5px" dy="1">+</tspan></text>
<path d="M251.00,260.40 L251.54,260.40 L252.08,260.40 L252.62,260.40 L253.17,260.40 L253.71,260.40 L254.25,260.40 L254.79,260.40 L255.33,260.40 L255.87,260.40 L256.41,260.40 L256.95,260.40 L257.50,260.40 L258.04,260.40 L258.58,260.40 L259.12,260.40 L259.66,260.41 L260.20,260.41 L260.74,260.41 L261.29,260.41 L261.83,260.41 L262.37,260.41 L262.91,260.41 L263.45,260.41 L263.99,260.41 L264.53,260.41 L265.08,260.41 L265.62,260.41 L266.16,260.41 L266.70,260.41 L267.24,260.41 L267.78,260.41 L268.32,260.41 L268.86,260.41 L269.41,260.41 L269.95,260.41 L270.49,260.41 L271.03,260.41 L271.57,260.41 L272.11,260.41 L272.65,260.41 L273.20,260.41 L273.74,260.41 L274.28,260.42 L274.82,260.42 L275.36,260.42 L275.90,260.42 L276.44,260.42 L276.98,260.42 L277.53,260.42 L278.07,260.42 L278.61,260.42 L279.15,260.42 L279.69,260.42 L280.23,260.42 L280.77,260.42 L281.32,260.42 L281.86,260.42 L282.40,260.42 L282.94,260.42 L283.48,260.42 L284.02,260.42 L284.56,260.42 L285.11,260.42 L285.65,260.42 L286.19,260.42 L286.73,260.42 L287.27,260.41 L287.81,260.41 L288.35,260.41 L288.89,260.41 L289.44,260.41 L289.98,260.41 L290.52,260.41 L291.06,260.41 L291.60,260.41 L292.14,260.41 L292.68,260.41 L293.23,260.41 L293.77,260.40 L294.31,260.40 L294.85,260.40 L295.39,260.40 L295.93,260.39 L296.47,260.39 L297.02,260.39 L297.56,260.38 L298.10,260.38 L298.64,260.37 L299.18,260.36 L299.72,260.34 L300.26,260.15 L300.80,260.12 L301.35,260.10 L301.89,260.07 L302.43,260.04 L302.97,260.01 L303.51,259.97 L304.05,259.92 L304.59,259.86 L305.14,259.79 L305.68,259.69 L306.22,259.59 L306.76,259.47 L307.30,259.34 L307.84,259.20 L308.38,259.05 L308.92,258.89 L309.47,258.72 L310.01,258.55 L310.55,258.38 L311.09,258.20 L311.63,258.02 L312.17,257.84 L312.71,257.66 L313.26,257.47 L313.80,257.28 L314.34,257.09 L314.88,256.88 L315.42,256.65 L315.96,256.41 L316.50,256.15 L317.05,255.87 L317.59,255.57 L318.13,255.26 L318.67,254.93 L319.21,254.58 L319.75,254.22 L320.29,253.84 L320.83,253.44 L321.38,253.03 L321.92,252.59 L322.46,252.13 L323.00,251.64 L323.54,251.12 L324.08,250.57 L324.62,249.99 L325.17,249.38 L325.71,248.75 L326.25,248.11 L326.79,247.47 L327.33,246.81 L327.87,246.16 L328.41,245.52 L328.95,244.89 L329.50,244.27 L330.04,243.65 L330.58,243.04 L331.12,242.42 L331.66,241.79 L332.20,241.16 L332.74,240.51 L333.29,239.84 L333.83,239.16 L334.37,238.45 L334.91,237.71 L335.45,236.94 L335.99,236.15 L336.53,235.34 L337.08,234.52 L337.62,233.68 L338.16,232.84 L338.70,231.99 L339.24,231.15 L339.78,230.31 L340.32,229.48 L340.86,228.64 L341.41,227.79 L341.95,226.93 L342.49,226.07 L343.03,225.21 L343.57,224.37 L344.11,223.54 L344.65,222.74 L345.20,221.96 L345.74,221.21 L346.28,220.46 L346.82,219.72 L347.36,218.99 L347.90,218.26 L348.44,217.55 L348.98,216.85 L349.53,216.16 L350.07,215.49 L350.61,214.84 L351.15,214.21 L351.69,213.60 L352.23,213.03 L352.77,212.46 L353.32,211.92 L353.86,211.40 L354.40,210.92 L354.94,210.49 L355.48,210.11 L356.02,209.79 L356.56,209.51 L357.11,209.27 L357.65,209.07 L358.19,208.90 L358.73,208.76 L359.27,208.64 L359.81,208.54 L360.35,208.46 L360.89,208.39 L361.44,208.34 L361.98,208.30 L362.52,208.28 L363.06,208.27 L363.60,208.27 L364.14,208.28 L364.68,208.31 L365.23,208.35 L365.77,208.43 L366.31,208.53 L366.85,208.66 L367.39,208.81 L367.93,208.98 L368.47,209.18 L369.02,209.38 L369.56,209.59 L370.10,209.80 L370.64,210.01 L371.18,210.22 L371.72,210.43 L372.26,210.64 L372.80,210.85 L373.35,211.07 L373.89,211.30 L374.43,211.52 L374.97,211.75 L375.51,211.99 L376.05,212.23 L376.59,212.48 L377.14,212.74 L377.68,213.01 L378.22,213.29 L378.76,213.59 L379.30,213.90 L379.84,214.24 L380.38,214.61 L380.92,215.01 L381.47,215.43 L382.01,215.88 L382.55,216.34 L383.09,216.82 L383.63,217.30 L384.17,217.76 L384.71,218.22 L385.26,218.65 L385.80,219.09 L386.34,219.52 L386.88,219.96 L387.42,220.39 L387.96,220.83 L388.50,221.26 L389.05,221.70 L389.59,222.14 L390.13,222.57 L390.67,223.01 L391.21,223.45 L391.75,223.89 L392.29,224.34 L392.83,224.80 L393.38,225.26 L393.92,225.72 L394.46,226.17 L395.00,226.62 L395.54,227.05 L396.08,227.47 L396.62,227.87 L397.17,228.24 L397.71,228.61 L398.25,228.98 L398.79,229.34 L399.33,229.69 L399.87,230.02 L400.41,230.33 L400.95,230.63 L401.50,230.91 L402.04,231.18 L402.58,231.44 L403.12,231.69 L403.66,231.93 L404.20,232.17 L404.74,232.41 L405.29,232.64 L405.83,232.87 L406.37,233.09 L406.91,233.31 L407.45,233.53 L407.99,233.75 L408.53,233.96 L409.08,234.17 L409.62,234.38 L410.16,234.59 L410.70,234.79 L411.24,234.99 L411.78,235.18 L412.32,235.38 L412.86,235.56 L413.41,235.75 L413.95,235.93 L414.49,236.11 L415.03,236.28 L415.57,236.45 L416.11,236.61 L416.65,236.76 L417.20,236.91 L417.74,237.06 L418.28,237.20 L418.82,237.33 L419.36,237.46 L419.90,237.59 L420.44,237.72 L420.98,237.84 L421.53,237.95 L422.07,238.07 L422.61,238.18 L423.15,238.30 L423.69,238.41 L424.23,238.52 L424.77,238.62 L425.32,238.73 L425.86,238.84 L426.40,238.95 L426.94,239.06 L427.48,239.17 L428.02,239.28 L428.56,239.39 L429.11,239.50 L429.65,239.61 L430.19,239.72 L430.73,239.82 L431.27,239.93 L431.81,240.03 L432.35,240.14 L432.89,240.24 L433.44,240.34 L433.98,240.44 L434.52,240.53 L435.06,240.63 L435.60,240.72 L436.14,240.81 L436.68,240.90 L437.23,240.99 L437.77,241.08 L438.31,241.16 L438.85,241.25 L439.39,241.33 L439.93,241.41 L440.47,241.48 L441.02,241.56 L441.56,241.63 L442.10,241.70 L442.64,241.76 L443.18,241.83 L443.72,241.90 L444.26,241.96 L444.80,242.03 L445.35,242.09 L445.89,242.15 L446.43,242.22 L446.97,242.28 L447.51,242.34 L448.05,242.41 L448.59,242.47 L449.14,242.54 L449.68,242.60 L450.22,242.67 L450.76,242.73 L451.30,242.80 L451.84,242.87 L452.38,242.95 L452.92,243.02 L453.47,243.09 L454.01,243.16 L454.55,243.24 L455.09,243.31 L455.63,243.38 L456.17,243.46 L456.71,243.53 L457.26,243.61 L457.80,243.68 L458.34,243.76 L458.88,243.83 L459.42,243.90 L459.96,243.98 L460.50,244.05 L461.05,244.13 L461.59,244.20 L462.13,244.28 L462.67,244.36 L463.21,244.43 L463.75,244.51 L464.29,244.58 L464.83,244.66 L465.38,244.73 L465.92,244.81 L466.46,244.88 L467.00,244.96" fill="none" stroke="#7018e8" stroke-width="1.4"/>
<polygon points="253.50,257.40 254.15,259.51 256.35,259.47 254.55,260.74 255.26,262.83 253.50,261.50 251.74,262.83 252.45,260.74 250.65,259.47 252.85,259.51" fill="#7018e8"/>
<polygon points="258.94,257.40 259.59,259.51 261.79,259.48 259.99,260.74 260.70,262.83 258.94,261.50 257.18,262.83 257.89,260.74 256.09,259.48 258.29,259.51" fill="#7018e8"/>
<polygon points="264.38,257.41 265.03,259.52 267.23,259.48 265.43,260.75 266.14,262.84 264.38,261.51 262.62,262.84 263.33,260.75 261.53,259.48 263.73,259.52" fill="#7018e8"/>
<polygon points="269.82,257.41 270.47,259.52 272.67,259.49 270.87,260.75 271.58,262.84 269.82,261.51 268.06,262.84 268.77,260.75 266.97,259.49 269.17,259.52" fill="#7018e8"/>
<polygon points="275.26,257.42 275.91,259.53 278.11,259.49 276.31,260.76 277.02,262.84 275.26,261.52 273.50,262.84 274.21,260.76 272.41,259.49 274.61,259.53" fill="#7018e8"/>
<polygon points="280.70,257.42 281.35,259.53 283.55,259.49 281.75,260.76 282.46,262.84 280.70,261.52 278.94,262.84 279.65,260.76 277.85,259.49 280.05,259.53" fill="#7018e8"/>
<polygon points="286.14,257.42 286.79,259.53 288.99,259.49 287.19,260.76 287.90,262.84 286.14,261.52 284.38,262.84 285.09,260.76 283.29,259.49 285.49,259.53" fill="#7018e8"/>
<polygon points="291.58,257.41 292.23,259.52 294.43,259.48 292.63,260.75 293.34,262.84 291.58,261.51 289.82,262.84 290.53,260.75 288.73,259.48 290.93,259.52" fill="#7018e8"/>
<polygon points="297.02,257.39 297.67,259.50 299.87,259.46 298.07,260.73 298.78,262.81 297.02,261.49 295.26,262.81 295.97,260.73 294.17,259.46 296.37,259.50" fill="#7018e8"/>
<polygon points="302.46,257.04 303.11,259.15 305.31,259.11 303.51,260.38 304.22,262.47 302.46,261.14 300.70,262.47 301.41,260.38 299.61,259.11 301.81,259.15" fill="#7018e8"/>
<polygon points="307.90,256.18 308.55,258.29 310.75,258.25 308.95,259.52 309.66,261.61 307.90,260.28 306.14,261.61 306.85,259.52 305.05,258.25 307.25,258.29" fill="#7018e8"/>
<polygon points="313.34,254.44 313.99,256.55 316.19,256.52 314.39,257.78 315.10,259.87 313.34,258.54 311.58,259.87 312.29,257.78 310.49,256.52 312.69,256.55" fill="#7018e8"/>
<polygon points="318.78,251.86 319.43,253.97 321.63,253.93 319.83,255.20 320.54,257.28 318.78,255.96 317.02,257.28 317.73,255.20 315.93,253.93 318.13,253.97" fill="#7018e8"/>
<polygon points="324.22,247.42 324.87,249.53 327.07,249.50 325.27,250.76 325.98,252.85 324.22,251.52 322.46,252.85 323.17,250.76 321.37,249.50 323.57,249.53" fill="#7018e8"/>
<polygon points="329.66,241.08 330.31,243.19 332.51,243.16 330.71,244.42 331.42,246.51 329.66,245.18 327.90,246.51 328.61,244.42 326.81,243.16 329.01,243.19" fill="#7018e8"/>
<polygon points="335.10,234.44 335.75,236.55 337.95,236.51 336.15,237.78 336.86,239.87 335.10,238.54 333.34,239.87 334.05,237.78 332.25,236.51 334.45,236.55" fill="#7018e8"/>
<polygon points="340.54,226.14 341.19,228.25 343.39,228.22 341.59,229.48 342.30,231.57 340.54,230.24 338.78,231.57 339.49,229.48 337.69,228.22 339.89,228.25" fill="#7018e8"/>
<polygon points="345.98,217.87 346.63,219.98 348.83,219.95 347.03,221.21 347.74,223.30 345.98,221.97 344.22,223.30 344.93,221.21 343.13,219.95 345.33,219.98" fill="#7018e8"/>
<polygon points="351.42,210.90 352.07,213.01 354.27,212.97 352.47,214.24 353.18,216.33 351.42,215.00 349.66,216.33 350.37,214.24 348.57,212.97 350.77,213.01" fill="#7018e8"/>
<polygon points="356.86,206.37 357.51,208.48 359.71,208.45 357.91,209.71 358.62,211.80 356.86,210.47 355.10,211.80 355.81,209.71 354.01,208.45 356.21,208.48" fill="#7018e8"/>
<polygon points="362.30,205.29 362.95,207.40 365.15,207.36 363.35,208.63 364.06,210.71 362.30,209.39 360.54,210.71 361.25,208.63 359.45,207.36 361.65,207.40" fill="#7018e8"/>
<polygon points="367.74,205.92 368.39,208.03 370.59,207.99 368.79,209.26 369.50,211.35 367.74,210.02 365.98,211.35 366.69,209.26 364.89,207.99 367.09,208.03" fill="#7018e8"/>
<polygon points="373.18,208.01 373.83,210.12 376.03,210.08 374.23,211.35 374.94,213.43 373.18,212.11 371.42,213.43 372.13,211.35 370.33,210.08 372.53,210.12" fill="#7018e8"/>
<polygon points="378.62,210.51 379.27,212.62 381.47,212.58 379.67,213.85 380.38,215.94 378.62,214.61 376.86,215.94 377.57,213.85 375.77,212.58 377.97,212.62" fill="#7018e8"/>
<polygon points="384.06,214.67 384.71,216.78 386.91,216.74 385.11,218.01 385.82,220.09 384.06,218.77 382.30,220.09 383.01,218.01 381.21,216.74 383.41,216.78" fill="#7018e8"/>
<polygon points="389.50,219.07 390.15,221.18 392.35,221.14 390.55,222.41 391.26,224.49 389.50,223.17 387.74,224.49 388.45,222.41 386.65,221.14 388.85,221.18" fill="#7018e8"/>
<polygon points="394.94,223.57 395.59,225.68 397.79,225.64 395.99,226.91 396.70,229.00 394.94,227.67 393.18,229.00 393.89,226.91 392.09,225.64 394.29,225.68" fill="#7018e8"/>
<polygon points="400.38,227.31 401.03,229.42 403.23,229.38 401.43,230.65 402.14,232.74 400.38,231.41 398.62,232.74 399.33,230.65 397.53,229.38 399.73,229.42" fill="#7018e8"/>
<polygon points="405.82,229.86 406.47,231.97 408.67,231.94 406.87,233.20 407.58,235.29 405.82,233.96 404.06,235.29 404.77,233.20 402.97,231.94 405.17,231.97" fill="#7018e8"/>
<polygon points="411.26,232.00 411.91,234.11 414.11,234.07 412.31,235.34 413.02,237.42 411.26,236.10 409.50,237.42 410.21,235.34 408.41,234.07 410.61,234.11" fill="#7018e8"/>
<polygon points="416.70,233.78 417.35,235.89 419.55,235.85 417.75,237.12 418.46,239.20 416.70,237.88 414.94,239.20 415.65,237.12 413.85,235.85 416.05,235.89" fill="#7018e8"/>
<polygon points="422.14,235.08 422.79,237.20 424.99,237.16 423.19,238.42 423.90,240.51 422.14,239.18 420.38,240.51 421.09,238.42 419.29,237.16 421.49,237.20" fill="#7018e8"/>
<polygon points="427.58,236.19 428.23,238.30 430.43,238.26 428.63,239.53 429.34,241.62 427.58,240.29 425.82,241.62 426.53,239.53 424.73,238.26 426.93,238.30" fill="#7018e8"/>
<polygon points="433.02,237.26 433.67,239.37 435.87,239.33 434.07,240.60 434.78,242.69 433.02,241.36 431.26,242.69 431.97,240.60 430.17,239.33 432.37,239.37" fill="#7018e8"/>
<polygon points="438.46,238.19 439.11,240.30 441.31,240.26 439.51,241.52 440.22,243.61 438.46,242.29 436.70,243.61 437.41,241.52 435.61,240.26 437.81,240.30" fill="#7018e8"/>
<polygon points="443.90,238.92 444.55,241.03 446.75,240.99 444.95,242.26 445.66,244.35 443.90,243.02 442.14,244.35 442.85,242.26 441.05,240.99 443.25,241.03" fill="#7018e8"/>
<polygon points="449.34,239.56 449.99,241.67 452.19,241.63 450.39,242.90 451.10,244.99 449.34,243.66 447.58,244.99 448.29,242.90 446.49,241.63 448.69,241.67" fill="#7018e8"/>
<polygon points="454.78,240.27 455.43,242.38 457.63,242.34 455.83,243.61 456.54,245.70 454.78,244.37 453.02,245.70 453.73,243.61 451.93,242.34 454.13,242.38" fill="#7018e8"/>
<polygon points="460.22,241.02 460.87,243.13 463.07,243.09 461.27,244.35 461.98,246.44 460.22,245.12 458.46,246.44 459.17,244.35 457.37,243.09 459.57,243.13" fill="#7018e8"/>
<polygon points="465.66,241.77 466.31,243.88 468.51,243.84 466.71,245.11 467.42,247.20 465.66,245.87 463.90,247.20 464.61,245.11 462.81,243.84 465.01,243.88" fill="#7018e8"/>
<path d="M251.00,260.17 L251.54,259.99 L252.08,259.82 L252.62,259.67 L253.17,259.55 L253.71,259.44 L254.25,259.36 L254.79,259.29 L255.33,259.23 L255.87,259.17 L256.41,259.11 L256.95,259.04 L257.50,258.95 L258.04,258.86 L258.58,258.74 L259.12,258.61 L259.66,258.44 L260.20,258.25 L260.74,258.04 L261.29,257.81 L261.83,257.57 L262.37,257.31 L262.91,257.05 L263.45,256.78 L263.99,256.50 L264.53,256.22 L265.08,255.94 L265.62,255.66 L266.16,255.39 L266.70,255.12 L267.24,254.84 L267.78,254.55 L268.32,254.24 L268.86,253.91 L269.41,253.55 L269.95,253.16 L270.49,252.72 L271.03,252.24 L271.57,251.72 L272.11,251.18 L272.65,250.60 L273.20,250.00 L273.74,249.37 L274.28,248.74 L274.82,248.09 L275.36,247.44 L275.90,246.79 L276.44,246.13 L276.98,245.47 L277.53,244.80 L278.07,244.11 L278.61,243.42 L279.15,242.70 L279.69,241.97 L280.23,241.22 L280.77,240.44 L281.32,239.63 L281.86,238.78 L282.40,237.89 L282.94,236.96 L283.48,236.01 L284.02,235.04 L284.56,234.06 L285.11,233.08 L285.65,232.10 L286.19,231.15 L286.73,230.21 L287.27,229.29 L287.81,228.38 L288.35,227.46 L288.89,226.55 L289.44,225.64 L289.98,224.74 L290.52,223.83 L291.06,222.94 L291.60,222.04 L292.14,221.14 L292.68,220.25 L293.23,219.34 L293.77,218.43 L294.31,217.53 L294.85,216.63 L295.39,215.74 L295.93,214.87 L296.47,214.01 L297.02,213.18 L297.56,212.37 L298.10,211.59 L298.64,210.81 L299.18,210.04 L299.72,209.30 L300.26,208.57 L300.80,207.87 L301.35,207.20 L301.89,206.55 L302.43,205.94 L302.97,205.36 L303.51,204.81 L304.05,204.28 L304.59,203.77 L305.14,203.29 L305.68,202.83 L306.22,202.39 L306.76,201.99 L307.30,201.61 L307.84,201.26 L308.38,200.94 L308.92,200.66 L309.47,200.43 L310.01,200.23 L310.55,200.06 L311.09,199.92 L311.63,199.81 L312.17,199.72 L312.71,199.65 L313.26,199.59 L313.80,199.54 L314.34,199.50 L314.88,199.47 L315.42,199.46 L315.96,199.47 L316.50,199.50 L317.05,199.56 L317.59,199.64 L318.13,199.76 L318.67,199.91 L319.21,200.08 L319.75,200.29 L320.29,200.53 L320.83,200.78 L321.38,201.07 L321.92,201.38 L322.46,201.71 L323.00,202.06 L323.54,202.43 L324.08,202.83 L324.62,203.26 L325.17,203.72 L325.71,204.22 L326.25,204.77 L326.79,205.33 L327.33,205.93 L327.87,206.53 L328.41,207.14 L328.95,207.75 L329.50,208.34 L330.04,208.91 L330.58,209.47 L331.12,210.03 L331.66,210.58 L332.20,211.14 L332.74,211.69 L333.29,212.25 L333.83,212.82 L334.37,213.39 L334.91,213.98 L335.45,214.58 L335.99,215.21 L336.53,215.86 L337.08,216.53 L337.62,217.20 L338.16,217.87 L338.70,218.52 L339.24,219.15 L339.78,219.75 L340.32,220.32 L340.86,220.84 L341.41,221.35 L341.95,221.85 L342.49,222.31 L343.03,222.76 L343.57,223.18 L344.11,223.57 L344.65,223.95 L345.20,224.31 L345.74,224.65 L346.28,224.96 L346.82,225.25 L347.36,225.53 L347.90,225.79 L348.44,226.05 L348.98,226.30 L349.53,226.55 L350.07,226.80 L350.61,227.05 L351.15,227.30 L351.69,227.57 L352.23,227.84 L352.77,228.13 L353.32,228.43 L353.86,228.73 L354.40,229.03 L354.94,229.32 L355.48,229.61 L356.02,229.88 L356.56,230.14 L357.11,230.39 L357.65,230.64 L358.19,230.89 L358.73,231.14 L359.27,231.38 L359.81,231.63 L360.35,231.88 L360.89,232.12 L361.44,232.36 L361.98,232.60 L362.52,232.84 L363.06,233.07 L363.60,233.30 L364.14,233.53 L364.68,233.76 L365.23,233.98 L365.77,234.20 L366.31,234.41 L366.85,234.62 L367.39,234.82 L367.93,235.02 L368.47,235.21 L369.02,235.40 L369.56,235.58 L370.10,235.75 L370.64,235.93 L371.18,236.09 L371.72,236.26 L372.26,236.42 L372.80,236.58 L373.35,236.73 L373.89,236.88 L374.43,237.03 L374.97,237.18 L375.51,237.33 L376.05,237.47 L376.59,237.61 L377.14,237.75 L377.68,237.89 L378.22,238.03 L378.76,238.16 L379.30,238.30 L379.84,238.43 L380.38,238.56 L380.92,238.69 L381.47,238.82 L382.01,238.95 L382.55,239.07 L383.09,239.19 L383.63,239.31 L384.17,239.43 L384.71,239.54 L385.26,239.66 L385.80,239.77 L386.34,239.89 L386.88,240.00 L387.42,240.11 L387.96,240.22 L388.50,240.32 L389.05,240.43 L389.59,240.54 L390.13,240.64 L390.67,240.74 L391.21,240.85 L391.75,240.95 L392.29,241.05 L392.83,241.15 L393.38,241.24 L393.92,241.34 L394.46,241.43 L395.00,241.52 L395.54,241.61 L396.08,241.70 L396.62,241.79 L397.17,241.88 L397.71,241.97 L398.25,242.06 L398.79,242.14 L399.33,242.23 L399.87,242.32 L400.41,242.40 L400.95,242.49 L401.50,242.57 L402.04,242.66 L402.58,242.75 L403.12,242.84 L403.66,242.93 L404.20,243.01 L404.74,243.10 L405.29,243.19 L405.83,243.29 L406.37,243.38 L406.91,243.47 L407.45,243.56 L407.99,243.65 L408.53,243.74 L409.08,243.83 L409.62,243.92 L410.16,244.01 L410.70,244.09 L411.24,244.18 L411.78,244.26 L412.32,244.34 L412.86,244.43 L413.41,244.50 L413.95,244.58 L414.49,244.66 L415.03,244.73 L415.57,244.80 L416.11,244.87 L416.65,244.94 L417.20,245.01 L417.74,245.08 L418.28,245.15 L418.82,245.21 L419.36,245.28 L419.90,245.34 L420.44,245.40 L420.98,245.47 L421.53,245.52 L422.07,245.58 L422.61,245.64 L423.15,245.69 L423.69,245.75 L424.23,245.80 L424.77,245.85 L425.32,245.90 L425.86,245.95 L426.40,246.00 L426.94,246.05 L427.48,246.10 L428.02,246.14 L428.56,246.19 L429.11,246.23 L429.65,246.28 L430.19,246.32 L430.73,246.36 L431.27,246.40 L431.81,246.44 L432.35,246.48 L432.89,246.52 L433.44,246.56 L433.98,246.60 L434.52,246.64 L435.06,246.68 L435.60,246.72 L436.14,246.75 L436.68,246.79 L437.23,246.83 L437.77,246.86 L438.31,246.90 L438.85,246.94 L439.39,246.97 L439.93,247.01 L440.47,247.05 L441.02,247.08 L441.56,247.12 L442.10,247.16 L442.64,247.19 L443.18,247.23 L443.72,247.27 L444.26,247.30 L444.80,247.34 L445.35,247.38 L445.89,247.41 L446.43,247.45 L446.97,247.49 L447.51,247.53 L448.05,247.57 L448.59,247.60 L449.14,247.64 L449.68,247.68 L450.22,247.72 L450.76,247.75 L451.30,247.79 L451.84,247.83 L452.38,247.87 L452.92,247.90 L453.47,247.94 L454.01,247.98 L454.55,248.02 L455.09,248.05 L455.63,248.09 L456.17,248.13 L456.71,248.17 L457.26,248.20 L457.80,248.24 L458.34,248.28 L458.88,248.32 L459.42,248.35 L459.96,248.39 L460.50,248.43 L461.05,248.46 L461.59,248.50 L462.13,248.54 L462.67,248.58 L463.21,248.61 L463.75,248.65 L464.29,248.69 L464.83,248.73 L465.38,248.76 L465.92,248.80 L466.46,248.84 L467.00,248.87" fill="none" stroke="#f28a1e" stroke-width="1.4"/>
<circle cx="253.50" cy="259.48" r="2.60" fill="#f28a1e"/>
<circle cx="258.94" cy="258.66" r="2.60" fill="#f28a1e"/>
<circle cx="264.38" cy="256.30" r="2.60" fill="#f28a1e"/>
<circle cx="269.82" cy="253.25" r="2.60" fill="#f28a1e"/>
<circle cx="275.26" cy="247.56" r="2.60" fill="#f28a1e"/>
<circle cx="280.70" cy="240.55" r="2.60" fill="#f28a1e"/>
<circle cx="286.14" cy="231.23" r="2.60" fill="#f28a1e"/>
<circle cx="291.58" cy="222.07" r="2.60" fill="#f28a1e"/>
<circle cx="297.02" cy="213.17" r="2.60" fill="#f28a1e"/>
<circle cx="302.46" cy="205.91" r="2.60" fill="#f28a1e"/>
<circle cx="307.90" cy="201.22" r="2.60" fill="#f28a1e"/>
<circle cx="313.34" cy="199.58" r="2.60" fill="#f28a1e"/>
<circle cx="318.78" cy="199.94" r="2.60" fill="#f28a1e"/>
<circle cx="324.22" cy="202.94" r="2.60" fill="#f28a1e"/>
<circle cx="329.66" cy="208.51" r="2.60" fill="#f28a1e"/>
<circle cx="335.10" cy="214.19" r="2.60" fill="#f28a1e"/>
<circle cx="340.54" cy="220.53" r="2.60" fill="#f28a1e"/>
<circle cx="345.98" cy="224.79" r="2.60" fill="#f28a1e"/>
<circle cx="351.42" cy="227.43" r="2.60" fill="#f28a1e"/>
<circle cx="356.86" cy="230.28" r="2.60" fill="#f28a1e"/>
<circle cx="362.30" cy="232.74" r="2.60" fill="#f28a1e"/>
<circle cx="367.74" cy="234.95" r="2.60" fill="#f28a1e"/>
<circle cx="373.18" cy="236.69" r="2.60" fill="#f28a1e"/>
<circle cx="378.62" cy="238.13" r="2.60" fill="#f28a1e"/>
<circle cx="384.06" cy="239.40" r="2.60" fill="#f28a1e"/>
<circle cx="389.50" cy="240.52" r="2.60" fill="#f28a1e"/>
<circle cx="394.94" cy="241.51" r="2.60" fill="#f28a1e"/>
<circle cx="400.38" cy="242.40" r="2.60" fill="#f28a1e"/>
<circle cx="405.82" cy="243.28" r="2.60" fill="#f28a1e"/>
<circle cx="411.26" cy="244.18" r="2.60" fill="#f28a1e"/>
<circle cx="416.70" cy="244.95" r="2.60" fill="#f28a1e"/>
<circle cx="422.14" cy="245.59" r="2.60" fill="#f28a1e"/>
<circle cx="427.58" cy="246.11" r="2.60" fill="#f28a1e"/>
<circle cx="433.02" cy="246.53" r="2.60" fill="#f28a1e"/>
<circle cx="438.46" cy="246.91" r="2.60" fill="#f28a1e"/>
<circle cx="443.90" cy="247.28" r="2.60" fill="#f28a1e"/>
<circle cx="449.34" cy="247.66" r="2.60" fill="#f28a1e"/>
<circle cx="454.78" cy="248.03" r="2.60" fill="#f28a1e"/>
<circle cx="460.22" cy="248.41" r="2.60" fill="#f28a1e"/>
<circle cx="465.66" cy="248.78" r="2.60" fill="#f28a1e"/>
<path d="M251.00,337.20 L251.54,337.20 L252.08,337.20 L252.62,337.20 L253.17,337.20 L253.71,337.20 L254.25,337.20 L254.79,337.20 L255.33,337.20 L255.87,337.20 L256.41,337.20 L256.95,337.20 L257.50,337.20 L258.04,337.20 L258.58,337.20 L259.12,337.21 L259.66,337.21 L260.20,337.21 L260.74,337.21 L261.29,337.21 L261.83,337.21 L262.37,337.21 L262.91,337.21 L263.45,337.21 L263.99,337.21 L264.53,337.21 L265.08,337.21 L265.62,337.21 L266.16,337.21 L266.70,337.21 L267.24,337.21 L267.78,337.21 L268.32,337.21 L268.86,337.21 L269.41,337.21 L269.95,337.21 L270.49,337.21 L271.03,337.21 L271.57,337.21 L272.11,337.21 L272.65,337.21 L273.20,337.22 L273.74,337.22 L274.28,337.22 L274.82,337.22 L275.36,337.22 L275.90,337.22 L276.44,337.22 L276.98,337.22 L277.53,337.22 L278.07,337.22 L278.61,337.22 L279.15,337.22 L279.69,337.22 L280.23,337.22 L280.77,337.22 L281.32,337.22 L281.86,337.22 L282.40,337.22 L282.94,337.22 L283.48,337.22 L284.02,337.22 L284.56,337.22 L285.11,337.22 L285.65,337.22 L286.19,337.22 L286.73,337.22 L287.27,337.22 L287.81,337.21 L288.35,337.21 L288.89,337.21 L289.44,337.21 L289.98,337.21 L290.52,337.21 L291.06,337.21 L291.60,337.21 L292.14,337.21 L292.68,337.21 L293.23,337.21 L293.77,337.20 L294.31,337.20 L294.85,337.20 L295.39,337.20 L295.93,337.19 L296.47,337.19 L297.02,337.19 L297.56,337.18 L298.10,337.18 L298.64,337.17 L299.18,337.16 L299.72,337.14 L300.26,336.95 L300.80,336.92 L301.35,336.89 L301.89,336.86 L302.43,336.83 L302.97,336.80 L303.51,336.76 L304.05,336.71 L304.59,336.65 L305.14,336.57 L305.68,336.47 L306.22,336.36 L306.76,336.24 L307.30,336.11 L307.84,335.96 L308.38,335.81 L308.92,335.65 L309.47,335.48 L310.01,335.30 L310.55,335.12 L311.09,334.94 L311.63,334.75 L312.17,334.56 L312.71,334.38 L313.26,334.19 L313.80,333.99 L314.34,333.79 L314.88,333.58 L315.42,333.35 L315.96,333.10 L316.50,332.83 L317.05,332.54 L317.59,332.23 L318.13,331.91 L318.67,331.57 L319.21,331.21 L319.75,330.84 L320.29,330.45 L320.83,330.04 L321.38,329.61 L321.92,329.16 L322.46,328.69 L323.00,328.19 L323.54,327.65 L324.08,327.09 L324.62,326.49 L325.17,325.86 L325.71,325.22 L326.25,324.56 L326.79,323.89 L327.33,323.22 L327.87,322.56 L328.41,321.90 L328.95,321.25 L329.50,320.61 L330.04,319.97 L330.58,319.34 L331.12,318.70 L331.66,318.06 L332.20,317.41 L332.74,316.74 L333.29,316.05 L333.83,315.35 L334.37,314.62 L334.91,313.86 L335.45,313.07 L335.99,312.25 L336.53,311.42 L337.08,310.57 L337.62,309.71 L338.16,308.85 L338.70,307.98 L339.24,307.11 L339.78,306.24 L340.32,305.39 L340.86,304.53 L341.41,303.65 L341.95,302.77 L342.49,301.88 L343.03,301.00 L343.57,300.13 L344.11,299.28 L344.65,298.46 L345.20,297.66 L345.74,296.88 L346.28,296.11 L346.82,295.35 L347.36,294.60 L347.90,293.85 L348.44,293.12 L348.98,292.40 L349.53,291.69 L350.07,291.00 L350.61,290.32 L351.15,289.68 L351.69,289.06 L352.23,288.46 L352.77,287.88 L353.32,287.32 L353.86,286.79 L354.40,286.30 L354.94,285.85 L355.48,285.47 L356.02,285.13 L356.56,284.84 L357.11,284.60 L357.65,284.39 L358.19,284.22 L358.73,284.07 L359.27,283.95 L359.81,283.85 L360.35,283.77 L360.89,283.70 L361.44,283.64 L361.98,283.61 L362.52,283.58 L363.06,283.57 L363.60,283.57 L364.14,283.58 L364.68,283.61 L365.23,283.66 L365.77,283.73 L366.31,283.84 L366.85,283.97 L367.39,284.13 L367.93,284.30 L368.47,284.50 L369.02,284.71 L369.56,284.93 L370.10,285.14 L370.64,285.36 L371.18,285.58 L371.72,285.79 L372.26,286.01 L372.80,286.23 L373.35,286.45 L373.89,286.68 L374.43,286.91 L374.97,287.15 L375.51,287.40 L376.05,287.65 L376.59,287.90 L377.14,288.17 L377.68,288.45 L378.22,288.74 L378.76,289.04 L379.30,289.36 L379.84,289.71 L380.38,290.09 L380.92,290.50 L381.47,290.94 L382.01,291.40 L382.55,291.88 L383.09,292.37 L383.63,292.85 L384.17,293.34 L384.71,293.80 L385.26,294.25 L385.80,294.70 L386.34,295.15 L386.88,295.59 L387.42,296.04 L387.96,296.49 L388.50,296.94 L389.05,297.39 L389.59,297.84 L390.13,298.29 L390.67,298.74 L391.21,299.18 L391.75,299.64 L392.29,300.10 L392.83,300.57 L393.38,301.05 L393.92,301.52 L394.46,301.99 L395.00,302.45 L395.54,302.89 L396.08,303.32 L396.62,303.73 L397.17,304.12 L397.71,304.50 L398.25,304.88 L398.79,305.25 L399.33,305.60 L399.87,305.94 L400.41,306.26 L400.95,306.57 L401.50,306.86 L402.04,307.14 L402.58,307.41 L403.12,307.66 L403.66,307.91 L404.20,308.16 L404.74,308.40 L405.29,308.64 L405.83,308.87 L406.37,309.10 L406.91,309.33 L407.45,309.56 L407.99,309.78 L408.53,310.00 L409.08,310.22 L409.62,310.43 L410.16,310.64 L410.70,310.85 L411.24,311.06 L411.78,311.26 L412.32,311.46 L412.86,311.65 L413.41,311.84 L413.95,312.03 L414.49,312.21 L415.03,312.39 L415.57,312.56 L416.11,312.72 L416.65,312.88 L417.20,313.04 L417.74,313.19 L418.28,313.33 L418.82,313.47 L419.36,313.60 L419.90,313.73 L420.44,313.86 L420.98,313.99 L421.53,314.11 L422.07,314.23 L422.61,314.34 L423.15,314.46 L423.69,314.57 L424.23,314.69 L424.77,314.80 L425.32,314.91 L425.86,315.02 L426.40,315.13 L426.94,315.25 L427.48,315.36 L428.02,315.47 L428.56,315.59 L429.11,315.70 L429.65,315.81 L430.19,315.92 L430.73,316.03 L431.27,316.14 L431.81,316.25 L432.35,316.35 L432.89,316.46 L433.44,316.56 L433.98,316.66 L434.52,316.76 L435.06,316.86 L435.60,316.95 L436.14,317.05 L436.68,317.14 L437.23,317.23 L437.77,317.32 L438.31,317.41 L438.85,317.49 L439.39,317.58 L439.93,317.66 L440.47,317.74 L441.02,317.82 L441.56,317.89 L442.10,317.97 L442.64,318.04 L443.18,318.11 L443.72,318.18 L444.26,318.25 L444.80,318.31 L445.35,318.38 L445.89,318.45 L446.43,318.51 L446.97,318.58 L447.51,318.64 L448.05,318.71 L448.59,318.77 L449.14,318.84 L449.68,318.90 L450.22,318.97 L450.76,319.04 L451.30,319.10 L451.84,319.17 L452.38,319.24 L452.92,319.31 L453.47,319.37 L454.01,319.44 L454.55,319.51 L455.09,319.57 L455.63,319.64 L456.17,319.71 L456.71,319.77 L457.26,319.84 L457.80,319.91 L458.34,319.97 L458.88,320.04 L459.42,320.11 L459.96,320.17 L460.50,320.24 L461.05,320.30 L461.59,320.37 L462.13,320.44 L462.67,320.50 L463.21,320.57 L463.75,320.63 L464.29,320.70 L464.83,320.77 L465.38,320.83 L465.92,320.90 L466.46,320.96 L467.00,321.03" fill="none" stroke="#f28a1e" stroke-width="1.4"/>
<circle cx="253.50" cy="337.20" r="2.20" fill="#fff" stroke="#f28a1e" stroke-width="0.9"/>
<circle cx="258.94" cy="337.20" r="2.20" fill="#fff" stroke="#f28a1e" stroke-width="0.9"/>
<circle cx="264.38" cy="337.21" r="2.20" fill="#fff" stroke="#f28a1e" stroke-width="0.9"/>
<circle cx="269.82" cy="337.21" r="2.20" fill="#fff" stroke="#f28a1e" stroke-width="0.9"/>
<circle cx="275.26" cy="337.22" r="2.20" fill="#fff" stroke="#f28a1e" stroke-width="0.9"/>
<circle cx="280.70" cy="337.22" r="2.20" fill="#fff" stroke="#f28a1e" stroke-width="0.9"/>
<circle cx="286.14" cy="337.22" r="2.20" fill="#fff" stroke="#f28a1e" stroke-width="0.9"/>
<circle cx="291.58" cy="337.21" r="2.20" fill="#fff" stroke="#f28a1e" stroke-width="0.9"/>
<circle cx="297.02" cy="337.19" r="2.20" fill="#fff" stroke="#f28a1e" stroke-width="0.9"/>
<circle cx="302.46" cy="336.83" r="2.20" fill="#fff" stroke="#f28a1e" stroke-width="0.9"/>
<circle cx="307.90" cy="335.95" r="2.20" fill="#fff" stroke="#f28a1e" stroke-width="0.9"/>
<circle cx="313.34" cy="334.16" r="2.20" fill="#fff" stroke="#f28a1e" stroke-width="0.9"/>
<circle cx="318.78" cy="331.50" r="2.20" fill="#fff" stroke="#f28a1e" stroke-width="0.9"/>
<circle cx="324.22" cy="326.94" r="2.20" fill="#fff" stroke="#f28a1e" stroke-width="0.9"/>
<circle cx="329.66" cy="320.41" r="2.20" fill="#fff" stroke="#f28a1e" stroke-width="0.9"/>
<circle cx="335.10" cy="313.58" r="2.20" fill="#fff" stroke="#f28a1e" stroke-width="0.9"/>
<circle cx="340.54" cy="305.04" r="2.20" fill="#fff" stroke="#f28a1e" stroke-width="0.9"/>
<circle cx="345.98" cy="296.53" r="2.20" fill="#fff" stroke="#f28a1e" stroke-width="0.9"/>
<circle cx="351.42" cy="289.36" r="2.20" fill="#fff" stroke="#f28a1e" stroke-width="0.9"/>
<circle cx="356.86" cy="284.71" r="2.20" fill="#fff" stroke="#f28a1e" stroke-width="0.9"/>
<circle cx="362.30" cy="283.59" r="2.20" fill="#fff" stroke="#f28a1e" stroke-width="0.9"/>
<circle cx="367.74" cy="284.24" r="2.20" fill="#fff" stroke="#f28a1e" stroke-width="0.9"/>
<circle cx="373.18" cy="286.38" r="2.20" fill="#fff" stroke="#f28a1e" stroke-width="0.9"/>
<circle cx="378.62" cy="288.96" r="2.20" fill="#fff" stroke="#f28a1e" stroke-width="0.9"/>
<circle cx="384.06" cy="293.24" r="2.20" fill="#fff" stroke="#f28a1e" stroke-width="0.9"/>
<circle cx="389.50" cy="297.76" r="2.20" fill="#fff" stroke="#f28a1e" stroke-width="0.9"/>
<circle cx="394.94" cy="302.40" r="2.20" fill="#fff" stroke="#f28a1e" stroke-width="0.9"/>
<circle cx="400.38" cy="306.24" r="2.20" fill="#fff" stroke="#f28a1e" stroke-width="0.9"/>
<circle cx="405.82" cy="308.87" r="2.20" fill="#fff" stroke="#f28a1e" stroke-width="0.9"/>
<circle cx="411.26" cy="311.06" r="2.20" fill="#fff" stroke="#f28a1e" stroke-width="0.9"/>
<circle cx="416.70" cy="312.90" r="2.20" fill="#fff" stroke="#f28a1e" stroke-width="0.9"/>
<circle cx="422.14" cy="314.24" r="2.20" fill="#fff" stroke="#f28a1e" stroke-width="0.9"/>
<circle cx="427.58" cy="315.38" r="2.20" fill="#fff" stroke="#f28a1e" stroke-width="0.9"/>
<circle cx="433.02" cy="316.48" r="2.20" fill="#fff" stroke="#f28a1e" stroke-width="0.9"/>
<circle cx="438.46" cy="317.43" r="2.20" fill="#fff" stroke="#f28a1e" stroke-width="0.9"/>
<circle cx="443.90" cy="318.20" r="2.20" fill="#fff" stroke="#f28a1e" stroke-width="0.9"/>
<circle cx="449.34" cy="318.86" r="2.20" fill="#fff" stroke="#f28a1e" stroke-width="0.9"/>
<circle cx="454.78" cy="319.54" r="2.20" fill="#fff" stroke="#f28a1e" stroke-width="0.9"/>
<circle cx="460.22" cy="320.20" r="2.20" fill="#fff" stroke="#f28a1e" stroke-width="0.9"/>
<circle cx="465.66" cy="320.87" r="2.20" fill="#fff" stroke="#f28a1e" stroke-width="0.9"/>
<path d="M251.00,336.97 L251.54,336.79 L252.08,336.61 L252.62,336.46 L253.17,336.33 L253.71,336.23 L254.25,336.14 L254.79,336.08 L255.33,336.01 L255.87,335.95 L256.41,335.89 L256.95,335.81 L257.50,335.73 L258.04,335.63 L258.58,335.52 L259.12,335.37 L259.66,335.20 L260.20,335.01 L260.74,334.80 L261.29,334.57 L261.83,334.32 L262.37,334.06 L262.91,333.79 L263.45,333.51 L263.99,333.23 L264.53,332.94 L265.08,332.66 L265.62,332.38 L266.16,332.10 L266.70,331.83 L267.24,331.54 L267.78,331.25 L268.32,330.94 L268.86,330.60 L269.41,330.23 L269.95,329.83 L270.49,329.38 L271.03,328.90 L271.57,328.37 L272.11,327.81 L272.65,327.23 L273.20,326.61 L273.74,325.98 L274.28,325.34 L274.82,324.68 L275.36,324.02 L275.90,323.35 L276.44,322.68 L276.98,322.01 L277.53,321.33 L278.07,320.63 L278.61,319.92 L279.15,319.20 L279.69,318.45 L280.23,317.68 L280.77,316.89 L281.32,316.07 L281.86,315.20 L282.40,314.30 L282.94,313.36 L283.48,312.39 L284.02,311.40 L284.56,310.40 L285.11,309.40 L285.65,308.41 L286.19,307.44 L286.73,306.49 L287.27,305.55 L287.81,304.62 L288.35,303.69 L288.89,302.76 L289.44,301.84 L289.98,300.92 L290.52,300.00 L291.06,299.09 L291.60,298.17 L292.14,297.26 L292.68,296.35 L293.23,295.43 L293.77,294.51 L294.31,293.59 L294.85,292.67 L295.39,291.77 L295.93,290.88 L296.47,290.01 L297.02,289.16 L297.56,288.34 L298.10,287.54 L298.64,286.75 L299.18,285.97 L299.72,285.21 L300.26,284.48 L300.80,283.76 L301.35,283.08 L301.89,282.42 L302.43,281.80 L302.97,281.21 L303.51,280.65 L304.05,280.11 L304.59,279.59 L305.14,279.10 L305.68,278.63 L306.22,278.19 L306.76,277.77 L307.30,277.39 L307.84,277.03 L308.38,276.71 L308.92,276.43 L309.47,276.19 L310.01,275.98 L310.55,275.81 L311.09,275.67 L311.63,275.56 L312.17,275.47 L312.71,275.39 L313.26,275.33 L313.80,275.28 L314.34,275.24 L314.88,275.22 L315.42,275.21 L315.96,275.22 L316.50,275.25 L317.05,275.31 L317.59,275.39 L318.13,275.51 L318.67,275.66 L319.21,275.84 L319.75,276.05 L320.29,276.29 L320.83,276.55 L321.38,276.84 L321.92,277.15 L322.46,277.49 L323.00,277.85 L323.54,278.23 L324.08,278.63 L324.62,279.06 L325.17,279.54 L325.71,280.05 L326.25,280.60 L326.79,281.18 L327.33,281.78 L327.87,282.40 L328.41,283.02 L328.95,283.63 L329.50,284.24 L330.04,284.82 L330.58,285.39 L331.12,285.95 L331.66,286.52 L332.20,287.08 L332.74,287.65 L333.29,288.22 L333.83,288.79 L334.37,289.38 L334.91,289.98 L335.45,290.59 L335.99,291.23 L336.53,291.89 L337.08,292.57 L337.62,293.25 L338.16,293.93 L338.70,294.60 L339.24,295.24 L339.78,295.85 L340.32,296.42 L340.86,296.96 L341.41,297.48 L341.95,297.98 L342.49,298.45 L343.03,298.90 L343.57,299.33 L344.11,299.73 L344.65,300.12 L345.20,300.48 L345.74,300.83 L346.28,301.15 L346.82,301.44 L347.36,301.72 L347.90,301.99 L348.44,302.25 L348.98,302.51 L349.53,302.76 L350.07,303.01 L350.61,303.27 L351.15,303.53 L351.69,303.80 L352.23,304.08 L352.77,304.37 L353.32,304.67 L353.86,304.98 L354.40,305.29 L354.94,305.58 L355.48,305.87 L356.02,306.15 L356.56,306.41 L357.11,306.67 L357.65,306.92 L358.19,307.18 L358.73,307.43 L359.27,307.68 L359.81,307.93 L360.35,308.18 L360.89,308.43 L361.44,308.67 L361.98,308.92 L362.52,309.16 L363.06,309.40 L363.60,309.63 L364.14,309.87 L364.68,310.09 L365.23,310.32 L365.77,310.54 L366.31,310.76 L366.85,310.97 L367.39,311.18 L367.93,311.38 L368.47,311.57 L369.02,311.76 L369.56,311.95 L370.10,312.13 L370.64,312.30 L371.18,312.47 L371.72,312.64 L372.26,312.80 L372.80,312.97 L373.35,313.12 L373.89,313.28 L374.43,313.43 L374.97,313.58 L375.51,313.73 L376.05,313.87 L376.59,314.01 L377.14,314.16 L377.68,314.30 L378.22,314.44 L378.76,314.58 L379.30,314.71 L379.84,314.85 L380.38,314.98 L380.92,315.12 L381.47,315.24 L382.01,315.37 L382.55,315.50 L383.09,315.62 L383.63,315.74 L384.17,315.86 L384.71,315.98 L385.26,316.10 L385.80,316.22 L386.34,316.33 L386.88,316.44 L387.42,316.55 L387.96,316.67 L388.50,316.77 L389.05,316.88 L389.59,316.99 L390.13,317.10 L390.67,317.20 L391.21,317.31 L391.75,317.41 L392.29,317.51 L392.83,317.61 L393.38,317.71 L393.92,317.81 L394.46,317.90 L395.00,317.99 L395.54,318.09 L396.08,318.18 L396.62,318.27 L397.17,318.36 L397.71,318.45 L398.25,318.54 L398.79,318.63 L399.33,318.71 L399.87,318.80 L400.41,318.89 L400.95,318.98 L401.50,319.07 L402.04,319.15 L402.58,319.24 L403.12,319.33 L403.66,319.42 L404.20,319.51 L404.74,319.60 L405.29,319.70 L405.83,319.79 L406.37,319.88 L406.91,319.97 L407.45,320.07 L407.99,320.16 L408.53,320.25 L409.08,320.34 L409.62,320.43 L410.16,320.52 L410.70,320.61 L411.24,320.70 L411.78,320.78 L412.32,320.87 L412.86,320.95 L413.41,321.03 L413.95,321.11 L414.49,321.18 L415.03,321.26 L415.57,321.33 L416.11,321.40 L416.65,321.47 L417.20,321.55 L417.74,321.62 L418.28,321.68 L418.82,321.75 L419.36,321.82 L419.90,321.88 L420.44,321.94 L420.98,322.01 L421.53,322.07 L422.07,322.13 L422.61,322.18 L423.15,322.24 L423.69,322.29 L424.23,322.35 L424.77,322.40 L425.32,322.45 L425.86,322.50 L426.40,322.55 L426.94,322.60 L427.48,322.65 L428.02,322.70 L428.56,322.75 L429.11,322.79 L429.65,322.84 L430.19,322.89 L430.73,322.94 L431.27,322.98 L431.81,323.03 L432.35,323.07 L432.89,323.12 L433.44,323.17 L433.98,323.21 L434.52,323.26 L435.06,323.30 L435.60,323.34 L436.14,323.39 L436.68,323.43 L437.23,323.47 L437.77,323.51 L438.31,323.55 L438.85,323.59 L439.39,323.63 L439.93,323.67 L440.47,323.70 L441.02,323.74 L441.56,323.78 L442.10,323.81 L442.64,323.84 L443.18,323.88 L443.72,323.91 L444.26,323.94 L444.80,323.96 L445.35,323.99 L445.89,324.02 L446.43,324.04 L446.97,324.07 L447.51,324.09 L448.05,324.10 L448.59,324.12 L449.14,324.14 L449.68,324.15 L450.22,324.17 L450.76,324.18 L451.30,324.19 L451.84,324.20 L452.38,324.21 L452.92,324.21 L453.47,324.22 L454.01,324.23 L454.55,324.23 L455.09,324.24 L455.63,324.24 L456.17,324.24 L456.71,324.25 L457.26,324.25 L457.80,324.25 L458.34,324.25 L458.88,324.26 L459.42,324.26 L459.96,324.26 L460.50,324.26 L461.05,324.26 L461.59,324.26 L462.13,324.26 L462.67,324.26 L463.21,324.26 L463.75,324.26 L464.29,324.26 L464.83,324.26 L465.38,324.26 L465.92,324.26 L466.46,324.26 L467.00,324.26" fill="none" stroke="#7018e8" stroke-width="1.4"/>
<polygon points="253.50,333.76 254.12,335.41 255.88,335.49 254.50,336.59 254.97,338.28 253.50,337.31 252.03,338.28 252.50,336.59 251.12,335.49 252.88,335.41" fill="#e4d8ff" stroke="#7018e8" stroke-width="0.7"/>
<polygon points="258.94,332.93 259.56,334.58 261.32,334.65 259.94,335.75 260.41,337.45 258.94,336.48 257.47,337.45 257.94,335.75 256.56,334.65 258.32,334.58" fill="#e4d8ff" stroke="#7018e8" stroke-width="0.7"/>
<polygon points="264.38,330.53 265.00,332.18 266.76,332.25 265.38,333.35 265.85,335.05 264.38,334.08 262.91,335.05 263.38,333.35 262.00,332.25 263.76,332.18" fill="#e4d8ff" stroke="#7018e8" stroke-width="0.7"/>
<polygon points="269.82,327.43 270.44,329.08 272.20,329.15 270.82,330.25 271.29,331.95 269.82,330.98 268.35,331.95 268.82,330.25 267.44,329.15 269.20,329.08" fill="#e4d8ff" stroke="#7018e8" stroke-width="0.7"/>
<polygon points="275.26,321.64 275.88,323.29 277.64,323.37 276.26,324.46 276.73,326.16 275.26,325.19 273.79,326.16 274.26,324.46 272.88,323.37 274.64,323.29" fill="#e4d8ff" stroke="#7018e8" stroke-width="0.7"/>
<polygon points="280.70,314.50 281.32,316.15 283.08,316.23 281.70,317.33 282.17,319.02 280.70,318.05 279.23,319.02 279.70,317.33 278.32,316.23 280.08,316.15" fill="#e4d8ff" stroke="#7018e8" stroke-width="0.7"/>
<polygon points="286.14,305.02 286.76,306.68 288.52,306.75 287.14,307.85 287.61,309.55 286.14,308.57 284.67,309.55 285.14,307.85 283.76,306.75 285.52,306.68" fill="#e4d8ff" stroke="#7018e8" stroke-width="0.7"/>
<polygon points="291.58,295.71 292.20,297.36 293.96,297.44 292.58,298.53 293.05,300.23 291.58,299.26 290.11,300.23 290.58,298.53 289.20,297.44 290.96,297.36" fill="#e4d8ff" stroke="#7018e8" stroke-width="0.7"/>
<polygon points="297.02,286.65 297.64,288.30 299.40,288.38 298.02,289.48 298.49,291.17 297.02,290.20 295.55,291.17 296.02,289.48 294.64,288.38 296.40,288.30" fill="#e4d8ff" stroke="#7018e8" stroke-width="0.7"/>
<polygon points="302.46,279.26 303.08,280.91 304.84,280.99 303.46,282.09 303.93,283.79 302.46,282.81 300.99,283.79 301.46,282.09 300.08,280.99 301.84,280.91" fill="#e4d8ff" stroke="#7018e8" stroke-width="0.7"/>
<polygon points="307.90,274.49 308.52,276.15 310.28,276.22 308.90,277.32 309.37,279.02 307.90,278.04 306.43,279.02 306.90,277.32 305.52,276.22 307.28,276.15" fill="#e4d8ff" stroke="#7018e8" stroke-width="0.7"/>
<polygon points="313.34,272.83 313.96,274.48 315.72,274.55 314.34,275.65 314.81,277.35 313.34,276.38 311.87,277.35 312.34,275.65 310.96,274.55 312.72,274.48" fill="#e4d8ff" stroke="#7018e8" stroke-width="0.7"/>
<polygon points="318.78,273.19 319.40,274.84 321.16,274.92 319.78,276.02 320.25,277.71 318.78,276.74 317.31,277.71 317.78,276.02 316.40,274.92 318.16,274.84" fill="#e4d8ff" stroke="#7018e8" stroke-width="0.7"/>
<polygon points="324.22,276.24 324.84,277.89 326.60,277.97 325.22,279.07 325.69,280.76 324.22,279.79 322.75,280.76 323.22,279.07 321.84,277.97 323.60,277.89" fill="#e4d8ff" stroke="#7018e8" stroke-width="0.7"/>
<polygon points="329.66,281.91 330.28,283.56 332.04,283.64 330.66,284.74 331.13,286.44 329.66,285.46 328.19,286.44 328.66,284.74 327.28,283.64 329.04,283.56" fill="#e4d8ff" stroke="#7018e8" stroke-width="0.7"/>
<polygon points="335.10,287.69 335.72,289.34 337.48,289.42 336.10,290.51 336.57,292.21 335.10,291.24 333.63,292.21 334.10,290.51 332.72,289.42 334.48,289.34" fill="#e4d8ff" stroke="#7018e8" stroke-width="0.7"/>
<polygon points="340.54,294.14 341.16,295.79 342.92,295.86 341.54,296.96 342.01,298.66 340.54,297.69 339.07,298.66 339.54,296.96 338.16,295.86 339.92,295.79" fill="#e4d8ff" stroke="#7018e8" stroke-width="0.7"/>
<polygon points="345.98,298.47 346.60,300.12 348.36,300.20 346.98,301.30 347.45,303.00 345.98,302.02 344.51,303.00 344.98,301.30 343.60,300.20 345.36,300.12" fill="#e4d8ff" stroke="#7018e8" stroke-width="0.7"/>
<polygon points="351.42,301.16 352.04,302.81 353.80,302.89 352.42,303.98 352.89,305.68 351.42,304.71 349.95,305.68 350.42,303.98 349.04,302.89 350.80,302.81" fill="#e4d8ff" stroke="#7018e8" stroke-width="0.7"/>
<polygon points="356.86,304.05 357.48,305.70 359.24,305.78 357.86,306.88 358.33,308.58 356.86,307.60 355.39,308.58 355.86,306.88 354.48,305.78 356.24,305.70" fill="#e4d8ff" stroke="#7018e8" stroke-width="0.7"/>
<polygon points="362.30,306.56 362.92,308.21 364.68,308.29 363.30,309.39 363.77,311.08 362.30,310.11 360.83,311.08 361.30,309.39 359.92,308.29 361.68,308.21" fill="#e4d8ff" stroke="#7018e8" stroke-width="0.7"/>
<polygon points="367.74,308.81 368.36,310.46 370.12,310.54 368.74,311.63 369.21,313.33 367.74,312.36 366.27,313.33 366.74,311.63 365.36,310.54 367.12,310.46" fill="#e4d8ff" stroke="#7018e8" stroke-width="0.7"/>
<polygon points="373.18,310.57 373.80,312.23 375.56,312.30 374.18,313.40 374.65,315.10 373.18,314.12 371.71,315.10 372.18,313.40 370.80,312.30 372.56,312.23" fill="#e4d8ff" stroke="#7018e8" stroke-width="0.7"/>
<polygon points="378.62,312.04 379.24,313.69 381.00,313.77 379.62,314.86 380.09,316.56 378.62,315.59 377.15,316.56 377.62,314.86 376.24,313.77 378.00,313.69" fill="#e4d8ff" stroke="#7018e8" stroke-width="0.7"/>
<polygon points="384.06,313.34 384.68,314.99 386.44,315.07 385.06,316.16 385.53,317.86 384.06,316.89 382.59,317.86 383.06,316.16 381.68,315.07 383.44,314.99" fill="#e4d8ff" stroke="#7018e8" stroke-width="0.7"/>
<polygon points="389.50,314.47 390.12,316.12 391.88,316.20 390.50,317.30 390.97,319.00 389.50,318.02 388.03,319.00 388.50,317.30 387.12,316.20 388.88,316.12" fill="#e4d8ff" stroke="#7018e8" stroke-width="0.7"/>
<polygon points="394.94,315.48 395.56,317.13 397.32,317.21 395.94,318.31 396.41,320.01 394.94,319.03 393.47,320.01 393.94,318.31 392.56,317.21 394.32,317.13" fill="#e4d8ff" stroke="#7018e8" stroke-width="0.7"/>
<polygon points="400.38,316.38 401.00,318.03 402.76,318.11 401.38,319.21 401.85,320.91 400.38,319.93 398.91,320.91 399.38,319.21 398.00,318.11 399.76,318.03" fill="#e4d8ff" stroke="#7018e8" stroke-width="0.7"/>
<polygon points="405.82,317.29 406.44,318.94 408.20,319.01 406.82,320.11 407.29,321.81 405.82,320.84 404.35,321.81 404.82,320.11 403.44,319.01 405.20,318.94" fill="#e4d8ff" stroke="#7018e8" stroke-width="0.7"/>
<polygon points="411.26,318.20 411.88,319.85 413.64,319.93 412.26,321.02 412.73,322.72 411.26,321.75 409.79,322.72 410.26,321.02 408.88,319.93 410.64,319.85" fill="#e4d8ff" stroke="#7018e8" stroke-width="0.7"/>
<polygon points="416.70,318.98 417.32,320.63 419.08,320.71 417.70,321.81 418.17,323.50 416.70,322.53 415.23,323.50 415.70,321.81 414.32,320.71 416.08,320.63" fill="#e4d8ff" stroke="#7018e8" stroke-width="0.7"/>
<polygon points="422.14,319.63 422.76,321.28 424.52,321.36 423.14,322.46 423.61,324.16 422.14,323.18 420.67,324.16 421.14,322.46 419.76,321.36 421.52,321.28" fill="#e4d8ff" stroke="#7018e8" stroke-width="0.7"/>
<polygon points="427.58,320.16 428.20,321.81 429.96,321.89 428.58,322.98 429.05,324.68 427.58,323.71 426.11,324.68 426.58,322.98 425.20,321.89 426.96,321.81" fill="#e4d8ff" stroke="#7018e8" stroke-width="0.7"/>
<polygon points="433.02,320.63 433.64,322.28 435.40,322.36 434.02,323.46 434.49,325.15 433.02,324.18 431.55,325.15 432.02,323.46 430.64,322.36 432.40,322.28" fill="#e4d8ff" stroke="#7018e8" stroke-width="0.7"/>
<polygon points="438.46,321.06 439.08,322.71 440.84,322.79 439.46,323.89 439.93,325.58 438.46,324.61 436.99,325.58 437.46,323.89 436.08,322.79 437.84,322.71" fill="#e4d8ff" stroke="#7018e8" stroke-width="0.7"/>
<polygon points="443.90,321.42 444.52,323.07 446.28,323.14 444.90,324.24 445.37,325.94 443.90,324.97 442.43,325.94 442.90,324.24 441.52,323.14 443.28,323.07" fill="#e4d8ff" stroke="#7018e8" stroke-width="0.7"/>
<polygon points="449.34,321.64 449.96,323.29 451.72,323.37 450.34,324.47 450.81,326.17 449.34,325.19 447.87,326.17 448.34,324.47 446.96,323.37 448.72,323.29" fill="#e4d8ff" stroke="#7018e8" stroke-width="0.7"/>
<polygon points="454.78,321.73 455.40,323.38 457.16,323.46 455.78,324.56 456.25,326.26 454.78,325.28 453.31,326.26 453.78,324.56 452.40,323.46 454.16,323.38" fill="#e4d8ff" stroke="#7018e8" stroke-width="0.7"/>
<polygon points="460.22,321.76 460.84,323.41 462.60,323.49 461.22,324.58 461.69,326.28 460.22,325.31 458.75,326.28 459.22,324.58 457.84,323.49 459.60,323.41" fill="#e4d8ff" stroke="#7018e8" stroke-width="0.7"/>
<polygon points="465.66,321.76 466.28,323.41 468.04,323.49 466.66,324.58 467.13,326.28 465.66,325.31 464.19,326.28 464.66,324.58 463.28,323.49 465.04,323.41" fill="#e4d8ff" stroke="#7018e8" stroke-width="0.7"/>
<line x1="427.6" y1="192.9" x2="454" y2="192.9" stroke="#f28a1e" stroke-width="1.3"/>
<circle cx="440.80" cy="192.90" r="2.03" fill="#f28a1e"/>
<text x="455.6" y="194.5" class="ssi" style="font-size:4.6px">&#963;<tspan style="font-size:3.2px" dy="1.2">+</tspan><tspan style="font-size:3.4px" dx="0.3" dy="-4.2">&#8593;&#8593;</tspan></text>
<line x1="427.6" y1="207.1" x2="454" y2="207.1" stroke="#7018e8" stroke-width="1.3"/>
<polygon points="440.80,204.76 441.30,206.41 443.03,206.38 441.62,207.37 442.18,208.99 440.80,207.96 439.42,208.99 439.98,207.37 438.57,206.38 440.30,206.41" fill="#7018e8"/>
<text x="455.6" y="208.7" class="ssi" style="font-size:4.6px">&#963;<tspan style="font-size:3.2px" dy="1.2">&#8722;</tspan><tspan style="font-size:3.4px" dx="0.3" dy="-4.2">&#8593;&#8593;</tspan></text>
<line x1="427.6" y1="269.6" x2="454" y2="269.6" stroke="#f28a1e" stroke-width="1.3"/>
<circle cx="440.80" cy="269.60" r="1.63" fill="#fff" stroke="#f28a1e" stroke-width="0.9"/>
<text x="455.6" y="271.2" class="ssi" style="font-size:4.6px">&#963;<tspan style="font-size:3.2px" dy="1.2">+</tspan><tspan style="font-size:3.4px" dx="0.3" dy="-4.2">&#8595;&#8595;</tspan></text>
<line x1="427.6" y1="284.2" x2="454" y2="284.2" stroke="#7018e8" stroke-width="1.3"/>
<polygon points="440.80,282.25 441.28,283.54 442.65,283.60 441.58,284.45 441.95,285.78 440.80,285.02 439.65,285.78 440.02,284.45 438.95,283.60 440.32,283.54" fill="#e4d8ff" stroke="#7018e8" stroke-width="0.7"/>
<text x="455.6" y="285.8" class="ssi" style="font-size:4.6px">&#963;<tspan style="font-size:3.2px" dy="1.2">&#8722;</tspan><tspan style="font-size:3.4px" dx="0.3" dy="-4.2">&#8595;&#8595;</tspan></text>
<line x1="251.1" y1="260.40" x2="253.70" y2="260.40" stroke="#222" stroke-width="0.9"/>
<line x1="251.1" y1="255.79" x2="252.60" y2="255.79" stroke="#222" stroke-width="0.9"/>
<line x1="251.1" y1="251.18" x2="252.60" y2="251.18" stroke="#222" stroke-width="0.9"/>
<line x1="251.1" y1="246.57" x2="253.70" y2="246.57" stroke="#222" stroke-width="0.9"/>
<line x1="251.1" y1="241.96" x2="252.60" y2="241.96" stroke="#222" stroke-width="0.9"/>
<line x1="251.1" y1="237.35" x2="252.60" y2="237.35" stroke="#222" stroke-width="0.9"/>
<line x1="251.1" y1="232.74" x2="253.70" y2="232.74" stroke="#222" stroke-width="0.9"/>
<line x1="251.1" y1="228.13" x2="252.60" y2="228.13" stroke="#222" stroke-width="0.9"/>
<line x1="251.1" y1="223.52" x2="252.60" y2="223.52" stroke="#222" stroke-width="0.9"/>
<line x1="251.1" y1="218.91" x2="253.70" y2="218.91" stroke="#222" stroke-width="0.9"/>
<line x1="251.1" y1="214.30" x2="252.60" y2="214.30" stroke="#222" stroke-width="0.9"/>
<line x1="251.1" y1="209.69" x2="252.60" y2="209.69" stroke="#222" stroke-width="0.9"/>
<line x1="251.1" y1="205.08" x2="253.70" y2="205.08" stroke="#222" stroke-width="0.9"/>
<line x1="251.1" y1="200.47" x2="252.60" y2="200.47" stroke="#222" stroke-width="0.9"/>
<line x1="251.1" y1="195.86" x2="252.60" y2="195.86" stroke="#222" stroke-width="0.9"/>
<line x1="251.1" y1="191.25" x2="253.70" y2="191.25" stroke="#222" stroke-width="0.9"/>
<text x="249.3" y="263.60" class="ss" text-anchor="end">0</text>
<text x="249.3" y="249.77" class="ss" text-anchor="end">3</text>
<text x="249.3" y="235.94" class="ss" text-anchor="end">6</text>
<text x="249.3" y="222.11" class="ss" text-anchor="end">9</text>
<text x="249.3" y="208.28" class="ss" text-anchor="end">12</text>
<text x="249.3" y="194.45" class="ss" text-anchor="end">15</text>
<line x1="251.1" y1="337.20" x2="253.70" y2="337.20" stroke="#222" stroke-width="0.9"/>
<line x1="251.1" y1="332.58" x2="252.60" y2="332.58" stroke="#222" stroke-width="0.9"/>
<line x1="251.1" y1="327.96" x2="252.60" y2="327.96" stroke="#222" stroke-width="0.9"/>
<line x1="251.1" y1="323.34" x2="253.70" y2="323.34" stroke="#222" stroke-width="0.9"/>
<line x1="251.1" y1="318.72" x2="252.60" y2="318.72" stroke="#222" stroke-width="0.9"/>
<line x1="251.1" y1="314.10" x2="252.60" y2="314.10" stroke="#222" stroke-width="0.9"/>
<line x1="251.1" y1="309.48" x2="253.70" y2="309.48" stroke="#222" stroke-width="0.9"/>
<line x1="251.1" y1="304.86" x2="252.60" y2="304.86" stroke="#222" stroke-width="0.9"/>
<line x1="251.1" y1="300.24" x2="252.60" y2="300.24" stroke="#222" stroke-width="0.9"/>
<line x1="251.1" y1="295.62" x2="253.70" y2="295.62" stroke="#222" stroke-width="0.9"/>
<line x1="251.1" y1="291.00" x2="252.60" y2="291.00" stroke="#222" stroke-width="0.9"/>
<line x1="251.1" y1="286.38" x2="252.60" y2="286.38" stroke="#222" stroke-width="0.9"/>
<line x1="251.1" y1="281.76" x2="253.70" y2="281.76" stroke="#222" stroke-width="0.9"/>
<line x1="251.1" y1="277.14" x2="252.60" y2="277.14" stroke="#222" stroke-width="0.9"/>
<line x1="251.1" y1="272.52" x2="252.60" y2="272.52" stroke="#222" stroke-width="0.9"/>
<line x1="251.1" y1="267.90" x2="253.70" y2="267.90" stroke="#222" stroke-width="0.9"/>
<text x="249.3" y="340.40" class="ss" text-anchor="end">0</text>
<text x="249.3" y="326.54" class="ss" text-anchor="end">3</text>
<text x="249.3" y="312.68" class="ss" text-anchor="end">6</text>
<text x="249.3" y="298.82" class="ss" text-anchor="end">9</text>
<text x="249.3" y="284.96" class="ss" text-anchor="end">12</text>
<text x="249.3" y="271.10" class="ss" text-anchor="end">15</text>
<line x1="250.60" y1="337.6" x2="250.60" y2="334.10" stroke="#222" stroke-width="0.9"/>
<line x1="250.60" y1="262" x2="250.60" y2="258.50" stroke="#222" stroke-width="0.9"/>
<line x1="261.42" y1="337.6" x2="261.42" y2="335.60" stroke="#222" stroke-width="0.9"/>
<line x1="261.42" y1="262" x2="261.42" y2="260.00" stroke="#222" stroke-width="0.9"/>
<line x1="272.23" y1="337.6" x2="272.23" y2="335.60" stroke="#222" stroke-width="0.9"/>
<line x1="272.23" y1="262" x2="272.23" y2="260.00" stroke="#222" stroke-width="0.9"/>
<line x1="283.05" y1="337.6" x2="283.05" y2="335.60" stroke="#222" stroke-width="0.9"/>
<line x1="283.05" y1="262" x2="283.05" y2="260.00" stroke="#222" stroke-width="0.9"/>
<line x1="293.86" y1="337.6" x2="293.86" y2="335.60" stroke="#222" stroke-width="0.9"/>
<line x1="293.86" y1="262" x2="293.86" y2="260.00" stroke="#222" stroke-width="0.9"/>
<line x1="304.68" y1="337.6" x2="304.68" y2="334.10" stroke="#222" stroke-width="0.9"/>
<line x1="304.68" y1="262" x2="304.68" y2="258.50" stroke="#222" stroke-width="0.9"/>
<line x1="315.50" y1="337.6" x2="315.50" y2="335.60" stroke="#222" stroke-width="0.9"/>
<line x1="315.50" y1="262" x2="315.50" y2="260.00" stroke="#222" stroke-width="0.9"/>
<line x1="326.31" y1="337.6" x2="326.31" y2="335.60" stroke="#222" stroke-width="0.9"/>
<line x1="326.31" y1="262" x2="326.31" y2="260.00" stroke="#222" stroke-width="0.9"/>
<line x1="337.13" y1="337.6" x2="337.13" y2="335.60" stroke="#222" stroke-width="0.9"/>
<line x1="337.13" y1="262" x2="337.13" y2="260.00" stroke="#222" stroke-width="0.9"/>
<line x1="347.94" y1="337.6" x2="347.94" y2="335.60" stroke="#222" stroke-width="0.9"/>
<line x1="347.94" y1="262" x2="347.94" y2="260.00" stroke="#222" stroke-width="0.9"/>
<line x1="358.76" y1="337.6" x2="358.76" y2="334.10" stroke="#222" stroke-width="0.9"/>
<line x1="358.76" y1="262" x2="358.76" y2="258.50" stroke="#222" stroke-width="0.9"/>
<line x1="369.58" y1="337.6" x2="369.58" y2="335.60" stroke="#222" stroke-width="0.9"/>
<line x1="369.58" y1="262" x2="369.58" y2="260.00" stroke="#222" stroke-width="0.9"/>
<line x1="380.39" y1="337.6" x2="380.39" y2="335.60" stroke="#222" stroke-width="0.9"/>
<line x1="380.39" y1="262" x2="380.39" y2="260.00" stroke="#222" stroke-width="0.9"/>
<line x1="391.21" y1="337.6" x2="391.21" y2="335.60" stroke="#222" stroke-width="0.9"/>
<line x1="391.21" y1="262" x2="391.21" y2="260.00" stroke="#222" stroke-width="0.9"/>
<line x1="402.02" y1="337.6" x2="402.02" y2="335.60" stroke="#222" stroke-width="0.9"/>
<line x1="402.02" y1="262" x2="402.02" y2="260.00" stroke="#222" stroke-width="0.9"/>
<line x1="412.84" y1="337.6" x2="412.84" y2="334.10" stroke="#222" stroke-width="0.9"/>
<line x1="412.84" y1="262" x2="412.84" y2="258.50" stroke="#222" stroke-width="0.9"/>
<line x1="423.66" y1="337.6" x2="423.66" y2="335.60" stroke="#222" stroke-width="0.9"/>
<line x1="423.66" y1="262" x2="423.66" y2="260.00" stroke="#222" stroke-width="0.9"/>
<line x1="434.47" y1="337.6" x2="434.47" y2="335.60" stroke="#222" stroke-width="0.9"/>
<line x1="434.47" y1="262" x2="434.47" y2="260.00" stroke="#222" stroke-width="0.9"/>
<line x1="445.29" y1="337.6" x2="445.29" y2="335.60" stroke="#222" stroke-width="0.9"/>
<line x1="445.29" y1="262" x2="445.29" y2="260.00" stroke="#222" stroke-width="0.9"/>
<line x1="456.10" y1="337.6" x2="456.10" y2="335.60" stroke="#222" stroke-width="0.9"/>
<line x1="456.10" y1="262" x2="456.10" y2="260.00" stroke="#222" stroke-width="0.9"/>
<line x1="466.92" y1="337.6" x2="466.92" y2="334.10" stroke="#222" stroke-width="0.9"/>
<line x1="466.92" y1="262" x2="466.92" y2="258.50" stroke="#222" stroke-width="0.9"/>
<text x="250.60" y="347.3" class="ss" text-anchor="middle">0.6</text>
<text x="304.68" y="347.3" class="ss" text-anchor="middle">0.7</text>
<text x="358.76" y="347.3" class="ss" text-anchor="middle">0.8</text>
<text x="412.84" y="347.3" class="ss" text-anchor="middle">0.9</text>
<text x="466.92" y="347.3" class="ss" text-anchor="middle">1.0</text>
<text x="358.5" y="357.2" class="ss" text-anchor="middle">Energy (eV)</text>
<text x="256" y="253.8" class="ss" style="font-weight:bold;font-size:10px">a</text>
<text x="256" y="329.8" class="ss" style="font-weight:bold;font-size:10px">b</text>
<text transform="translate(235.2,330.5) rotate(-90)" class="ss" style="font-size:8.3px">Imaginary parts of dielectric functions</text>
</svg></body></html>
